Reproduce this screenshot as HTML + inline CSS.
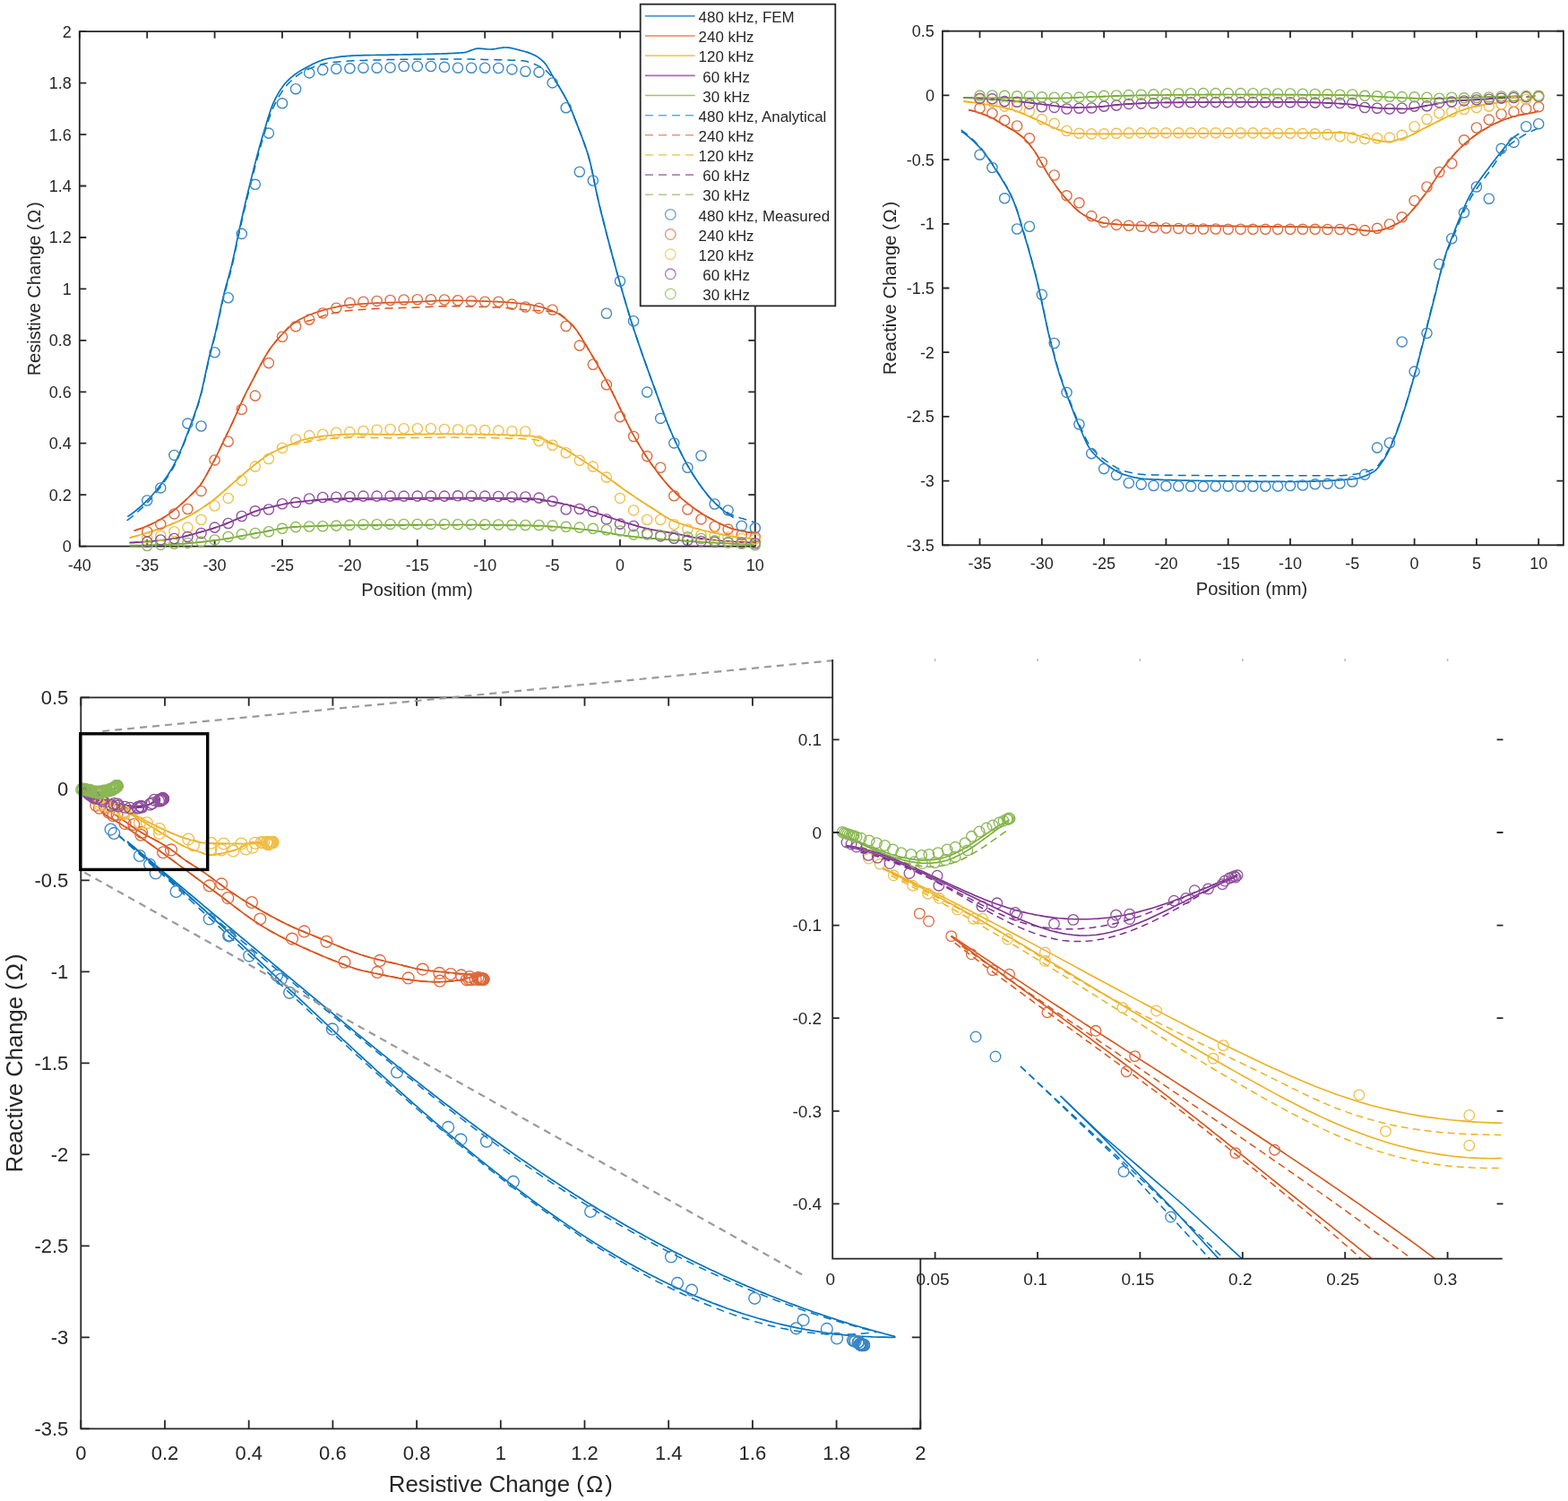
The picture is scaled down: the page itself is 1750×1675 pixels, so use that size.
<!DOCTYPE html>
<html><head><meta charset="utf-8"><title>Figure</title>
<style>html,body{margin:0;padding:0;background:#fff;}svg{display:block;}</style></head>
<body><svg width="1750" height="1675" viewBox="0 0 1750 1675" font-family="'Liberation Sans', sans-serif">
<rect width="1750" height="1675" fill="#fff"/>
<path d="M714.7 35.2L88.8 35.2L88.8 609.6L842.8 609.6L842.8 341.4" fill="none" stroke="#262626" stroke-width="1.8"/>
<path d="M88.8 609.6L88.8 602.1M88.8 35.2L88.8 42.7M164.2 609.6L164.2 602.1M164.2 35.2L164.2 42.7M239.6 609.6L239.6 602.1M239.6 35.2L239.6 42.7M315.0 609.6L315.0 602.1M315.0 35.2L315.0 42.7M390.4 609.6L390.4 602.1M390.4 35.2L390.4 42.7M465.8 609.6L465.8 602.1M465.8 35.2L465.8 42.7M541.2 609.6L541.2 602.1M541.2 35.2L541.2 42.7M616.6 609.6L616.6 602.1M616.6 35.2L616.6 42.7M692.0 609.6L692.0 602.1M692.0 35.2L692.0 42.7M767.4 609.6L767.4 602.1M767.4 35.2L767.4 42.7M842.8 609.6L842.8 602.1M842.8 35.2L842.8 42.7M88.8 609.6L96.3 609.6M842.8 609.6L835.3 609.6M88.8 552.2L96.3 552.2M842.8 552.2L835.3 552.2M88.8 494.7L96.3 494.7M842.8 494.7L835.3 494.7M88.8 437.3L96.3 437.3M842.8 437.3L835.3 437.3M88.8 379.8L96.3 379.8M842.8 379.8L835.3 379.8M88.8 322.4L96.3 322.4M842.8 322.4L835.3 322.4M88.8 265.0L96.3 265.0M842.8 265.0L835.3 265.0M88.8 207.5L96.3 207.5M842.8 207.5L835.3 207.5M88.8 150.1L96.3 150.1M842.8 150.1L835.3 150.1M88.8 92.6L96.3 92.6M842.8 92.6L835.3 92.6M88.8 35.2L96.3 35.2M842.8 35.2L835.3 35.2" stroke="#262626" stroke-width="1.80" fill="none"/>
<path d="M142.3 576.6L143.8 575.6L145.4 574.5L146.9 573.5L148.4 572.3L149.9 571.2L151.4 570.0L152.9 568.7L154.4 567.5L155.9 566.2L157.4 564.8L158.9 563.5L160.4 562.1L161.9 560.6L163.4 559.2L165.0 557.7L166.5 556.2L168.0 554.6L169.5 553.0L171.0 551.3L172.5 549.5L174.0 547.8L175.5 545.9L177.0 544.1L178.5 542.1L180.0 540.2L181.5 538.2L183.1 536.1L184.6 534.0L186.1 531.9L187.6 529.7L189.1 527.3L190.6 524.9L192.1 522.4L193.6 519.7L195.1 516.9L196.6 513.9L198.1 510.7L199.6 507.3L201.1 503.9L202.7 500.3L204.2 496.6L205.7 492.8L207.2 488.9L208.7 485.0L210.2 481.1L211.7 477.1L213.2 473.1L214.7 469.1L216.2 464.9L217.7 460.6L219.2 456.2L220.8 451.5L222.3 446.6L223.8 441.3L225.3 435.4L226.8 428.9L228.3 422.0L229.8 414.9L231.3 407.9L232.8 401.2L234.3 395.1L235.8 389.2L237.3 383.4L238.8 377.6L240.4 371.4L241.9 364.8L243.4 357.9L244.9 350.9L246.4 343.8L247.9 336.9L249.4 330.4L250.9 324.3L252.4 318.7L253.9 313.4L255.4 308.0L256.9 302.4L258.5 296.3L260.0 289.8L261.5 282.9L263.0 275.9L264.5 268.7L266.0 261.6L267.5 254.5L269.0 247.6L270.5 241.0L272.0 234.5L273.5 228.0L275.0 221.5L276.5 215.2L278.1 208.9L279.6 202.7L281.1 196.6L282.6 190.6L284.1 184.8L285.6 179.0L287.1 173.3L288.6 167.7L290.1 162.2L291.6 156.9L293.1 151.7L294.6 146.7L296.2 141.7L297.7 136.6L299.2 131.6L300.7 126.9L302.2 122.4L303.7 118.3L305.2 114.6L306.7 111.5L308.2 108.6L309.7 105.8L311.2 103.2L312.7 100.7L314.2 98.4L315.8 96.3L317.3 94.3L318.8 92.5L320.3 90.8L321.8 89.3L323.3 87.9L324.8 86.6L326.3 85.3L327.8 84.1L329.3 83.0L330.8 81.9L332.3 80.9L333.9 79.9L335.4 79.0L336.9 78.1L338.4 77.3L339.9 76.4L341.4 75.6L342.9 74.8L344.4 74.0L345.9 73.2L347.4 72.4L348.9 71.6L350.4 70.9L351.9 70.2L353.5 69.5L355.0 68.9L356.5 68.2L358.0 67.7L359.5 67.1L361.0 66.6L362.5 66.2L364.0 65.8L365.5 65.5L367.0 65.2L368.5 65.0L370.0 64.7L371.6 64.5L373.1 64.3L374.6 64.0L376.1 63.8L377.6 63.6L379.1 63.4L380.6 63.2L382.1 63.1L383.6 62.9L385.1 62.8L386.6 62.6L388.1 62.5L389.6 62.4L391.2 62.3L392.7 62.2L394.2 62.1L395.7 62.0L397.2 61.9L398.7 61.9L400.2 61.8L401.7 61.8L403.2 61.8L404.7 61.7L406.2 61.7L407.7 61.6L409.3 61.6L410.8 61.6L412.3 61.6L413.8 61.5L415.3 61.5L416.8 61.5L418.3 61.5L419.8 61.4L421.3 61.4L422.8 61.4L424.3 61.4L425.8 61.4L427.3 61.3L428.9 61.3L430.4 61.3L431.9 61.3L433.4 61.3L434.9 61.2L436.4 61.2L437.9 61.2L439.4 61.2L440.9 61.1L442.4 61.1L443.9 61.1L445.4 61.0L447.0 61.0L448.5 61.0L450.0 60.9L451.5 60.9L453.0 60.9L454.5 60.8L456.0 60.8L457.5 60.8L459.0 60.8L460.5 60.7L462.0 60.7L463.5 60.7L465.0 60.6L466.6 60.6L468.1 60.6L469.6 60.6L471.1 60.5L472.6 60.5L474.1 60.5L475.6 60.4L477.1 60.4L478.6 60.4L480.1 60.3L481.6 60.3L483.1 60.3L484.7 60.2L486.2 60.2L487.7 60.1L489.2 60.1L490.7 60.0L492.2 60.0L493.7 59.9L495.2 59.9L496.7 59.8L498.2 59.8L499.7 59.7L501.2 59.6L502.7 59.6L504.3 59.5L505.8 59.4L507.3 59.3L508.8 59.3L510.3 59.2L511.8 59.1L513.3 59.0L514.8 58.9L516.3 58.8L517.8 58.7L519.3 58.4L520.8 58.0L522.4 57.5L523.9 56.9L525.4 56.3L526.9 55.7L528.4 55.2L529.9 54.7L531.4 54.4L532.9 54.2L534.4 54.2L535.9 54.2L537.4 54.3L538.9 54.4L540.4 54.6L542.0 54.7L543.5 54.9L545.0 55.0L546.5 55.0L548.0 55.0L549.5 54.9L551.0 54.8L552.5 54.5L554.0 54.3L555.5 54.0L557.0 53.7L558.5 53.5L560.1 53.3L561.6 53.1L563.1 53.0L564.6 53.0L566.1 53.1L567.6 53.2L569.1 53.4L570.6 53.7L572.1 54.0L573.6 54.3L575.1 54.7L576.6 55.1L578.1 55.5L579.7 55.9L581.2 56.3L582.7 56.6L584.2 57.0L585.7 57.5L587.2 57.9L588.7 58.4L590.2 58.9L591.7 59.4L593.2 60.1L594.7 60.7L596.2 61.4L597.8 62.2L599.3 63.1L600.8 64.1L602.3 65.2L603.8 66.4L605.3 67.8L606.8 69.2L608.3 70.8L609.8 72.8L611.3 75.1L612.8 77.7L614.3 80.4L615.8 83.2L617.4 85.9L618.9 88.4L620.4 90.9L621.9 93.4L623.4 95.8L624.9 98.2L626.4 100.7L627.9 103.3L629.4 105.9L630.9 108.6L632.4 111.5L633.9 114.5L635.5 117.7L637.0 121.1L638.5 124.6L640.0 128.4L641.5 132.2L643.0 136.1L644.5 140.1L646.0 144.0L647.5 147.9L649.0 151.8L650.5 155.8L652.0 159.9L653.5 164.2L655.1 168.7L656.6 173.6L658.1 179.0L659.6 185.2L661.1 192.0L662.6 199.3L664.1 206.7L665.6 214.0L667.1 220.9L668.6 227.3L670.1 233.6L671.6 239.7L673.2 245.8L674.7 251.8L676.2 257.7L677.7 263.5L679.2 269.3L680.7 275.0L682.2 280.6L683.7 286.2L685.2 291.8L686.7 297.3L688.2 302.7L689.7 308.2L691.2 313.5L692.8 318.9L694.3 324.2L695.8 329.4L697.3 334.6L698.8 339.7L700.3 344.7L701.8 349.7L703.3 354.6L704.8 359.4L706.3 364.1L707.8 368.8L709.3 373.3L710.9 377.9L712.4 382.3L713.9 386.7L715.4 391.1L716.9 395.4L718.4 399.7L719.9 403.9L721.4 408.1L722.9 412.3L724.4 416.5L725.9 420.7L727.4 424.8L728.9 428.9L730.5 433.1L732.0 437.2L733.5 441.4L735.0 445.6L736.5 449.7L738.0 453.8L739.5 457.9L741.0 462.0L742.5 466.0L744.0 469.9L745.5 473.7L747.0 477.4L748.6 481.0L750.1 484.5L751.6 487.9L753.1 491.1L754.6 494.4L756.1 497.5L757.6 500.7L759.1 503.7L760.6 506.7L762.1 509.7L763.6 512.5L765.1 515.3L766.6 518.1L768.2 520.7L769.7 523.3L771.2 525.9L772.7 528.3L774.2 530.7L775.7 533.0L777.2 535.3L778.7 537.5L780.2 539.7L781.7 541.8L783.2 543.9L784.7 546.0L786.3 548.0L787.8 549.9L789.3 551.8L790.8 553.6L792.3 555.4L793.8 557.1L795.3 558.7L796.8 560.2L798.3 561.7L799.8 563.1L801.3 564.5L802.8 565.9L804.3 567.2L805.9 568.5L807.4 569.7L808.9 570.9L810.4 572.1L811.9 573.2L813.4 574.2L814.9 575.2L816.4 576.1L817.9 577.0L818.7 577.4" fill="none" stroke="#0072BD" stroke-width="1.70" stroke-linejoin="round"/>
<path d="M149.6 592.1L151.1 591.7L152.6 591.2L154.1 590.8L155.6 590.3L157.1 589.8L158.6 589.2L160.1 588.6L161.6 588.0L163.1 587.4L164.7 586.8L166.2 586.1L167.7 585.4L169.2 584.7L170.7 584.0L172.2 583.3L173.7 582.5L175.2 581.8L176.7 581.0L178.2 580.2L179.7 579.3L181.2 578.4L182.7 577.5L184.3 576.5L185.8 575.5L187.3 574.4L188.8 573.3L190.3 572.3L191.8 571.1L193.3 570.0L194.8 568.9L196.3 567.7L197.8 566.5L199.3 565.2L200.8 563.9L202.4 562.5L203.9 561.2L205.4 559.8L206.9 558.4L208.4 556.9L209.9 555.5L211.4 554.0L212.9 552.6L214.4 551.1L215.9 549.6L217.4 548.1L218.9 546.5L220.4 544.8L222.0 543.1L223.5 541.2L225.0 539.1L226.5 536.8L228.0 534.3L229.5 531.7L231.0 529.0L232.5 526.2L234.0 523.4L235.5 520.6L237.0 517.7L238.5 514.8L240.1 511.8L241.6 508.8L243.1 505.7L244.6 502.6L246.1 499.5L247.6 496.4L249.1 493.3L250.6 490.2L252.1 487.1L253.6 483.9L255.1 480.8L256.6 477.6L258.1 474.3L259.7 471.1L261.2 467.8L262.7 464.4L264.2 461.0L265.7 457.6L267.2 454.2L268.7 450.8L270.2 447.6L271.7 444.4L273.2 441.3L274.7 438.2L276.2 435.2L277.8 432.3L279.3 429.3L280.8 426.4L282.3 423.5L283.8 420.6L285.3 417.7L286.8 414.8L288.3 412.0L289.8 409.2L291.3 406.4L292.8 403.7L294.3 401.0L295.8 398.2L297.4 395.6L298.9 393.1L300.4 390.8L301.9 388.6L303.4 386.6L304.9 384.6L306.4 382.7L307.9 380.9L309.4 379.1L310.9 377.4L312.4 375.7L313.9 374.1L315.5 372.5L317.0 370.9L318.5 369.3L320.0 367.8L321.5 366.3L323.0 364.8L324.5 363.5L326.0 362.2L327.5 361.0L329.0 359.9L330.5 358.9L332.0 358.0L333.5 357.1L335.1 356.2L336.6 355.4L338.1 354.7L339.6 353.9L341.1 353.2L342.6 352.6L344.1 352.0L345.6 351.3L347.1 350.7L348.6 350.2L350.1 349.6L351.6 349.1L353.2 348.5L354.7 348.0L356.2 347.5L357.7 347.1L359.2 346.6L360.7 346.2L362.2 345.8L363.7 345.4L365.2 345.0L366.7 344.6L368.2 344.2L369.7 343.8L371.2 343.5L372.8 343.1L374.3 342.8L375.8 342.5L377.3 342.2L378.8 341.9L380.3 341.6L381.8 341.3L383.3 341.1L384.8 340.9L386.3 340.7L387.8 340.6L389.3 340.4L390.9 340.2L392.4 340.1L393.9 340.0L395.4 339.8L396.9 339.7L398.4 339.6L399.9 339.4L401.4 339.3L402.9 339.2L404.4 339.1L405.9 339.0L407.4 338.9L408.9 338.8L410.5 338.7L412.0 338.6L413.5 338.5L415.0 338.5L416.5 338.4L418.0 338.3L419.5 338.2L421.0 338.2L422.5 338.1L424.0 338.0L425.5 338.0L427.0 337.9L428.6 337.9L430.1 337.8L431.6 337.8L433.1 337.7L434.6 337.7L436.1 337.6L437.6 337.6L439.1 337.5L440.6 337.5L442.1 337.5L443.6 337.4L445.1 337.4L446.6 337.3L448.2 337.3L449.7 337.3L451.2 337.2L452.7 337.2L454.2 337.1L455.7 337.1L457.2 337.0L458.7 337.0L460.2 336.9L461.7 336.9L463.2 336.8L464.7 336.8L466.3 336.7L467.8 336.7L469.3 336.6L470.8 336.5L472.3 336.5L473.8 336.4L475.3 336.3L476.8 336.2L478.3 336.1L479.8 336.1L481.3 336.0L482.8 335.9L484.3 335.8L485.9 335.7L487.4 335.7L488.9 335.6L490.4 335.5L491.9 335.5L493.4 335.4L494.9 335.4L496.4 335.4L497.9 335.3L499.4 335.3L500.9 335.3L502.4 335.3L504.0 335.3L505.5 335.3L507.0 335.3L508.5 335.4L510.0 335.4L511.5 335.4L513.0 335.4L514.5 335.4L516.0 335.5L517.5 335.5L519.0 335.5L520.5 335.6L522.0 335.6L523.6 335.6L525.1 335.7L526.6 335.7L528.1 335.7L529.6 335.8L531.1 335.8L532.6 335.9L534.1 335.9L535.6 336.0L537.1 336.0L538.6 336.1L540.1 336.1L541.7 336.2L543.2 336.2L544.7 336.3L546.2 336.4L547.7 336.4L549.2 336.5L550.7 336.5L552.2 336.6L553.7 336.7L555.2 336.7L556.7 336.8L558.2 336.8L559.7 336.9L561.3 337.0L562.8 337.1L564.3 337.2L565.8 337.3L567.3 337.4L568.8 337.5L570.3 337.6L571.8 337.8L573.3 337.9L574.8 338.0L576.3 338.2L577.8 338.3L579.4 338.5L580.9 338.6L582.4 338.8L583.9 339.0L585.4 339.2L586.9 339.4L588.4 339.6L589.9 339.8L591.4 340.0L592.9 340.2L594.4 340.5L595.9 340.8L597.4 341.1L599.0 341.4L600.5 341.8L602.0 342.1L603.5 342.5L605.0 343.0L606.5 343.4L608.0 343.9L609.5 344.4L611.0 344.9L612.5 345.5L614.0 346.0L615.5 346.6L617.1 347.2L618.6 347.8L620.1 348.5L621.6 349.3L623.1 350.1L624.6 351.0L626.1 352.0L627.6 353.1L629.1 354.2L630.6 355.4L632.1 356.6L633.6 357.9L635.1 359.3L636.7 360.7L638.2 362.2L639.7 363.8L641.2 365.6L642.7 367.5L644.2 369.6L645.7 371.8L647.2 374.1L648.7 376.4L650.2 378.9L651.7 381.4L653.2 383.9L654.8 386.5L656.3 389.1L657.8 391.6L659.3 394.2L660.8 396.7L662.3 399.2L663.8 401.8L665.3 404.4L666.8 407.0L668.3 409.7L669.8 412.4L671.3 415.1L672.8 417.9L674.4 420.7L675.9 423.5L677.4 426.4L678.9 429.2L680.4 432.1L681.9 435.0L683.4 437.9L684.9 440.8L686.4 443.9L687.9 447.0L689.4 450.1L690.9 453.3L692.5 456.5L694.0 459.7L695.5 462.9L697.0 466.0L698.5 469.2L700.0 472.2L701.5 475.2L703.0 478.2L704.5 481.0L706.0 483.8L707.5 486.4L709.0 489.1L710.5 491.7L712.1 494.3L713.6 496.9L715.1 499.4L716.6 501.8L718.1 504.3L719.6 506.7L721.1 509.0L722.6 511.3L724.1 513.6L725.6 515.8L727.1 517.9L728.6 520.0L730.2 522.1L731.7 524.2L733.2 526.2L734.7 528.2L736.2 530.1L737.7 532.0L739.2 533.9L740.7 535.8L742.2 537.6L743.7 539.3L745.2 541.1L746.7 542.7L748.2 544.4L749.8 545.9L751.3 547.4L752.8 548.9L754.3 550.4L755.8 551.8L757.3 553.2L758.8 554.5L760.3 555.9L761.8 557.2L763.3 558.4L764.8 559.7L766.3 560.9L767.9 562.1L769.4 563.3L770.9 564.4L772.4 565.5L773.9 566.6L775.4 567.7L776.9 568.8L778.4 569.8L779.9 570.8L781.4 571.8L782.9 572.8L784.4 573.7L785.9 574.7L787.5 575.6L789.0 576.5L790.5 577.3L792.0 578.2L793.5 579.0L795.0 579.8L796.5 580.6L798.0 581.4L799.5 582.2L801.0 582.9L802.5 583.7L804.0 584.5L805.6 585.2L807.1 585.9L808.6 586.6L810.1 587.3L811.6 587.9L813.1 588.5L814.6 589.1L816.1 589.6L817.6 590.1L819.1 590.5L820.6 590.9L822.1 591.2L823.6 591.6L825.2 592.0L826.7 592.3L828.2 592.6L829.7 592.9L831.2 593.2L832.7 593.5L834.2 593.8L835.7 594.0L837.2 594.2L838.7 594.4L840.2 594.5L841.7 594.6L842.8 594.7" fill="none" stroke="#D95319" stroke-width="1.70" stroke-linejoin="round"/>
<path d="M144.6 600.1L146.1 599.7L147.6 599.3L149.1 598.9L150.6 598.5L152.1 598.1L153.6 597.7L155.2 597.2L156.7 596.8L158.2 596.3L159.7 595.9L161.2 595.4L162.7 595.0L164.2 594.5L165.7 594.0L167.2 593.6L168.7 593.1L170.2 592.6L171.7 592.1L173.2 591.6L174.8 591.1L176.3 590.6L177.8 590.1L179.3 589.5L180.8 589.0L182.3 588.4L183.8 587.9L185.3 587.3L186.8 586.7L188.3 586.2L189.8 585.6L191.3 585.0L192.9 584.3L194.4 583.7L195.9 583.0L197.4 582.4L198.9 581.7L200.4 581.0L201.9 580.3L203.4 579.6L204.9 578.8L206.4 578.1L207.9 577.3L209.4 576.5L210.9 575.7L212.5 574.9L214.0 574.1L215.5 573.2L217.0 572.3L218.5 571.4L220.0 570.5L221.5 569.6L223.0 568.6L224.5 567.6L226.0 566.6L227.5 565.6L229.0 564.5L230.6 563.5L232.1 562.4L233.6 561.3L235.1 560.2L236.6 559.1L238.1 558.0L239.6 556.8L241.1 555.6L242.6 554.3L244.1 553.1L245.6 551.8L247.1 550.5L248.6 549.2L250.2 547.8L251.7 546.5L253.2 545.2L254.7 543.8L256.2 542.5L257.7 541.2L259.2 539.9L260.7 538.7L262.2 537.4L263.7 536.1L265.2 534.8L266.7 533.4L268.3 532.1L269.8 530.8L271.3 529.5L272.8 528.2L274.3 526.9L275.8 525.6L277.3 524.3L278.8 523.1L280.3 521.8L281.8 520.6L283.3 519.4L284.8 518.2L286.3 517.0L287.9 515.8L289.4 514.6L290.9 513.4L292.4 512.3L293.9 511.2L295.4 510.1L296.9 509.0L298.4 508.1L299.9 507.2L301.4 506.3L302.9 505.5L304.4 504.7L306.0 503.9L307.5 503.2L309.0 502.5L310.5 501.8L312.0 501.1L313.5 500.4L315.0 499.8L316.5 499.2L318.0 498.5L319.5 497.9L321.0 497.3L322.5 496.7L324.0 496.1L325.6 495.5L327.1 494.9L328.6 494.3L330.1 493.7L331.6 493.1L333.1 492.6L334.6 492.0L336.1 491.5L337.6 491.0L339.1 490.6L340.6 490.2L342.1 489.8L343.7 489.5L345.2 489.2L346.7 488.9L348.2 488.6L349.7 488.3L351.2 488.1L352.7 487.8L354.2 487.6L355.7 487.4L357.2 487.1L358.7 486.9L360.2 486.7L361.7 486.5L363.3 486.3L364.8 486.2L366.3 486.0L367.8 485.9L369.3 485.8L370.8 485.6L372.3 485.5L373.8 485.4L375.3 485.3L376.8 485.2L378.3 485.1L379.8 485.1L381.4 485.0L382.9 484.9L384.4 484.8L385.9 484.7L387.4 484.7L388.9 484.6L390.4 484.5L391.9 484.5L393.4 484.5L394.9 484.4L396.4 484.4L397.9 484.4L399.4 484.4L401.0 484.4L402.5 484.4L404.0 484.4L405.5 484.4L407.0 484.4L408.5 484.5L410.0 484.5L411.5 484.5L413.0 484.6L414.5 484.6L416.0 484.6L417.5 484.7L419.1 484.7L420.6 484.7L422.1 484.8L423.6 484.8L425.1 484.8L426.6 484.8L428.1 484.9L429.6 484.9L431.1 484.9L432.6 484.9L434.1 484.9L435.6 485.0L437.1 485.0L438.7 485.0L440.2 485.0L441.7 484.9L443.2 484.9L444.7 484.9L446.2 484.9L447.7 484.9L449.2 484.9L450.7 484.9L452.2 484.9L453.7 484.9L455.2 484.8L456.8 484.8L458.3 484.8L459.8 484.8L461.3 484.8L462.8 484.7L464.3 484.7L465.8 484.7L467.3 484.7L468.8 484.7L470.3 484.6L471.8 484.6L473.3 484.6L474.8 484.6L476.4 484.6L477.9 484.5L479.4 484.5L480.9 484.5L482.4 484.5L483.9 484.5L485.4 484.5L486.9 484.4L488.4 484.4L489.9 484.4L491.4 484.4L492.9 484.4L494.5 484.4L496.0 484.4L497.5 484.4L499.0 484.4L500.5 484.4L502.0 484.4L503.5 484.4L505.0 484.4L506.5 484.4L508.0 484.4L509.5 484.4L511.0 484.4L512.5 484.4L514.1 484.4L515.6 484.4L517.1 484.4L518.6 484.5L520.1 484.5L521.6 484.5L523.1 484.5L524.6 484.5L526.1 484.5L527.6 484.5L529.1 484.6L530.6 484.6L532.2 484.6L533.7 484.6L535.2 484.6L536.7 484.7L538.2 484.7L539.7 484.7L541.2 484.7L542.7 484.8L544.2 484.8L545.7 484.8L547.2 484.9L548.7 484.9L550.2 484.9L551.8 485.0L553.3 485.0L554.8 485.1L556.3 485.1L557.8 485.1L559.3 485.2L560.8 485.2L562.3 485.3L563.8 485.3L565.3 485.4L566.8 485.4L568.3 485.5L569.9 485.5L571.4 485.6L572.9 485.6L574.4 485.7L575.9 485.7L577.4 485.8L578.9 485.9L580.4 485.9L581.9 486.0L583.4 486.0L584.9 486.1L586.4 486.2L587.9 486.2L589.5 486.3L591.0 486.4L592.5 486.5L594.0 486.7L595.5 486.9L597.0 487.2L598.5 487.6L600.0 488.0L601.5 488.4L603.0 488.9L604.5 489.4L606.0 490.0L607.6 490.6L609.1 491.2L610.6 491.9L612.1 492.6L613.6 493.3L615.1 494.0L616.6 494.7L618.1 495.4L619.6 496.2L621.1 496.9L622.6 497.6L624.1 498.3L625.6 499.0L627.2 499.7L628.7 500.5L630.2 501.3L631.7 502.1L633.2 503.0L634.7 503.9L636.2 504.8L637.7 505.8L639.2 506.7L640.7 507.7L642.2 508.6L643.7 509.6L645.3 510.6L646.8 511.6L648.3 512.5L649.8 513.5L651.3 514.5L652.8 515.4L654.3 516.4L655.8 517.4L657.3 518.4L658.8 519.5L660.3 520.5L661.8 521.5L663.3 522.5L664.9 523.6L666.4 524.6L667.9 525.7L669.4 526.7L670.9 527.7L672.4 528.8L673.9 529.9L675.4 530.9L676.9 532.0L678.4 533.1L679.9 534.2L681.4 535.3L683.0 536.4L684.5 537.5L686.0 538.6L687.5 539.7L689.0 540.9L690.5 542.0L692.0 543.0L693.5 544.1L695.0 545.2L696.5 546.3L698.0 547.4L699.5 548.4L701.0 549.4L702.6 550.5L704.1 551.5L705.6 552.5L707.1 553.5L708.6 554.6L710.1 555.6L711.6 556.6L713.1 557.6L714.6 558.6L716.1 559.6L717.6 560.5L719.1 561.5L720.7 562.5L722.2 563.5L723.7 564.4L725.2 565.4L726.7 566.3L728.2 567.3L729.7 568.3L731.2 569.3L732.7 570.3L734.2 571.3L735.7 572.3L737.2 573.2L738.7 574.2L740.3 575.1L741.8 576.1L743.3 577.0L744.8 577.8L746.3 578.7L747.8 579.5L749.3 580.2L750.8 580.9L752.3 581.6L753.8 582.2L755.3 582.8L756.8 583.4L758.4 583.9L759.9 584.5L761.4 585.0L762.9 585.5L764.4 586.0L765.9 586.5L767.4 587.0L768.9 587.4L770.4 587.9L771.9 588.3L773.4 588.8L774.9 589.2L776.4 589.6L778.0 590.0L779.5 590.4L781.0 590.8L782.5 591.2L784.0 591.6L785.5 592.0L787.0 592.4L788.5 592.7L790.0 593.1L791.5 593.4L793.0 593.8L794.5 594.1L796.1 594.4L797.6 594.7L799.1 595.1L800.6 595.4L802.1 595.7L803.6 596.0L805.1 596.3L806.6 596.6L808.1 596.9L809.6 597.2L811.1 597.5L812.6 597.7L814.1 598.0L815.7 598.3L817.2 598.6L818.7 598.8L820.2 599.1L821.7 599.3L823.2 599.5L824.7 599.7L826.2 599.9L827.7 600.0L829.2 600.2L830.7 600.3L832.2 600.4L833.8 600.5L835.3 600.6L836.8 600.7L838.3 600.8L839.8 600.9L841.3 600.9L842.8 601.0" fill="none" stroke="#EDB120" stroke-width="1.70" stroke-linejoin="round"/>
<path d="M144.6 605.6L146.1 605.5L147.6 605.5L149.1 605.4L150.6 605.3L152.1 605.2L153.6 605.1L155.2 605.1L156.7 605.0L158.2 604.8L159.7 604.7L161.2 604.6L162.7 604.5L164.2 604.4L165.7 604.3L167.2 604.1L168.7 604.0L170.2 603.9L171.7 603.7L173.2 603.6L174.8 603.4L176.3 603.3L177.8 603.1L179.3 603.0L180.8 602.8L182.3 602.6L183.8 602.4L185.3 602.2L186.8 602.0L188.3 601.8L189.8 601.6L191.3 601.4L192.9 601.1L194.4 600.9L195.9 600.7L197.4 600.4L198.9 600.1L200.4 599.8L201.9 599.5L203.4 599.2L204.9 598.9L206.4 598.5L207.9 598.1L209.4 597.7L210.9 597.3L212.5 596.9L214.0 596.5L215.5 596.1L217.0 595.6L218.5 595.2L220.0 594.8L221.5 594.4L223.0 594.0L224.5 593.5L226.0 593.1L227.5 592.7L229.0 592.2L230.6 591.8L232.1 591.4L233.6 590.9L235.1 590.4L236.6 590.0L238.1 589.5L239.6 589.0L241.1 588.5L242.6 588.0L244.1 587.5L245.6 586.9L247.1 586.4L248.6 585.8L250.2 585.2L251.7 584.6L253.2 584.0L254.7 583.4L256.2 582.7L257.7 582.1L259.2 581.5L260.7 580.8L262.2 580.2L263.7 579.5L265.2 578.9L266.7 578.3L268.3 577.7L269.8 577.0L271.3 576.4L272.8 575.7L274.3 575.1L275.8 574.4L277.3 573.7L278.8 573.1L280.3 572.4L281.8 571.8L283.3 571.2L284.8 570.6L286.3 570.1L287.9 569.6L289.4 569.1L290.9 568.7L292.4 568.2L293.9 567.8L295.4 567.4L296.9 567.0L298.4 566.7L299.9 566.3L301.4 566.0L302.9 565.6L304.4 565.3L306.0 565.0L307.5 564.6L309.0 564.3L310.5 564.0L312.0 563.7L313.5 563.4L315.0 563.0L316.5 562.7L318.0 562.4L319.5 562.1L321.0 561.8L322.5 561.5L324.0 561.2L325.6 560.9L327.1 560.7L328.6 560.5L330.1 560.3L331.6 560.1L333.1 560.0L334.6 559.8L336.1 559.6L337.6 559.5L339.1 559.3L340.6 559.1L342.1 559.0L343.7 558.8L345.2 558.7L346.7 558.5L348.2 558.4L349.7 558.2L351.2 558.1L352.7 557.9L354.2 557.8L355.7 557.7L357.2 557.6L358.7 557.4L360.2 557.3L361.7 557.2L363.3 557.1L364.8 557.0L366.3 556.9L367.8 556.8L369.3 556.7L370.8 556.6L372.3 556.6L373.8 556.5L375.3 556.4L376.8 556.4L378.3 556.3L379.8 556.3L381.4 556.3L382.9 556.2L384.4 556.2L385.9 556.2L387.4 556.2L388.9 556.2L390.4 556.1L391.9 556.1L393.4 556.1L394.9 556.1L396.4 556.1L397.9 556.1L399.4 556.1L401.0 556.1L402.5 556.1L404.0 556.1L405.5 556.1L407.0 556.1L408.5 556.0L410.0 556.0L411.5 556.0L413.0 556.0L414.5 556.0L416.0 556.0L417.5 556.0L419.1 556.0L420.6 556.0L422.1 556.0L423.6 556.0L425.1 556.0L426.6 556.0L428.1 556.0L429.6 556.0L431.1 556.0L432.6 556.0L434.1 556.0L435.6 556.0L437.1 555.9L438.7 555.9L440.2 555.9L441.7 555.9L443.2 555.9L444.7 555.9L446.2 555.9L447.7 555.9L449.2 555.9L450.7 555.9L452.2 555.9L453.7 555.9L455.2 555.9L456.8 555.9L458.3 555.8L459.8 555.8L461.3 555.8L462.8 555.8L464.3 555.8L465.8 555.8L467.3 555.8L468.8 555.8L470.3 555.8L471.8 555.7L473.3 555.7L474.8 555.7L476.4 555.7L477.9 555.7L479.4 555.7L480.9 555.7L482.4 555.7L483.9 555.7L485.4 555.7L486.9 555.6L488.4 555.6L489.9 555.6L491.4 555.6L492.9 555.6L494.5 555.6L496.0 555.6L497.5 555.6L499.0 555.6L500.5 555.6L502.0 555.6L503.5 555.6L505.0 555.6L506.5 555.6L508.0 555.6L509.5 555.6L511.0 555.6L512.5 555.6L514.1 555.6L515.6 555.6L517.1 555.6L518.6 555.6L520.1 555.6L521.6 555.6L523.1 555.6L524.6 555.6L526.1 555.6L527.6 555.6L529.1 555.7L530.6 555.7L532.2 555.7L533.7 555.7L535.2 555.7L536.7 555.7L538.2 555.7L539.7 555.7L541.2 555.7L542.7 555.7L544.2 555.7L545.7 555.7L547.2 555.7L548.7 555.8L550.2 555.8L551.8 555.8L553.3 555.8L554.8 555.8L556.3 555.8L557.8 555.8L559.3 555.8L560.8 555.8L562.3 555.9L563.8 555.9L565.3 555.9L566.8 555.9L568.3 555.9L569.9 555.9L571.4 555.9L572.9 556.0L574.4 556.0L575.9 556.0L577.4 556.0L578.9 556.0L580.4 556.0L581.9 556.1L583.4 556.1L584.9 556.1L586.4 556.1L587.9 556.1L589.5 556.2L591.0 556.2L592.5 556.2L594.0 556.3L595.5 556.4L597.0 556.5L598.5 556.7L600.0 556.8L601.5 557.0L603.0 557.2L604.5 557.5L606.0 557.7L607.6 558.0L609.1 558.3L610.6 558.5L612.1 558.8L613.6 559.1L615.1 559.5L616.6 559.8L618.1 560.1L619.6 560.4L621.1 560.7L622.6 561.0L624.1 561.3L625.6 561.6L627.2 561.9L628.7 562.3L630.2 562.6L631.7 562.9L633.2 563.3L634.7 563.7L636.2 564.0L637.7 564.4L639.2 564.8L640.7 565.2L642.2 565.6L643.7 566.0L645.3 566.5L646.8 566.9L648.3 567.3L649.8 567.7L651.3 568.2L652.8 568.6L654.3 569.1L655.8 569.5L657.3 569.9L658.8 570.4L660.3 570.8L661.8 571.3L663.3 571.7L664.9 572.2L666.4 572.7L667.9 573.2L669.4 573.6L670.9 574.1L672.4 574.6L673.9 575.2L675.4 575.7L676.9 576.2L678.4 576.7L679.9 577.2L681.4 577.7L683.0 578.2L684.5 578.8L686.0 579.3L687.5 579.8L689.0 580.3L690.5 580.8L692.0 581.3L693.5 581.8L695.0 582.2L696.5 582.7L698.0 583.2L699.5 583.6L701.0 584.1L702.6 584.5L704.1 584.9L705.6 585.4L707.1 585.8L708.6 586.3L710.1 586.7L711.6 587.1L713.1 587.6L714.6 588.0L716.1 588.4L717.6 588.8L719.1 589.2L720.7 589.5L722.2 589.9L723.7 590.2L725.2 590.6L726.7 590.9L728.2 591.2L729.7 591.4L731.2 591.7L732.7 592.0L734.2 592.2L735.7 592.4L737.2 592.7L738.7 592.9L740.3 593.1L741.8 593.4L743.3 593.6L744.8 593.8L746.3 594.1L747.8 594.3L749.3 594.6L750.8 594.8L752.3 595.1L753.8 595.4L755.3 595.7L756.8 596.0L758.4 596.3L759.9 596.7L761.4 597.0L762.9 597.3L764.4 597.7L765.9 598.0L767.4 598.3L768.9 598.6L770.4 598.9L771.9 599.2L773.4 599.5L774.9 599.8L776.4 600.0L778.0 600.3L779.5 600.5L781.0 600.7L782.5 600.9L784.0 601.1L785.5 601.3L787.0 601.5L788.5 601.7L790.0 601.9L791.5 602.1L793.0 602.3L794.5 602.5L796.1 602.6L797.6 602.8L799.1 602.9L800.6 603.1L802.1 603.2L803.6 603.3L805.1 603.5L806.6 603.6L808.1 603.7L809.6 603.8L811.1 603.9L812.6 604.1L814.1 604.2L815.7 604.3L817.2 604.4L818.7 604.5L820.2 604.5L821.7 604.6L823.2 604.7L824.7 604.8L826.2 604.9L827.7 605.0L829.2 605.0L830.7 605.1L832.2 605.2L833.8 605.2L835.3 605.3L836.8 605.4L838.3 605.4L839.8 605.5L841.3 605.5L842.8 605.6" fill="none" stroke="#7E2F8E" stroke-width="1.70" stroke-linejoin="round"/>
<path d="M144.6 608.7L146.1 608.7L147.6 608.7L149.1 608.7L150.6 608.7L152.1 608.7L153.6 608.7L155.2 608.6L156.7 608.6L158.2 608.6L159.7 608.6L161.2 608.5L162.7 608.5L164.2 608.4L165.7 608.4L167.2 608.4L168.7 608.3L170.2 608.3L171.7 608.2L173.2 608.2L174.8 608.1L176.3 608.0L177.8 608.0L179.3 607.9L180.8 607.9L182.3 607.8L183.8 607.7L185.3 607.7L186.8 607.6L188.3 607.5L189.8 607.5L191.3 607.4L192.9 607.3L194.4 607.2L195.9 607.2L197.4 607.1L198.9 607.0L200.4 606.9L201.9 606.9L203.4 606.8L204.9 606.7L206.4 606.6L207.9 606.4L209.4 606.3L210.9 606.2L212.5 606.1L214.0 605.9L215.5 605.8L217.0 605.6L218.5 605.5L220.0 605.3L221.5 605.2L223.0 605.0L224.5 604.8L226.0 604.7L227.5 604.5L229.0 604.3L230.6 604.1L232.1 603.9L233.6 603.8L235.1 603.6L236.6 603.4L238.1 603.2L239.6 603.0L241.1 602.8L242.6 602.6L244.1 602.4L245.6 602.2L247.1 602.0L248.6 601.8L250.2 601.6L251.7 601.3L253.2 601.1L254.7 600.8L256.2 600.6L257.7 600.3L259.2 600.0L260.7 599.8L262.2 599.5L263.7 599.2L265.2 598.9L266.7 598.6L268.3 598.3L269.8 598.0L271.3 597.7L272.8 597.5L274.3 597.2L275.8 596.9L277.3 596.6L278.8 596.3L280.3 596.0L281.8 595.7L283.3 595.4L284.8 595.2L286.3 594.9L287.9 594.6L289.4 594.4L290.9 594.1L292.4 593.9L293.9 593.6L295.4 593.3L296.9 593.0L298.4 592.7L299.9 592.4L301.4 592.1L302.9 591.8L304.4 591.5L306.0 591.2L307.5 591.0L309.0 590.7L310.5 590.4L312.0 590.1L313.5 589.9L315.0 589.6L316.5 589.4L318.0 589.2L319.5 588.9L321.0 588.8L322.5 588.6L324.0 588.4L325.6 588.3L327.1 588.2L328.6 588.1L330.1 588.0L331.6 587.9L333.1 587.8L334.6 587.7L336.1 587.7L337.6 587.6L339.1 587.5L340.6 587.4L342.1 587.4L343.7 587.3L345.2 587.2L346.7 587.2L348.2 587.1L349.7 587.0L351.2 587.0L352.7 586.9L354.2 586.9L355.7 586.8L357.2 586.8L358.7 586.7L360.2 586.7L361.7 586.6L363.3 586.6L364.8 586.5L366.3 586.5L367.8 586.4L369.3 586.4L370.8 586.4L372.3 586.3L373.8 586.3L375.3 586.3L376.8 586.2L378.3 586.2L379.8 586.2L381.4 586.2L382.9 586.1L384.4 586.1L385.9 586.1L387.4 586.1L388.9 586.1L390.4 586.0L391.9 586.0L393.4 586.0L394.9 586.0L396.4 586.0L397.9 586.0L399.4 586.0L401.0 586.0L402.5 586.0L404.0 586.0L405.5 585.9L407.0 585.9L408.5 585.9L410.0 585.9L411.5 585.9L413.0 585.9L414.5 585.9L416.0 585.9L417.5 585.9L419.1 585.9L420.6 585.9L422.1 585.9L423.6 585.9L425.1 585.9L426.6 585.9L428.1 585.9L429.6 585.9L431.1 585.8L432.6 585.8L434.1 585.8L435.6 585.8L437.1 585.8L438.7 585.8L440.2 585.8L441.7 585.8L443.2 585.8L444.7 585.8L446.2 585.8L447.7 585.8L449.2 585.8L450.7 585.8L452.2 585.8L453.7 585.7L455.2 585.7L456.8 585.7L458.3 585.7L459.8 585.7L461.3 585.7L462.8 585.7L464.3 585.7L465.8 585.7L467.3 585.6L468.8 585.6L470.3 585.6L471.8 585.6L473.3 585.6L474.8 585.6L476.4 585.6L477.9 585.6L479.4 585.6L480.9 585.5L482.4 585.5L483.9 585.5L485.4 585.5L486.9 585.5L488.4 585.5L489.9 585.5L491.4 585.5L492.9 585.5L494.5 585.5L496.0 585.5L497.5 585.5L499.0 585.5L500.5 585.5L502.0 585.5L503.5 585.5L505.0 585.5L506.5 585.5L508.0 585.5L509.5 585.5L511.0 585.5L512.5 585.5L514.1 585.5L515.6 585.5L517.1 585.5L518.6 585.5L520.1 585.5L521.6 585.5L523.1 585.5L524.6 585.5L526.1 585.6L527.6 585.6L529.1 585.6L530.6 585.6L532.2 585.6L533.7 585.6L535.2 585.6L536.7 585.6L538.2 585.6L539.7 585.7L541.2 585.7L542.7 585.7L544.2 585.7L545.7 585.7L547.2 585.7L548.7 585.7L550.2 585.8L551.8 585.8L553.3 585.8L554.8 585.8L556.3 585.8L557.8 585.8L559.3 585.9L560.8 585.9L562.3 585.9L563.8 585.9L565.3 585.9L566.8 586.0L568.3 586.0L569.9 586.0L571.4 586.0L572.9 586.0L574.4 586.1L575.9 586.1L577.4 586.1L578.9 586.1L580.4 586.2L581.9 586.2L583.4 586.2L584.9 586.2L586.4 586.3L587.9 586.3L589.5 586.3L591.0 586.3L592.5 586.4L594.0 586.4L595.5 586.4L597.0 586.5L598.5 586.5L600.0 586.6L601.5 586.7L603.0 586.7L604.5 586.8L606.0 586.9L607.6 587.0L609.1 587.1L610.6 587.1L612.1 587.2L613.6 587.3L615.1 587.4L616.6 587.6L618.1 587.7L619.6 587.8L621.1 587.9L622.6 588.0L624.1 588.1L625.6 588.3L627.2 588.4L628.7 588.5L630.2 588.7L631.7 588.8L633.2 589.0L634.7 589.1L636.2 589.3L637.7 589.4L639.2 589.6L640.7 589.7L642.2 589.9L643.7 590.0L645.3 590.2L646.8 590.3L648.3 590.5L649.8 590.7L651.3 590.8L652.8 591.0L654.3 591.1L655.8 591.3L657.3 591.5L658.8 591.6L660.3 591.8L661.8 592.0L663.3 592.2L664.9 592.4L666.4 592.6L667.9 592.8L669.4 593.0L670.9 593.3L672.4 593.5L673.9 593.8L675.4 594.1L676.9 594.3L678.4 594.6L679.9 594.9L681.4 595.2L683.0 595.4L684.5 595.7L686.0 596.0L687.5 596.2L689.0 596.5L690.5 596.7L692.0 597.0L693.5 597.2L695.0 597.5L696.5 597.7L698.0 597.9L699.5 598.1L701.0 598.2L702.6 598.4L704.1 598.6L705.6 598.7L707.1 598.9L708.6 599.1L710.1 599.2L711.6 599.4L713.1 599.5L714.6 599.7L716.1 599.8L717.6 599.9L719.1 600.1L720.7 600.2L722.2 600.4L723.7 600.5L725.2 600.6L726.7 600.8L728.2 600.9L729.7 601.0L731.2 601.1L732.7 601.3L734.2 601.4L735.7 601.5L737.2 601.6L738.7 601.7L740.3 601.9L741.8 602.0L743.3 602.1L744.8 602.2L746.3 602.3L747.8 602.4L749.3 602.5L750.8 602.7L752.3 602.8L753.8 602.9L755.3 603.0L756.8 603.1L758.4 603.2L759.9 603.3L761.4 603.4L762.9 603.5L764.4 603.6L765.9 603.7L767.4 603.8L768.9 604.0L770.4 604.1L771.9 604.2L773.4 604.3L774.9 604.4L776.4 604.4L778.0 604.5L779.5 604.6L781.0 604.7L782.5 604.8L784.0 604.9L785.5 605.0L787.0 605.1L788.5 605.2L790.0 605.3L791.5 605.4L793.0 605.5L794.5 605.6L796.1 605.6L797.6 605.7L799.1 605.8L800.6 605.9L802.1 606.0L803.6 606.1L805.1 606.1L806.6 606.2L808.1 606.3L809.6 606.4L811.1 606.4L812.6 606.5L814.1 606.6L815.7 606.7L817.2 606.7L818.7 606.8L820.2 606.9L821.7 607.0L823.2 607.0L824.7 607.1L826.2 607.2L827.7 607.2L829.2 607.3L830.7 607.4L832.2 607.4L833.8 607.5L835.3 607.6L836.8 607.6L838.3 607.7L839.8 607.8L841.3 607.8L842.8 607.9" fill="none" stroke="#77AC30" stroke-width="1.70" stroke-linejoin="round"/>
<path d="M141.6 580.9L143.1 579.8L144.6 578.7L146.1 577.5L147.6 576.4L149.1 575.1L150.6 573.8L152.1 572.5L153.6 571.2L155.2 569.8L156.7 568.4L158.2 567.0L159.7 565.6L161.2 564.1L162.7 562.6L164.2 561.0L165.7 559.5L167.2 557.9L168.7 556.2L170.2 554.5L171.7 552.7L173.2 550.9L174.8 549.0L176.3 547.1L177.8 545.2L179.3 543.2L180.8 541.1L182.3 539.1L183.8 537.0L185.3 534.8L186.8 532.6L188.3 530.3L189.8 527.9L191.3 525.4L192.9 522.8L194.4 520.0L195.9 517.1L197.4 513.9L198.9 510.6L200.4 507.2L201.9 503.7L203.4 500.0L204.9 496.2L206.4 492.4L207.9 488.5L209.4 484.5L210.9 480.5L212.5 476.5L214.0 472.5L215.5 468.4L217.0 464.2L218.5 459.9L220.0 455.3L221.5 450.5L223.0 445.4L224.5 439.9L226.0 433.7L227.5 426.9L229.0 419.8L230.6 412.7L232.1 405.9L233.6 399.5L235.1 393.7L236.6 388.0L238.1 382.4L239.6 376.5L241.1 370.2L242.6 363.5L244.1 356.5L245.6 349.5L247.1 342.5L248.6 335.8L250.2 329.6L251.7 323.9L253.2 318.6L254.7 313.4L256.2 308.0L257.7 302.3L259.2 296.0L260.7 289.3L262.2 282.4L263.7 275.2L265.2 268.0L266.7 260.8L268.3 253.8L269.8 247.2L271.3 240.7L272.8 234.3L274.3 228.0L275.8 221.7L277.3 215.6L278.8 209.5L280.3 203.5L281.8 197.6L283.3 191.7L284.8 185.9L286.3 180.1L287.9 174.4L289.4 168.7L290.9 163.3L292.4 158.0L293.9 153.0L295.4 148.0L296.9 143.1L298.4 138.3L299.9 133.6L301.4 129.2L302.9 125.1L304.4 121.3L306.0 117.9L307.5 114.9L309.0 112.0L310.5 109.2L312.0 106.6L313.5 104.1L315.0 101.8L316.5 99.6L318.0 97.6L319.5 95.8L321.0 94.1L322.5 92.5L324.0 91.0L325.6 89.5L327.1 88.2L328.6 86.8L330.1 85.6L331.6 84.4L333.1 83.3L334.6 82.3L336.1 81.4L337.6 80.5L339.1 79.7L340.6 79.0L342.1 78.2L343.7 77.5L345.2 76.8L346.7 76.2L348.2 75.5L349.7 74.9L351.2 74.3L352.7 73.7L354.2 73.2L355.7 72.7L357.2 72.2L358.7 71.8L360.2 71.4L361.7 71.1L363.3 70.7L364.8 70.5L366.3 70.2L367.8 70.0L369.3 69.8L370.8 69.7L372.3 69.5L373.8 69.3L375.3 69.2L376.8 69.0L378.3 68.9L379.8 68.7L381.4 68.6L382.9 68.5L384.4 68.4L385.9 68.3L387.4 68.2L388.9 68.1L390.4 68.0L391.9 67.9L393.4 67.8L394.9 67.8L396.4 67.7L397.9 67.7L399.4 67.6L401.0 67.6L402.5 67.5L404.0 67.5L405.5 67.4L407.0 67.4L408.5 67.3L410.0 67.3L411.5 67.2L413.0 67.2L414.5 67.1L416.0 67.1L417.5 67.0L419.1 67.0L420.6 67.0L422.1 66.9L423.6 66.9L425.1 66.8L426.6 66.8L428.1 66.8L429.6 66.7L431.1 66.7L432.6 66.6L434.1 66.6L435.6 66.6L437.1 66.5L438.7 66.5L440.2 66.5L441.7 66.4L443.2 66.4L444.7 66.4L446.2 66.4L447.7 66.3L449.2 66.3L450.7 66.3L452.2 66.3L453.7 66.2L455.2 66.2L456.8 66.2L458.3 66.2L459.8 66.1L461.3 66.1L462.8 66.1L464.3 66.1L465.8 66.1L467.3 66.0L468.8 66.0L470.3 66.0L471.8 66.0L473.3 66.0L474.8 66.0L476.4 66.0L477.9 66.0L479.4 66.0L480.9 65.9L482.4 65.9L483.9 65.9L485.4 65.9L486.9 65.9L488.4 65.9L489.9 65.9L491.4 65.9L492.9 65.9L494.5 65.9L496.0 65.9L497.5 65.9L499.0 65.9L500.5 65.9L502.0 66.0L503.5 66.0L505.0 66.0L506.5 66.0L508.0 66.0L509.5 66.0L511.0 66.0L512.5 66.0L514.1 66.0L515.6 66.0L517.1 66.0L518.6 66.1L520.1 66.1L521.6 66.1L523.1 66.1L524.6 66.1L526.1 66.1L527.6 66.2L529.1 66.2L530.6 66.2L532.2 66.2L533.7 66.3L535.2 66.3L536.7 66.3L538.2 66.3L539.7 66.4L541.2 66.4L542.7 66.4L544.2 66.5L545.7 66.5L547.2 66.5L548.7 66.6L550.2 66.6L551.8 66.6L553.3 66.7L554.8 66.7L556.3 66.7L557.8 66.8L559.3 66.8L560.8 66.9L562.3 66.9L563.8 67.0L565.3 67.0L566.8 67.1L568.3 67.1L569.9 67.2L571.4 67.2L572.9 67.3L574.4 67.3L575.9 67.4L577.4 67.5L578.9 67.5L580.4 67.6L581.9 67.7L583.4 67.8L584.9 67.9L586.4 68.2L587.9 68.5L589.5 68.9L591.0 69.4L592.5 69.9L594.0 70.5L595.5 71.1L597.0 71.7L598.5 72.4L600.0 73.1L601.5 73.9L603.0 74.6L604.5 75.4L606.0 76.3L607.6 77.4L609.1 78.6L610.6 80.0L612.1 81.5L613.6 83.1L615.1 84.8L616.6 86.5L618.1 88.3L619.6 90.2L621.1 92.3L622.6 94.6L624.1 97.0L625.6 99.5L627.2 102.1L628.7 104.9L630.2 107.7L631.7 110.6L633.2 113.5L634.7 116.6L636.2 119.8L637.7 123.2L639.2 126.8L640.7 130.5L642.2 134.3L643.7 138.1L645.3 142.0L646.8 145.9L648.3 149.8L649.8 153.7L651.3 157.7L652.8 161.9L654.3 166.4L655.8 171.1L657.3 176.2L658.8 182.0L660.3 188.5L661.8 195.6L663.3 203.0L664.9 210.3L666.4 217.5L667.9 224.2L669.4 230.5L670.9 236.7L672.4 242.8L673.9 248.8L675.4 254.8L676.9 260.6L678.4 266.4L679.9 272.2L681.4 277.8L683.0 283.4L684.5 289.0L686.0 294.5L687.5 300.0L689.0 305.4L690.5 310.8L692.0 316.2L693.5 321.5L695.0 326.8L696.5 332.0L698.0 337.1L699.5 342.2L701.0 347.2L702.6 352.1L704.1 357.0L705.6 361.7L707.1 366.4L708.6 371.1L710.1 375.6L711.6 380.1L713.1 384.5L714.6 388.9L716.1 393.3L717.6 397.6L719.1 401.8L720.7 406.0L722.2 410.2L723.7 414.4L725.2 418.6L726.7 422.7L728.2 426.9L729.7 431.0L731.2 435.1L732.7 439.3L734.2 443.5L735.7 447.6L737.2 451.8L738.7 455.9L740.3 460.0L741.8 464.0L743.3 467.9L744.8 471.8L746.3 475.5L747.8 479.2L749.3 482.8L750.8 486.2L752.3 489.5L753.8 492.8L755.3 496.0L756.8 499.1L758.4 502.2L759.9 505.2L761.4 508.2L762.9 511.1L764.4 513.9L765.9 516.7L767.4 519.4L768.9 522.0L770.4 524.6L771.9 527.1L773.4 529.5L774.9 531.8L776.4 534.1L778.0 536.4L779.5 538.7L781.0 540.9L782.5 543.0L784.0 545.2L785.5 547.2L787.0 549.2L788.5 551.1L790.0 553.0L791.5 554.8L793.0 556.4L794.5 558.0L796.1 559.5L797.6 560.9L799.1 562.2L800.6 563.5L802.1 564.8L803.6 566.0L805.1 567.2L806.6 568.3L808.1 569.4L809.6 570.4L811.1 571.4L812.6 572.3L814.1 573.2L815.7 574.0L817.2 574.8L818.7 575.4L820.2 576.0L821.7 576.6L823.2 577.1L824.7 577.5L826.2 578.0L827.7 578.4L829.2 578.8L830.7 579.3L832.2 579.7L833.8 580.2L835.3 580.7L836.8 581.2L838.3 581.7L839.8 582.2L841.3 582.7L842.8 583.2" fill="none" stroke="#0072BD" stroke-width="1.50" stroke-dasharray="9 6" stroke-linejoin="round"/>
<path d="M149.6 592.1L151.1 591.7L152.6 591.2L154.1 590.8L155.6 590.3L157.1 589.8L158.6 589.2L160.1 588.6L161.6 588.0L163.1 587.4L164.7 586.8L166.2 586.1L167.7 585.4L169.2 584.7L170.7 584.0L172.2 583.3L173.7 582.5L175.2 581.8L176.7 581.0L178.2 580.2L179.7 579.3L181.2 578.4L182.7 577.5L184.3 576.5L185.8 575.5L187.3 574.4L188.8 573.3L190.3 572.3L191.8 571.1L193.3 570.0L194.8 568.9L196.3 567.7L197.8 566.5L199.3 565.2L200.8 563.9L202.4 562.5L203.9 561.2L205.4 559.8L206.9 558.4L208.4 556.9L209.9 555.5L211.4 554.0L212.9 552.6L214.4 551.1L215.9 549.6L217.4 548.1L218.9 546.5L220.4 544.8L222.0 543.1L223.5 541.2L225.0 539.1L226.5 536.8L228.0 534.3L229.5 531.7L231.0 529.0L232.5 526.2L234.0 523.4L235.5 520.6L237.0 517.7L238.5 514.8L240.1 511.8L241.6 508.8L243.1 505.7L244.6 502.6L246.1 499.5L247.6 496.4L249.1 493.3L250.6 490.2L252.1 487.1L253.6 483.9L255.1 480.8L256.6 477.6L258.1 474.3L259.7 471.1L261.2 467.8L262.7 464.4L264.2 461.0L265.7 457.6L267.2 454.2L268.7 450.8L270.2 447.6L271.7 444.4L273.2 441.3L274.7 438.2L276.2 435.2L277.8 432.3L279.3 429.3L280.8 426.4L282.3 423.5L283.8 420.6L285.3 417.7L286.8 414.8L288.3 412.0L289.8 409.2L291.3 406.4L292.8 403.7L294.3 401.0L295.8 398.2L297.4 395.6L298.9 393.1L300.4 390.8L301.9 388.6L303.4 386.6L304.9 384.6L306.4 382.7L307.9 380.9L309.4 379.1L310.9 377.4L312.4 375.7L313.9 374.1L315.5 372.5L317.0 370.8L318.5 369.0L320.0 367.2L321.5 365.5L323.0 363.9L324.5 362.5L326.0 361.4L327.5 360.5L329.0 360.0L330.5 359.7L332.0 359.5L333.5 359.3L335.1 359.1L336.6 359.0L338.1 358.9L339.6 358.7L341.1 358.6L342.6 358.4L344.1 358.1L345.6 357.7L347.1 357.3L348.6 356.9L350.1 356.4L351.6 355.8L353.2 355.3L354.7 354.7L356.2 354.1L357.7 353.5L359.2 353.0L360.7 352.4L362.2 351.9L363.7 351.5L365.2 351.1L366.7 350.7L368.2 350.4L369.7 350.0L371.2 349.6L372.8 349.3L374.3 349.0L375.8 348.7L377.3 348.4L378.8 348.1L380.3 347.8L381.8 347.6L383.3 347.3L384.8 347.1L386.3 347.0L387.8 346.8L389.3 346.6L390.9 346.5L392.4 346.3L393.9 346.2L395.4 346.1L396.9 345.9L398.4 345.8L399.9 345.7L401.4 345.6L402.9 345.5L404.4 345.4L405.9 345.3L407.4 345.2L408.9 345.1L410.5 345.0L412.0 344.9L413.5 344.8L415.0 344.7L416.5 344.7L418.0 344.6L419.5 344.5L421.0 344.5L422.5 344.4L424.0 344.3L425.5 344.3L427.0 344.2L428.6 344.2L430.1 344.1L431.6 344.1L433.1 344.0L434.6 344.0L436.1 343.9L437.6 343.9L439.1 343.8L440.6 343.8L442.1 343.8L443.6 343.7L445.1 343.7L446.6 343.6L448.2 343.6L449.7 343.6L451.2 343.5L452.7 343.5L454.2 343.4L455.7 343.4L457.2 343.4L458.7 343.3L460.2 343.3L461.7 343.2L463.2 343.2L464.7 343.1L466.3 343.1L467.8 343.0L469.3 342.9L470.8 342.9L472.3 342.8L473.8 342.7L475.3 342.6L476.8 342.6L478.3 342.5L479.8 342.4L481.3 342.3L482.8 342.2L484.3 342.2L485.9 342.1L487.4 342.0L488.9 342.0L490.4 341.9L491.9 341.8L493.4 341.8L494.9 341.7L496.4 341.7L497.9 341.7L499.4 341.7L500.9 341.7L502.4 341.7L504.0 341.7L505.5 341.7L507.0 341.7L508.5 341.7L510.0 341.7L511.5 341.7L513.0 341.8L514.5 341.8L516.0 341.8L517.5 341.8L519.0 341.9L520.5 341.9L522.0 341.9L523.6 342.0L525.1 342.0L526.6 342.0L528.1 342.1L529.6 342.1L531.1 342.2L532.6 342.2L534.1 342.3L535.6 342.3L537.1 342.4L538.6 342.4L540.1 342.5L541.7 342.5L543.2 342.6L544.7 342.6L546.2 342.7L547.7 342.7L549.2 342.8L550.7 342.9L552.2 342.9L553.7 343.0L555.2 343.0L556.7 343.1L558.2 343.2L559.7 343.3L561.3 343.4L562.8 343.5L564.3 343.6L565.8 343.7L567.3 343.8L568.8 344.0L570.3 344.1L571.8 344.3L573.3 344.4L574.8 344.6L576.3 344.8L577.8 344.9L579.4 345.1L580.9 345.2L582.4 345.4L583.9 345.5L585.4 345.7L586.9 345.8L588.4 346.0L589.9 346.1L591.4 346.2L592.9 346.3L594.4 346.4L595.9 346.5L597.4 346.5L599.0 346.6L600.5 346.7L602.0 346.8L603.5 346.8L605.0 346.9L606.5 347.0L608.0 347.0L609.5 347.1L611.0 347.2L612.5 347.3L614.0 347.5L615.5 347.6L617.1 347.7L618.6 347.9L620.1 348.2L621.6 348.7L623.1 349.3L624.6 350.2L626.1 351.2L627.6 352.3L629.1 353.5L630.6 354.9L632.1 356.3L633.6 357.7L635.1 359.2L636.7 360.7L638.2 362.2L639.7 363.8L641.2 365.6L642.7 367.5L644.2 369.6L645.7 371.8L647.2 374.1L648.7 376.4L650.2 378.9L651.7 381.4L653.2 383.9L654.8 386.5L656.3 389.1L657.8 391.6L659.3 394.2L660.8 396.7L662.3 399.2L663.8 401.8L665.3 404.4L666.8 407.0L668.3 409.7L669.8 412.4L671.3 415.1L672.8 417.9L674.4 420.7L675.9 423.5L677.4 426.4L678.9 429.2L680.4 432.1L681.9 435.0L683.4 437.9L684.9 440.8L686.4 443.9L687.9 447.0L689.4 450.1L690.9 453.3L692.5 456.5L694.0 459.7L695.5 462.9L697.0 466.0L698.5 469.2L700.0 472.2L701.5 475.2L703.0 478.2L704.5 481.0L706.0 483.8L707.5 486.4L709.0 489.1L710.5 491.7L712.1 494.3L713.6 496.9L715.1 499.4L716.6 501.8L718.1 504.3L719.6 506.7L721.1 509.0L722.6 511.3L724.1 513.6L725.6 515.8L727.1 517.9L728.6 520.0L730.2 522.1L731.7 524.2L733.2 526.2L734.7 528.2L736.2 530.1L737.7 532.0L739.2 533.9L740.7 535.8L742.2 537.6L743.7 539.3L745.2 541.1L746.7 542.7L748.2 544.4L749.8 545.9L751.3 547.4L752.8 548.9L754.3 550.4L755.8 551.8L757.3 553.2L758.8 554.5L760.3 555.9L761.8 557.2L763.3 558.4L764.8 559.7L766.3 560.9L767.9 562.1L769.4 563.3L770.9 564.4L772.4 565.5L773.9 566.6L775.4 567.7L776.9 568.8L778.4 569.8L779.9 570.8L781.4 571.8L782.9 572.8L784.4 573.7L785.9 574.7L787.5 575.6L789.0 576.5L790.5 577.3L792.0 578.2L793.5 579.0L795.0 579.8L796.5 580.6L798.0 581.4L799.5 582.2L801.0 582.9L802.5 583.7L804.0 584.5L805.6 585.2L807.1 585.9L808.6 586.6L810.1 587.3L811.6 587.9L813.1 588.5L814.6 589.1L816.1 589.6L817.6 590.1L819.1 590.5L820.6 590.9L822.1 591.2L823.6 591.6L825.2 592.0L826.7 592.3L828.2 592.6L829.7 592.9L831.2 593.2L832.7 593.5L834.2 593.8L835.7 594.0L837.2 594.2L838.7 594.4L840.2 594.5L841.7 594.6L842.8 594.7" fill="none" stroke="#D95319" stroke-width="1.50" stroke-dasharray="9 6" stroke-linejoin="round"/>
<path d="M144.6 600.1L146.1 599.7L147.6 599.3L149.1 598.9L150.6 598.5L152.1 598.1L153.6 597.7L155.2 597.2L156.7 596.8L158.2 596.3L159.7 595.9L161.2 595.4L162.7 595.0L164.2 594.5L165.7 594.0L167.2 593.6L168.7 593.1L170.2 592.6L171.7 592.1L173.2 591.6L174.8 591.1L176.3 590.6L177.8 590.1L179.3 589.5L180.8 589.0L182.3 588.4L183.8 587.9L185.3 587.3L186.8 586.7L188.3 586.2L189.8 585.6L191.3 585.0L192.9 584.3L194.4 583.7L195.9 583.0L197.4 582.4L198.9 581.7L200.4 581.0L201.9 580.3L203.4 579.6L204.9 578.8L206.4 578.1L207.9 577.3L209.4 576.5L210.9 575.7L212.5 574.9L214.0 574.1L215.5 573.2L217.0 572.3L218.5 571.4L220.0 570.5L221.5 569.6L223.0 568.6L224.5 567.6L226.0 566.6L227.5 565.6L229.0 564.5L230.6 563.5L232.1 562.4L233.6 561.3L235.1 560.2L236.6 559.1L238.1 558.0L239.6 556.8L241.1 555.6L242.6 554.3L244.1 553.1L245.6 551.8L247.1 550.5L248.6 549.2L250.2 547.8L251.7 546.5L253.2 545.2L254.7 543.8L256.2 542.5L257.7 541.2L259.2 539.9L260.7 538.7L262.2 537.4L263.7 536.1L265.2 534.8L266.7 533.4L268.3 532.1L269.8 530.8L271.3 529.5L272.8 528.2L274.3 526.9L275.8 525.6L277.3 524.3L278.8 523.1L280.3 521.8L281.8 520.6L283.3 519.4L284.8 518.2L286.3 517.0L287.9 515.8L289.4 514.6L290.9 513.4L292.4 512.3L293.9 511.2L295.4 510.1L296.9 509.0L298.4 508.1L299.9 507.2L301.4 506.3L302.9 505.4L304.4 504.6L306.0 503.8L307.5 503.0L309.0 502.2L310.5 501.4L312.0 500.7L313.5 500.0L315.0 499.3L316.5 498.7L318.0 498.2L319.5 497.7L321.0 497.2L322.5 496.8L324.0 496.5L325.6 496.1L327.1 495.8L328.6 495.5L330.1 495.2L331.6 495.0L333.1 494.7L334.6 494.5L336.1 494.2L337.6 494.0L339.1 493.8L340.6 493.6L342.1 493.3L343.7 493.1L345.2 492.9L346.7 492.6L348.2 492.4L349.7 492.1L351.2 491.9L352.7 491.7L354.2 491.4L355.7 491.2L357.2 491.0L358.7 490.7L360.2 490.5L361.7 490.3L363.3 490.1L364.8 489.9L366.3 489.8L367.8 489.6L369.3 489.5L370.8 489.3L372.3 489.2L373.8 489.2L375.3 489.1L376.8 489.0L378.3 488.9L379.8 488.8L381.4 488.7L382.9 488.6L384.4 488.5L385.9 488.5L387.4 488.4L388.9 488.3L390.4 488.3L391.9 488.2L393.4 488.2L394.9 488.2L396.4 488.2L397.9 488.1L399.4 488.1L401.0 488.1L402.5 488.1L404.0 488.2L405.5 488.2L407.0 488.2L408.5 488.2L410.0 488.2L411.5 488.3L413.0 488.3L414.5 488.3L416.0 488.4L417.5 488.4L419.1 488.4L420.6 488.5L422.1 488.5L423.6 488.5L425.1 488.6L426.6 488.6L428.1 488.6L429.6 488.6L431.1 488.7L432.6 488.7L434.1 488.7L435.6 488.7L437.1 488.7L438.7 488.7L440.2 488.7L441.7 488.7L443.2 488.7L444.7 488.7L446.2 488.7L447.7 488.6L449.2 488.6L450.7 488.6L452.2 488.6L453.7 488.6L455.2 488.6L456.8 488.6L458.3 488.5L459.8 488.5L461.3 488.5L462.8 488.5L464.3 488.5L465.8 488.4L467.3 488.4L468.8 488.4L470.3 488.4L471.8 488.4L473.3 488.4L474.8 488.3L476.4 488.3L477.9 488.3L479.4 488.3L480.9 488.3L482.4 488.2L483.9 488.2L485.4 488.2L486.9 488.2L488.4 488.2L489.9 488.2L491.4 488.2L492.9 488.2L494.5 488.1L496.0 488.1L497.5 488.1L499.0 488.1L500.5 488.1L502.0 488.1L503.5 488.1L505.0 488.1L506.5 488.1L508.0 488.1L509.5 488.1L511.0 488.2L512.5 488.2L514.1 488.2L515.6 488.2L517.1 488.2L518.6 488.2L520.1 488.2L521.6 488.2L523.1 488.2L524.6 488.3L526.1 488.3L527.6 488.3L529.1 488.3L530.6 488.3L532.2 488.4L533.7 488.4L535.2 488.4L536.7 488.4L538.2 488.4L539.7 488.5L541.2 488.5L542.7 488.5L544.2 488.6L545.7 488.6L547.2 488.6L548.7 488.7L550.2 488.7L551.8 488.7L553.3 488.8L554.8 488.8L556.3 488.8L557.8 488.9L559.3 488.9L560.8 489.0L562.3 489.0L563.8 489.1L565.3 489.1L566.8 489.1L568.3 489.2L569.9 489.2L571.4 489.3L572.9 489.4L574.4 489.4L575.9 489.5L577.4 489.5L578.9 489.6L580.4 489.6L581.9 489.7L583.4 489.8L584.9 489.8L586.4 489.9L587.9 489.9L589.5 490.0L591.0 490.1L592.5 490.2L594.0 490.3L595.5 490.5L597.0 490.7L598.5 490.9L600.0 491.2L601.5 491.5L603.0 491.8L604.5 492.2L606.0 492.5L607.6 492.9L609.1 493.4L610.6 493.8L612.1 494.3L613.6 494.8L615.1 495.3L616.6 495.8L618.1 496.3L619.6 496.8L621.1 497.4L622.6 497.9L624.1 498.5L625.6 499.0L627.2 499.6L628.7 500.3L630.2 501.0L631.7 501.9L633.2 502.7L634.7 503.6L636.2 504.6L637.7 505.5L639.2 506.5L640.7 507.5L642.2 508.5L643.7 509.6L645.3 510.6L646.8 511.6L648.3 512.5L649.8 513.5L651.3 514.5L652.8 515.4L654.3 516.4L655.8 517.4L657.3 518.4L658.8 519.5L660.3 520.5L661.8 521.5L663.3 522.5L664.9 523.6L666.4 524.6L667.9 525.7L669.4 526.7L670.9 527.7L672.4 528.8L673.9 529.9L675.4 530.9L676.9 532.0L678.4 533.1L679.9 534.2L681.4 535.3L683.0 536.4L684.5 537.5L686.0 538.6L687.5 539.7L689.0 540.9L690.5 542.0L692.0 543.0L693.5 544.1L695.0 545.2L696.5 546.3L698.0 547.4L699.5 548.4L701.0 549.4L702.6 550.5L704.1 551.5L705.6 552.5L707.1 553.5L708.6 554.6L710.1 555.6L711.6 556.6L713.1 557.6L714.6 558.6L716.1 559.6L717.6 560.5L719.1 561.5L720.7 562.5L722.2 563.5L723.7 564.4L725.2 565.4L726.7 566.3L728.2 567.3L729.7 568.3L731.2 569.3L732.7 570.3L734.2 571.3L735.7 572.3L737.2 573.2L738.7 574.2L740.3 575.1L741.8 576.1L743.3 577.0L744.8 577.8L746.3 578.7L747.8 579.5L749.3 580.2L750.8 580.9L752.3 581.6L753.8 582.2L755.3 582.8L756.8 583.4L758.4 583.9L759.9 584.5L761.4 585.0L762.9 585.5L764.4 586.0L765.9 586.5L767.4 587.0L768.9 587.4L770.4 587.9L771.9 588.3L773.4 588.8L774.9 589.2L776.4 589.6L778.0 590.0L779.5 590.4L781.0 590.8L782.5 591.2L784.0 591.6L785.5 592.0L787.0 592.4L788.5 592.7L790.0 593.1L791.5 593.4L793.0 593.8L794.5 594.1L796.1 594.4L797.6 594.7L799.1 595.1L800.6 595.4L802.1 595.7L803.6 596.0L805.1 596.3L806.6 596.6L808.1 596.9L809.6 597.2L811.1 597.5L812.6 597.7L814.1 598.0L815.7 598.3L817.2 598.6L818.7 598.8L820.2 599.1L821.7 599.3L823.2 599.5L824.7 599.7L826.2 599.9L827.7 600.0L829.2 600.2L830.7 600.3L832.2 600.4L833.8 600.5L835.3 600.6L836.8 600.7L838.3 600.8L839.8 600.9L841.3 600.9L842.8 601.0" fill="none" stroke="#EDB120" stroke-width="1.50" stroke-dasharray="9 6" stroke-linejoin="round"/>
<path d="M144.6 605.6L146.1 605.5L147.6 605.5L149.1 605.4L150.6 605.3L152.1 605.2L153.6 605.1L155.2 605.1L156.7 605.0L158.2 604.8L159.7 604.7L161.2 604.6L162.7 604.5L164.2 604.4L165.7 604.3L167.2 604.1L168.7 604.0L170.2 603.9L171.7 603.7L173.2 603.6L174.8 603.4L176.3 603.3L177.8 603.1L179.3 603.0L180.8 602.8L182.3 602.6L183.8 602.4L185.3 602.2L186.8 602.0L188.3 601.8L189.8 601.6L191.3 601.4L192.9 601.1L194.4 600.9L195.9 600.7L197.4 600.4L198.9 600.1L200.4 599.8L201.9 599.5L203.4 599.2L204.9 598.9L206.4 598.5L207.9 598.1L209.4 597.7L210.9 597.3L212.5 596.9L214.0 596.5L215.5 596.1L217.0 595.6L218.5 595.2L220.0 594.8L221.5 594.4L223.0 594.0L224.5 593.5L226.0 593.1L227.5 592.7L229.0 592.2L230.6 591.8L232.1 591.4L233.6 590.9L235.1 590.4L236.6 590.0L238.1 589.5L239.6 589.0L241.1 588.5L242.6 588.0L244.1 587.5L245.6 586.9L247.1 586.4L248.6 585.8L250.2 585.2L251.7 584.6L253.2 584.0L254.7 583.4L256.2 582.7L257.7 582.1L259.2 581.5L260.7 580.8L262.2 580.2L263.7 579.5L265.2 578.9L266.7 578.3L268.3 577.7L269.8 577.0L271.3 576.4L272.8 575.7L274.3 575.1L275.8 574.4L277.3 573.7L278.8 573.1L280.3 572.4L281.8 571.8L283.3 571.2L284.8 570.6L286.3 570.1L287.9 569.6L289.4 569.1L290.9 568.7L292.4 568.2L293.9 567.8L295.4 567.4L296.9 567.0L298.4 566.7L299.9 566.3L301.4 566.0L302.9 565.6L304.4 565.3L306.0 565.0L307.5 564.6L309.0 564.3L310.5 564.0L312.0 563.7L313.5 563.4L315.0 563.0L316.5 562.7L318.0 562.4L319.5 562.0L321.0 561.7L322.5 561.4L324.0 561.1L325.6 560.9L327.1 560.7L328.6 560.5L330.1 560.4L331.6 560.2L333.1 560.1L334.6 560.0L336.1 559.8L337.6 559.7L339.1 559.6L340.6 559.5L342.1 559.4L343.7 559.3L345.2 559.2L346.7 559.1L348.2 559.0L349.7 558.9L351.2 558.8L352.7 558.7L354.2 558.6L355.7 558.5L357.2 558.5L358.7 558.4L360.2 558.3L361.7 558.2L363.3 558.2L364.8 558.1L366.3 558.1L367.8 558.0L369.3 558.0L370.8 557.9L372.3 557.9L373.8 557.8L375.3 557.8L376.8 557.7L378.3 557.7L379.8 557.7L381.4 557.7L382.9 557.6L384.4 557.6L385.9 557.6L387.4 557.6L388.9 557.6L390.4 557.6L391.9 557.6L393.4 557.6L394.9 557.5L396.4 557.5L397.9 557.5L399.4 557.5L401.0 557.5L402.5 557.5L404.0 557.5L405.5 557.5L407.0 557.5L408.5 557.5L410.0 557.5L411.5 557.5L413.0 557.5L414.5 557.5L416.0 557.5L417.5 557.4L419.1 557.4L420.6 557.4L422.1 557.4L423.6 557.4L425.1 557.4L426.6 557.4L428.1 557.4L429.6 557.4L431.1 557.4L432.6 557.4L434.1 557.4L435.6 557.4L437.1 557.4L438.7 557.4L440.2 557.4L441.7 557.4L443.2 557.4L444.7 557.4L446.2 557.4L447.7 557.3L449.2 557.3L450.7 557.3L452.2 557.3L453.7 557.3L455.2 557.3L456.8 557.3L458.3 557.3L459.8 557.3L461.3 557.3L462.8 557.3L464.3 557.2L465.8 557.2L467.3 557.2L468.8 557.2L470.3 557.2L471.8 557.2L473.3 557.2L474.8 557.2L476.4 557.2L477.9 557.1L479.4 557.1L480.9 557.1L482.4 557.1L483.9 557.1L485.4 557.1L486.9 557.1L488.4 557.1L489.9 557.1L491.4 557.1L492.9 557.1L494.5 557.1L496.0 557.1L497.5 557.1L499.0 557.1L500.5 557.1L502.0 557.1L503.5 557.1L505.0 557.1L506.5 557.1L508.0 557.1L509.5 557.1L511.0 557.1L512.5 557.1L514.1 557.1L515.6 557.1L517.1 557.1L518.6 557.1L520.1 557.1L521.6 557.1L523.1 557.1L524.6 557.1L526.1 557.1L527.6 557.1L529.1 557.1L530.6 557.1L532.2 557.1L533.7 557.1L535.2 557.1L536.7 557.1L538.2 557.1L539.7 557.1L541.2 557.2L542.7 557.2L544.2 557.2L545.7 557.2L547.2 557.2L548.7 557.2L550.2 557.2L551.8 557.2L553.3 557.2L554.8 557.2L556.3 557.2L557.8 557.3L559.3 557.3L560.8 557.3L562.3 557.3L563.8 557.3L565.3 557.3L566.8 557.3L568.3 557.3L569.9 557.4L571.4 557.4L572.9 557.4L574.4 557.4L575.9 557.4L577.4 557.4L578.9 557.5L580.4 557.5L581.9 557.5L583.4 557.5L584.9 557.5L586.4 557.5L587.9 557.6L589.5 557.6L591.0 557.6L592.5 557.6L594.0 557.7L595.5 557.8L597.0 557.8L598.5 558.0L600.0 558.1L601.5 558.2L603.0 558.4L604.5 558.5L606.0 558.7L607.6 558.9L609.1 559.1L610.6 559.3L612.1 559.5L613.6 559.7L615.1 560.0L616.6 560.2L618.1 560.4L619.6 560.7L621.1 560.9L622.6 561.1L624.1 561.4L625.6 561.6L627.2 561.9L628.7 562.2L630.2 562.5L631.7 562.8L633.2 563.1L634.7 563.5L636.2 563.8L637.7 564.2L639.2 564.6L640.7 565.0L642.2 565.5L643.7 565.9L645.3 566.3L646.8 566.8L648.3 567.2L649.8 567.7L651.3 568.1L652.8 568.6L654.3 569.0L655.8 569.5L657.3 569.9L658.8 570.4L660.3 570.8L661.8 571.3L663.3 571.7L664.9 572.2L666.4 572.7L667.9 573.2L669.4 573.6L670.9 574.1L672.4 574.6L673.9 575.2L675.4 575.7L676.9 576.2L678.4 576.7L679.9 577.2L681.4 577.7L683.0 578.2L684.5 578.8L686.0 579.3L687.5 579.8L689.0 580.3L690.5 580.8L692.0 581.3L693.5 581.8L695.0 582.2L696.5 582.7L698.0 583.2L699.5 583.6L701.0 584.1L702.6 584.5L704.1 584.9L705.6 585.4L707.1 585.8L708.6 586.3L710.1 586.7L711.6 587.1L713.1 587.6L714.6 588.0L716.1 588.4L717.6 588.8L719.1 589.2L720.7 589.5L722.2 589.9L723.7 590.2L725.2 590.6L726.7 590.9L728.2 591.2L729.7 591.4L731.2 591.7L732.7 592.0L734.2 592.2L735.7 592.4L737.2 592.7L738.7 592.9L740.3 593.1L741.8 593.4L743.3 593.6L744.8 593.8L746.3 594.1L747.8 594.3L749.3 594.6L750.8 594.8L752.3 595.1L753.8 595.4L755.3 595.7L756.8 596.0L758.4 596.3L759.9 596.7L761.4 597.0L762.9 597.3L764.4 597.7L765.9 598.0L767.4 598.3L768.9 598.6L770.4 598.9L771.9 599.2L773.4 599.5L774.9 599.8L776.4 600.0L778.0 600.3L779.5 600.5L781.0 600.7L782.5 600.9L784.0 601.1L785.5 601.3L787.0 601.5L788.5 601.7L790.0 601.9L791.5 602.1L793.0 602.3L794.5 602.5L796.1 602.6L797.6 602.8L799.1 602.9L800.6 603.1L802.1 603.2L803.6 603.3L805.1 603.5L806.6 603.6L808.1 603.7L809.6 603.8L811.1 603.9L812.6 604.1L814.1 604.2L815.7 604.3L817.2 604.4L818.7 604.5L820.2 604.5L821.7 604.6L823.2 604.7L824.7 604.8L826.2 604.9L827.7 605.0L829.2 605.0L830.7 605.1L832.2 605.2L833.8 605.2L835.3 605.3L836.8 605.4L838.3 605.4L839.8 605.5L841.3 605.5L842.8 605.6" fill="none" stroke="#7E2F8E" stroke-width="1.50" stroke-dasharray="9 6" stroke-linejoin="round"/>
<path d="M144.6 608.7L146.1 608.7L147.6 608.7L149.1 608.7L150.6 608.7L152.1 608.7L153.6 608.7L155.2 608.6L156.7 608.6L158.2 608.6L159.7 608.6L161.2 608.5L162.7 608.5L164.2 608.4L165.7 608.4L167.2 608.4L168.7 608.3L170.2 608.3L171.7 608.2L173.2 608.2L174.8 608.1L176.3 608.0L177.8 608.0L179.3 607.9L180.8 607.9L182.3 607.8L183.8 607.7L185.3 607.7L186.8 607.6L188.3 607.5L189.8 607.5L191.3 607.4L192.9 607.3L194.4 607.2L195.9 607.2L197.4 607.1L198.9 607.0L200.4 606.9L201.9 606.9L203.4 606.8L204.9 606.7L206.4 606.6L207.9 606.4L209.4 606.3L210.9 606.2L212.5 606.1L214.0 605.9L215.5 605.8L217.0 605.6L218.5 605.5L220.0 605.3L221.5 605.2L223.0 605.0L224.5 604.8L226.0 604.7L227.5 604.5L229.0 604.3L230.6 604.1L232.1 603.9L233.6 603.8L235.1 603.6L236.6 603.4L238.1 603.2L239.6 603.0L241.1 602.8L242.6 602.6L244.1 602.4L245.6 602.2L247.1 602.0L248.6 601.8L250.2 601.6L251.7 601.3L253.2 601.1L254.7 600.8L256.2 600.6L257.7 600.3L259.2 600.0L260.7 599.8L262.2 599.5L263.7 599.2L265.2 598.9L266.7 598.6L268.3 598.3L269.8 598.0L271.3 597.7L272.8 597.5L274.3 597.2L275.8 596.9L277.3 596.6L278.8 596.3L280.3 596.0L281.8 595.7L283.3 595.4L284.8 595.2L286.3 594.9L287.9 594.6L289.4 594.4L290.9 594.1L292.4 593.8L293.9 593.6L295.4 593.3L296.9 593.0L298.4 592.7L299.9 592.4L301.4 592.1L302.9 591.8L304.4 591.5L306.0 591.2L307.5 590.9L309.0 590.6L310.5 590.3L312.0 590.1L313.5 589.8L315.0 589.5L316.5 589.3L318.0 589.1L319.5 588.9L321.0 588.7L322.5 588.5L324.0 588.4L325.6 588.2L327.1 588.1L328.6 588.1L330.1 588.0L331.6 587.9L333.1 587.9L334.6 587.8L336.1 587.8L337.6 587.7L339.1 587.6L340.6 587.6L342.1 587.5L343.7 587.5L345.2 587.4L346.7 587.4L348.2 587.4L349.7 587.3L351.2 587.3L352.7 587.2L354.2 587.2L355.7 587.2L357.2 587.1L358.7 587.1L360.2 587.0L361.7 587.0L363.3 587.0L364.8 587.0L366.3 586.9L367.8 586.9L369.3 586.9L370.8 586.8L372.3 586.8L373.8 586.8L375.3 586.8L376.8 586.8L378.3 586.7L379.8 586.7L381.4 586.7L382.9 586.7L384.4 586.7L385.9 586.7L387.4 586.6L388.9 586.6L390.4 586.6L391.9 586.6L393.4 586.6L394.9 586.6L396.4 586.6L397.9 586.6L399.4 586.6L401.0 586.5L402.5 586.5L404.0 586.5L405.5 586.5L407.0 586.5L408.5 586.5L410.0 586.5L411.5 586.5L413.0 586.5L414.5 586.5L416.0 586.5L417.5 586.5L419.1 586.5L420.6 586.5L422.1 586.5L423.6 586.4L425.1 586.4L426.6 586.4L428.1 586.4L429.6 586.4L431.1 586.4L432.6 586.4L434.1 586.4L435.6 586.4L437.1 586.4L438.7 586.4L440.2 586.4L441.7 586.4L443.2 586.4L444.7 586.4L446.2 586.4L447.7 586.4L449.2 586.3L450.7 586.3L452.2 586.3L453.7 586.3L455.2 586.3L456.8 586.3L458.3 586.3L459.8 586.3L461.3 586.3L462.8 586.3L464.3 586.2L465.8 586.2L467.3 586.2L468.8 586.2L470.3 586.2L471.8 586.2L473.3 586.2L474.8 586.2L476.4 586.2L477.9 586.1L479.4 586.1L480.9 586.1L482.4 586.1L483.9 586.1L485.4 586.1L486.9 586.1L488.4 586.1L489.9 586.1L491.4 586.1L492.9 586.1L494.5 586.1L496.0 586.1L497.5 586.1L499.0 586.1L500.5 586.1L502.0 586.1L503.5 586.1L505.0 586.1L506.5 586.1L508.0 586.1L509.5 586.1L511.0 586.1L512.5 586.1L514.1 586.1L515.6 586.1L517.1 586.1L518.6 586.1L520.1 586.1L521.6 586.1L523.1 586.1L524.6 586.1L526.1 586.1L527.6 586.1L529.1 586.2L530.6 586.2L532.2 586.2L533.7 586.2L535.2 586.2L536.7 586.2L538.2 586.2L539.7 586.2L541.2 586.2L542.7 586.3L544.2 586.3L545.7 586.3L547.2 586.3L548.7 586.3L550.2 586.3L551.8 586.3L553.3 586.4L554.8 586.4L556.3 586.4L557.8 586.4L559.3 586.4L560.8 586.5L562.3 586.5L563.8 586.5L565.3 586.5L566.8 586.5L568.3 586.5L569.9 586.6L571.4 586.6L572.9 586.6L574.4 586.6L575.9 586.7L577.4 586.7L578.9 586.7L580.4 586.7L581.9 586.7L583.4 586.8L584.9 586.8L586.4 586.8L587.9 586.8L589.5 586.9L591.0 586.9L592.5 586.9L594.0 587.0L595.5 587.0L597.0 587.0L598.5 587.1L600.0 587.1L601.5 587.2L603.0 587.3L604.5 587.3L606.0 587.4L607.6 587.5L609.1 587.5L610.6 587.6L612.1 587.7L613.6 587.8L615.1 587.9L616.6 588.0L618.1 588.1L619.6 588.2L621.1 588.3L622.6 588.4L624.1 588.5L625.6 588.6L627.2 588.7L628.7 588.8L630.2 589.0L631.7 589.1L633.2 589.2L634.7 589.4L636.2 589.5L637.7 589.6L639.2 589.7L640.7 589.9L642.2 590.0L643.7 590.2L645.3 590.3L646.8 590.5L648.3 590.6L649.8 590.7L651.3 590.9L652.8 591.0L654.3 591.2L655.8 591.3L657.3 591.5L658.8 591.6L660.3 591.8L661.8 592.0L663.3 592.1L664.9 592.3L666.4 592.5L667.9 592.8L669.4 593.0L670.9 593.2L672.4 593.5L673.9 593.7L675.4 594.0L676.9 594.3L678.4 594.6L679.9 594.8L681.4 595.1L683.0 595.4L684.5 595.7L686.0 595.9L687.5 596.2L689.0 596.5L690.5 596.7L692.0 597.0L693.5 597.2L695.0 597.5L696.5 597.7L698.0 597.9L699.5 598.1L701.0 598.2L702.6 598.4L704.1 598.6L705.6 598.7L707.1 598.9L708.6 599.1L710.1 599.2L711.6 599.4L713.1 599.5L714.6 599.7L716.1 599.8L717.6 599.9L719.1 600.1L720.7 600.2L722.2 600.4L723.7 600.5L725.2 600.6L726.7 600.8L728.2 600.9L729.7 601.0L731.2 601.1L732.7 601.3L734.2 601.4L735.7 601.5L737.2 601.6L738.7 601.7L740.3 601.9L741.8 602.0L743.3 602.1L744.8 602.2L746.3 602.3L747.8 602.4L749.3 602.5L750.8 602.7L752.3 602.8L753.8 602.9L755.3 603.0L756.8 603.1L758.4 603.2L759.9 603.3L761.4 603.4L762.9 603.5L764.4 603.6L765.9 603.7L767.4 603.8L768.9 604.0L770.4 604.1L771.9 604.2L773.4 604.3L774.9 604.4L776.4 604.4L778.0 604.5L779.5 604.6L781.0 604.7L782.5 604.8L784.0 604.9L785.5 605.0L787.0 605.1L788.5 605.2L790.0 605.3L791.5 605.4L793.0 605.5L794.5 605.6L796.1 605.6L797.6 605.7L799.1 605.8L800.6 605.9L802.1 606.0L803.6 606.1L805.1 606.1L806.6 606.2L808.1 606.3L809.6 606.4L811.1 606.4L812.6 606.5L814.1 606.6L815.7 606.7L817.2 606.7L818.7 606.8L820.2 606.9L821.7 607.0L823.2 607.0L824.7 607.1L826.2 607.2L827.7 607.2L829.2 607.3L830.7 607.4L832.2 607.4L833.8 607.5L835.3 607.6L836.8 607.6L838.3 607.7L839.8 607.8L841.3 607.8L842.8 607.9" fill="none" stroke="#77AC30" stroke-width="1.50" stroke-dasharray="9 6" stroke-linejoin="round"/>
<g fill="none" stroke="#3a86c4" stroke-width="1.35"><circle cx="164.2" cy="558.5" r="5.6"/><circle cx="179.3" cy="544.4" r="5.6"/><circle cx="194.4" cy="507.9" r="5.6"/><circle cx="209.4" cy="472.6" r="5.6"/><circle cx="224.5" cy="475.5" r="5.6"/><circle cx="239.6" cy="393.3" r="5.6"/><circle cx="254.7" cy="332.2" r="5.6"/><circle cx="269.8" cy="260.9" r="5.6"/><circle cx="284.8" cy="205.8" r="5.6"/><circle cx="299.9" cy="148.6" r="5.6"/><circle cx="315.0" cy="115.3" r="5.6"/><circle cx="330.1" cy="99.2" r="5.6"/><circle cx="345.2" cy="81.4" r="5.6"/><circle cx="360.2" cy="78.0" r="5.6"/><circle cx="375.3" cy="76.8" r="5.6"/><circle cx="390.4" cy="76.3" r="5.6"/><circle cx="405.5" cy="75.7" r="5.6"/><circle cx="420.6" cy="75.7" r="5.6"/><circle cx="435.6" cy="75.4" r="5.6"/><circle cx="450.7" cy="74.0" r="5.6"/><circle cx="465.8" cy="74.0" r="5.6"/><circle cx="480.9" cy="74.0" r="5.6"/><circle cx="496.0" cy="74.8" r="5.6"/><circle cx="511.0" cy="75.7" r="5.6"/><circle cx="526.1" cy="75.7" r="5.6"/><circle cx="541.2" cy="75.7" r="5.6"/><circle cx="556.3" cy="76.0" r="5.6"/><circle cx="571.4" cy="77.4" r="5.6"/><circle cx="586.4" cy="79.7" r="5.6"/><circle cx="601.5" cy="80.6" r="5.6"/><circle cx="616.6" cy="92.4" r="5.6"/><circle cx="631.7" cy="120.2" r="5.6"/><circle cx="646.8" cy="191.7" r="5.6"/><circle cx="661.8" cy="201.5" r="5.6"/><circle cx="676.9" cy="349.7" r="5.6"/><circle cx="692.0" cy="313.8" r="5.6"/><circle cx="707.1" cy="358.3" r="5.6"/><circle cx="722.2" cy="437.6" r="5.6"/><circle cx="737.2" cy="466.9" r="5.6"/><circle cx="752.3" cy="494.4" r="5.6"/><circle cx="767.4" cy="521.7" r="5.6"/><circle cx="782.5" cy="508.5" r="5.6"/><circle cx="797.6" cy="562.5" r="5.6"/><circle cx="812.6" cy="569.4" r="5.6"/><circle cx="827.7" cy="586.9" r="5.6"/><circle cx="842.8" cy="589.2" r="5.6"/></g>
<g fill="none" stroke="#dc6a3e" stroke-width="1.35"><circle cx="164.2" cy="593.2" r="5.6"/><circle cx="179.3" cy="584.9" r="5.6"/><circle cx="194.4" cy="573.4" r="5.6"/><circle cx="209.4" cy="568.0" r="5.6"/><circle cx="224.5" cy="547.9" r="5.6"/><circle cx="239.6" cy="513.4" r="5.6"/><circle cx="254.7" cy="492.7" r="5.6"/><circle cx="269.8" cy="456.8" r="5.6"/><circle cx="284.8" cy="441.6" r="5.6"/><circle cx="299.9" cy="405.1" r="5.6"/><circle cx="315.0" cy="375.8" r="5.6"/><circle cx="330.1" cy="364.3" r="5.6"/><circle cx="345.2" cy="356.6" r="5.6"/><circle cx="360.2" cy="349.4" r="5.6"/><circle cx="375.3" cy="343.7" r="5.6"/><circle cx="390.4" cy="337.9" r="5.6"/><circle cx="405.5" cy="336.8" r="5.6"/><circle cx="420.6" cy="335.9" r="5.6"/><circle cx="435.6" cy="335.0" r="5.6"/><circle cx="450.7" cy="334.5" r="5.6"/><circle cx="465.8" cy="334.2" r="5.6"/><circle cx="480.9" cy="334.2" r="5.6"/><circle cx="496.0" cy="334.5" r="5.6"/><circle cx="511.0" cy="335.3" r="5.6"/><circle cx="526.1" cy="335.9" r="5.6"/><circle cx="541.2" cy="336.8" r="5.6"/><circle cx="556.3" cy="336.8" r="5.6"/><circle cx="571.4" cy="339.6" r="5.6"/><circle cx="586.4" cy="342.5" r="5.6"/><circle cx="601.5" cy="343.9" r="5.6"/><circle cx="616.6" cy="345.7" r="5.6"/><circle cx="631.7" cy="364.0" r="5.6"/><circle cx="646.8" cy="385.6" r="5.6"/><circle cx="661.8" cy="406.8" r="5.6"/><circle cx="676.9" cy="429.2" r="5.6"/><circle cx="692.0" cy="465.1" r="5.6"/><circle cx="707.1" cy="487.0" r="5.6"/><circle cx="722.2" cy="509.1" r="5.6"/><circle cx="737.2" cy="521.7" r="5.6"/><circle cx="752.3" cy="553.3" r="5.6"/><circle cx="767.4" cy="568.5" r="5.6"/><circle cx="782.5" cy="579.4" r="5.6"/><circle cx="797.6" cy="587.5" r="5.6"/><circle cx="812.6" cy="590.6" r="5.6"/><circle cx="827.7" cy="597.0" r="5.6"/><circle cx="842.8" cy="599.3" r="5.6"/></g>
<g fill="none" stroke="#efbf4a" stroke-width="1.35"><circle cx="164.2" cy="600.1" r="5.6"/><circle cx="179.3" cy="597.8" r="5.6"/><circle cx="194.4" cy="593.2" r="5.6"/><circle cx="209.4" cy="588.6" r="5.6"/><circle cx="224.5" cy="580.0" r="5.6"/><circle cx="239.6" cy="564.5" r="5.6"/><circle cx="254.7" cy="555.9" r="5.6"/><circle cx="269.8" cy="536.1" r="5.6"/><circle cx="284.8" cy="520.6" r="5.6"/><circle cx="299.9" cy="512.0" r="5.6"/><circle cx="315.0" cy="499.9" r="5.6"/><circle cx="330.1" cy="490.4" r="5.6"/><circle cx="345.2" cy="486.1" r="5.6"/><circle cx="360.2" cy="484.7" r="5.6"/><circle cx="375.3" cy="482.7" r="5.6"/><circle cx="390.4" cy="482.1" r="5.6"/><circle cx="405.5" cy="480.9" r="5.6"/><circle cx="420.6" cy="479.8" r="5.6"/><circle cx="435.6" cy="478.9" r="5.6"/><circle cx="450.7" cy="478.3" r="5.6"/><circle cx="465.8" cy="478.3" r="5.6"/><circle cx="480.9" cy="478.3" r="5.6"/><circle cx="496.0" cy="478.9" r="5.6"/><circle cx="511.0" cy="479.5" r="5.6"/><circle cx="526.1" cy="479.8" r="5.6"/><circle cx="541.2" cy="480.1" r="5.6"/><circle cx="556.3" cy="480.6" r="5.6"/><circle cx="571.4" cy="481.2" r="5.6"/><circle cx="586.4" cy="481.5" r="5.6"/><circle cx="601.5" cy="492.1" r="5.6"/><circle cx="616.6" cy="496.7" r="5.6"/><circle cx="631.7" cy="505.3" r="5.6"/><circle cx="646.8" cy="513.7" r="5.6"/><circle cx="661.8" cy="520.6" r="5.6"/><circle cx="676.9" cy="532.6" r="5.6"/><circle cx="692.0" cy="555.9" r="5.6"/><circle cx="707.1" cy="569.4" r="5.6"/><circle cx="722.2" cy="580.0" r="5.6"/><circle cx="737.2" cy="580.0" r="5.6"/><circle cx="752.3" cy="585.2" r="5.6"/><circle cx="767.4" cy="590.4" r="5.6"/><circle cx="782.5" cy="597.0" r="5.6"/><circle cx="797.6" cy="598.1" r="5.6"/><circle cx="812.6" cy="599.5" r="5.6"/><circle cx="827.7" cy="601.0" r="5.6"/><circle cx="842.8" cy="601.6" r="5.6"/></g>
<g fill="none" stroke="#8f4f9c" stroke-width="1.35"><circle cx="164.2" cy="604.7" r="5.6"/><circle cx="179.3" cy="602.4" r="5.6"/><circle cx="194.4" cy="601.0" r="5.6"/><circle cx="209.4" cy="599.0" r="5.6"/><circle cx="224.5" cy="595.0" r="5.6"/><circle cx="239.6" cy="588.6" r="5.6"/><circle cx="254.7" cy="584.0" r="5.6"/><circle cx="269.8" cy="576.0" r="5.6"/><circle cx="284.8" cy="570.3" r="5.6"/><circle cx="299.9" cy="568.5" r="5.6"/><circle cx="315.0" cy="562.2" r="5.6"/><circle cx="330.1" cy="560.8" r="5.6"/><circle cx="345.2" cy="556.5" r="5.6"/><circle cx="360.2" cy="555.0" r="5.6"/><circle cx="375.3" cy="554.7" r="5.6"/><circle cx="390.4" cy="554.2" r="5.6"/><circle cx="405.5" cy="553.6" r="5.6"/><circle cx="420.6" cy="553.6" r="5.6"/><circle cx="435.6" cy="553.6" r="5.6"/><circle cx="450.7" cy="553.6" r="5.6"/><circle cx="465.8" cy="553.6" r="5.6"/><circle cx="480.9" cy="553.6" r="5.6"/><circle cx="496.0" cy="553.6" r="5.6"/><circle cx="511.0" cy="553.3" r="5.6"/><circle cx="526.1" cy="553.6" r="5.6"/><circle cx="541.2" cy="553.6" r="5.6"/><circle cx="556.3" cy="553.9" r="5.6"/><circle cx="571.4" cy="554.5" r="5.6"/><circle cx="586.4" cy="554.5" r="5.6"/><circle cx="601.5" cy="555.6" r="5.6"/><circle cx="616.6" cy="559.3" r="5.6"/><circle cx="631.7" cy="568.5" r="5.6"/><circle cx="646.8" cy="568.0" r="5.6"/><circle cx="661.8" cy="570.8" r="5.6"/><circle cx="676.9" cy="579.4" r="5.6"/><circle cx="692.0" cy="584.6" r="5.6"/><circle cx="707.1" cy="586.9" r="5.6"/><circle cx="722.2" cy="595.2" r="5.6"/><circle cx="737.2" cy="598.4" r="5.6"/><circle cx="752.3" cy="600.7" r="5.6"/><circle cx="767.4" cy="603.0" r="5.6"/><circle cx="782.5" cy="603.9" r="5.6"/><circle cx="797.6" cy="604.7" r="5.6"/><circle cx="812.6" cy="605.3" r="5.6"/><circle cx="827.7" cy="605.9" r="5.6"/><circle cx="842.8" cy="606.2" r="5.6"/></g>
<g fill="none" stroke="#8ab856" stroke-width="1.35"><circle cx="164.2" cy="609.0" r="5.6"/><circle cx="179.3" cy="607.9" r="5.6"/><circle cx="194.4" cy="606.7" r="5.6"/><circle cx="209.4" cy="605.9" r="5.6"/><circle cx="224.5" cy="604.4" r="5.6"/><circle cx="239.6" cy="602.4" r="5.6"/><circle cx="254.7" cy="599.0" r="5.6"/><circle cx="269.8" cy="596.1" r="5.6"/><circle cx="284.8" cy="595.0" r="5.6"/><circle cx="299.9" cy="593.2" r="5.6"/><circle cx="315.0" cy="589.8" r="5.6"/><circle cx="330.1" cy="588.1" r="5.6"/><circle cx="345.2" cy="587.5" r="5.6"/><circle cx="360.2" cy="587.2" r="5.6"/><circle cx="375.3" cy="586.6" r="5.6"/><circle cx="390.4" cy="585.8" r="5.6"/><circle cx="405.5" cy="585.2" r="5.6"/><circle cx="420.6" cy="585.2" r="5.6"/><circle cx="435.6" cy="584.9" r="5.6"/><circle cx="450.7" cy="584.9" r="5.6"/><circle cx="465.8" cy="584.9" r="5.6"/><circle cx="480.9" cy="584.9" r="5.6"/><circle cx="496.0" cy="584.9" r="5.6"/><circle cx="511.0" cy="585.2" r="5.6"/><circle cx="526.1" cy="585.2" r="5.6"/><circle cx="541.2" cy="585.2" r="5.6"/><circle cx="556.3" cy="585.5" r="5.6"/><circle cx="571.4" cy="585.8" r="5.6"/><circle cx="586.4" cy="586.0" r="5.6"/><circle cx="601.5" cy="586.0" r="5.6"/><circle cx="616.6" cy="586.6" r="5.6"/><circle cx="631.7" cy="587.8" r="5.6"/><circle cx="646.8" cy="588.6" r="5.6"/><circle cx="661.8" cy="589.8" r="5.6"/><circle cx="676.9" cy="591.2" r="5.6"/><circle cx="692.0" cy="592.4" r="5.6"/><circle cx="707.1" cy="596.4" r="5.6"/><circle cx="722.2" cy="596.4" r="5.6"/><circle cx="737.2" cy="597.3" r="5.6"/><circle cx="752.3" cy="598.1" r="5.6"/><circle cx="767.4" cy="599.3" r="5.6"/><circle cx="782.5" cy="601.0" r="5.6"/><circle cx="797.6" cy="603.3" r="5.6"/><circle cx="812.6" cy="605.3" r="5.6"/><circle cx="827.7" cy="606.7" r="5.6"/><circle cx="842.8" cy="608.2" r="5.6"/></g>
<text x="88.8" y="636.6" font-size="18.0" text-anchor="middle" fill="#262626">-40</text>
<text x="164.2" y="636.6" font-size="18.0" text-anchor="middle" fill="#262626">-35</text>
<text x="239.6" y="636.6" font-size="18.0" text-anchor="middle" fill="#262626">-30</text>
<text x="315.0" y="636.6" font-size="18.0" text-anchor="middle" fill="#262626">-25</text>
<text x="390.4" y="636.6" font-size="18.0" text-anchor="middle" fill="#262626">-20</text>
<text x="465.8" y="636.6" font-size="18.0" text-anchor="middle" fill="#262626">-15</text>
<text x="541.2" y="636.6" font-size="18.0" text-anchor="middle" fill="#262626">-10</text>
<text x="616.6" y="636.6" font-size="18.0" text-anchor="middle" fill="#262626">-5</text>
<text x="692.0" y="636.6" font-size="18.0" text-anchor="middle" fill="#262626">0</text>
<text x="767.4" y="636.6" font-size="18.0" text-anchor="middle" fill="#262626">5</text>
<text x="842.8" y="636.6" font-size="18.0" text-anchor="middle" fill="#262626">10</text>
<text x="79.8" y="616.1" font-size="18.0" text-anchor="end" fill="#262626">0</text>
<text x="79.8" y="558.6" font-size="18.0" text-anchor="end" fill="#262626">0.2</text>
<text x="79.8" y="501.2" font-size="18.0" text-anchor="end" fill="#262626">0.4</text>
<text x="79.8" y="443.8" font-size="18.0" text-anchor="end" fill="#262626">0.6</text>
<text x="79.8" y="386.3" font-size="18.0" text-anchor="end" fill="#262626">0.8</text>
<text x="79.8" y="328.9" font-size="18.0" text-anchor="end" fill="#262626">1</text>
<text x="79.8" y="271.4" font-size="18.0" text-anchor="end" fill="#262626">1.2</text>
<text x="79.8" y="214.0" font-size="18.0" text-anchor="end" fill="#262626">1.4</text>
<text x="79.8" y="156.6" font-size="18.0" text-anchor="end" fill="#262626">1.6</text>
<text x="79.8" y="99.1" font-size="18.0" text-anchor="end" fill="#262626">1.8</text>
<text x="79.8" y="41.7" font-size="18.0" text-anchor="end" fill="#262626">2</text>
<text x="465.6" y="665.0" font-size="20.2" text-anchor="middle" fill="#262626">Position (mm)</text>
<text x="45.0" y="322.4" font-size="20.0" text-anchor="middle" fill="#262626" transform="rotate(-90 45.0 322.4)">Resistive Change (&#8202;&#937;&#8202;)</text>
<rect x="714.7" y="4.7" width="217.6" height="336.7" fill="#fff" stroke="#262626" stroke-width="1.8"/>
<path d="M720 17.9H775.7" stroke="#0072BD" stroke-width="1.7" stroke-opacity="0.7"/>
<text x="779.6" y="25.1" font-size="16.9" text-anchor="start" fill="#262626" xml:space="preserve">480 kHz, FEM</text>
<path d="M720 40.0H775.7" stroke="#D95319" stroke-width="1.7" stroke-opacity="0.7"/>
<text x="779.6" y="47.2" font-size="16.9" text-anchor="start" fill="#262626" xml:space="preserve">240 kHz</text>
<path d="M720 62.2H775.7" stroke="#EDB120" stroke-width="1.7" stroke-opacity="0.7"/>
<text x="779.6" y="69.4" font-size="16.9" text-anchor="start" fill="#262626" xml:space="preserve">120 kHz</text>
<path d="M720 84.3H775.7" stroke="#7E2F8E" stroke-width="1.7" stroke-opacity="0.7"/>
<text x="779.6" y="91.5" font-size="16.9" text-anchor="start" fill="#262626" xml:space="preserve">&#160;60&#160;kHz</text>
<path d="M720 106.5H775.7" stroke="#77AC30" stroke-width="1.7" stroke-opacity="0.7"/>
<text x="779.6" y="113.7" font-size="16.9" text-anchor="start" fill="#262626" xml:space="preserve">&#160;30&#160;kHz</text>
<path d="M720 128.7H775.7" stroke="#0072BD" stroke-width="1.6" stroke-opacity="0.6" stroke-dasharray="9 6"/>
<text x="779.6" y="135.8" font-size="16.9" text-anchor="start" fill="#262626" xml:space="preserve">480 kHz, Analytical</text>
<path d="M720 150.8H775.7" stroke="#D95319" stroke-width="1.6" stroke-opacity="0.6" stroke-dasharray="9 6"/>
<text x="779.6" y="158.0" font-size="16.9" text-anchor="start" fill="#262626" xml:space="preserve">240 kHz</text>
<path d="M720 172.9H775.7" stroke="#EDB120" stroke-width="1.6" stroke-opacity="0.6" stroke-dasharray="9 6"/>
<text x="779.6" y="180.1" font-size="16.9" text-anchor="start" fill="#262626" xml:space="preserve">120 kHz</text>
<path d="M720 195.1H775.7" stroke="#7E2F8E" stroke-width="1.6" stroke-opacity="0.6" stroke-dasharray="9 6"/>
<text x="779.6" y="202.3" font-size="16.9" text-anchor="start" fill="#262626" xml:space="preserve">&#160;60&#160;kHz</text>
<path d="M720 217.2H775.7" stroke="#77AC30" stroke-width="1.6" stroke-opacity="0.6" stroke-dasharray="9 6"/>
<text x="779.6" y="224.4" font-size="16.9" text-anchor="start" fill="#262626" xml:space="preserve">&#160;30&#160;kHz</text>
<circle cx="748.3" cy="239.4" r="5.8" fill="none" stroke="#3a86c4" stroke-width="1.3" stroke-opacity="0.75"/>
<text x="779.6" y="246.6" font-size="16.9" text-anchor="start" fill="#262626" xml:space="preserve">480 kHz, Measured</text>
<circle cx="748.3" cy="261.5" r="5.8" fill="none" stroke="#dc6a3e" stroke-width="1.3" stroke-opacity="0.75"/>
<text x="779.6" y="268.7" font-size="16.9" text-anchor="start" fill="#262626" xml:space="preserve">240 kHz</text>
<circle cx="748.3" cy="283.7" r="5.8" fill="none" stroke="#efbf4a" stroke-width="1.3" stroke-opacity="0.75"/>
<text x="779.6" y="290.9" font-size="16.9" text-anchor="start" fill="#262626" xml:space="preserve">120 kHz</text>
<circle cx="748.3" cy="305.8" r="5.8" fill="none" stroke="#8f4f9c" stroke-width="1.3" stroke-opacity="0.75"/>
<text x="779.6" y="313.0" font-size="16.9" text-anchor="start" fill="#262626" xml:space="preserve">&#160;60&#160;kHz</text>
<circle cx="748.3" cy="328.0" r="5.8" fill="none" stroke="#8ab856" stroke-width="1.3" stroke-opacity="0.75"/>
<text x="779.6" y="335.2" font-size="16.9" text-anchor="start" fill="#262626" xml:space="preserve">&#160;30&#160;kHz</text>
<rect x="1051.9" y="34.7" width="693.0" height="573.6" fill="none" stroke="#262626" stroke-width="1.8"/>
<path d="M1093.5 608.3L1093.5 600.8M1093.5 34.7L1093.5 42.2M1162.8 608.3L1162.8 600.8M1162.8 34.7L1162.8 42.2M1232.1 608.3L1232.1 600.8M1232.1 34.7L1232.1 42.2M1301.4 608.3L1301.4 600.8M1301.4 34.7L1301.4 42.2M1370.7 608.3L1370.7 600.8M1370.7 34.7L1370.7 42.2M1440.0 608.3L1440.0 600.8M1440.0 34.7L1440.0 42.2M1509.3 608.3L1509.3 600.8M1509.3 34.7L1509.3 42.2M1578.6 608.3L1578.6 600.8M1578.6 34.7L1578.6 42.2M1647.9 608.3L1647.9 600.8M1647.9 34.7L1647.9 42.2M1717.2 608.3L1717.2 600.8M1717.2 34.7L1717.2 42.2M1051.9 34.7L1059.4 34.7M1744.9 34.7L1737.4 34.7M1051.9 106.4L1059.4 106.4M1744.9 106.4L1737.4 106.4M1051.9 178.1L1059.4 178.1M1744.9 178.1L1737.4 178.1M1051.9 249.8L1059.4 249.8M1744.9 249.8L1737.4 249.8M1051.9 321.5L1059.4 321.5M1744.9 321.5L1737.4 321.5M1051.9 393.2L1059.4 393.2M1744.9 393.2L1737.4 393.2M1051.9 464.9L1059.4 464.9M1744.9 464.9L1737.4 464.9M1051.9 536.6L1059.4 536.6M1744.9 536.6L1737.4 536.6M1051.9 608.3L1059.4 608.3M1744.9 608.3L1737.4 608.3" stroke="#262626" stroke-width="1.80" fill="none"/>
<path d="M1072.7 146.7L1074.1 147.5L1075.5 148.4L1076.9 149.4L1078.3 150.4L1079.6 151.5L1081.0 152.6L1082.4 153.8L1083.8 155.0L1085.2 156.3L1086.6 157.6L1088.0 158.9L1089.3 160.3L1090.7 161.7L1092.1 163.1L1093.5 164.6L1094.9 166.2L1096.3 167.8L1097.7 169.5L1099.0 171.3L1100.4 173.2L1101.8 175.1L1103.2 177.1L1104.6 179.1L1106.0 181.2L1107.4 183.3L1108.7 185.4L1110.1 187.6L1111.5 189.7L1112.9 191.9L1114.3 194.0L1115.7 196.1L1117.1 198.3L1118.4 200.5L1119.8 202.7L1121.2 205.0L1122.6 207.4L1124.0 209.9L1125.4 212.4L1126.8 215.1L1128.2 217.9L1129.5 220.9L1130.9 224.0L1132.3 227.4L1133.7 231.1L1135.1 235.2L1136.5 239.6L1137.9 244.1L1139.2 248.7L1140.6 253.4L1142.0 258.2L1143.4 262.8L1144.8 267.5L1146.2 272.2L1147.6 277.0L1148.9 281.8L1150.3 286.8L1151.7 291.8L1153.1 296.9L1154.5 302.2L1155.9 307.5L1157.3 313.0L1158.6 318.8L1160.0 324.9L1161.4 331.2L1162.8 337.7L1164.2 344.3L1165.6 350.9L1167.0 357.4L1168.3 363.8L1169.7 369.9L1171.1 375.7L1172.5 381.3L1173.9 386.8L1175.3 392.2L1176.7 397.5L1178.0 402.7L1179.4 407.6L1180.8 412.3L1182.2 416.9L1183.6 421.1L1185.0 425.2L1186.4 429.2L1187.7 433.0L1189.1 436.7L1190.5 440.4L1191.9 444.0L1193.3 447.5L1194.7 451.1L1196.1 454.7L1197.5 458.3L1198.8 461.9L1200.2 465.4L1201.6 468.8L1203.0 472.2L1204.4 475.5L1205.8 478.7L1207.2 481.8L1208.5 485.0L1209.9 488.2L1211.3 491.3L1212.7 494.3L1214.1 497.0L1215.5 499.4L1216.9 501.5L1218.2 503.3L1219.6 504.9L1221.0 506.5L1222.4 508.0L1223.8 509.4L1225.2 510.7L1226.6 511.9L1227.9 513.1L1229.3 514.3L1230.7 515.3L1232.1 516.4L1233.5 517.4L1234.9 518.4L1236.3 519.4L1237.6 520.3L1239.0 521.3L1240.4 522.2L1241.8 523.2L1243.2 524.0L1244.6 524.9L1246.0 525.7L1247.3 526.5L1248.7 527.2L1250.1 527.9L1251.5 528.5L1252.9 529.1L1254.3 529.6L1255.7 530.0L1257.0 530.4L1258.4 530.8L1259.8 531.2L1261.2 531.5L1262.6 531.9L1264.0 532.2L1265.4 532.6L1266.8 532.9L1268.1 533.1L1269.5 533.4L1270.9 533.7L1272.3 533.9L1273.7 534.1L1275.1 534.2L1276.5 534.4L1277.8 534.5L1279.2 534.6L1280.6 534.7L1282.0 534.7L1283.4 534.8L1284.8 534.9L1286.2 534.9L1287.5 535.0L1288.9 535.1L1290.3 535.1L1291.7 535.2L1293.1 535.2L1294.5 535.3L1295.9 535.3L1297.2 535.4L1298.6 535.5L1300.0 535.5L1301.4 535.5L1302.8 535.6L1304.2 535.6L1305.6 535.7L1306.9 535.7L1308.3 535.8L1309.7 535.8L1311.1 535.9L1312.5 535.9L1313.9 535.9L1315.3 536.0L1316.6 536.0L1318.0 536.0L1319.4 536.1L1320.8 536.1L1322.2 536.1L1323.6 536.2L1325.0 536.2L1326.3 536.2L1327.7 536.3L1329.1 536.3L1330.5 536.3L1331.9 536.3L1333.3 536.4L1334.7 536.4L1336.1 536.4L1337.4 536.4L1338.8 536.5L1340.2 536.5L1341.6 536.5L1343.0 536.5L1344.4 536.5L1345.8 536.6L1347.1 536.6L1348.5 536.6L1349.9 536.6L1351.3 536.6L1352.7 536.7L1354.1 536.7L1355.5 536.7L1356.8 536.7L1358.2 536.7L1359.6 536.8L1361.0 536.8L1362.4 536.8L1363.8 536.8L1365.2 536.8L1366.5 536.8L1367.9 536.9L1369.3 536.9L1370.7 536.9L1372.1 536.9L1373.5 536.9L1374.9 536.9L1376.2 537.0L1377.6 537.0L1379.0 537.0L1380.4 537.0L1381.8 537.0L1383.2 537.0L1384.6 537.1L1385.9 537.1L1387.3 537.1L1388.7 537.1L1390.1 537.1L1391.5 537.1L1392.9 537.1L1394.3 537.2L1395.6 537.2L1397.0 537.2L1398.4 537.2L1399.8 537.2L1401.2 537.2L1402.6 537.2L1404.0 537.3L1405.4 537.3L1406.7 537.3L1408.1 537.3L1409.5 537.3L1410.9 537.3L1412.3 537.3L1413.7 537.3L1415.1 537.4L1416.4 537.4L1417.8 537.4L1419.2 537.4L1420.6 537.4L1422.0 537.4L1423.4 537.4L1424.8 537.4L1426.1 537.4L1427.5 537.4L1428.9 537.4L1430.3 537.4L1431.7 537.4L1433.1 537.4L1434.5 537.5L1435.8 537.5L1437.2 537.5L1438.6 537.5L1440.0 537.5L1441.4 537.5L1442.8 537.5L1444.2 537.5L1445.5 537.5L1446.9 537.4L1448.3 537.4L1449.7 537.4L1451.1 537.4L1452.5 537.4L1453.9 537.4L1455.2 537.3L1456.6 537.3L1458.0 537.3L1459.4 537.3L1460.8 537.2L1462.2 537.2L1463.6 537.2L1464.9 537.1L1466.3 537.1L1467.7 537.1L1469.1 537.0L1470.5 537.0L1471.9 536.9L1473.3 536.9L1474.7 536.8L1476.0 536.7L1477.4 536.7L1478.8 536.6L1480.2 536.6L1481.6 536.5L1483.0 536.4L1484.4 536.4L1485.7 536.3L1487.1 536.2L1488.5 536.1L1489.9 536.1L1491.3 536.0L1492.7 535.9L1494.1 535.8L1495.4 535.7L1496.8 535.6L1498.2 535.5L1499.6 535.4L1501.0 535.3L1502.4 535.2L1503.8 535.1L1505.1 535.0L1506.5 534.9L1507.9 534.8L1509.3 534.7L1510.7 534.5L1512.1 534.4L1513.5 534.1L1514.8 533.9L1516.2 533.6L1517.6 533.2L1519.0 532.8L1520.4 532.3L1521.8 531.9L1523.2 531.3L1524.5 530.8L1525.9 530.1L1527.3 529.5L1528.7 528.8L1530.1 528.1L1531.5 527.3L1532.9 526.6L1534.2 525.6L1535.6 524.4L1537.0 523.0L1538.4 521.3L1539.8 519.5L1541.2 517.6L1542.6 515.6L1544.0 513.6L1545.3 511.4L1546.7 509.1L1548.1 506.5L1549.5 503.8L1550.9 500.9L1552.3 497.9L1553.7 494.8L1555.0 491.6L1556.4 488.3L1557.8 484.9L1559.2 481.2L1560.6 477.4L1562.0 473.4L1563.4 469.4L1564.7 465.2L1566.1 461.0L1567.5 456.7L1568.9 452.4L1570.3 447.9L1571.7 443.3L1573.1 438.6L1574.4 433.9L1575.8 429.0L1577.2 424.1L1578.6 419.2L1580.0 414.1L1581.4 409.0L1582.8 403.7L1584.1 398.4L1585.5 393.0L1586.9 387.6L1588.3 382.2L1589.7 376.8L1591.1 371.4L1592.5 365.9L1593.8 360.4L1595.2 354.8L1596.6 349.3L1598.0 343.7L1599.4 338.2L1600.8 332.7L1602.2 327.2L1603.5 321.6L1604.9 315.8L1606.3 310.1L1607.7 304.4L1609.1 298.9L1610.5 293.7L1611.9 288.8L1613.3 284.4L1614.6 280.3L1616.0 276.5L1617.4 272.8L1618.8 269.3L1620.2 265.9L1621.6 262.4L1623.0 258.9L1624.3 255.4L1625.7 251.9L1627.1 248.4L1628.5 244.9L1629.9 241.5L1631.3 238.1L1632.7 234.8L1634.0 231.6L1635.4 228.5L1636.8 225.5L1638.2 222.6L1639.6 219.9L1641.0 217.3L1642.4 214.9L1643.7 212.5L1645.1 210.3L1646.5 208.1L1647.9 206.0L1649.3 204.0L1650.7 202.0L1652.1 200.1L1653.4 198.2L1654.8 196.3L1656.2 194.5L1657.6 192.6L1659.0 190.8L1660.4 188.9L1661.8 187.0L1663.1 185.2L1664.5 183.3L1665.9 181.5L1667.3 179.7L1668.7 177.9L1670.1 176.1L1671.5 174.3L1672.8 172.6L1674.2 170.8L1675.6 169.1L1677.0 167.4L1678.4 165.6L1679.8 163.9L1681.2 162.2L1682.6 160.4L1683.9 158.6L1685.3 157.0L1686.7 155.7L1688.1 154.4L1689.5 153.2L1690.9 152.1L1692.3 151.1L1693.6 150.2L1695.0 149.5L1695.4 149.3" fill="none" stroke="#0072BD" stroke-width="1.70" stroke-linejoin="round"/>
<path d="M1081.0 122.7L1082.4 123.0L1083.8 123.3L1085.2 123.6L1086.6 124.0L1088.0 124.4L1089.3 124.8L1090.7 125.2L1092.1 125.6L1093.5 126.1L1094.9 126.6L1096.3 127.1L1097.7 127.6L1099.0 128.1L1100.4 128.6L1101.8 129.2L1103.2 129.8L1104.6 130.4L1106.0 131.1L1107.4 131.8L1108.7 132.6L1110.1 133.3L1111.5 134.1L1112.9 134.9L1114.3 135.8L1115.7 136.6L1117.1 137.4L1118.4 138.3L1119.8 139.1L1121.2 140.0L1122.6 140.8L1124.0 141.6L1125.4 142.4L1126.8 143.2L1128.2 144.0L1129.5 144.8L1130.9 145.6L1132.3 146.5L1133.7 147.4L1135.1 148.3L1136.5 149.3L1137.9 150.3L1139.2 151.3L1140.6 152.4L1142.0 153.6L1143.4 154.9L1144.8 156.3L1146.2 157.8L1147.6 159.4L1148.9 161.1L1150.3 162.9L1151.7 164.8L1153.1 166.6L1154.5 168.6L1155.9 170.7L1157.3 172.9L1158.6 175.2L1160.0 177.6L1161.4 180.1L1162.8 182.5L1164.2 185.0L1165.6 187.4L1167.0 189.9L1168.3 192.2L1169.7 194.5L1171.1 196.6L1172.5 198.7L1173.9 200.7L1175.3 202.8L1176.7 204.8L1178.0 206.8L1179.4 208.8L1180.8 210.7L1182.2 212.6L1183.6 214.4L1185.0 216.1L1186.4 217.8L1187.7 219.4L1189.1 221.0L1190.5 222.5L1191.9 224.0L1193.3 225.5L1194.7 227.0L1196.1 228.5L1197.5 229.9L1198.8 231.3L1200.2 232.6L1201.6 233.9L1203.0 235.1L1204.4 236.3L1205.8 237.4L1207.2 238.3L1208.5 239.2L1209.9 240.0L1211.3 240.8L1212.7 241.5L1214.1 242.3L1215.5 243.0L1216.9 243.6L1218.2 244.3L1219.6 244.9L1221.0 245.5L1222.4 246.1L1223.8 246.6L1225.2 247.1L1226.6 247.6L1227.9 248.0L1229.3 248.3L1230.7 248.6L1232.1 248.9L1233.5 249.1L1234.9 249.2L1236.3 249.4L1237.6 249.6L1239.0 249.7L1240.4 249.8L1241.8 250.0L1243.2 250.1L1244.6 250.2L1246.0 250.3L1247.3 250.5L1248.7 250.6L1250.1 250.7L1251.5 250.7L1252.9 250.8L1254.3 250.9L1255.7 251.0L1257.0 251.1L1258.4 251.1L1259.8 251.2L1261.2 251.2L1262.6 251.3L1264.0 251.3L1265.4 251.3L1266.8 251.4L1268.1 251.4L1269.5 251.4L1270.9 251.5L1272.3 251.5L1273.7 251.5L1275.1 251.5L1276.5 251.5L1277.8 251.6L1279.2 251.6L1280.6 251.6L1282.0 251.6L1283.4 251.6L1284.8 251.7L1286.2 251.7L1287.5 251.7L1288.9 251.7L1290.3 251.7L1291.7 251.8L1293.1 251.8L1294.5 251.8L1295.9 251.8L1297.2 251.8L1298.6 251.8L1300.0 251.8L1301.4 251.9L1302.8 251.9L1304.2 251.9L1305.6 251.9L1306.9 251.9L1308.3 251.9L1309.7 251.9L1311.1 251.9L1312.5 251.9L1313.9 252.0L1315.3 252.0L1316.6 252.0L1318.0 252.0L1319.4 252.0L1320.8 252.0L1322.2 252.0L1323.6 252.0L1325.0 252.0L1326.3 252.0L1327.7 252.0L1329.1 252.1L1330.5 252.1L1331.9 252.1L1333.3 252.1L1334.7 252.1L1336.1 252.1L1337.4 252.1L1338.8 252.1L1340.2 252.1L1341.6 252.1L1343.0 252.1L1344.4 252.2L1345.8 252.2L1347.1 252.2L1348.5 252.2L1349.9 252.2L1351.3 252.2L1352.7 252.2L1354.1 252.2L1355.5 252.2L1356.8 252.2L1358.2 252.3L1359.6 252.3L1361.0 252.3L1362.4 252.3L1363.8 252.3L1365.2 252.3L1366.5 252.3L1367.9 252.4L1369.3 252.4L1370.7 252.4L1372.1 252.4L1373.5 252.4L1374.9 252.4L1376.2 252.4L1377.6 252.5L1379.0 252.5L1380.4 252.5L1381.8 252.5L1383.2 252.5L1384.6 252.5L1385.9 252.5L1387.3 252.6L1388.7 252.6L1390.1 252.6L1391.5 252.6L1392.9 252.6L1394.3 252.6L1395.6 252.6L1397.0 252.6L1398.4 252.7L1399.8 252.7L1401.2 252.7L1402.6 252.7L1404.0 252.7L1405.4 252.7L1406.7 252.7L1408.1 252.7L1409.5 252.8L1410.9 252.8L1412.3 252.8L1413.7 252.8L1415.1 252.8L1416.4 252.8L1417.8 252.8L1419.2 252.8L1420.6 252.9L1422.0 252.9L1423.4 252.9L1424.8 252.9L1426.1 252.9L1427.5 252.9L1428.9 252.9L1430.3 253.0L1431.7 253.0L1433.1 253.0L1434.5 253.0L1435.8 253.0L1437.2 253.0L1438.6 253.0L1440.0 253.1L1441.4 253.1L1442.8 253.1L1444.2 253.1L1445.5 253.1L1446.9 253.1L1448.3 253.2L1449.7 253.2L1451.1 253.2L1452.5 253.2L1453.9 253.2L1455.2 253.3L1456.6 253.3L1458.0 253.3L1459.4 253.3L1460.8 253.3L1462.2 253.4L1463.6 253.4L1464.9 253.4L1466.3 253.4L1467.7 253.5L1469.1 253.5L1470.5 253.5L1471.9 253.5L1473.3 253.6L1474.7 253.6L1476.0 253.6L1477.4 253.7L1478.8 253.7L1480.2 253.7L1481.6 253.8L1483.0 253.8L1484.4 253.8L1485.7 253.8L1487.1 253.9L1488.5 253.9L1489.9 254.0L1491.3 254.0L1492.7 254.0L1494.1 254.1L1495.4 254.1L1496.8 254.2L1498.2 254.2L1499.6 254.3L1501.0 254.4L1502.4 254.6L1503.8 254.7L1505.1 254.9L1506.5 255.0L1507.9 255.2L1509.3 255.4L1510.7 255.6L1512.1 255.8L1513.5 256.0L1514.8 256.2L1516.2 256.4L1517.6 256.6L1519.0 256.8L1520.4 256.9L1521.8 257.1L1523.2 257.3L1524.5 257.4L1525.9 257.5L1527.3 257.6L1528.7 257.7L1530.1 257.8L1531.5 257.8L1532.9 257.8L1534.2 257.8L1535.6 257.7L1537.0 257.6L1538.4 257.3L1539.8 257.1L1541.2 256.8L1542.6 256.4L1544.0 256.0L1545.3 255.6L1546.7 255.1L1548.1 254.6L1549.5 254.0L1550.9 253.5L1552.3 252.9L1553.7 252.2L1555.0 251.6L1556.4 251.0L1557.8 250.3L1559.2 249.6L1560.6 248.9L1562.0 248.1L1563.4 247.1L1564.7 246.0L1566.1 244.8L1567.5 243.5L1568.9 242.2L1570.3 240.9L1571.7 239.6L1573.1 238.2L1574.4 236.7L1575.8 235.1L1577.2 233.5L1578.6 231.9L1580.0 230.2L1581.4 228.5L1582.8 226.8L1584.1 225.0L1585.5 223.2L1586.9 221.4L1588.3 219.6L1589.7 217.8L1591.1 215.9L1592.5 214.1L1593.8 212.1L1595.2 210.1L1596.6 208.0L1598.0 205.9L1599.4 203.8L1600.8 201.7L1602.2 199.6L1603.5 197.5L1604.9 195.4L1606.3 193.4L1607.7 191.4L1609.1 189.5L1610.5 187.6L1611.9 185.9L1613.3 184.1L1614.6 182.3L1616.0 180.6L1617.4 178.9L1618.8 177.2L1620.2 175.5L1621.6 173.9L1623.0 172.3L1624.3 170.8L1625.7 169.2L1627.1 167.8L1628.5 166.3L1629.9 165.0L1631.3 163.6L1632.7 162.4L1634.0 161.1L1635.4 159.9L1636.8 158.7L1638.2 157.5L1639.6 156.3L1641.0 155.2L1642.4 154.1L1643.7 153.1L1645.1 152.0L1646.5 151.0L1647.9 150.0L1649.3 149.1L1650.7 148.2L1652.1 147.2L1653.4 146.4L1654.8 145.5L1656.2 144.6L1657.6 143.8L1659.0 143.0L1660.4 142.2L1661.8 141.4L1663.1 140.6L1664.5 139.9L1665.9 139.2L1667.3 138.5L1668.7 137.8L1670.1 137.2L1671.5 136.6L1672.8 136.0L1674.2 135.4L1675.6 134.8L1677.0 134.3L1678.4 133.7L1679.8 133.2L1681.2 132.7L1682.6 132.2L1683.9 131.7L1685.3 131.3L1686.7 130.8L1688.1 130.4L1689.5 130.0L1690.9 129.6L1692.3 129.3L1693.6 128.9L1695.0 128.6L1696.4 128.3L1697.8 128.1L1699.2 127.8L1700.6 127.6L1702.0 127.3L1703.3 127.1L1704.7 126.9L1706.1 126.6L1707.5 126.3L1708.9 126.1L1710.3 125.8L1711.7 125.5L1713.0 125.1L1714.4 124.7L1715.8 124.3L1717.2 123.9" fill="none" stroke="#D95319" stroke-width="1.70" stroke-linejoin="round"/>
<path d="M1075.5 113.1L1076.9 113.3L1078.3 113.4L1079.6 113.6L1081.0 113.7L1082.4 113.9L1083.8 114.1L1085.2 114.3L1086.6 114.4L1088.0 114.6L1089.3 114.8L1090.7 115.0L1092.1 115.2L1093.5 115.4L1094.9 115.6L1096.3 115.8L1097.7 116.0L1099.0 116.3L1100.4 116.5L1101.8 116.7L1103.2 116.9L1104.6 117.1L1106.0 117.4L1107.4 117.6L1108.7 117.9L1110.1 118.1L1111.5 118.4L1112.9 118.6L1114.3 118.9L1115.7 119.2L1117.1 119.4L1118.4 119.7L1119.8 120.0L1121.2 120.3L1122.6 120.6L1124.0 121.0L1125.4 121.3L1126.8 121.7L1128.2 122.0L1129.5 122.4L1130.9 122.8L1132.3 123.3L1133.7 123.8L1135.1 124.3L1136.5 124.8L1137.9 125.3L1139.2 125.9L1140.6 126.4L1142.0 127.0L1143.4 127.6L1144.8 128.2L1146.2 128.8L1147.6 129.4L1148.9 130.1L1150.3 130.7L1151.7 131.3L1153.1 131.9L1154.5 132.5L1155.9 133.1L1157.3 133.7L1158.6 134.3L1160.0 134.9L1161.4 135.6L1162.8 136.2L1164.2 136.9L1165.6 137.6L1167.0 138.3L1168.3 138.9L1169.7 139.6L1171.1 140.3L1172.5 140.9L1173.9 141.6L1175.3 142.2L1176.7 142.8L1178.0 143.4L1179.4 144.0L1180.8 144.5L1182.2 145.0L1183.6 145.4L1185.0 145.8L1186.4 146.3L1187.7 146.7L1189.1 147.2L1190.5 147.6L1191.9 148.0L1193.3 148.3L1194.7 148.5L1196.1 148.7L1197.5 148.8L1198.8 148.9L1200.2 149.0L1201.6 149.0L1203.0 149.1L1204.4 149.1L1205.8 149.2L1207.2 149.2L1208.5 149.2L1209.9 149.3L1211.3 149.3L1212.7 149.3L1214.1 149.3L1215.5 149.4L1216.9 149.4L1218.2 149.4L1219.6 149.4L1221.0 149.4L1222.4 149.4L1223.8 149.4L1225.2 149.4L1226.6 149.4L1227.9 149.4L1229.3 149.4L1230.7 149.4L1232.1 149.4L1233.5 149.4L1234.9 149.4L1236.3 149.4L1237.6 149.4L1239.0 149.4L1240.4 149.4L1241.8 149.4L1243.2 149.4L1244.6 149.4L1246.0 149.4L1247.3 149.3L1248.7 149.3L1250.1 149.3L1251.5 149.3L1252.9 149.3L1254.3 149.3L1255.7 149.3L1257.0 149.3L1258.4 149.3L1259.8 149.3L1261.2 149.3L1262.6 149.2L1264.0 149.2L1265.4 149.2L1266.8 149.2L1268.1 149.2L1269.5 149.2L1270.9 149.2L1272.3 149.2L1273.7 149.2L1275.1 149.2L1276.5 149.1L1277.8 149.1L1279.2 149.1L1280.6 149.1L1282.0 149.1L1283.4 149.1L1284.8 149.1L1286.2 149.1L1287.5 149.1L1288.9 149.1L1290.3 149.0L1291.7 149.0L1293.1 149.0L1294.5 149.0L1295.9 149.0L1297.2 149.0L1298.6 149.0L1300.0 149.0L1301.4 149.0L1302.8 149.0L1304.2 149.0L1305.6 149.0L1306.9 149.0L1308.3 149.0L1309.7 149.0L1311.1 149.0L1312.5 148.9L1313.9 148.9L1315.3 148.9L1316.6 148.9L1318.0 148.9L1319.4 148.9L1320.8 148.9L1322.2 148.9L1323.6 148.9L1325.0 148.9L1326.3 148.9L1327.7 148.9L1329.1 148.9L1330.5 148.9L1331.9 148.9L1333.3 148.9L1334.7 148.9L1336.1 148.9L1337.4 148.9L1338.8 148.9L1340.2 148.9L1341.6 148.9L1343.0 148.9L1344.4 148.8L1345.8 148.8L1347.1 148.8L1348.5 148.8L1349.9 148.8L1351.3 148.8L1352.7 148.8L1354.1 148.8L1355.5 148.8L1356.8 148.8L1358.2 148.8L1359.6 148.8L1361.0 148.8L1362.4 148.8L1363.8 148.8L1365.2 148.8L1366.5 148.8L1367.9 148.8L1369.3 148.8L1370.7 148.8L1372.1 148.8L1373.5 148.8L1374.9 148.8L1376.2 148.8L1377.6 148.8L1379.0 148.8L1380.4 148.8L1381.8 148.8L1383.2 148.8L1384.6 148.7L1385.9 148.7L1387.3 148.7L1388.7 148.7L1390.1 148.7L1391.5 148.7L1392.9 148.7L1394.3 148.7L1395.6 148.7L1397.0 148.7L1398.4 148.7L1399.8 148.7L1401.2 148.7L1402.6 148.7L1404.0 148.7L1405.4 148.7L1406.7 148.7L1408.1 148.7L1409.5 148.7L1410.9 148.7L1412.3 148.7L1413.7 148.7L1415.1 148.7L1416.4 148.7L1417.8 148.6L1419.2 148.6L1420.6 148.6L1422.0 148.6L1423.4 148.6L1424.8 148.6L1426.1 148.6L1427.5 148.6L1428.9 148.6L1430.3 148.6L1431.7 148.6L1433.1 148.6L1434.5 148.6L1435.8 148.6L1437.2 148.6L1438.6 148.6L1440.0 148.6L1441.4 148.6L1442.8 148.5L1444.2 148.5L1445.5 148.5L1446.9 148.5L1448.3 148.5L1449.7 148.5L1451.1 148.5L1452.5 148.5L1453.9 148.5L1455.2 148.5L1456.6 148.4L1458.0 148.4L1459.4 148.4L1460.8 148.4L1462.2 148.4L1463.6 148.4L1464.9 148.4L1466.3 148.3L1467.7 148.3L1469.1 148.3L1470.5 148.3L1471.9 148.3L1473.3 148.3L1474.7 148.3L1476.0 148.3L1477.4 148.2L1478.8 148.2L1480.2 148.2L1481.6 148.2L1483.0 148.2L1484.4 148.2L1485.7 148.2L1487.1 148.2L1488.5 148.2L1489.9 148.2L1491.3 148.1L1492.7 148.1L1494.1 148.1L1495.4 148.1L1496.8 148.1L1498.2 148.1L1499.6 148.1L1501.0 148.1L1502.4 148.2L1503.8 148.4L1505.1 148.5L1506.5 148.8L1507.9 149.1L1509.3 149.4L1510.7 149.7L1512.1 150.1L1513.5 150.5L1514.8 150.9L1516.2 151.3L1517.6 151.8L1519.0 152.2L1520.4 152.6L1521.8 153.1L1523.2 153.5L1524.5 153.9L1525.9 154.2L1527.3 154.6L1528.7 154.9L1530.1 155.2L1531.5 155.4L1532.9 155.7L1534.2 156.0L1535.6 156.3L1537.0 156.5L1538.4 156.8L1539.8 157.1L1541.2 157.3L1542.6 157.6L1544.0 157.8L1545.3 158.0L1546.7 158.1L1548.1 158.2L1549.5 158.3L1550.9 158.3L1552.3 158.2L1553.7 157.9L1555.0 157.5L1556.4 157.1L1557.8 156.6L1559.2 156.1L1560.6 155.7L1562.0 155.3L1563.4 155.0L1564.7 154.6L1566.1 154.2L1567.5 153.7L1568.9 153.3L1570.3 152.8L1571.7 152.3L1573.1 151.7L1574.4 151.1L1575.8 150.4L1577.2 149.7L1578.6 149.0L1580.0 148.3L1581.4 147.6L1582.8 146.8L1584.1 146.1L1585.5 145.3L1586.9 144.6L1588.3 143.8L1589.7 143.1L1591.1 142.4L1592.5 141.7L1593.8 141.0L1595.2 140.3L1596.6 139.6L1598.0 138.9L1599.4 138.2L1600.8 137.5L1602.2 136.8L1603.5 136.0L1604.9 135.4L1606.3 134.7L1607.7 134.0L1609.1 133.3L1610.5 132.6L1611.9 132.0L1613.3 131.3L1614.6 130.6L1616.0 129.9L1617.4 129.2L1618.8 128.6L1620.2 127.9L1621.6 127.2L1623.0 126.6L1624.3 126.0L1625.7 125.4L1627.1 124.8L1628.5 124.2L1629.9 123.7L1631.3 123.2L1632.7 122.8L1634.0 122.3L1635.4 121.9L1636.8 121.4L1638.2 121.0L1639.6 120.6L1641.0 120.2L1642.4 119.8L1643.7 119.5L1645.1 119.1L1646.5 118.8L1647.9 118.5L1649.3 118.1L1650.7 117.9L1652.1 117.6L1653.4 117.3L1654.8 117.1L1656.2 116.9L1657.6 116.7L1659.0 116.4L1660.4 116.2L1661.8 116.0L1663.1 115.9L1664.5 115.7L1665.9 115.5L1667.3 115.3L1668.7 115.1L1670.1 114.9L1671.5 114.7L1672.8 114.5L1674.2 114.4L1675.6 114.2L1677.0 114.0L1678.4 113.8L1679.8 113.6L1681.2 113.4L1682.6 113.2L1683.9 113.1L1685.3 112.9L1686.7 112.7L1688.1 112.6L1689.5 112.4L1690.9 112.3L1692.3 112.1L1693.6 112.0L1695.0 111.8" fill="none" stroke="#EDB120" stroke-width="1.70" stroke-linejoin="round"/>
<path d="M1075.5 109.0L1076.9 109.0L1078.3 109.1L1079.6 109.2L1081.0 109.2L1082.4 109.3L1083.8 109.3L1085.2 109.4L1086.6 109.5L1088.0 109.6L1089.3 109.6L1090.7 109.7L1092.1 109.8L1093.5 109.9L1094.9 110.0L1096.3 110.0L1097.7 110.1L1099.0 110.2L1100.4 110.3L1101.8 110.4L1103.2 110.5L1104.6 110.6L1106.0 110.7L1107.4 110.8L1108.7 110.9L1110.1 111.0L1111.5 111.1L1112.9 111.2L1114.3 111.3L1115.7 111.4L1117.1 111.5L1118.4 111.6L1119.8 111.7L1121.2 111.9L1122.6 112.0L1124.0 112.1L1125.4 112.2L1126.8 112.3L1128.2 112.4L1129.5 112.5L1130.9 112.7L1132.3 112.8L1133.7 112.9L1135.1 113.1L1136.5 113.2L1137.9 113.4L1139.2 113.5L1140.6 113.7L1142.0 113.8L1143.4 114.0L1144.8 114.2L1146.2 114.3L1147.6 114.5L1148.9 114.7L1150.3 114.8L1151.7 115.0L1153.1 115.2L1154.5 115.3L1155.9 115.5L1157.3 115.7L1158.6 115.9L1160.0 116.0L1161.4 116.2L1162.8 116.4L1164.2 116.5L1165.6 116.7L1167.0 116.8L1168.3 117.0L1169.7 117.2L1171.1 117.3L1172.5 117.5L1173.9 117.7L1175.3 117.8L1176.7 118.0L1178.0 118.2L1179.4 118.4L1180.8 118.6L1182.2 118.8L1183.6 119.0L1185.0 119.1L1186.4 119.3L1187.7 119.5L1189.1 119.6L1190.5 119.7L1191.9 119.8L1193.3 119.9L1194.7 120.0L1196.1 120.0L1197.5 120.0L1198.8 120.0L1200.2 120.0L1201.6 120.0L1203.0 120.0L1204.4 120.0L1205.8 119.9L1207.2 119.9L1208.5 119.9L1209.9 119.8L1211.3 119.8L1212.7 119.7L1214.1 119.7L1215.5 119.6L1216.9 119.6L1218.2 119.5L1219.6 119.5L1221.0 119.4L1222.4 119.4L1223.8 119.3L1225.2 119.2L1226.6 119.1L1227.9 119.0L1229.3 118.9L1230.7 118.8L1232.1 118.7L1233.5 118.5L1234.9 118.3L1236.3 118.2L1237.6 118.0L1239.0 117.8L1240.4 117.7L1241.8 117.5L1243.2 117.3L1244.6 117.2L1246.0 117.0L1247.3 116.9L1248.7 116.8L1250.1 116.7L1251.5 116.6L1252.9 116.5L1254.3 116.4L1255.7 116.3L1257.0 116.2L1258.4 116.2L1259.8 116.1L1261.2 116.0L1262.6 115.9L1264.0 115.8L1265.4 115.7L1266.8 115.7L1268.1 115.6L1269.5 115.5L1270.9 115.4L1272.3 115.4L1273.7 115.3L1275.1 115.2L1276.5 115.2L1277.8 115.1L1279.2 115.0L1280.6 115.0L1282.0 114.9L1283.4 114.9L1284.8 114.8L1286.2 114.8L1287.5 114.7L1288.9 114.7L1290.3 114.6L1291.7 114.6L1293.1 114.6L1294.5 114.5L1295.9 114.5L1297.2 114.5L1298.6 114.5L1300.0 114.4L1301.4 114.4L1302.8 114.4L1304.2 114.4L1305.6 114.4L1306.9 114.4L1308.3 114.4L1309.7 114.4L1311.1 114.3L1312.5 114.3L1313.9 114.3L1315.3 114.3L1316.6 114.3L1318.0 114.3L1319.4 114.3L1320.8 114.3L1322.2 114.3L1323.6 114.3L1325.0 114.2L1326.3 114.2L1327.7 114.2L1329.1 114.2L1330.5 114.2L1331.9 114.2L1333.3 114.2L1334.7 114.2L1336.1 114.2L1337.4 114.2L1338.8 114.2L1340.2 114.1L1341.6 114.1L1343.0 114.1L1344.4 114.1L1345.8 114.1L1347.1 114.1L1348.5 114.1L1349.9 114.1L1351.3 114.1L1352.7 114.1L1354.1 114.1L1355.5 114.1L1356.8 114.1L1358.2 114.0L1359.6 114.0L1361.0 114.0L1362.4 114.0L1363.8 114.0L1365.2 114.0L1366.5 114.0L1367.9 114.0L1369.3 114.0L1370.7 114.0L1372.1 114.0L1373.5 114.0L1374.9 114.0L1376.2 114.0L1377.6 114.0L1379.0 114.0L1380.4 114.0L1381.8 114.0L1383.2 113.9L1384.6 113.9L1385.9 113.9L1387.3 113.9L1388.7 113.9L1390.1 113.9L1391.5 113.9L1392.9 113.9L1394.3 113.9L1395.6 113.9L1397.0 113.9L1398.4 113.9L1399.8 113.9L1401.2 113.9L1402.6 113.9L1404.0 113.9L1405.4 113.9L1406.7 113.9L1408.1 113.9L1409.5 113.9L1410.9 113.9L1412.3 113.9L1413.7 113.9L1415.1 113.9L1416.4 113.9L1417.8 113.9L1419.2 113.9L1420.6 113.9L1422.0 113.9L1423.4 113.9L1424.8 113.9L1426.1 113.9L1427.5 113.9L1428.9 113.9L1430.3 113.9L1431.7 113.9L1433.1 113.9L1434.5 113.9L1435.8 113.9L1437.2 113.9L1438.6 113.9L1440.0 113.9L1441.4 113.9L1442.8 113.9L1444.2 113.9L1445.5 113.9L1446.9 113.9L1448.3 113.9L1449.7 113.9L1451.1 113.9L1452.5 114.0L1453.9 114.0L1455.2 114.0L1456.6 114.1L1458.0 114.1L1459.4 114.1L1460.8 114.2L1462.2 114.2L1463.6 114.2L1464.9 114.3L1466.3 114.3L1467.7 114.4L1469.1 114.4L1470.5 114.5L1471.9 114.5L1473.3 114.6L1474.7 114.6L1476.0 114.7L1477.4 114.8L1478.8 114.8L1480.2 114.9L1481.6 114.9L1483.0 115.0L1484.4 115.1L1485.7 115.1L1487.1 115.2L1488.5 115.3L1489.9 115.3L1491.3 115.4L1492.7 115.5L1494.1 115.5L1495.4 115.6L1496.8 115.7L1498.2 115.8L1499.6 115.8L1501.0 115.9L1502.4 116.0L1503.8 116.1L1505.1 116.3L1506.5 116.4L1507.9 116.6L1509.3 116.7L1510.7 116.9L1512.1 117.1L1513.5 117.3L1514.8 117.5L1516.2 117.7L1517.6 117.9L1519.0 118.1L1520.4 118.3L1521.8 118.5L1523.2 118.8L1524.5 119.0L1525.9 119.2L1527.3 119.4L1528.7 119.6L1530.1 119.7L1531.5 119.9L1532.9 120.1L1534.2 120.2L1535.6 120.4L1537.0 120.5L1538.4 120.6L1539.8 120.7L1541.2 120.7L1542.6 120.8L1544.0 120.9L1545.3 120.9L1546.7 121.0L1548.1 121.0L1549.5 121.1L1550.9 121.1L1552.3 121.2L1553.7 121.2L1555.0 121.2L1556.4 121.3L1557.8 121.3L1559.2 121.3L1560.6 121.4L1562.0 121.4L1563.4 121.4L1564.7 121.4L1566.1 121.4L1567.5 121.5L1568.9 121.5L1570.3 121.4L1571.7 121.4L1573.1 121.3L1574.4 121.1L1575.8 121.0L1577.2 120.8L1578.6 120.5L1580.0 120.3L1581.4 120.1L1582.8 119.8L1584.1 119.5L1585.5 119.2L1586.9 118.9L1588.3 118.6L1589.7 118.4L1591.1 118.1L1592.5 117.8L1593.8 117.5L1595.2 117.3L1596.6 117.1L1598.0 116.8L1599.4 116.6L1600.8 116.3L1602.2 116.0L1603.5 115.8L1604.9 115.5L1606.3 115.2L1607.7 114.9L1609.1 114.6L1610.5 114.3L1611.9 114.1L1613.3 113.8L1614.6 113.6L1616.0 113.3L1617.4 113.1L1618.8 112.9L1620.2 112.7L1621.6 112.6L1623.0 112.5L1624.3 112.4L1625.7 112.3L1627.1 112.2L1628.5 112.1L1629.9 112.0L1631.3 112.0L1632.7 111.9L1634.0 111.8L1635.4 111.8L1636.8 111.7L1638.2 111.7L1639.6 111.6L1641.0 111.6L1642.4 111.5L1643.7 111.5L1645.1 111.4L1646.5 111.3L1647.9 111.3L1649.3 111.2L1650.7 111.1L1652.1 111.0L1653.4 111.0L1654.8 110.8L1656.2 110.7L1657.6 110.6L1659.0 110.5L1660.4 110.4L1661.8 110.3L1663.1 110.1L1664.5 110.0L1665.9 109.9L1667.3 109.8L1668.7 109.6L1670.1 109.5L1671.5 109.4L1672.8 109.3L1674.2 109.2L1675.6 109.1L1677.0 109.1L1678.4 109.0L1679.8 108.9L1681.2 108.9L1682.6 108.8L1683.9 108.7L1685.3 108.7L1686.7 108.6L1688.1 108.6L1689.5 108.5L1690.9 108.5L1692.3 108.5L1693.6 108.4L1695.0 108.4" fill="none" stroke="#7E2F8E" stroke-width="1.70" stroke-linejoin="round"/>
<path d="M1075.5 109.0L1076.9 109.0L1078.3 109.0L1079.6 109.0L1081.0 109.0L1082.4 109.0L1083.8 109.0L1085.2 109.0L1086.6 109.0L1088.0 109.0L1089.3 109.0L1090.7 109.0L1092.1 109.0L1093.5 109.0L1094.9 109.0L1096.3 109.0L1097.7 109.0L1099.0 109.1L1100.4 109.1L1101.8 109.1L1103.2 109.1L1104.6 109.1L1106.0 109.1L1107.4 109.1L1108.7 109.1L1110.1 109.1L1111.5 109.1L1112.9 109.1L1114.3 109.1L1115.7 109.1L1117.1 109.2L1118.4 109.2L1119.8 109.2L1121.2 109.2L1122.6 109.2L1124.0 109.2L1125.4 109.2L1126.8 109.2L1128.2 109.2L1129.5 109.2L1130.9 109.2L1132.3 109.2L1133.7 109.3L1135.1 109.3L1136.5 109.3L1137.9 109.3L1139.2 109.3L1140.6 109.3L1142.0 109.3L1143.4 109.3L1144.8 109.4L1146.2 109.4L1147.6 109.4L1148.9 109.4L1150.3 109.4L1151.7 109.5L1153.1 109.5L1154.5 109.5L1155.9 109.5L1157.3 109.5L1158.6 109.6L1160.0 109.6L1161.4 109.6L1162.8 109.6L1164.2 109.6L1165.6 109.6L1167.0 109.7L1168.3 109.7L1169.7 109.7L1171.1 109.7L1172.5 109.7L1173.9 109.7L1175.3 109.7L1176.7 109.7L1178.0 109.7L1179.4 109.7L1180.8 109.7L1182.2 109.6L1183.6 109.6L1185.0 109.6L1186.4 109.5L1187.7 109.5L1189.1 109.4L1190.5 109.4L1191.9 109.3L1193.3 109.3L1194.7 109.2L1196.1 109.2L1197.5 109.1L1198.8 109.0L1200.2 109.0L1201.6 108.9L1203.0 108.8L1204.4 108.7L1205.8 108.7L1207.2 108.6L1208.5 108.5L1209.9 108.5L1211.3 108.4L1212.7 108.3L1214.1 108.3L1215.5 108.2L1216.9 108.2L1218.2 108.1L1219.6 108.1L1221.0 108.0L1222.4 108.0L1223.8 107.9L1225.2 107.9L1226.6 107.8L1227.9 107.8L1229.3 107.7L1230.7 107.7L1232.1 107.6L1233.5 107.6L1234.9 107.5L1236.3 107.5L1237.6 107.4L1239.0 107.4L1240.4 107.3L1241.8 107.3L1243.2 107.2L1244.6 107.2L1246.0 107.1L1247.3 107.1L1248.7 107.0L1250.1 107.0L1251.5 106.9L1252.9 106.9L1254.3 106.9L1255.7 106.8L1257.0 106.8L1258.4 106.7L1259.8 106.7L1261.2 106.7L1262.6 106.6L1264.0 106.6L1265.4 106.6L1266.8 106.5L1268.1 106.5L1269.5 106.5L1270.9 106.4L1272.3 106.4L1273.7 106.4L1275.1 106.4L1276.5 106.4L1277.8 106.3L1279.2 106.3L1280.6 106.3L1282.0 106.3L1283.4 106.3L1284.8 106.2L1286.2 106.2L1287.5 106.2L1288.9 106.2L1290.3 106.2L1291.7 106.1L1293.1 106.1L1294.5 106.1L1295.9 106.1L1297.2 106.1L1298.6 106.1L1300.0 106.0L1301.4 106.0L1302.8 106.0L1304.2 106.0L1305.6 106.0L1306.9 106.0L1308.3 105.9L1309.7 105.9L1311.1 105.9L1312.5 105.9L1313.9 105.9L1315.3 105.9L1316.6 105.8L1318.0 105.8L1319.4 105.8L1320.8 105.8L1322.2 105.8L1323.6 105.8L1325.0 105.8L1326.3 105.8L1327.7 105.7L1329.1 105.7L1330.5 105.7L1331.9 105.7L1333.3 105.7L1334.7 105.7L1336.1 105.7L1337.4 105.7L1338.8 105.7L1340.2 105.6L1341.6 105.6L1343.0 105.6L1344.4 105.6L1345.8 105.6L1347.1 105.6L1348.5 105.6L1349.9 105.6L1351.3 105.6L1352.7 105.6L1354.1 105.6L1355.5 105.6L1356.8 105.6L1358.2 105.6L1359.6 105.6L1361.0 105.6L1362.4 105.5L1363.8 105.5L1365.2 105.5L1366.5 105.5L1367.9 105.5L1369.3 105.5L1370.7 105.5L1372.1 105.5L1373.5 105.5L1374.9 105.5L1376.2 105.5L1377.6 105.5L1379.0 105.5L1380.4 105.5L1381.8 105.5L1383.2 105.5L1384.6 105.5L1385.9 105.5L1387.3 105.5L1388.7 105.6L1390.1 105.6L1391.5 105.6L1392.9 105.6L1394.3 105.6L1395.6 105.6L1397.0 105.6L1398.4 105.6L1399.8 105.6L1401.2 105.6L1402.6 105.6L1404.0 105.6L1405.4 105.6L1406.7 105.6L1408.1 105.6L1409.5 105.6L1410.9 105.6L1412.3 105.6L1413.7 105.6L1415.1 105.6L1416.4 105.6L1417.8 105.6L1419.2 105.6L1420.6 105.6L1422.0 105.6L1423.4 105.6L1424.8 105.6L1426.1 105.6L1427.5 105.6L1428.9 105.7L1430.3 105.7L1431.7 105.7L1433.1 105.7L1434.5 105.7L1435.8 105.7L1437.2 105.7L1438.6 105.7L1440.0 105.7L1441.4 105.7L1442.8 105.7L1444.2 105.7L1445.5 105.7L1446.9 105.7L1448.3 105.7L1449.7 105.7L1451.1 105.7L1452.5 105.7L1453.9 105.8L1455.2 105.8L1456.6 105.8L1458.0 105.8L1459.4 105.8L1460.8 105.8L1462.2 105.8L1463.6 105.8L1464.9 105.8L1466.3 105.8L1467.7 105.8L1469.1 105.8L1470.5 105.8L1471.9 105.9L1473.3 105.9L1474.7 105.9L1476.0 105.9L1477.4 105.9L1478.8 105.9L1480.2 105.9L1481.6 105.9L1483.0 106.0L1484.4 106.0L1485.7 106.0L1487.1 106.0L1488.5 106.0L1489.9 106.0L1491.3 106.1L1492.7 106.1L1494.1 106.1L1495.4 106.1L1496.8 106.2L1498.2 106.2L1499.6 106.2L1501.0 106.2L1502.4 106.3L1503.8 106.3L1505.1 106.3L1506.5 106.3L1507.9 106.4L1509.3 106.4L1510.7 106.4L1512.1 106.5L1513.5 106.5L1514.8 106.6L1516.2 106.6L1517.6 106.7L1519.0 106.7L1520.4 106.8L1521.8 106.9L1523.2 107.0L1524.5 107.0L1525.9 107.1L1527.3 107.2L1528.7 107.3L1530.1 107.4L1531.5 107.5L1532.9 107.5L1534.2 107.6L1535.6 107.7L1537.0 107.8L1538.4 107.9L1539.8 108.0L1541.2 108.1L1542.6 108.1L1544.0 108.2L1545.3 108.3L1546.7 108.4L1548.1 108.4L1549.5 108.5L1550.9 108.6L1552.3 108.6L1553.7 108.7L1555.0 108.7L1556.4 108.8L1557.8 108.9L1559.2 108.9L1560.6 109.0L1562.0 109.0L1563.4 109.1L1564.7 109.2L1566.1 109.2L1567.5 109.3L1568.9 109.4L1570.3 109.4L1571.7 109.5L1573.1 109.5L1574.4 109.6L1575.8 109.6L1577.2 109.7L1578.6 109.7L1580.0 109.8L1581.4 109.8L1582.8 109.9L1584.1 109.9L1585.5 109.9L1586.9 109.9L1588.3 110.0L1589.7 110.0L1591.1 110.0L1592.5 110.0L1593.8 110.0L1595.2 110.0L1596.6 110.0L1598.0 110.0L1599.4 109.9L1600.8 109.9L1602.2 109.9L1603.5 109.9L1604.9 109.9L1606.3 109.8L1607.7 109.8L1609.1 109.8L1610.5 109.8L1611.9 109.7L1613.3 109.7L1614.6 109.7L1616.0 109.6L1617.4 109.6L1618.8 109.6L1620.2 109.6L1621.6 109.5L1623.0 109.5L1624.3 109.5L1625.7 109.4L1627.1 109.4L1628.5 109.3L1629.9 109.3L1631.3 109.2L1632.7 109.2L1634.0 109.1L1635.4 109.1L1636.8 109.0L1638.2 109.0L1639.6 108.9L1641.0 108.9L1642.4 108.8L1643.7 108.8L1645.1 108.7L1646.5 108.7L1647.9 108.6L1649.3 108.6L1650.7 108.5L1652.1 108.5L1653.4 108.4L1654.8 108.3L1656.2 108.3L1657.6 108.3L1659.0 108.2L1660.4 108.2L1661.8 108.1L1663.1 108.1L1664.5 108.0L1665.9 108.0L1667.3 108.0L1668.7 107.9L1670.1 107.9L1671.5 107.8L1672.8 107.8L1674.2 107.8L1675.6 107.7L1677.0 107.7L1678.4 107.7L1679.8 107.6L1681.2 107.6L1682.6 107.6L1683.9 107.5L1685.3 107.5L1686.7 107.5L1688.1 107.4L1689.5 107.4L1690.9 107.4L1692.3 107.3L1693.6 107.3L1695.0 107.3" fill="none" stroke="#77AC30" stroke-width="1.70" stroke-linejoin="round"/>
<path d="M1072.7 145.1L1074.1 146.0L1075.5 147.0L1076.9 148.0L1078.3 149.1L1079.6 150.2L1081.0 151.4L1082.4 152.6L1083.8 153.9L1085.2 155.2L1086.6 156.5L1088.0 157.9L1089.3 159.3L1090.7 160.8L1092.1 162.3L1093.5 163.8L1094.9 165.3L1096.3 167.0L1097.7 168.7L1099.0 170.5L1100.4 172.4L1101.8 174.3L1103.2 176.3L1104.6 178.3L1106.0 180.3L1107.4 182.4L1108.7 184.6L1110.1 186.7L1111.5 188.9L1112.9 191.0L1114.3 193.2L1115.7 195.3L1117.1 197.5L1118.4 199.7L1119.8 201.9L1121.2 204.3L1122.6 206.6L1124.0 209.1L1125.4 211.7L1126.8 214.4L1128.2 217.2L1129.5 220.2L1130.9 223.3L1132.3 226.7L1133.7 230.4L1135.1 234.5L1136.5 238.8L1137.9 243.3L1139.2 247.9L1140.6 252.6L1142.0 257.3L1143.4 262.0L1144.8 266.6L1146.2 271.4L1147.6 276.1L1148.9 281.0L1150.3 285.9L1151.7 290.9L1153.1 296.1L1154.5 301.3L1155.9 306.7L1157.3 312.2L1158.6 317.9L1160.0 324.0L1161.4 330.3L1162.8 336.8L1164.2 343.3L1165.6 349.9L1167.0 356.4L1168.3 362.7L1169.7 368.8L1171.1 374.6L1172.5 380.1L1173.9 385.6L1175.3 391.0L1176.7 396.3L1178.0 401.4L1179.4 406.3L1180.8 411.0L1182.2 415.4L1183.6 419.7L1185.0 423.7L1186.4 427.6L1187.7 431.3L1189.1 435.0L1190.5 438.5L1191.9 442.1L1193.3 445.6L1194.7 449.1L1196.1 452.7L1197.5 456.3L1198.8 459.8L1200.2 463.3L1201.6 466.7L1203.0 470.1L1204.4 473.3L1205.8 476.4L1207.2 479.4L1208.5 482.4L1209.9 485.4L1211.3 488.3L1212.7 491.1L1214.1 493.6L1215.5 495.9L1216.9 497.9L1218.2 499.6L1219.6 501.3L1221.0 502.8L1222.4 504.3L1223.8 505.7L1225.2 507.0L1226.6 508.3L1227.9 509.4L1229.3 510.6L1230.7 511.6L1232.1 512.7L1233.5 513.7L1234.9 514.6L1236.3 515.6L1237.6 516.6L1239.0 517.5L1240.4 518.4L1241.8 519.3L1243.2 520.2L1244.6 521.0L1246.0 521.8L1247.3 522.5L1248.7 523.2L1250.1 523.9L1251.5 524.5L1252.9 525.0L1254.3 525.5L1255.7 525.8L1257.0 526.2L1258.4 526.5L1259.8 526.9L1261.2 527.2L1262.6 527.5L1264.0 527.8L1265.4 528.1L1266.8 528.3L1268.1 528.6L1269.5 528.8L1270.9 529.0L1272.3 529.2L1273.7 529.3L1275.1 529.5L1276.5 529.6L1277.8 529.7L1279.2 529.7L1280.6 529.8L1282.0 529.8L1283.4 529.8L1284.8 529.8L1286.2 529.9L1287.5 529.9L1288.9 529.9L1290.3 530.0L1291.7 530.0L1293.1 530.0L1294.5 530.1L1295.9 530.1L1297.2 530.1L1298.6 530.1L1300.0 530.2L1301.4 530.2L1302.8 530.2L1304.2 530.2L1305.6 530.3L1306.9 530.3L1308.3 530.3L1309.7 530.3L1311.1 530.3L1312.5 530.4L1313.9 530.4L1315.3 530.4L1316.6 530.4L1318.0 530.4L1319.4 530.4L1320.8 530.5L1322.2 530.5L1323.6 530.5L1325.0 530.5L1326.3 530.5L1327.7 530.5L1329.1 530.5L1330.5 530.6L1331.9 530.6L1333.3 530.6L1334.7 530.6L1336.1 530.6L1337.4 530.6L1338.8 530.6L1340.2 530.6L1341.6 530.6L1343.0 530.6L1344.4 530.7L1345.8 530.7L1347.1 530.7L1348.5 530.7L1349.9 530.7L1351.3 530.7L1352.7 530.7L1354.1 530.7L1355.5 530.7L1356.8 530.7L1358.2 530.7L1359.6 530.7L1361.0 530.7L1362.4 530.7L1363.8 530.7L1365.2 530.7L1366.5 530.7L1367.9 530.7L1369.3 530.7L1370.7 530.7L1372.1 530.7L1373.5 530.7L1374.9 530.7L1376.2 530.7L1377.6 530.7L1379.0 530.7L1380.4 530.7L1381.8 530.7L1383.2 530.7L1384.6 530.7L1385.9 530.7L1387.3 530.7L1388.7 530.7L1390.1 530.7L1391.5 530.7L1392.9 530.7L1394.3 530.7L1395.6 530.7L1397.0 530.7L1398.4 530.7L1399.8 530.7L1401.2 530.7L1402.6 530.7L1404.0 530.7L1405.4 530.7L1406.7 530.7L1408.1 530.7L1409.5 530.7L1410.9 530.7L1412.3 530.7L1413.7 530.7L1415.1 530.7L1416.4 530.7L1417.8 530.7L1419.2 530.7L1420.6 530.7L1422.0 530.7L1423.4 530.7L1424.8 530.7L1426.1 530.7L1427.5 530.7L1428.9 530.7L1430.3 530.7L1431.7 530.7L1433.1 530.7L1434.5 530.7L1435.8 530.7L1437.2 530.7L1438.6 530.7L1440.0 530.7L1441.4 530.7L1442.8 530.7L1444.2 530.7L1445.5 530.7L1446.9 530.7L1448.3 530.7L1449.7 530.7L1451.1 530.7L1452.5 530.7L1453.9 530.7L1455.2 530.7L1456.6 530.7L1458.0 530.7L1459.4 530.7L1460.8 530.7L1462.2 530.7L1463.6 530.7L1464.9 530.7L1466.3 530.7L1467.7 530.7L1469.1 530.7L1470.5 530.7L1471.9 530.7L1473.3 530.7L1474.7 530.7L1476.0 530.7L1477.4 530.7L1478.8 530.7L1480.2 530.7L1481.6 530.7L1483.0 530.7L1484.4 530.7L1485.7 530.7L1487.1 530.7L1488.5 530.7L1489.9 530.7L1491.3 530.7L1492.7 530.7L1494.1 530.7L1495.4 530.7L1496.8 530.7L1498.2 530.7L1499.6 530.6L1501.0 530.5L1502.4 530.3L1503.8 530.2L1505.1 530.0L1506.5 529.9L1507.9 529.7L1509.3 529.5L1510.7 529.3L1512.1 529.2L1513.5 529.0L1514.8 528.7L1516.2 528.5L1517.6 528.3L1519.0 528.0L1520.4 527.7L1521.8 527.4L1523.2 527.0L1524.5 526.7L1525.9 526.3L1527.3 525.8L1528.7 525.3L1530.1 524.8L1531.5 524.3L1532.9 523.7L1534.2 522.9L1535.6 521.8L1537.0 520.5L1538.4 518.9L1539.8 517.2L1541.2 515.3L1542.6 513.4L1544.0 511.4L1545.3 509.3L1546.7 507.1L1548.1 504.6L1549.5 502.0L1550.9 499.2L1552.3 496.3L1553.7 493.3L1555.0 490.1L1556.4 486.9L1557.8 483.5L1559.2 479.9L1560.6 476.2L1562.0 472.3L1563.4 468.2L1564.7 464.1L1566.1 460.0L1567.5 455.7L1568.9 451.4L1570.3 447.0L1571.7 442.4L1573.1 437.7L1574.4 433.0L1575.8 428.1L1577.2 423.2L1578.6 418.3L1580.0 413.2L1581.4 408.1L1582.8 402.8L1584.1 397.4L1585.5 392.0L1586.9 386.6L1588.3 381.1L1589.7 375.6L1591.1 370.2L1592.5 364.6L1593.8 359.1L1595.2 353.4L1596.6 347.8L1598.0 342.3L1599.4 336.7L1600.8 331.3L1602.2 326.0L1603.5 320.6L1604.9 315.2L1606.3 309.8L1607.7 304.5L1609.1 299.4L1610.5 294.6L1611.9 290.0L1613.3 285.9L1614.6 282.1L1616.0 278.5L1617.4 275.2L1618.8 271.9L1620.2 268.7L1621.6 265.3L1623.0 262.0L1624.3 258.6L1625.7 255.3L1627.1 251.9L1628.5 248.5L1629.9 245.2L1631.3 241.9L1632.7 238.7L1634.0 235.6L1635.4 232.5L1636.8 229.6L1638.2 226.8L1639.6 224.1L1641.0 221.6L1642.4 219.2L1643.7 217.0L1645.1 214.8L1646.5 212.7L1647.9 210.7L1649.3 208.7L1650.7 206.8L1652.1 205.0L1653.4 203.1L1654.8 201.3L1656.2 199.5L1657.6 197.7L1659.0 195.8L1660.4 194.0L1661.8 192.1L1663.1 190.1L1664.5 188.1L1665.9 186.0L1667.3 183.9L1668.7 181.9L1670.1 179.8L1671.5 177.7L1672.8 175.7L1674.2 173.7L1675.6 171.8L1677.0 170.0L1678.4 168.3L1679.8 166.6L1681.2 165.1L1682.6 163.8L1683.9 162.5L1685.3 161.3L1686.7 160.2L1688.1 159.2L1689.5 158.1L1690.9 157.2L1692.3 156.3L1693.6 155.3L1695.0 154.4L1696.4 153.5L1697.8 152.7L1699.2 151.8L1700.6 151.0L1702.0 150.2L1703.3 149.4L1704.7 148.7L1706.1 148.0L1707.5 147.3L1708.9 146.6L1710.3 145.9L1711.7 145.3L1713.0 144.7L1714.4 144.1L1715.8 143.5L1717.2 143.0" fill="none" stroke="#0072BD" stroke-width="1.50" stroke-dasharray="9 6" stroke-linejoin="round"/>
<path d="M1081.0 122.7L1082.4 123.0L1083.8 123.3L1085.2 123.6L1086.6 124.0L1088.0 124.4L1089.3 124.8L1090.7 125.2L1092.1 125.6L1093.5 126.1L1094.9 126.6L1096.3 127.1L1097.7 127.6L1099.0 128.1L1100.4 128.6L1101.8 129.2L1103.2 129.8L1104.6 130.4L1106.0 131.1L1107.4 131.8L1108.7 132.6L1110.1 133.3L1111.5 134.1L1112.9 134.9L1114.3 135.8L1115.7 136.6L1117.1 137.4L1118.4 138.3L1119.8 139.1L1121.2 140.0L1122.6 140.8L1124.0 141.6L1125.4 142.4L1126.8 143.2L1128.2 144.0L1129.5 144.8L1130.9 145.6L1132.3 146.5L1133.7 147.4L1135.1 148.3L1136.5 149.3L1137.9 150.3L1139.2 151.3L1140.6 152.4L1142.0 153.6L1143.4 154.9L1144.8 156.3L1146.2 157.8L1147.6 159.4L1148.9 161.1L1150.3 162.9L1151.7 164.8L1153.1 166.6L1154.5 168.6L1155.9 170.7L1157.3 172.9L1158.6 175.2L1160.0 177.6L1161.4 180.1L1162.8 182.5L1164.2 185.0L1165.6 187.4L1167.0 189.9L1168.3 192.2L1169.7 194.5L1171.1 196.6L1172.5 198.7L1173.9 200.7L1175.3 202.8L1176.7 204.8L1178.0 206.8L1179.4 208.8L1180.8 210.7L1182.2 212.6L1183.6 214.4L1185.0 216.1L1186.4 217.8L1187.7 219.4L1189.1 221.0L1190.5 222.5L1191.9 224.0L1193.3 225.5L1194.7 227.0L1196.1 228.5L1197.5 229.9L1198.8 231.3L1200.2 232.6L1201.6 233.9L1203.0 235.1L1204.4 236.3L1205.8 237.4L1207.2 238.3L1208.5 239.2L1209.9 240.0L1211.3 240.8L1212.7 241.5L1214.1 242.3L1215.5 243.0L1216.9 243.6L1218.2 244.3L1219.6 244.9L1221.0 245.5L1222.4 246.1L1223.8 246.6L1225.2 247.1L1226.6 247.6L1227.9 248.0L1229.3 248.3L1230.7 248.6L1232.1 248.9L1233.5 249.1L1234.9 249.2L1236.3 249.4L1237.6 249.6L1239.0 249.7L1240.4 249.8L1241.8 250.0L1243.2 250.1L1244.6 250.2L1246.0 250.3L1247.3 250.5L1248.7 250.6L1250.1 250.7L1251.5 250.7L1252.9 250.8L1254.3 250.9L1255.7 251.0L1257.0 251.1L1258.4 251.1L1259.8 251.2L1261.2 251.2L1262.6 251.3L1264.0 251.3L1265.4 251.3L1266.8 251.4L1268.1 251.4L1269.5 251.4L1270.9 251.5L1272.3 251.5L1273.7 251.5L1275.1 251.5L1276.5 251.5L1277.8 251.6L1279.2 251.6L1280.6 251.6L1282.0 251.6L1283.4 251.6L1284.8 251.7L1286.2 251.7L1287.5 251.7L1288.9 251.7L1290.3 251.7L1291.7 251.8L1293.1 251.8L1294.5 251.8L1295.9 251.8L1297.2 251.8L1298.6 251.8L1300.0 251.8L1301.4 251.9L1302.8 251.9L1304.2 251.9L1305.6 251.9L1306.9 251.9L1308.3 251.9L1309.7 251.9L1311.1 251.9L1312.5 251.9L1313.9 252.0L1315.3 252.0L1316.6 252.0L1318.0 252.0L1319.4 252.0L1320.8 252.0L1322.2 252.0L1323.6 252.0L1325.0 252.0L1326.3 252.0L1327.7 252.0L1329.1 252.1L1330.5 252.1L1331.9 252.1L1333.3 252.1L1334.7 252.1L1336.1 252.1L1337.4 252.1L1338.8 252.1L1340.2 252.1L1341.6 252.1L1343.0 252.1L1344.4 252.2L1345.8 252.2L1347.1 252.2L1348.5 252.2L1349.9 252.2L1351.3 252.2L1352.7 252.2L1354.1 252.2L1355.5 252.2L1356.8 252.2L1358.2 252.3L1359.6 252.3L1361.0 252.3L1362.4 252.3L1363.8 252.3L1365.2 252.3L1366.5 252.3L1367.9 252.4L1369.3 252.4L1370.7 252.4L1372.1 252.4L1373.5 252.4L1374.9 252.4L1376.2 252.4L1377.6 252.5L1379.0 252.5L1380.4 252.5L1381.8 252.5L1383.2 252.5L1384.6 252.5L1385.9 252.5L1387.3 252.6L1388.7 252.6L1390.1 252.6L1391.5 252.6L1392.9 252.6L1394.3 252.6L1395.6 252.6L1397.0 252.6L1398.4 252.7L1399.8 252.7L1401.2 252.7L1402.6 252.7L1404.0 252.7L1405.4 252.7L1406.7 252.7L1408.1 252.7L1409.5 252.8L1410.9 252.8L1412.3 252.8L1413.7 252.8L1415.1 252.8L1416.4 252.8L1417.8 252.8L1419.2 252.8L1420.6 252.9L1422.0 252.9L1423.4 252.9L1424.8 252.9L1426.1 252.9L1427.5 252.9L1428.9 252.9L1430.3 253.0L1431.7 253.0L1433.1 253.0L1434.5 253.0L1435.8 253.0L1437.2 253.0L1438.6 253.0L1440.0 253.1L1441.4 253.1L1442.8 253.1L1444.2 253.1L1445.5 253.1L1446.9 253.1L1448.3 253.2L1449.7 253.2L1451.1 253.2L1452.5 253.2L1453.9 253.2L1455.2 253.3L1456.6 253.3L1458.0 253.3L1459.4 253.3L1460.8 253.3L1462.2 253.4L1463.6 253.4L1464.9 253.4L1466.3 253.4L1467.7 253.5L1469.1 253.5L1470.5 253.5L1471.9 253.5L1473.3 253.6L1474.7 253.6L1476.0 253.6L1477.4 253.7L1478.8 253.7L1480.2 253.7L1481.6 253.8L1483.0 253.8L1484.4 253.8L1485.7 253.8L1487.1 253.9L1488.5 253.9L1489.9 254.0L1491.3 254.0L1492.7 254.0L1494.1 254.1L1495.4 254.1L1496.8 254.2L1498.2 254.2L1499.6 254.3L1501.0 254.4L1502.4 254.6L1503.8 254.7L1505.1 254.9L1506.5 255.0L1507.9 255.2L1509.3 255.4L1510.7 255.6L1512.1 255.8L1513.5 256.0L1514.8 256.2L1516.2 256.4L1517.6 256.6L1519.0 256.8L1520.4 256.9L1521.8 257.1L1523.2 257.3L1524.5 257.4L1525.9 257.5L1527.3 257.6L1528.7 257.7L1530.1 257.8L1531.5 257.8L1532.9 257.8L1534.2 257.8L1535.6 257.7L1537.0 257.6L1538.4 257.3L1539.8 257.1L1541.2 256.8L1542.6 256.4L1544.0 256.0L1545.3 255.6L1546.7 255.1L1548.1 254.6L1549.5 254.0L1550.9 253.5L1552.3 252.9L1553.7 252.2L1555.0 251.6L1556.4 251.0L1557.8 250.3L1559.2 249.6L1560.6 248.9L1562.0 248.1L1563.4 247.1L1564.7 246.0L1566.1 244.8L1567.5 243.5L1568.9 242.2L1570.3 240.9L1571.7 239.6L1573.1 238.2L1574.4 236.7L1575.8 235.1L1577.2 233.5L1578.6 231.9L1580.0 230.2L1581.4 228.5L1582.8 226.8L1584.1 225.0L1585.5 223.2L1586.9 221.4L1588.3 219.6L1589.7 217.8L1591.1 215.9L1592.5 214.1L1593.8 212.1L1595.2 210.1L1596.6 208.0L1598.0 205.9L1599.4 203.8L1600.8 201.7L1602.2 199.6L1603.5 197.5L1604.9 195.4L1606.3 193.4L1607.7 191.4L1609.1 189.5L1610.5 187.6L1611.9 185.9L1613.3 184.1L1614.6 182.3L1616.0 180.6L1617.4 178.9L1618.8 177.2L1620.2 175.5L1621.6 173.9L1623.0 172.3L1624.3 170.8L1625.7 169.2L1627.1 167.8L1628.5 166.3L1629.9 165.0L1631.3 163.6L1632.7 162.4L1634.0 161.1L1635.4 159.9L1636.8 158.7L1638.2 157.5L1639.6 156.3L1641.0 155.2L1642.4 154.1L1643.7 153.1L1645.1 152.0L1646.5 151.0L1647.9 150.0L1649.3 149.1L1650.7 148.2L1652.1 147.2L1653.4 146.4L1654.8 145.5L1656.2 144.6L1657.6 143.8L1659.0 143.0L1660.4 142.2L1661.8 141.4L1663.1 140.6L1664.5 139.9L1665.9 139.2L1667.3 138.5L1668.7 137.8L1670.1 137.2L1671.5 136.6L1672.8 136.0L1674.2 135.4L1675.6 134.8L1677.0 134.3L1678.4 133.7L1679.8 133.2L1681.2 132.7L1682.6 132.2L1683.9 131.7L1685.3 131.3L1686.7 130.8L1688.1 130.4L1689.5 130.0L1690.9 129.6L1692.3 129.3L1693.6 128.9L1695.0 128.6L1696.4 128.3L1697.8 128.1L1699.2 127.8L1700.6 127.6L1702.0 127.3L1703.3 127.1L1704.7 126.9L1706.1 126.6L1707.5 126.3L1708.9 126.1L1710.3 125.8L1711.7 125.5L1713.0 125.1L1714.4 124.7L1715.8 124.3L1717.2 123.9" fill="none" stroke="#D95319" stroke-width="1.50" stroke-dasharray="9 6" stroke-linejoin="round"/>
<path d="M1075.5 113.1L1076.9 113.3L1078.3 113.4L1079.6 113.6L1081.0 113.7L1082.4 113.9L1083.8 114.1L1085.2 114.3L1086.6 114.4L1088.0 114.6L1089.3 114.8L1090.7 115.0L1092.1 115.2L1093.5 115.4L1094.9 115.6L1096.3 115.8L1097.7 116.0L1099.0 116.3L1100.4 116.5L1101.8 116.7L1103.2 116.9L1104.6 117.1L1106.0 117.4L1107.4 117.6L1108.7 117.9L1110.1 118.1L1111.5 118.4L1112.9 118.6L1114.3 118.9L1115.7 119.2L1117.1 119.4L1118.4 119.7L1119.8 120.0L1121.2 120.3L1122.6 120.6L1124.0 121.0L1125.4 121.3L1126.8 121.7L1128.2 122.0L1129.5 122.4L1130.9 122.8L1132.3 123.3L1133.7 123.8L1135.1 124.3L1136.5 124.8L1137.9 125.3L1139.2 125.9L1140.6 126.4L1142.0 127.0L1143.4 127.6L1144.8 128.2L1146.2 128.8L1147.6 129.4L1148.9 130.1L1150.3 130.7L1151.7 131.3L1153.1 131.9L1154.5 132.5L1155.9 133.1L1157.3 133.7L1158.6 134.3L1160.0 134.9L1161.4 135.6L1162.8 136.2L1164.2 136.9L1165.6 137.6L1167.0 138.3L1168.3 138.9L1169.7 139.6L1171.1 140.3L1172.5 140.9L1173.9 141.6L1175.3 142.2L1176.7 142.8L1178.0 143.4L1179.4 144.0L1180.8 144.5L1182.2 145.0L1183.6 145.4L1185.0 145.8L1186.4 146.3L1187.7 146.7L1189.1 147.2L1190.5 147.6L1191.9 148.0L1193.3 148.3L1194.7 148.5L1196.1 148.7L1197.5 148.8L1198.8 148.9L1200.2 149.0L1201.6 149.0L1203.0 149.1L1204.4 149.1L1205.8 149.2L1207.2 149.2L1208.5 149.2L1209.9 149.3L1211.3 149.3L1212.7 149.3L1214.1 149.3L1215.5 149.4L1216.9 149.4L1218.2 149.4L1219.6 149.4L1221.0 149.4L1222.4 149.4L1223.8 149.4L1225.2 149.4L1226.6 149.4L1227.9 149.4L1229.3 149.4L1230.7 149.4L1232.1 149.4L1233.5 149.4L1234.9 149.4L1236.3 149.4L1237.6 149.4L1239.0 149.4L1240.4 149.4L1241.8 149.4L1243.2 149.4L1244.6 149.4L1246.0 149.4L1247.3 149.3L1248.7 149.3L1250.1 149.3L1251.5 149.3L1252.9 149.3L1254.3 149.3L1255.7 149.3L1257.0 149.3L1258.4 149.3L1259.8 149.3L1261.2 149.3L1262.6 149.2L1264.0 149.2L1265.4 149.2L1266.8 149.2L1268.1 149.2L1269.5 149.2L1270.9 149.2L1272.3 149.2L1273.7 149.2L1275.1 149.2L1276.5 149.1L1277.8 149.1L1279.2 149.1L1280.6 149.1L1282.0 149.1L1283.4 149.1L1284.8 149.1L1286.2 149.1L1287.5 149.1L1288.9 149.1L1290.3 149.0L1291.7 149.0L1293.1 149.0L1294.5 149.0L1295.9 149.0L1297.2 149.0L1298.6 149.0L1300.0 149.0L1301.4 149.0L1302.8 149.0L1304.2 149.0L1305.6 149.0L1306.9 149.0L1308.3 149.0L1309.7 149.0L1311.1 149.0L1312.5 148.9L1313.9 148.9L1315.3 148.9L1316.6 148.9L1318.0 148.9L1319.4 148.9L1320.8 148.9L1322.2 148.9L1323.6 148.9L1325.0 148.9L1326.3 148.9L1327.7 148.9L1329.1 148.9L1330.5 148.9L1331.9 148.9L1333.3 148.9L1334.7 148.9L1336.1 148.9L1337.4 148.9L1338.8 148.9L1340.2 148.9L1341.6 148.9L1343.0 148.9L1344.4 148.8L1345.8 148.8L1347.1 148.8L1348.5 148.8L1349.9 148.8L1351.3 148.8L1352.7 148.8L1354.1 148.8L1355.5 148.8L1356.8 148.8L1358.2 148.8L1359.6 148.8L1361.0 148.8L1362.4 148.8L1363.8 148.8L1365.2 148.8L1366.5 148.8L1367.9 148.8L1369.3 148.8L1370.7 148.8L1372.1 148.8L1373.5 148.8L1374.9 148.8L1376.2 148.8L1377.6 148.8L1379.0 148.8L1380.4 148.8L1381.8 148.8L1383.2 148.8L1384.6 148.7L1385.9 148.7L1387.3 148.7L1388.7 148.7L1390.1 148.7L1391.5 148.7L1392.9 148.7L1394.3 148.7L1395.6 148.7L1397.0 148.7L1398.4 148.7L1399.8 148.7L1401.2 148.7L1402.6 148.7L1404.0 148.7L1405.4 148.7L1406.7 148.7L1408.1 148.7L1409.5 148.7L1410.9 148.7L1412.3 148.7L1413.7 148.7L1415.1 148.7L1416.4 148.7L1417.8 148.6L1419.2 148.6L1420.6 148.6L1422.0 148.6L1423.4 148.6L1424.8 148.6L1426.1 148.6L1427.5 148.6L1428.9 148.6L1430.3 148.6L1431.7 148.6L1433.1 148.6L1434.5 148.6L1435.8 148.6L1437.2 148.6L1438.6 148.6L1440.0 148.6L1441.4 148.6L1442.8 148.5L1444.2 148.5L1445.5 148.5L1446.9 148.5L1448.3 148.5L1449.7 148.5L1451.1 148.5L1452.5 148.5L1453.9 148.5L1455.2 148.5L1456.6 148.4L1458.0 148.4L1459.4 148.4L1460.8 148.4L1462.2 148.4L1463.6 148.4L1464.9 148.4L1466.3 148.3L1467.7 148.3L1469.1 148.3L1470.5 148.3L1471.9 148.3L1473.3 148.3L1474.7 148.3L1476.0 148.3L1477.4 148.2L1478.8 148.2L1480.2 148.2L1481.6 148.2L1483.0 148.2L1484.4 148.2L1485.7 148.2L1487.1 148.2L1488.5 148.2L1489.9 148.2L1491.3 148.1L1492.7 148.1L1494.1 148.1L1495.4 148.1L1496.8 148.1L1498.2 148.1L1499.6 148.1L1501.0 148.1L1502.4 148.2L1503.8 148.4L1505.1 148.5L1506.5 148.8L1507.9 149.1L1509.3 149.4L1510.7 149.7L1512.1 150.1L1513.5 150.5L1514.8 150.9L1516.2 151.3L1517.6 151.8L1519.0 152.2L1520.4 152.6L1521.8 153.1L1523.2 153.5L1524.5 153.9L1525.9 154.2L1527.3 154.6L1528.7 154.9L1530.1 155.2L1531.5 155.4L1532.9 155.7L1534.2 156.0L1535.6 156.3L1537.0 156.5L1538.4 156.8L1539.8 157.1L1541.2 157.3L1542.6 157.6L1544.0 157.8L1545.3 158.0L1546.7 158.1L1548.1 158.2L1549.5 158.3L1550.9 158.3L1552.3 158.2L1553.7 157.9L1555.0 157.5L1556.4 157.1L1557.8 156.6L1559.2 156.1L1560.6 155.7L1562.0 155.3L1563.4 155.0L1564.7 154.6L1566.1 154.2L1567.5 153.7L1568.9 153.3L1570.3 152.8L1571.7 152.3L1573.1 151.7L1574.4 151.1L1575.8 150.4L1577.2 149.7L1578.6 149.0L1580.0 148.3L1581.4 147.6L1582.8 146.8L1584.1 146.1L1585.5 145.3L1586.9 144.6L1588.3 143.8L1589.7 143.1L1591.1 142.4L1592.5 141.7L1593.8 141.0L1595.2 140.3L1596.6 139.6L1598.0 138.9L1599.4 138.2L1600.8 137.5L1602.2 136.8L1603.5 136.0L1604.9 135.4L1606.3 134.7L1607.7 134.0L1609.1 133.3L1610.5 132.6L1611.9 132.0L1613.3 131.3L1614.6 130.6L1616.0 129.9L1617.4 129.2L1618.8 128.6L1620.2 127.9L1621.6 127.2L1623.0 126.6L1624.3 126.0L1625.7 125.4L1627.1 124.8L1628.5 124.2L1629.9 123.7L1631.3 123.2L1632.7 122.8L1634.0 122.3L1635.4 121.9L1636.8 121.4L1638.2 121.0L1639.6 120.6L1641.0 120.2L1642.4 119.8L1643.7 119.5L1645.1 119.1L1646.5 118.8L1647.9 118.5L1649.3 118.1L1650.7 117.9L1652.1 117.6L1653.4 117.3L1654.8 117.1L1656.2 116.9L1657.6 116.7L1659.0 116.4L1660.4 116.2L1661.8 116.0L1663.1 115.9L1664.5 115.7L1665.9 115.5L1667.3 115.3L1668.7 115.1L1670.1 114.9L1671.5 114.7L1672.8 114.5L1674.2 114.4L1675.6 114.2L1677.0 114.0L1678.4 113.8L1679.8 113.6L1681.2 113.4L1682.6 113.2L1683.9 113.1L1685.3 112.9L1686.7 112.7L1688.1 112.6L1689.5 112.4L1690.9 112.3L1692.3 112.1L1693.6 112.0L1695.0 111.8L1696.4 111.7L1697.8 111.5L1699.2 111.4L1700.6 111.2L1702.0 111.0L1703.3 110.8L1704.7 110.6L1706.1 110.4L1707.5 110.2L1708.9 110.0L1710.3 109.8L1711.7 109.6L1713.0 109.3L1714.4 109.1L1715.8 108.8L1717.2 108.6" fill="none" stroke="#EDB120" stroke-width="1.50" stroke-dasharray="9 6" stroke-linejoin="round"/>
<path d="M1075.5 109.0L1076.9 109.0L1078.3 109.1L1079.6 109.2L1081.0 109.2L1082.4 109.3L1083.8 109.3L1085.2 109.4L1086.6 109.5L1088.0 109.6L1089.3 109.6L1090.7 109.7L1092.1 109.8L1093.5 109.9L1094.9 110.0L1096.3 110.0L1097.7 110.1L1099.0 110.2L1100.4 110.3L1101.8 110.4L1103.2 110.5L1104.6 110.6L1106.0 110.7L1107.4 110.8L1108.7 110.9L1110.1 111.0L1111.5 111.1L1112.9 111.2L1114.3 111.3L1115.7 111.4L1117.1 111.5L1118.4 111.6L1119.8 111.7L1121.2 111.9L1122.6 112.0L1124.0 112.1L1125.4 112.2L1126.8 112.3L1128.2 112.4L1129.5 112.5L1130.9 112.7L1132.3 112.8L1133.7 112.9L1135.1 113.1L1136.5 113.2L1137.9 113.4L1139.2 113.5L1140.6 113.7L1142.0 113.8L1143.4 114.0L1144.8 114.2L1146.2 114.3L1147.6 114.5L1148.9 114.7L1150.3 114.8L1151.7 115.0L1153.1 115.2L1154.5 115.3L1155.9 115.5L1157.3 115.7L1158.6 115.9L1160.0 116.0L1161.4 116.2L1162.8 116.4L1164.2 116.5L1165.6 116.7L1167.0 116.8L1168.3 117.0L1169.7 117.2L1171.1 117.3L1172.5 117.5L1173.9 117.7L1175.3 117.8L1176.7 118.0L1178.0 118.2L1179.4 118.4L1180.8 118.6L1182.2 118.8L1183.6 119.0L1185.0 119.1L1186.4 119.3L1187.7 119.5L1189.1 119.6L1190.5 119.7L1191.9 119.8L1193.3 119.9L1194.7 120.0L1196.1 120.0L1197.5 120.0L1198.8 120.0L1200.2 120.0L1201.6 120.0L1203.0 120.0L1204.4 120.0L1205.8 119.9L1207.2 119.9L1208.5 119.9L1209.9 119.8L1211.3 119.8L1212.7 119.7L1214.1 119.7L1215.5 119.6L1216.9 119.6L1218.2 119.5L1219.6 119.5L1221.0 119.4L1222.4 119.4L1223.8 119.3L1225.2 119.2L1226.6 119.1L1227.9 119.0L1229.3 118.9L1230.7 118.8L1232.1 118.7L1233.5 118.5L1234.9 118.3L1236.3 118.2L1237.6 118.0L1239.0 117.8L1240.4 117.7L1241.8 117.5L1243.2 117.3L1244.6 117.2L1246.0 117.0L1247.3 116.9L1248.7 116.8L1250.1 116.7L1251.5 116.6L1252.9 116.5L1254.3 116.4L1255.7 116.3L1257.0 116.2L1258.4 116.2L1259.8 116.1L1261.2 116.0L1262.6 115.9L1264.0 115.8L1265.4 115.7L1266.8 115.7L1268.1 115.6L1269.5 115.5L1270.9 115.4L1272.3 115.4L1273.7 115.3L1275.1 115.2L1276.5 115.2L1277.8 115.1L1279.2 115.0L1280.6 115.0L1282.0 114.9L1283.4 114.9L1284.8 114.8L1286.2 114.8L1287.5 114.7L1288.9 114.7L1290.3 114.6L1291.7 114.6L1293.1 114.6L1294.5 114.5L1295.9 114.5L1297.2 114.5L1298.6 114.5L1300.0 114.4L1301.4 114.4L1302.8 114.4L1304.2 114.4L1305.6 114.4L1306.9 114.4L1308.3 114.4L1309.7 114.4L1311.1 114.3L1312.5 114.3L1313.9 114.3L1315.3 114.3L1316.6 114.3L1318.0 114.3L1319.4 114.3L1320.8 114.3L1322.2 114.3L1323.6 114.3L1325.0 114.2L1326.3 114.2L1327.7 114.2L1329.1 114.2L1330.5 114.2L1331.9 114.2L1333.3 114.2L1334.7 114.2L1336.1 114.2L1337.4 114.2L1338.8 114.2L1340.2 114.1L1341.6 114.1L1343.0 114.1L1344.4 114.1L1345.8 114.1L1347.1 114.1L1348.5 114.1L1349.9 114.1L1351.3 114.1L1352.7 114.1L1354.1 114.1L1355.5 114.1L1356.8 114.1L1358.2 114.0L1359.6 114.0L1361.0 114.0L1362.4 114.0L1363.8 114.0L1365.2 114.0L1366.5 114.0L1367.9 114.0L1369.3 114.0L1370.7 114.0L1372.1 114.0L1373.5 114.0L1374.9 114.0L1376.2 114.0L1377.6 114.0L1379.0 114.0L1380.4 114.0L1381.8 114.0L1383.2 113.9L1384.6 113.9L1385.9 113.9L1387.3 113.9L1388.7 113.9L1390.1 113.9L1391.5 113.9L1392.9 113.9L1394.3 113.9L1395.6 113.9L1397.0 113.9L1398.4 113.9L1399.8 113.9L1401.2 113.9L1402.6 113.9L1404.0 113.9L1405.4 113.9L1406.7 113.9L1408.1 113.9L1409.5 113.9L1410.9 113.9L1412.3 113.9L1413.7 113.9L1415.1 113.9L1416.4 113.9L1417.8 113.9L1419.2 113.9L1420.6 113.9L1422.0 113.9L1423.4 113.9L1424.8 113.9L1426.1 113.9L1427.5 113.9L1428.9 113.9L1430.3 113.9L1431.7 113.9L1433.1 113.9L1434.5 113.9L1435.8 113.9L1437.2 113.9L1438.6 113.9L1440.0 113.9L1441.4 113.9L1442.8 113.9L1444.2 113.9L1445.5 113.9L1446.9 113.9L1448.3 113.9L1449.7 113.9L1451.1 113.9L1452.5 114.0L1453.9 114.0L1455.2 114.0L1456.6 114.1L1458.0 114.1L1459.4 114.1L1460.8 114.2L1462.2 114.2L1463.6 114.2L1464.9 114.3L1466.3 114.3L1467.7 114.4L1469.1 114.4L1470.5 114.5L1471.9 114.5L1473.3 114.6L1474.7 114.6L1476.0 114.7L1477.4 114.8L1478.8 114.8L1480.2 114.9L1481.6 114.9L1483.0 115.0L1484.4 115.1L1485.7 115.1L1487.1 115.2L1488.5 115.3L1489.9 115.3L1491.3 115.4L1492.7 115.5L1494.1 115.5L1495.4 115.6L1496.8 115.7L1498.2 115.8L1499.6 115.8L1501.0 115.9L1502.4 116.0L1503.8 116.1L1505.1 116.3L1506.5 116.4L1507.9 116.6L1509.3 116.7L1510.7 116.9L1512.1 117.1L1513.5 117.3L1514.8 117.5L1516.2 117.7L1517.6 117.9L1519.0 118.1L1520.4 118.3L1521.8 118.5L1523.2 118.8L1524.5 119.0L1525.9 119.2L1527.3 119.4L1528.7 119.6L1530.1 119.7L1531.5 119.9L1532.9 120.1L1534.2 120.2L1535.6 120.4L1537.0 120.5L1538.4 120.6L1539.8 120.7L1541.2 120.7L1542.6 120.8L1544.0 120.9L1545.3 120.9L1546.7 121.0L1548.1 121.0L1549.5 121.1L1550.9 121.1L1552.3 121.2L1553.7 121.2L1555.0 121.2L1556.4 121.3L1557.8 121.3L1559.2 121.3L1560.6 121.4L1562.0 121.4L1563.4 121.4L1564.7 121.4L1566.1 121.4L1567.5 121.5L1568.9 121.5L1570.3 121.4L1571.7 121.4L1573.1 121.3L1574.4 121.1L1575.8 121.0L1577.2 120.8L1578.6 120.5L1580.0 120.3L1581.4 120.1L1582.8 119.8L1584.1 119.5L1585.5 119.2L1586.9 118.9L1588.3 118.6L1589.7 118.4L1591.1 118.1L1592.5 117.8L1593.8 117.5L1595.2 117.3L1596.6 117.1L1598.0 116.8L1599.4 116.6L1600.8 116.3L1602.2 116.0L1603.5 115.8L1604.9 115.5L1606.3 115.2L1607.7 114.9L1609.1 114.6L1610.5 114.3L1611.9 114.1L1613.3 113.8L1614.6 113.6L1616.0 113.3L1617.4 113.1L1618.8 112.9L1620.2 112.7L1621.6 112.6L1623.0 112.5L1624.3 112.4L1625.7 112.3L1627.1 112.2L1628.5 112.1L1629.9 112.0L1631.3 112.0L1632.7 111.9L1634.0 111.8L1635.4 111.8L1636.8 111.7L1638.2 111.7L1639.6 111.6L1641.0 111.6L1642.4 111.5L1643.7 111.5L1645.1 111.4L1646.5 111.3L1647.9 111.3L1649.3 111.2L1650.7 111.1L1652.1 111.0L1653.4 111.0L1654.8 110.8L1656.2 110.7L1657.6 110.6L1659.0 110.5L1660.4 110.4L1661.8 110.3L1663.1 110.1L1664.5 110.0L1665.9 109.9L1667.3 109.8L1668.7 109.6L1670.1 109.5L1671.5 109.4L1672.8 109.3L1674.2 109.2L1675.6 109.1L1677.0 109.1L1678.4 109.0L1679.8 108.9L1681.2 108.9L1682.6 108.8L1683.9 108.8L1685.3 108.7L1686.7 108.7L1688.1 108.6L1689.5 108.6L1690.9 108.5L1692.3 108.5L1693.6 108.4L1695.0 108.4L1696.4 108.4L1697.8 108.3L1699.2 108.3L1700.6 108.2L1702.0 108.2L1703.3 108.2L1704.7 108.1L1706.1 108.1L1707.5 108.1L1708.9 108.0L1710.3 108.0L1711.7 108.0L1713.0 107.9L1714.4 107.9L1715.8 107.9L1717.2 107.8" fill="none" stroke="#7E2F8E" stroke-width="1.50" stroke-dasharray="9 6" stroke-linejoin="round"/>
<path d="M1075.5 109.0L1076.9 109.0L1078.3 109.0L1079.6 109.0L1081.0 109.0L1082.4 109.0L1083.8 109.0L1085.2 109.0L1086.6 109.0L1088.0 109.0L1089.3 109.0L1090.7 109.0L1092.1 109.0L1093.5 109.0L1094.9 109.0L1096.3 109.0L1097.7 109.0L1099.0 109.1L1100.4 109.1L1101.8 109.1L1103.2 109.1L1104.6 109.1L1106.0 109.1L1107.4 109.1L1108.7 109.1L1110.1 109.1L1111.5 109.1L1112.9 109.1L1114.3 109.1L1115.7 109.1L1117.1 109.2L1118.4 109.2L1119.8 109.2L1121.2 109.2L1122.6 109.2L1124.0 109.2L1125.4 109.2L1126.8 109.2L1128.2 109.2L1129.5 109.2L1130.9 109.2L1132.3 109.2L1133.7 109.3L1135.1 109.3L1136.5 109.3L1137.9 109.3L1139.2 109.3L1140.6 109.3L1142.0 109.3L1143.4 109.3L1144.8 109.4L1146.2 109.4L1147.6 109.4L1148.9 109.4L1150.3 109.4L1151.7 109.5L1153.1 109.5L1154.5 109.5L1155.9 109.5L1157.3 109.5L1158.6 109.6L1160.0 109.6L1161.4 109.6L1162.8 109.6L1164.2 109.6L1165.6 109.6L1167.0 109.7L1168.3 109.7L1169.7 109.7L1171.1 109.7L1172.5 109.7L1173.9 109.7L1175.3 109.7L1176.7 109.7L1178.0 109.7L1179.4 109.7L1180.8 109.7L1182.2 109.6L1183.6 109.6L1185.0 109.6L1186.4 109.5L1187.7 109.5L1189.1 109.4L1190.5 109.4L1191.9 109.3L1193.3 109.3L1194.7 109.2L1196.1 109.2L1197.5 109.1L1198.8 109.0L1200.2 109.0L1201.6 108.9L1203.0 108.8L1204.4 108.7L1205.8 108.7L1207.2 108.6L1208.5 108.5L1209.9 108.5L1211.3 108.4L1212.7 108.3L1214.1 108.3L1215.5 108.2L1216.9 108.2L1218.2 108.1L1219.6 108.1L1221.0 108.0L1222.4 108.0L1223.8 107.9L1225.2 107.9L1226.6 107.8L1227.9 107.8L1229.3 107.7L1230.7 107.7L1232.1 107.6L1233.5 107.6L1234.9 107.5L1236.3 107.5L1237.6 107.4L1239.0 107.4L1240.4 107.3L1241.8 107.3L1243.2 107.2L1244.6 107.2L1246.0 107.1L1247.3 107.1L1248.7 107.0L1250.1 107.0L1251.5 106.9L1252.9 106.9L1254.3 106.9L1255.7 106.8L1257.0 106.8L1258.4 106.7L1259.8 106.7L1261.2 106.7L1262.6 106.6L1264.0 106.6L1265.4 106.6L1266.8 106.5L1268.1 106.5L1269.5 106.5L1270.9 106.4L1272.3 106.4L1273.7 106.4L1275.1 106.4L1276.5 106.4L1277.8 106.3L1279.2 106.3L1280.6 106.3L1282.0 106.3L1283.4 106.3L1284.8 106.2L1286.2 106.2L1287.5 106.2L1288.9 106.2L1290.3 106.2L1291.7 106.1L1293.1 106.1L1294.5 106.1L1295.9 106.1L1297.2 106.1L1298.6 106.1L1300.0 106.0L1301.4 106.0L1302.8 106.0L1304.2 106.0L1305.6 106.0L1306.9 106.0L1308.3 105.9L1309.7 105.9L1311.1 105.9L1312.5 105.9L1313.9 105.9L1315.3 105.9L1316.6 105.8L1318.0 105.8L1319.4 105.8L1320.8 105.8L1322.2 105.8L1323.6 105.8L1325.0 105.8L1326.3 105.8L1327.7 105.7L1329.1 105.7L1330.5 105.7L1331.9 105.7L1333.3 105.7L1334.7 105.7L1336.1 105.7L1337.4 105.7L1338.8 105.7L1340.2 105.6L1341.6 105.6L1343.0 105.6L1344.4 105.6L1345.8 105.6L1347.1 105.6L1348.5 105.6L1349.9 105.6L1351.3 105.6L1352.7 105.6L1354.1 105.6L1355.5 105.6L1356.8 105.6L1358.2 105.6L1359.6 105.6L1361.0 105.6L1362.4 105.5L1363.8 105.5L1365.2 105.5L1366.5 105.5L1367.9 105.5L1369.3 105.5L1370.7 105.5L1372.1 105.5L1373.5 105.5L1374.9 105.5L1376.2 105.5L1377.6 105.5L1379.0 105.5L1380.4 105.5L1381.8 105.5L1383.2 105.5L1384.6 105.5L1385.9 105.5L1387.3 105.5L1388.7 105.6L1390.1 105.6L1391.5 105.6L1392.9 105.6L1394.3 105.6L1395.6 105.6L1397.0 105.6L1398.4 105.6L1399.8 105.6L1401.2 105.6L1402.6 105.6L1404.0 105.6L1405.4 105.6L1406.7 105.6L1408.1 105.6L1409.5 105.6L1410.9 105.6L1412.3 105.6L1413.7 105.6L1415.1 105.6L1416.4 105.6L1417.8 105.6L1419.2 105.6L1420.6 105.6L1422.0 105.6L1423.4 105.6L1424.8 105.6L1426.1 105.6L1427.5 105.6L1428.9 105.7L1430.3 105.7L1431.7 105.7L1433.1 105.7L1434.5 105.7L1435.8 105.7L1437.2 105.7L1438.6 105.7L1440.0 105.7L1441.4 105.7L1442.8 105.7L1444.2 105.7L1445.5 105.7L1446.9 105.7L1448.3 105.7L1449.7 105.7L1451.1 105.7L1452.5 105.7L1453.9 105.8L1455.2 105.8L1456.6 105.8L1458.0 105.8L1459.4 105.8L1460.8 105.8L1462.2 105.8L1463.6 105.8L1464.9 105.8L1466.3 105.8L1467.7 105.8L1469.1 105.8L1470.5 105.8L1471.9 105.9L1473.3 105.9L1474.7 105.9L1476.0 105.9L1477.4 105.9L1478.8 105.9L1480.2 105.9L1481.6 105.9L1483.0 106.0L1484.4 106.0L1485.7 106.0L1487.1 106.0L1488.5 106.0L1489.9 106.0L1491.3 106.1L1492.7 106.1L1494.1 106.1L1495.4 106.1L1496.8 106.2L1498.2 106.2L1499.6 106.2L1501.0 106.2L1502.4 106.3L1503.8 106.3L1505.1 106.3L1506.5 106.3L1507.9 106.4L1509.3 106.4L1510.7 106.4L1512.1 106.5L1513.5 106.5L1514.8 106.6L1516.2 106.6L1517.6 106.7L1519.0 106.7L1520.4 106.8L1521.8 106.9L1523.2 107.0L1524.5 107.0L1525.9 107.1L1527.3 107.2L1528.7 107.3L1530.1 107.4L1531.5 107.5L1532.9 107.5L1534.2 107.6L1535.6 107.7L1537.0 107.8L1538.4 107.9L1539.8 108.0L1541.2 108.1L1542.6 108.1L1544.0 108.2L1545.3 108.3L1546.7 108.4L1548.1 108.4L1549.5 108.5L1550.9 108.6L1552.3 108.6L1553.7 108.7L1555.0 108.7L1556.4 108.8L1557.8 108.9L1559.2 108.9L1560.6 109.0L1562.0 109.0L1563.4 109.1L1564.7 109.2L1566.1 109.2L1567.5 109.3L1568.9 109.4L1570.3 109.4L1571.7 109.5L1573.1 109.5L1574.4 109.6L1575.8 109.6L1577.2 109.7L1578.6 109.7L1580.0 109.8L1581.4 109.8L1582.8 109.9L1584.1 109.9L1585.5 109.9L1586.9 109.9L1588.3 110.0L1589.7 110.0L1591.1 110.0L1592.5 110.0L1593.8 110.0L1595.2 110.0L1596.6 110.0L1598.0 110.0L1599.4 109.9L1600.8 109.9L1602.2 109.9L1603.5 109.9L1604.9 109.9L1606.3 109.8L1607.7 109.8L1609.1 109.8L1610.5 109.8L1611.9 109.7L1613.3 109.7L1614.6 109.7L1616.0 109.6L1617.4 109.6L1618.8 109.6L1620.2 109.6L1621.6 109.5L1623.0 109.5L1624.3 109.5L1625.7 109.4L1627.1 109.4L1628.5 109.3L1629.9 109.3L1631.3 109.2L1632.7 109.2L1634.0 109.1L1635.4 109.1L1636.8 109.0L1638.2 109.0L1639.6 108.9L1641.0 108.9L1642.4 108.8L1643.7 108.8L1645.1 108.7L1646.5 108.7L1647.9 108.6L1649.3 108.6L1650.7 108.5L1652.1 108.5L1653.4 108.4L1654.8 108.3L1656.2 108.3L1657.6 108.3L1659.0 108.2L1660.4 108.2L1661.8 108.1L1663.1 108.1L1664.5 108.0L1665.9 108.0L1667.3 108.0L1668.7 107.9L1670.1 107.9L1671.5 107.8L1672.8 107.8L1674.2 107.8L1675.6 107.7L1677.0 107.7L1678.4 107.6L1679.8 107.6L1681.2 107.6L1682.6 107.5L1683.9 107.5L1685.3 107.5L1686.7 107.4L1688.1 107.4L1689.5 107.4L1690.9 107.3L1692.3 107.3L1693.6 107.3L1695.0 107.3L1696.4 107.2L1697.8 107.2L1699.2 107.2L1700.6 107.2L1702.0 107.2L1703.3 107.1L1704.7 107.1L1706.1 107.1L1707.5 107.1L1708.9 107.1L1710.3 107.0L1711.7 107.0L1713.0 107.0L1714.4 107.0L1715.8 107.0L1717.2 107.0" fill="none" stroke="#77AC30" stroke-width="1.50" stroke-dasharray="9 6" stroke-linejoin="round"/>
<g fill="none" stroke="#3a86c4" stroke-width="1.35"><circle cx="1093.5" cy="172.7" r="5.6"/><circle cx="1107.4" cy="187.0" r="5.6"/><circle cx="1121.2" cy="221.3" r="5.6"/><circle cx="1135.1" cy="255.5" r="5.6"/><circle cx="1148.9" cy="252.7" r="5.6"/><circle cx="1162.8" cy="328.7" r="5.6"/><circle cx="1176.7" cy="383.0" r="5.6"/><circle cx="1190.5" cy="437.9" r="5.6"/><circle cx="1204.4" cy="473.5" r="5.6"/><circle cx="1218.2" cy="506.1" r="5.6"/><circle cx="1232.1" cy="523.1" r="5.6"/><circle cx="1246.0" cy="530.0" r="5.6"/><circle cx="1259.8" cy="539.0" r="5.6"/><circle cx="1273.7" cy="540.6" r="5.6"/><circle cx="1287.5" cy="542.0" r="5.6"/><circle cx="1301.4" cy="542.3" r="5.6"/><circle cx="1315.3" cy="542.5" r="5.6"/><circle cx="1329.1" cy="542.8" r="5.6"/><circle cx="1343.0" cy="542.8" r="5.6"/><circle cx="1356.8" cy="542.6" r="5.6"/><circle cx="1370.7" cy="542.6" r="5.6"/><circle cx="1384.6" cy="542.8" r="5.6"/><circle cx="1398.4" cy="542.8" r="5.6"/><circle cx="1412.3" cy="542.6" r="5.6"/><circle cx="1426.1" cy="542.6" r="5.6"/><circle cx="1440.0" cy="542.0" r="5.6"/><circle cx="1453.9" cy="541.5" r="5.6"/><circle cx="1467.7" cy="540.3" r="5.6"/><circle cx="1481.6" cy="539.8" r="5.6"/><circle cx="1495.4" cy="539.5" r="5.6"/><circle cx="1509.3" cy="537.5" r="5.6"/><circle cx="1523.2" cy="529.6" r="5.6"/><circle cx="1537.0" cy="499.6" r="5.6"/><circle cx="1550.9" cy="494.2" r="5.6"/><circle cx="1564.7" cy="381.4" r="5.6"/><circle cx="1578.6" cy="414.6" r="5.6"/><circle cx="1592.5" cy="371.8" r="5.6"/><circle cx="1606.3" cy="294.8" r="5.6"/><circle cx="1620.2" cy="266.3" r="5.6"/><circle cx="1634.0" cy="237.3" r="5.6"/><circle cx="1647.9" cy="208.5" r="5.6"/><circle cx="1661.8" cy="221.7" r="5.6"/><circle cx="1675.6" cy="165.8" r="5.6"/><circle cx="1689.5" cy="158.9" r="5.6"/><circle cx="1703.3" cy="141.2" r="5.6"/><circle cx="1717.2" cy="138.2" r="5.6"/></g>
<g fill="none" stroke="#dc6a3e" stroke-width="1.35"><circle cx="1093.5" cy="120.7" r="5.6"/><circle cx="1107.4" cy="126.5" r="5.6"/><circle cx="1121.2" cy="134.4" r="5.6"/><circle cx="1135.1" cy="140.5" r="5.6"/><circle cx="1148.9" cy="154.3" r="5.6"/><circle cx="1162.8" cy="181.0" r="5.6"/><circle cx="1176.7" cy="195.5" r="5.6"/><circle cx="1190.5" cy="218.3" r="5.6"/><circle cx="1204.4" cy="226.3" r="5.6"/><circle cx="1218.2" cy="241.1" r="5.6"/><circle cx="1232.1" cy="247.9" r="5.6"/><circle cx="1246.0" cy="250.9" r="5.6"/><circle cx="1259.8" cy="251.7" r="5.6"/><circle cx="1273.7" cy="252.7" r="5.6"/><circle cx="1287.5" cy="253.8" r="5.6"/><circle cx="1301.4" cy="254.5" r="5.6"/><circle cx="1315.3" cy="255.0" r="5.6"/><circle cx="1329.1" cy="255.2" r="5.6"/><circle cx="1343.0" cy="255.5" r="5.6"/><circle cx="1356.8" cy="255.5" r="5.6"/><circle cx="1370.7" cy="255.7" r="5.6"/><circle cx="1384.6" cy="255.7" r="5.6"/><circle cx="1398.4" cy="255.8" r="5.6"/><circle cx="1412.3" cy="255.8" r="5.6"/><circle cx="1426.1" cy="255.8" r="5.6"/><circle cx="1440.0" cy="255.8" r="5.6"/><circle cx="1453.9" cy="255.8" r="5.6"/><circle cx="1467.7" cy="255.8" r="5.6"/><circle cx="1481.6" cy="256.0" r="5.6"/><circle cx="1495.4" cy="256.0" r="5.6"/><circle cx="1509.3" cy="256.1" r="5.6"/><circle cx="1523.2" cy="257.1" r="5.6"/><circle cx="1537.0" cy="254.8" r="5.6"/><circle cx="1550.9" cy="250.2" r="5.6"/><circle cx="1564.7" cy="242.3" r="5.6"/><circle cx="1578.6" cy="224.0" r="5.6"/><circle cx="1592.5" cy="208.5" r="5.6"/><circle cx="1606.3" cy="192.0" r="5.6"/><circle cx="1620.2" cy="182.4" r="5.6"/><circle cx="1634.0" cy="156.3" r="5.6"/><circle cx="1647.9" cy="142.5" r="5.6"/><circle cx="1661.8" cy="133.6" r="5.6"/><circle cx="1675.6" cy="127.5" r="5.6"/><circle cx="1689.5" cy="124.8" r="5.6"/><circle cx="1703.3" cy="121.5" r="5.6"/><circle cx="1717.2" cy="119.3" r="5.6"/></g>
<g fill="none" stroke="#efbf4a" stroke-width="1.35"><circle cx="1093.5" cy="111.1" r="5.6"/><circle cx="1107.4" cy="113.9" r="5.6"/><circle cx="1121.2" cy="118.6" r="5.6"/><circle cx="1135.1" cy="119.3" r="5.6"/><circle cx="1148.9" cy="124.0" r="5.6"/><circle cx="1162.8" cy="133.1" r="5.6"/><circle cx="1176.7" cy="137.8" r="5.6"/><circle cx="1190.5" cy="146.0" r="5.6"/><circle cx="1204.4" cy="148.8" r="5.6"/><circle cx="1218.2" cy="149.4" r="5.6"/><circle cx="1232.1" cy="149.4" r="5.6"/><circle cx="1246.0" cy="148.8" r="5.6"/><circle cx="1259.8" cy="148.4" r="5.6"/><circle cx="1273.7" cy="148.4" r="5.6"/><circle cx="1287.5" cy="148.3" r="5.6"/><circle cx="1301.4" cy="148.3" r="5.6"/><circle cx="1315.3" cy="148.3" r="5.6"/><circle cx="1329.1" cy="148.3" r="5.6"/><circle cx="1343.0" cy="148.3" r="5.6"/><circle cx="1356.8" cy="148.3" r="5.6"/><circle cx="1370.7" cy="148.3" r="5.6"/><circle cx="1384.6" cy="148.4" r="5.6"/><circle cx="1398.4" cy="148.4" r="5.6"/><circle cx="1412.3" cy="148.6" r="5.6"/><circle cx="1426.1" cy="148.7" r="5.6"/><circle cx="1440.0" cy="148.8" r="5.6"/><circle cx="1453.9" cy="149.1" r="5.6"/><circle cx="1467.7" cy="149.4" r="5.6"/><circle cx="1481.6" cy="150.1" r="5.6"/><circle cx="1495.4" cy="152.3" r="5.6"/><circle cx="1509.3" cy="153.6" r="5.6"/><circle cx="1523.2" cy="155.0" r="5.6"/><circle cx="1537.0" cy="154.3" r="5.6"/><circle cx="1550.9" cy="153.6" r="5.6"/><circle cx="1564.7" cy="150.9" r="5.6"/><circle cx="1578.6" cy="141.2" r="5.6"/><circle cx="1592.5" cy="133.1" r="5.6"/><circle cx="1606.3" cy="126.2" r="5.6"/><circle cx="1620.2" cy="124.8" r="5.6"/><circle cx="1634.0" cy="122.0" r="5.6"/><circle cx="1647.9" cy="120.0" r="5.6"/><circle cx="1661.8" cy="118.6" r="5.6"/><circle cx="1675.6" cy="116.2" r="5.6"/><circle cx="1689.5" cy="113.6" r="5.6"/><circle cx="1703.3" cy="110.7" r="5.6"/><circle cx="1717.2" cy="108.3" r="5.6"/></g>
<g fill="none" stroke="#8f4f9c" stroke-width="1.35"><circle cx="1093.5" cy="109.7" r="5.6"/><circle cx="1107.4" cy="110.3" r="5.6"/><circle cx="1121.2" cy="113.1" r="5.6"/><circle cx="1135.1" cy="113.7" r="5.6"/><circle cx="1148.9" cy="115.9" r="5.6"/><circle cx="1162.8" cy="119.3" r="5.6"/><circle cx="1176.7" cy="119.9" r="5.6"/><circle cx="1190.5" cy="121.5" r="5.6"/><circle cx="1204.4" cy="120.7" r="5.6"/><circle cx="1218.2" cy="120.5" r="5.6"/><circle cx="1232.1" cy="118.6" r="5.6"/><circle cx="1246.0" cy="117.6" r="5.6"/><circle cx="1259.8" cy="115.9" r="5.6"/><circle cx="1273.7" cy="115.6" r="5.6"/><circle cx="1287.5" cy="115.3" r="5.6"/><circle cx="1301.4" cy="114.4" r="5.6"/><circle cx="1315.3" cy="114.3" r="5.6"/><circle cx="1329.1" cy="114.3" r="5.6"/><circle cx="1343.0" cy="114.1" r="5.6"/><circle cx="1356.8" cy="114.1" r="5.6"/><circle cx="1370.7" cy="114.1" r="5.6"/><circle cx="1384.6" cy="114.1" r="5.6"/><circle cx="1398.4" cy="114.1" r="5.6"/><circle cx="1412.3" cy="114.3" r="5.6"/><circle cx="1426.1" cy="114.3" r="5.6"/><circle cx="1440.0" cy="114.3" r="5.6"/><circle cx="1453.9" cy="114.4" r="5.6"/><circle cx="1467.7" cy="114.6" r="5.6"/><circle cx="1481.6" cy="114.7" r="5.6"/><circle cx="1495.4" cy="115.0" r="5.6"/><circle cx="1509.3" cy="115.1" r="5.6"/><circle cx="1523.2" cy="120.0" r="5.6"/><circle cx="1537.0" cy="120.7" r="5.6"/><circle cx="1550.9" cy="121.5" r="5.6"/><circle cx="1564.7" cy="120.7" r="5.6"/><circle cx="1578.6" cy="118.6" r="5.6"/><circle cx="1592.5" cy="118.2" r="5.6"/><circle cx="1606.3" cy="114.4" r="5.6"/><circle cx="1620.2" cy="113.6" r="5.6"/><circle cx="1634.0" cy="112.4" r="5.6"/><circle cx="1647.9" cy="111.4" r="5.6"/><circle cx="1661.8" cy="110.7" r="5.6"/><circle cx="1675.6" cy="109.6" r="5.6"/><circle cx="1689.5" cy="109.0" r="5.6"/><circle cx="1703.3" cy="108.1" r="5.6"/><circle cx="1717.2" cy="107.5" r="5.6"/></g>
<g fill="none" stroke="#8ab856" stroke-width="1.35"><circle cx="1093.5" cy="106.8" r="5.6"/><circle cx="1107.4" cy="106.5" r="5.6"/><circle cx="1121.2" cy="106.8" r="5.6"/><circle cx="1135.1" cy="107.3" r="5.6"/><circle cx="1148.9" cy="107.5" r="5.6"/><circle cx="1162.8" cy="108.3" r="5.6"/><circle cx="1176.7" cy="108.7" r="5.6"/><circle cx="1190.5" cy="109.0" r="5.6"/><circle cx="1204.4" cy="108.6" r="5.6"/><circle cx="1218.2" cy="107.8" r="5.6"/><circle cx="1232.1" cy="106.8" r="5.6"/><circle cx="1246.0" cy="106.5" r="5.6"/><circle cx="1259.8" cy="106.1" r="5.6"/><circle cx="1273.7" cy="105.7" r="5.6"/><circle cx="1287.5" cy="105.3" r="5.6"/><circle cx="1301.4" cy="104.7" r="5.6"/><circle cx="1315.3" cy="104.4" r="5.6"/><circle cx="1329.1" cy="104.2" r="5.6"/><circle cx="1343.0" cy="104.1" r="5.6"/><circle cx="1356.8" cy="104.1" r="5.6"/><circle cx="1370.7" cy="104.1" r="5.6"/><circle cx="1384.6" cy="104.1" r="5.6"/><circle cx="1398.4" cy="104.2" r="5.6"/><circle cx="1412.3" cy="104.2" r="5.6"/><circle cx="1426.1" cy="104.4" r="5.6"/><circle cx="1440.0" cy="104.5" r="5.6"/><circle cx="1453.9" cy="104.7" r="5.6"/><circle cx="1467.7" cy="105.0" r="5.6"/><circle cx="1481.6" cy="105.3" r="5.6"/><circle cx="1495.4" cy="105.7" r="5.6"/><circle cx="1509.3" cy="105.5" r="5.6"/><circle cx="1523.2" cy="106.8" r="5.6"/><circle cx="1537.0" cy="107.3" r="5.6"/><circle cx="1550.9" cy="107.8" r="5.6"/><circle cx="1564.7" cy="108.1" r="5.6"/><circle cx="1578.6" cy="108.3" r="5.6"/><circle cx="1592.5" cy="108.7" r="5.6"/><circle cx="1606.3" cy="109.7" r="5.6"/><circle cx="1620.2" cy="108.7" r="5.6"/><circle cx="1634.0" cy="109.3" r="5.6"/><circle cx="1647.9" cy="109.0" r="5.6"/><circle cx="1661.8" cy="108.4" r="5.6"/><circle cx="1675.6" cy="107.5" r="5.6"/><circle cx="1689.5" cy="107.3" r="5.6"/><circle cx="1703.3" cy="107.1" r="5.6"/><circle cx="1717.2" cy="106.8" r="5.6"/></g>
<text x="1093.5" y="635.3" font-size="18.0" text-anchor="middle" fill="#262626">-35</text>
<text x="1162.8" y="635.3" font-size="18.0" text-anchor="middle" fill="#262626">-30</text>
<text x="1232.1" y="635.3" font-size="18.0" text-anchor="middle" fill="#262626">-25</text>
<text x="1301.4" y="635.3" font-size="18.0" text-anchor="middle" fill="#262626">-20</text>
<text x="1370.7" y="635.3" font-size="18.0" text-anchor="middle" fill="#262626">-15</text>
<text x="1440.0" y="635.3" font-size="18.0" text-anchor="middle" fill="#262626">-10</text>
<text x="1509.3" y="635.3" font-size="18.0" text-anchor="middle" fill="#262626">-5</text>
<text x="1578.6" y="635.3" font-size="18.0" text-anchor="middle" fill="#262626">0</text>
<text x="1647.9" y="635.3" font-size="18.0" text-anchor="middle" fill="#262626">5</text>
<text x="1717.2" y="635.3" font-size="18.0" text-anchor="middle" fill="#262626">10</text>
<text x="1042.9" y="41.2" font-size="18.0" text-anchor="end" fill="#262626">0.5</text>
<text x="1042.9" y="112.9" font-size="18.0" text-anchor="end" fill="#262626">0</text>
<text x="1042.9" y="184.6" font-size="18.0" text-anchor="end" fill="#262626">-0.5</text>
<text x="1042.9" y="256.3" font-size="18.0" text-anchor="end" fill="#262626">-1</text>
<text x="1042.9" y="328.0" font-size="18.0" text-anchor="end" fill="#262626">-1.5</text>
<text x="1042.9" y="399.7" font-size="18.0" text-anchor="end" fill="#262626">-2</text>
<text x="1042.9" y="471.4" font-size="18.0" text-anchor="end" fill="#262626">-2.5</text>
<text x="1042.9" y="543.1" font-size="18.0" text-anchor="end" fill="#262626">-3</text>
<text x="1042.9" y="614.8" font-size="18.0" text-anchor="end" fill="#262626">-3.5</text>
<text x="1397.0" y="664.0" font-size="20.2" text-anchor="middle" fill="#262626">Position (mm)</text>
<text x="1000.0" y="321.5" font-size="20.3" text-anchor="middle" fill="#262626" transform="rotate(-90 1000.0 321.5)">Reactive Change (&#8202;&#937;&#8202;)</text>
<path d="M929.0 778.3L90.3 778.3L90.3 1594.3L1027.3 1594.3L1027.3 1404.0" fill="none" stroke="#262626" stroke-width="1.8"/>
<path d="M90.3 1594.3L90.3 1584.8M90.3 778.3L90.3 787.8M184.0 1594.3L184.0 1584.8M184.0 778.3L184.0 787.8M277.7 1594.3L277.7 1584.8M277.7 778.3L277.7 787.8M371.4 1594.3L371.4 1584.8M371.4 778.3L371.4 787.8M465.1 1594.3L465.1 1584.8M465.1 778.3L465.1 787.8M558.8 1594.3L558.8 1584.8M558.8 778.3L558.8 787.8M652.5 1594.3L652.5 1584.8M652.5 778.3L652.5 787.8M746.2 1594.3L746.2 1584.8M746.2 778.3L746.2 787.8M839.9 1594.3L839.9 1584.8M839.9 778.3L839.9 787.8M933.6 1594.3L933.6 1584.8M1027.3 1594.3L1027.3 1584.8M90.3 778.3L99.8 778.3M90.3 880.3L99.8 880.3M90.3 982.3L99.8 982.3M90.3 1084.3L99.8 1084.3M90.3 1186.3L99.8 1186.3M90.3 1288.3L99.8 1288.3M90.3 1390.3L99.8 1390.3M90.3 1492.3L99.8 1492.3M1027.3 1492.3L1017.8 1492.3M90.3 1594.3L99.8 1594.3M1027.3 1594.3L1017.8 1594.3" stroke="#262626" stroke-width="1.8" fill="none"/>
<text x="90.3" y="1629.3" font-size="22.0" text-anchor="middle" fill="#262626">0</text>
<text x="184.0" y="1629.3" font-size="22.0" text-anchor="middle" fill="#262626">0.2</text>
<text x="277.7" y="1629.3" font-size="22.0" text-anchor="middle" fill="#262626">0.4</text>
<text x="371.4" y="1629.3" font-size="22.0" text-anchor="middle" fill="#262626">0.6</text>
<text x="465.1" y="1629.3" font-size="22.0" text-anchor="middle" fill="#262626">0.8</text>
<text x="558.8" y="1629.3" font-size="22.0" text-anchor="middle" fill="#262626">1</text>
<text x="652.5" y="1629.3" font-size="22.0" text-anchor="middle" fill="#262626">1.2</text>
<text x="746.2" y="1629.3" font-size="22.0" text-anchor="middle" fill="#262626">1.4</text>
<text x="839.9" y="1629.3" font-size="22.0" text-anchor="middle" fill="#262626">1.6</text>
<text x="933.6" y="1629.3" font-size="22.0" text-anchor="middle" fill="#262626">1.8</text>
<text x="1027.3" y="1629.3" font-size="22.0" text-anchor="middle" fill="#262626">2</text>
<text x="76.3" y="786.2" font-size="22.0" text-anchor="end" fill="#262626">0.5</text>
<text x="76.3" y="888.2" font-size="22.0" text-anchor="end" fill="#262626">0</text>
<text x="76.3" y="990.2" font-size="22.0" text-anchor="end" fill="#262626">-0.5</text>
<text x="76.3" y="1092.2" font-size="22.0" text-anchor="end" fill="#262626">-1</text>
<text x="76.3" y="1194.2" font-size="22.0" text-anchor="end" fill="#262626">-1.5</text>
<text x="76.3" y="1296.2" font-size="22.0" text-anchor="end" fill="#262626">-2</text>
<text x="76.3" y="1398.2" font-size="22.0" text-anchor="end" fill="#262626">-2.5</text>
<text x="76.3" y="1500.2" font-size="22.0" text-anchor="end" fill="#262626">-3</text>
<text x="76.3" y="1602.2" font-size="22.0" text-anchor="end" fill="#262626">-3.5</text>
<text x="558.9" y="1665.3" font-size="25.8" text-anchor="middle" fill="#262626">Resistive Change (&#8202;&#937;&#8202;)</text>
<text x="25.2" y="1186.4" font-size="25.6" text-anchor="middle" fill="#262626" transform="rotate(-90 25.2 1186.4)">Reactive Change (&#8202;&#937;&#8202;)</text>
<path d="M142.0 938.9L144.6 941.1L147.2 943.3L149.9 945.5L152.5 947.8L155.1 950.0L157.8 952.2L160.4 954.4L163.0 956.6L165.6 958.8L168.3 961.0L170.9 963.2L173.5 965.5L176.2 967.7L178.8 969.9L181.4 972.1L184.0 974.3L186.7 976.5L189.3 978.7L191.9 980.9L194.5 983.1L197.2 985.3L199.8 987.5L202.4 989.7L205.0 991.9L207.7 994.1L210.3 996.3L212.9 998.5L215.5 1000.7L218.2 1003.0L220.8 1005.2L223.4 1007.4L226.0 1009.6L228.6 1011.8L231.3 1014.0L233.9 1016.2L236.5 1018.4L239.1 1020.6L241.8 1022.8L244.4 1025.0L247.0 1027.2L249.6 1029.4L252.3 1031.6L254.9 1033.8L257.5 1036.0L260.1 1038.2L262.8 1040.4L265.4 1042.6L268.0 1044.8L270.6 1047.0L273.3 1049.2L275.9 1051.4L278.5 1053.6L281.1 1055.8L283.8 1058.0L286.4 1060.2L289.0 1062.4L291.7 1064.6L294.3 1066.8L296.9 1069.0L299.6 1071.2L302.2 1073.4L304.8 1075.6L307.5 1077.8L310.1 1080.0L312.7 1082.2L315.4 1084.4L318.0 1086.6L320.6 1088.8L323.3 1091.0L325.9 1093.2L328.6 1095.4L331.2 1097.6L333.9 1099.8L336.5 1102.0L339.1 1104.2L341.8 1106.4L344.4 1108.6L347.1 1110.8L349.7 1113.0L352.4 1115.2L355.0 1117.4L357.7 1119.6L360.3 1121.8L363.0 1124.0L365.6 1126.2L368.3 1128.4L371.0 1130.6L373.6 1132.8L376.3 1135.0L378.9 1137.2L381.6 1139.4L384.3 1141.6L386.9 1143.8L389.6 1146.0L392.3 1148.2L394.9 1150.4L397.6 1152.6L400.3 1154.8L403.0 1157.0L405.6 1159.1L408.3 1161.3L411.0 1163.5L413.7 1165.7L416.4 1167.9L419.0 1170.1L421.7 1172.2L424.4 1174.4L427.1 1176.6L429.8 1178.7L432.5 1180.9L435.2 1183.1L437.9 1185.2L440.6 1187.4L443.3 1189.6L446.0 1191.7L448.7 1193.9L451.4 1196.0L454.1 1198.2L456.8 1200.3L459.5 1202.5L462.2 1204.6L465.0 1206.7L467.7 1208.9L470.4 1211.0L473.1 1213.1L475.8 1215.3L478.6 1217.4L481.3 1219.5L484.0 1221.6L486.8 1223.7L489.5 1225.9L492.2 1228.0L495.0 1230.1L497.7 1232.2L500.5 1234.3L503.2 1236.3L506.0 1238.4L508.7 1240.5L511.5 1242.6L514.2 1244.7L517.0 1246.7L519.8 1248.8L522.5 1250.9L525.3 1252.9L528.1 1255.0L530.8 1257.0L533.6 1259.1L536.4 1261.1L539.2 1263.2L541.9 1265.2L544.7 1267.2L547.5 1269.2L550.3 1271.3L553.1 1273.3L555.9 1275.3L558.7 1277.3L561.5 1279.3L564.3 1281.3L567.1 1283.2L569.9 1285.2L572.7 1287.2L575.6 1289.2L578.4 1291.1L581.2 1293.1L584.0 1295.0L586.9 1297.0L589.7 1298.9L592.5 1300.9L595.4 1302.8L598.2 1304.7L601.1 1306.6L603.9 1308.6L606.8 1310.5L609.6 1312.4L612.5 1314.3L615.3 1316.2L618.2 1318.0L621.1 1319.9L623.9 1321.8L626.8 1323.6L629.7 1325.5L632.6 1327.4L635.4 1329.2L638.3 1331.0L641.2 1332.9L644.1 1334.7L647.0 1336.5L649.9 1338.3L652.8 1340.2L655.7 1342.0L658.6 1343.7L661.6 1345.5L664.5 1347.3L667.4 1349.1L670.3 1350.9L673.3 1352.6L676.2 1354.4L679.1 1356.1L682.1 1357.9L685.0 1359.6L688.0 1361.3L690.9 1363.1L693.9 1364.8L696.8 1366.5L699.8 1368.2L702.8 1369.9L705.8 1371.6L708.7 1373.2L711.7 1374.9L714.7 1376.6L717.7 1378.2L720.7 1379.9L723.7 1381.5L726.7 1383.2L729.7 1384.8L732.7 1386.4L735.7 1388.0L738.7 1389.6L741.7 1391.2L744.8 1392.8L747.8 1394.4L750.8 1396.0L753.9 1397.5L756.9 1399.1L760.0 1400.6L763.0 1402.2L766.1 1403.7L769.1 1405.2L772.2 1406.8L775.2 1408.3L778.3 1409.8L781.4 1411.3L784.5 1412.8L787.6 1414.3L790.7 1415.7L793.8 1417.2L796.9 1418.6L800.0 1420.1L803.1 1421.5L806.2 1423.0L809.3 1424.4L812.4 1425.8L815.6 1427.2L818.7 1428.6L821.8 1430.0L825.0 1431.4L828.1 1432.7L831.3 1434.1L834.4 1435.5L837.6 1436.8L840.7 1438.1L843.9 1439.5L847.1 1440.8L850.3 1442.1L853.5 1443.4L856.6 1444.7L859.8 1446.0L863.0 1447.3L866.2 1448.5L869.5 1449.8L872.7 1451.0L875.9 1452.3L879.1 1453.5L882.4 1454.7L885.6 1455.9L888.8 1457.1L892.1 1458.3L895.3 1459.5L898.6 1460.7L901.8 1461.8L905.1 1463.0L908.4 1464.2L911.7 1465.3L914.9 1466.4L918.2 1467.5L921.5 1468.6L924.8 1469.7L928.1 1470.8L931.4 1471.9L934.8 1473.0L938.1 1474.0L941.4 1475.1L944.7 1476.1L948.1 1477.2L951.4 1478.2L954.8 1479.2L958.1 1480.2L961.5 1481.2L964.9 1482.1L968.2 1483.1L971.6 1484.1L975.0 1485.0L978.4 1486.0L981.8 1486.9L985.2 1487.8L988.6 1488.7L992.0 1489.6L995.4 1490.5L998.8 1491.4" fill="none" stroke="#0072BD" stroke-width="1.7"/>
<path d="M142.2 939.8L144.9 942.0L147.5 944.2L150.1 946.4L152.7 948.6L155.3 950.9L157.9 953.1L160.5 955.3L163.1 957.6L165.7 959.8L168.2 962.1L170.8 964.3L173.4 966.6L176.0 968.8L178.6 971.1L181.2 973.4L183.8 975.6L186.3 977.9L188.9 980.2L191.5 982.5L194.1 984.8L196.6 987.1L199.2 989.4L201.8 991.7L204.3 994.0L206.9 996.3L209.5 998.6L212.0 1000.9L214.6 1003.2L217.2 1005.6L219.7 1007.9L222.3 1010.2L224.8 1012.6L227.4 1014.9L230.0 1017.2L232.5 1019.6L235.1 1021.9L237.6 1024.3L240.2 1026.6L242.7 1029.0L245.3 1031.3L247.8 1033.7L250.4 1036.0L252.9 1038.4L255.5 1040.8L258.0 1043.1L260.6 1045.5L263.1 1047.9L265.7 1050.3L268.2 1052.6L270.8 1055.0L273.3 1057.4L275.9 1059.8L278.4 1062.2L281.0 1064.5L283.5 1066.9L286.1 1069.3L288.6 1071.7L291.2 1074.1L293.7 1076.5L296.3 1078.9L298.8 1081.3L301.4 1083.7L303.9 1086.1L306.5 1088.5L309.0 1090.9L311.6 1093.3L314.1 1095.7L316.7 1098.1L319.2 1100.5L321.8 1102.9L324.3 1105.3L326.9 1107.7L329.4 1110.1L332.0 1112.5L334.5 1114.9L337.1 1117.3L339.6 1119.7L342.2 1122.1L344.7 1124.5L347.3 1126.9L349.9 1129.3L352.4 1131.7L355.0 1134.1L357.5 1136.5L360.1 1138.9L362.7 1141.3L365.2 1143.7L367.8 1146.1L370.4 1148.5L372.9 1150.9L375.5 1153.3L378.1 1155.7L380.7 1158.1L383.2 1160.5L385.8 1162.8L388.4 1165.2L391.0 1167.6L393.5 1170.0L396.1 1172.4L398.7 1174.8L401.3 1177.2L403.9 1179.5L406.5 1181.9L409.1 1184.3L411.7 1186.7L414.3 1189.0L416.8 1191.4L419.4 1193.8L422.0 1196.1L424.7 1198.5L427.3 1200.9L429.9 1203.2L432.5 1205.6L435.1 1207.9L437.7 1210.3L440.3 1212.6L442.9 1215.0L445.6 1217.3L448.2 1219.7L450.8 1222.0L453.4 1224.3L456.1 1226.7L458.7 1229.0L461.3 1231.3L464.0 1233.6L466.6 1235.9L469.3 1238.3L471.9 1240.6L474.6 1242.9L477.2 1245.2L479.9 1247.5L482.5 1249.8L485.2 1252.1L487.9 1254.4L490.5 1256.6L493.2 1258.9L495.9 1261.2L498.6 1263.5L501.2 1265.7L503.9 1268.0L506.6 1270.2L509.3 1272.5L512.0 1274.7L514.7 1277.0L517.4 1279.2L520.1 1281.5L522.8 1283.7L525.5 1285.9L528.2 1288.1L531.0 1290.3L533.7 1292.6L536.4 1294.8L539.1 1297.0L541.9 1299.1L544.6 1301.3L547.3 1303.5L550.1 1305.7L552.8 1307.9L555.6 1310.0L558.4 1312.2L561.1 1314.3L563.9 1316.5L566.7 1318.6L569.4 1320.8L572.2 1322.9L575.0 1325.0L577.8 1327.1L580.6 1329.2L583.4 1331.3L586.2 1333.4L589.0 1335.5L591.8 1337.6L594.6 1339.7L597.4 1341.7L600.2 1343.8L603.1 1345.9L605.9 1347.9L608.7 1349.9L611.6 1352.0L614.4 1354.0L617.3 1356.0L620.2 1358.0L623.0 1360.0L625.9 1362.0L628.8 1363.9L631.6 1365.9L634.5 1367.9L637.4 1369.8L640.3 1371.7L643.2 1373.7L646.1 1375.6L649.0 1377.5L651.9 1379.4L654.8 1381.3L657.8 1383.1L660.7 1385.0L663.6 1386.9L666.6 1388.7L669.5 1390.5L672.5 1392.4L675.4 1394.2L678.4 1396.0L681.4 1397.7L684.4 1399.5L687.3 1401.3L690.3 1403.0L693.3 1404.8L696.3 1406.5L699.3 1408.2L702.3 1409.9L705.4 1411.6L708.4 1413.3L711.4 1414.9L714.5 1416.6L717.5 1418.2L720.6 1419.8L723.6 1421.4L726.7 1423.0L729.7 1424.6L732.8 1426.1L735.9 1427.7L739.0 1429.2L742.1 1430.8L745.2 1432.3L748.3 1433.7L751.4 1435.2L754.5 1436.7L757.7 1438.1L760.8 1439.6L763.9 1441.0L767.1 1442.4L770.2 1443.7L773.4 1445.1L776.6 1446.5L779.7 1447.8L782.9 1449.1L786.1 1450.4L789.3 1451.7L792.5 1452.9L795.7 1454.2L799.0 1455.4L802.2 1456.6L805.4 1457.8L808.7 1459.0L811.9 1460.2L815.2 1461.3L818.4 1462.4L821.7 1463.5L825.0 1464.6L828.3 1465.7L831.6 1466.8L834.9 1467.8L838.2 1468.8L841.5 1469.8L844.8 1470.8L848.2 1471.7L851.5 1472.6L854.9 1473.6L858.2 1474.5L861.6 1475.3L865.0 1476.2L868.3 1477.0L871.7 1477.8L875.1 1478.6L878.5 1479.4L882.0 1480.1L885.4 1480.9L888.8 1481.6L892.2 1482.3L895.7 1482.9L899.2 1483.6L902.6 1484.2L906.1 1484.8L909.6 1485.4L913.1 1485.9L916.6 1486.5L920.1 1487.0L923.6 1487.5L927.1 1487.9L930.7 1488.4L934.2 1488.8L937.8 1489.2L941.3 1489.6L944.9 1489.9L948.5 1490.3L952.1 1490.6L955.7 1490.8L959.3 1491.1L962.9 1491.3L966.5 1491.5L970.1 1491.7L973.8 1491.9L977.4 1492.0L981.1 1492.1L984.8 1492.2L988.5 1492.2L992.2 1492.3L995.9 1492.3L999.6 1492.2" fill="none" stroke="#0072BD" stroke-width="1.7"/>
<path d="M119.3 903.6L119.7 903.7L120.0 903.9L120.4 904.2L120.8 904.4L121.2 904.6L121.6 904.8L122.0 905.1L122.4 905.3L122.8 905.6L123.3 905.9L123.8 906.2L124.2 906.4L124.7 906.7L125.2 907.0L125.7 907.4L126.2 907.7L126.7 908.0L127.2 908.3L127.8 908.7L128.3 909.0L128.9 909.4L129.4 909.7L130.0 910.1L130.6 910.4L131.1 910.8L131.7 911.2L132.3 911.6L132.9 911.9L133.5 912.3L134.1 912.7L134.7 913.1L135.3 913.6L136.0 914.0L136.6 914.5L137.2 915.0L137.9 915.4L138.6 915.9L139.3 916.5L140.0 917.0L140.8 917.5L141.5 918.1L142.3 918.6L143.1 919.2L143.9 919.7L144.7 920.3L145.5 920.9L146.3 921.5L147.2 922.1L148.0 922.7L148.9 923.3L149.8 923.9L150.7 924.5L151.6 925.1L152.5 925.7L153.4 926.3L154.3 926.9L155.2 927.4L156.2 928.0L157.1 928.6L158.1 929.2L159.1 929.8L160.1 930.4L161.1 930.9L162.1 931.5L163.2 932.1L164.2 932.6L165.3 933.2L166.4 933.8L167.5 934.4L168.6 934.9L169.7 935.5L170.9 936.1L172.0 936.7L173.2 937.3L174.3 938.0L175.5 938.6L176.7 939.2L177.8 939.9L179.0 940.6L180.2 941.3L181.4 942.0L182.6 942.7L183.8 943.4L185.0 944.2L186.2 945.0L187.4 945.8L188.6 946.6L189.9 947.4L191.1 948.3L192.4 949.2L193.8 950.2L195.1 951.2L196.5 952.3L198.0 953.4L199.4 954.5L201.0 955.7L202.6 956.9L204.3 958.2L206.1 959.4L207.9 960.7L209.9 962.0L211.9 963.3L214.0 964.6L216.1 966.0L218.3 967.3L220.5 968.8L222.7 970.2L225.0 971.8L227.3 973.3L229.6 974.9L231.9 976.6L234.2 978.2L236.4 979.9L238.8 981.6L241.1 983.4L243.5 985.1L245.9 986.8L248.3 988.6L250.8 990.4L253.2 992.1L255.7 993.9L258.2 995.6L260.8 997.3L263.3 999.0L265.8 1000.7L268.4 1002.4L270.9 1004.0L273.4 1005.6L275.9 1007.1L278.5 1008.6L281.0 1010.1L283.5 1011.6L286.1 1013.0L288.6 1014.5L291.2 1016.0L293.8 1017.4L296.3 1018.9L298.9 1020.3L301.5 1021.8L304.1 1023.2L306.7 1024.6L309.4 1026.0L312.0 1027.3L314.6 1028.7L317.3 1030.0L320.0 1031.4L322.7 1032.6L325.5 1033.9L328.3 1035.2L331.0 1036.4L333.8 1037.6L336.6 1038.8L339.4 1039.9L342.2 1041.1L344.9 1042.2L347.7 1043.3L350.4 1044.4L353.0 1045.5L355.7 1046.6L358.3 1047.6L360.8 1048.7L363.4 1049.8L365.9 1050.9L368.4 1051.9L370.8 1053.0L373.3 1054.0L375.7 1055.0L378.1 1056.0L380.5 1057.0L382.9 1058.0L385.3 1059.0L387.7 1059.9L390.1 1060.8L392.4 1061.7L394.8 1062.6L397.2 1063.4L399.5 1064.3L401.9 1065.1L404.2 1065.8L406.6 1066.6L408.9 1067.3L411.3 1068.0L413.6 1068.7L415.9 1069.3L418.2 1069.9L420.4 1070.4L422.7 1071.0L424.9 1071.5L427.1 1072.0L429.3 1072.5L431.5 1073.1L433.8 1073.6L436.0 1074.1L438.1 1074.6L440.3 1075.1L442.3 1075.5L444.3 1076.0L446.2 1076.5L448.0 1076.9L449.8 1077.4L451.5 1077.8L453.1 1078.2L454.8 1078.6L456.4 1079.0L458.0 1079.4L459.5 1079.8L461.1 1080.1L462.6 1080.5L464.0 1080.8L465.5 1081.1L466.9 1081.4L468.3 1081.7L469.7 1082.0L471.0 1082.2L472.4 1082.4L473.7 1082.6L475.0 1082.8L476.3 1083.0L477.6 1083.1L478.9 1083.3L480.2 1083.4L481.5 1083.5L482.8 1083.6L484.0 1083.7L485.3 1083.9L486.5 1084.0L487.7 1084.1L488.9 1084.2L490.0 1084.3L491.1 1084.4L492.2 1084.5L493.3 1084.6L494.3 1084.6L495.3 1084.7L496.2 1084.8L497.1 1084.9L497.9 1085.0L498.7 1085.1L499.5 1085.2L500.3 1085.2L501.1 1085.3L501.8 1085.4L502.5 1085.4L503.2 1085.5L503.9 1085.6L504.5 1085.6L505.2 1085.7L505.8 1085.8L506.4 1085.8L507.0 1085.9L507.6 1085.9L508.1 1086.0L508.7 1086.0L509.2 1086.1L509.8 1086.1L510.3 1086.2L510.8 1086.2L511.3 1086.3L511.8 1086.3L512.3 1086.3L512.7 1086.4L513.2 1086.4L513.7 1086.4L514.1 1086.5L514.6 1086.5L515.0 1086.5L515.5 1086.5L515.9 1086.5L516.3 1086.6L516.7 1086.6L517.1 1086.6L517.5 1086.6L517.9 1086.6L518.3 1086.7L518.7 1086.7L519.1 1086.7L519.4 1086.7L519.8 1086.7L520.1 1086.7L520.5 1086.8L520.8 1086.8L521.2 1086.8L521.5 1086.8L521.8 1086.8L522.1 1086.8L522.4 1086.8L522.7 1086.9L523.0 1086.9L523.3 1086.9L523.6 1086.9L523.9 1086.9L524.2 1086.9L524.5 1086.9L524.8 1087.0L525.1 1087.0L525.4 1087.0L525.6 1087.0L525.9 1087.0L526.2 1087.0L526.4 1087.0L526.7 1087.0L526.9 1087.1L527.1 1087.1L527.4 1087.1L527.6 1087.1L527.8 1087.1L528.0 1087.1L528.2 1087.1L528.3 1087.1L528.5 1087.1L528.7 1087.2L528.8 1087.2L529.0 1087.2L529.1 1087.2L529.2 1087.2L529.4 1087.2L529.5 1087.2L529.6 1087.2L529.7 1087.2L529.9 1087.2L530.0 1087.2L530.1 1087.3L530.2 1087.3L530.3 1087.3L530.4 1087.3L530.5 1087.3L530.6 1087.3L530.7 1087.3L530.8 1087.3L530.9 1087.3L531.0 1087.3L531.1 1087.3L531.2 1087.3L531.3 1087.3L531.4 1087.4L531.5 1087.4L531.6 1087.4L531.7 1087.4L531.7 1087.4L531.8 1087.4L531.9 1087.4L532.0 1087.4L532.1 1087.4L532.1 1087.4L532.2 1087.4L532.3 1087.4L532.3 1087.4L532.4 1087.4L532.5 1087.4L532.6 1087.5L532.6 1087.5L532.7 1087.5L532.7 1087.5L532.8 1087.5L532.9 1087.5L532.9 1087.5L533.0 1087.5L533.0 1087.5L533.1 1087.5L533.1 1087.5L533.2 1087.5L533.2 1087.5L533.3 1087.5L533.3 1087.5L533.4 1087.5L533.4 1087.6L533.5 1087.6L533.5 1087.6L533.6 1087.6L533.6 1087.6L533.7 1087.6L533.7 1087.6L533.7 1087.6L533.8 1087.6L533.8 1087.6L533.9 1087.6L533.9 1087.6L533.9 1087.6L534.0 1087.6L534.0 1087.6L534.0 1087.7L534.1 1087.7L534.1 1087.7L534.2 1087.7L534.2 1087.7L534.2 1087.7L534.3 1087.7L534.3 1087.7L534.3 1087.7L534.4 1087.7L534.4 1087.7L534.4 1087.7L534.5 1087.7L534.5 1087.7L534.5 1087.8L534.6 1087.8L534.6 1087.8L534.6 1087.8L534.7 1087.8L534.7 1087.8L534.7 1087.8L534.8 1087.8L534.8 1087.8L534.8 1087.8L534.9 1087.8L534.9 1087.8L534.9 1087.9L535.0 1087.9L535.0 1087.9L535.0 1087.9L535.1 1087.9L535.1 1087.9L535.2 1087.9L535.2 1087.9L535.2 1087.9L535.3 1088.0L535.3 1088.0L535.4 1088.0L535.4 1088.0L535.5 1088.0L535.5 1088.0L535.6 1088.0L535.6 1088.0L535.7 1088.0L535.7 1088.0L535.8 1088.1L535.9 1088.1L535.9 1088.1L536.0 1088.1L536.1 1088.1L536.1 1088.1L536.2 1088.1L536.3 1088.1L536.3 1088.1L536.4 1088.1L536.5 1088.2L536.5 1088.2L536.6 1088.2L536.7 1088.2L536.7 1088.2L536.8 1088.2L536.9 1088.2L536.9 1088.2L537.0 1088.2L537.1 1088.2L537.1 1088.3L537.2 1088.3L537.2 1088.3L537.3 1088.3L537.3 1088.3L537.4 1088.3L537.4 1088.3L537.5 1088.3L537.5 1088.3L537.5 1088.3L537.6 1088.3L537.6 1088.4L537.6 1088.4L537.7 1088.4L537.7 1088.4L537.7 1088.4L537.7 1088.4L537.7 1088.4L537.7 1088.4L537.7 1088.4L537.7 1088.4L537.7 1088.4L537.7 1088.4L537.7 1088.5L537.7 1088.5L537.7 1088.5L537.7 1088.5L537.7 1088.5L537.7 1088.5L537.6 1088.5L537.6 1088.5L537.6 1088.5L537.6 1088.5L537.6 1088.5L537.6 1088.6L537.6 1088.6L537.5 1088.6L537.5 1088.6L537.5 1088.6L537.5 1088.6L537.5 1088.6L537.4 1088.6L537.4 1088.6L537.4 1088.6L537.4 1088.6L537.3 1088.7L537.3 1088.7L537.3 1088.7L537.2 1088.7L537.2 1088.7L537.2 1088.7L537.2 1088.7L537.1 1088.7L537.1 1088.7L537.1 1088.7L537.0 1088.8L537.0 1088.8L537.0 1088.8L536.9 1088.8L536.9 1088.8L536.8 1088.8L536.8 1088.8L536.8 1088.8L536.7 1088.8L536.7 1088.8L536.6 1088.9L536.6 1088.9L536.6 1088.9L536.5 1088.9L536.5 1088.9L536.4 1088.9L536.4 1088.9L536.3 1088.9L536.3 1088.9L536.3 1089.0L536.2 1089.0L536.2 1089.0L536.1 1089.0L536.1 1089.0L536.0 1089.0L536.0 1089.0L535.9 1089.0L535.9 1089.1L535.8 1089.1L535.8 1089.1L535.7 1089.1L535.7 1089.1L535.6 1089.1L535.6 1089.1L535.5 1089.2L535.5 1089.2L535.4 1089.2L535.4 1089.2L535.3 1089.2L535.3 1089.2L535.2 1089.2L535.1 1089.3L535.1 1089.3L535.0 1089.3L535.0 1089.3L534.9 1089.3L534.8 1089.3L534.7 1089.3L534.7 1089.4L534.6 1089.4L534.5 1089.4L534.4 1089.4L534.3 1089.4L534.2 1089.4L534.1 1089.5L534.0 1089.5L533.9 1089.5L533.8 1089.5L533.7 1089.5L533.6 1089.6L533.5 1089.6L533.4 1089.6L533.3 1089.6L533.2 1089.6L533.0 1089.6L532.9 1089.7L532.8 1089.7L532.7 1089.7L532.5 1089.7L532.4 1089.7L532.2 1089.8L532.1 1089.8L532.0 1089.8L531.8 1089.8L531.7 1089.9L531.5 1089.9L531.4 1089.9L531.2 1089.9L531.1 1089.9L530.9 1090.0L530.7 1090.0L530.6 1090.0L530.4 1090.0L530.2 1090.1L530.0 1090.1L529.9 1090.1L529.7 1090.1L529.4 1090.2L529.2 1090.2L529.0 1090.2L528.8 1090.2L528.5 1090.3L528.2 1090.3L528.0 1090.3L527.7 1090.3L527.4 1090.4L527.1 1090.4L526.8 1090.4L526.5 1090.5L526.1 1090.5L525.8 1090.5L525.5 1090.6L525.1 1090.7L524.7 1090.7L524.4 1090.8L524.0 1090.9L523.6 1091.0L523.2 1091.1L522.8 1091.2L522.3 1091.3L521.9 1091.4L521.5 1091.5L521.0 1091.6L520.6 1091.8L520.1 1091.9L519.6 1092.0L519.1 1092.1L518.6 1092.3L518.1 1092.4L517.6 1092.6L517.1 1092.7L516.6 1092.8L516.0 1093.0L515.4 1093.1L514.7 1093.3L514.0 1093.4L513.3 1093.5L512.6 1093.7L511.8 1093.8L511.0 1093.9L510.2 1094.1L509.3 1094.2L508.4 1094.3L507.5 1094.5L506.6 1094.6L505.6 1094.7L504.6 1094.8L503.6 1094.9L502.5 1095.0L501.5 1095.1L500.4 1095.2L499.3 1095.3L498.1 1095.4L497.0 1095.4L495.8 1095.5L494.6 1095.6L493.4 1095.6L492.1 1095.6L490.7 1095.7L489.2 1095.7L487.7 1095.7L486.2 1095.7L484.5 1095.7L482.8 1095.7L481.1 1095.6L479.3 1095.5L477.5 1095.4L475.7 1095.3L473.7 1095.2L471.8 1095.0L469.8 1094.8L467.9 1094.7L465.8 1094.4L463.8 1094.2L461.7 1094.0L459.7 1093.7L457.6 1093.4L455.5 1093.1L453.4 1092.8L451.3 1092.5L449.2 1092.2L447.1 1091.8L445.0 1091.5L443.0 1091.1L440.9 1090.7L438.9 1090.3L436.8 1089.9L434.8 1089.5L432.7 1089.1L430.6 1088.7L428.5 1088.2L426.4 1087.8L424.2 1087.3L422.1 1086.9L419.9 1086.4L417.7 1086.0L415.5 1085.5L413.3 1085.0L411.1 1084.5L408.9 1084.1L406.6 1083.6L404.3 1083.1L402.1 1082.5L399.8 1081.9L397.5 1081.2L395.2 1080.5L392.9 1079.7L390.6 1078.9L388.3 1078.1L385.9 1077.2L383.6 1076.3L381.3 1075.4L378.9 1074.5L376.6 1073.5L374.2 1072.6L371.9 1071.7L369.5 1070.7L367.1 1069.7L364.6 1068.7L362.2 1067.7L359.7 1066.7L357.1 1065.6L354.6 1064.5L352.0 1063.4L349.5 1062.3L346.9 1061.2L344.3 1060.0L341.7 1058.8L339.1 1057.7L336.4 1056.5L333.8 1055.2L331.2 1054.0L328.6 1052.8L326.1 1051.5L323.5 1050.3L320.9 1049.0L318.4 1047.7L315.9 1046.5L313.4 1045.2L310.9 1043.9L308.5 1042.6L306.1 1041.3L303.7 1040.0L301.4 1038.7L299.1 1037.4L296.9 1036.1L294.7 1034.8L292.5 1033.4L290.3 1032.1L288.2 1030.7L286.0 1029.2L283.9 1027.8L281.7 1026.3L279.6 1024.9L277.5 1023.4L275.4 1021.9L273.4 1020.4L271.3 1018.9L269.3 1017.4L267.3 1015.9L265.3 1014.4L263.3 1012.9L261.3 1011.4L259.4 1009.9L257.4 1008.4L255.5 1006.9L253.6 1005.5L251.7 1004.0L249.9 1002.6L248.0 1001.2L246.2 999.8L244.4 998.5L242.6 997.2L240.9 995.9L239.1 994.6L237.4 993.3L235.7 992.1L234.0 990.8L232.3 989.6L230.7 988.3L229.0 987.1L227.4 985.9L225.7 984.6L224.1 983.4L222.5 982.2L220.9 981.0L219.3 979.8L217.7 978.7L216.2 977.5L214.7 976.3L213.1 975.2L211.6 974.1L210.1 973.0L208.7 971.9L207.2 970.8L205.8 969.7L204.3 968.6L202.9 967.6L201.6 966.6L200.2 965.6L198.8 964.6L197.5 963.6L196.2 962.7L194.9 961.7L193.7 960.8L192.4 959.9L191.2 959.0L190.0 958.1L188.8 957.2L187.6 956.4L186.4 955.5L185.3 954.7L184.1 953.8L183.0 953.0L181.9 952.2L180.8 951.4L179.7 950.6L178.6 949.8L177.5 949.0L176.5 948.2L175.4 947.4L174.4 946.7L173.3 946.0L172.3 945.2L171.3 944.5L170.3 943.8L169.3 943.1L168.4 942.4L167.4 941.7L166.4 941.0L165.5 940.4L164.6 939.7L163.6 939.1L162.7 938.4L161.8 937.8L160.9 937.1L160.0 936.5L159.2 935.9L158.3 935.3L157.4 934.7L156.6 934.1L155.8 933.5L154.9 932.9L154.1 932.3L153.3 931.8L152.5 931.2L151.7 930.6L150.9 930.1L150.1 929.5L149.3 929.0L148.5 928.5L147.8 927.9L147.0 927.4L146.3 926.9L145.5 926.4L144.8 926.0L144.1 925.5L143.4 925.0L142.6 924.5L141.9 924.1L141.3 923.7L140.6 923.2L139.9 922.8L139.2 922.4L138.6 922.0L137.9 921.6L137.3 921.2L136.7 920.8L136.1 920.4L135.4 920.0L134.8 919.6L134.2 919.2L133.5 918.8L132.9 918.4L132.3 918.1L131.7 917.7L131.1 917.4L130.5 917.0L129.9 916.7L129.3 916.3L128.7 916.0L128.1 915.7L127.5 915.4L127.0 915.1L126.5 914.8L125.9 914.5L125.4 914.2L124.9 913.9L124.5 913.6L124.0 913.4L123.6 913.1L123.1 912.8L122.7 912.6L122.4 912.4L122.0 912.1L121.7 911.9L121.4 911.7L121.1 911.5L120.8 911.3L120.4 911.1L120.1 911.0L119.8 910.8L119.5 910.6L119.3 910.4L119.0 910.3L118.7 910.1L118.4 909.9L118.1 909.7L117.9 909.6L117.6 909.4L117.4 909.2L117.1 909.0L116.9 908.9L116.7 908.7L116.4 908.5L116.2 908.3L116.0 908.1L115.9 907.9L115.7 907.6L115.5 907.4L115.4 907.2L115.2 906.9L115.1 906.7L115.0 906.4L114.9 906.1L114.8 905.8L114.7 905.5L114.7 905.2" fill="none" stroke="#D95319" stroke-width="1.70" stroke-linejoin="round"/>
<path d="M105.8 889.9L106.1 890.0L106.4 890.1L106.7 890.2L107.0 890.3L107.4 890.4L107.7 890.5L108.0 890.6L108.3 890.8L108.7 890.9L109.0 891.0L109.4 891.1L109.8 891.2L110.1 891.4L110.5 891.5L110.8 891.6L111.2 891.7L111.6 891.9L111.9 892.0L112.3 892.1L112.7 892.3L113.0 892.4L113.4 892.5L113.8 892.7L114.1 892.8L114.5 893.0L114.9 893.1L115.3 893.3L115.7 893.4L116.1 893.6L116.5 893.7L116.8 893.9L117.2 894.0L117.6 894.2L118.0 894.3L118.4 894.5L118.8 894.6L119.2 894.8L119.7 894.9L120.1 895.1L120.5 895.3L120.9 895.4L121.3 895.6L121.8 895.8L122.2 895.9L122.6 896.1L123.0 896.3L123.5 896.4L123.9 896.6L124.4 896.8L124.8 896.9L125.3 897.1L125.7 897.3L126.2 897.5L126.6 897.7L127.1 897.9L127.6 898.1L128.1 898.2L128.5 898.4L129.0 898.6L129.5 898.8L130.0 899.0L130.5 899.3L131.0 899.5L131.5 899.7L132.0 899.9L132.6 900.1L133.1 900.3L133.6 900.6L134.2 900.8L134.7 901.0L135.3 901.3L135.8 901.5L136.4 901.8L136.9 902.0L137.5 902.3L138.1 902.5L138.7 902.8L139.3 903.1L139.9 903.4L140.5 903.7L141.1 904.0L141.7 904.3L142.3 904.6L142.9 905.0L143.6 905.3L144.2 905.7L144.9 906.1L145.5 906.4L146.2 906.8L146.9 907.2L147.5 907.6L148.2 908.0L148.9 908.4L149.6 908.8L150.3 909.2L151.1 909.6L151.8 910.1L152.6 910.5L153.3 910.9L154.1 911.3L154.8 911.8L155.6 912.2L156.4 912.6L157.2 913.1L158.0 913.5L158.8 914.0L159.6 914.4L160.4 914.8L161.3 915.3L162.1 915.7L163.0 916.1L163.8 916.6L164.7 917.0L165.5 917.4L166.4 917.8L167.3 918.2L168.1 918.7L169.0 919.1L169.9 919.5L170.8 920.0L171.7 920.4L172.6 920.9L173.6 921.3L174.5 921.8L175.5 922.3L176.4 922.7L177.4 923.2L178.4 923.7L179.4 924.2L180.5 924.7L181.5 925.2L182.5 925.6L183.6 926.1L184.6 926.6L185.7 927.1L186.8 927.6L187.8 928.0L188.9 928.5L190.0 929.0L191.1 929.4L192.2 929.9L193.2 930.4L194.3 930.8L195.4 931.3L196.5 931.7L197.6 932.1L198.6 932.5L199.7 932.9L200.8 933.3L201.8 933.7L202.9 934.1L203.9 934.5L205.0 934.8L206.0 935.2L207.1 935.5L208.1 935.8L209.2 936.1L210.3 936.4L211.3 936.7L212.4 937.0L213.5 937.4L214.5 937.7L215.6 938.0L216.7 938.3L217.8 938.6L218.8 938.9L219.9 939.2L221.0 939.4L222.0 939.7L223.1 939.9L224.2 940.1L225.2 940.3L226.3 940.4L227.3 940.5L228.3 940.6L229.4 940.7L230.4 940.7L231.4 940.8L232.5 940.8L233.5 940.8L234.5 940.9L235.5 940.9L236.4 941.0L237.4 941.0L238.4 941.0L239.4 941.1L240.3 941.1L241.3 941.1L242.3 941.1L243.3 941.2L244.3 941.2L245.2 941.2L246.2 941.3L247.2 941.3L248.1 941.3L249.0 941.3L250.0 941.3L250.9 941.4L251.8 941.4L252.7 941.4L253.5 941.4L254.3 941.4L255.1 941.4L255.9 941.4L256.7 941.5L257.4 941.5L258.1 941.5L258.8 941.5L259.5 941.5L260.1 941.5L260.8 941.5L261.4 941.5L262.1 941.5L262.7 941.5L263.3 941.5L263.9 941.5L264.5 941.5L265.1 941.5L265.6 941.5L266.2 941.5L266.8 941.5L267.3 941.5L267.9 941.5L268.4 941.5L268.9 941.5L269.4 941.5L270.0 941.5L270.5 941.5L271.0 941.5L271.5 941.5L272.0 941.5L272.5 941.5L273.0 941.5L273.5 941.5L274.0 941.5L274.4 941.5L274.9 941.4L275.4 941.4L275.9 941.4L276.4 941.4L276.9 941.4L277.4 941.4L277.9 941.4L278.4 941.4L278.9 941.4L279.4 941.4L279.8 941.4L280.3 941.4L280.8 941.4L281.2 941.4L281.7 941.4L282.1 941.4L282.5 941.4L282.9 941.4L283.3 941.4L283.7 941.3L284.1 941.3L284.4 941.3L284.8 941.3L285.1 941.3L285.4 941.3L285.7 941.3L286.0 941.3L286.2 941.3L286.5 941.3L286.7 941.3L287.0 941.3L287.2 941.3L287.4 941.3L287.7 941.3L287.9 941.2L288.1 941.2L288.3 941.2L288.5 941.2L288.7 941.2L288.9 941.2L289.1 941.2L289.3 941.2L289.5 941.2L289.7 941.2L289.9 941.2L290.1 941.2L290.3 941.2L290.4 941.1L290.6 941.1L290.8 941.1L290.9 941.1L291.1 941.1L291.2 941.1L291.4 941.1L291.5 941.1L291.6 941.1L291.8 941.1L291.9 941.1L292.0 941.1L292.1 941.1L292.2 941.1L292.3 941.0L292.4 941.0L292.5 941.0L292.6 941.0L292.7 941.0L292.8 941.0L292.9 941.0L292.9 941.0L293.0 941.0L293.1 941.0L293.2 941.0L293.2 941.0L293.3 941.0L293.4 941.0L293.5 941.0L293.5 941.0L293.6 940.9L293.7 940.9L293.7 940.9L293.8 940.9L293.9 940.9L293.9 940.9L294.0 940.9L294.0 940.9L294.1 940.9L294.2 940.9L294.2 940.9L294.2 940.9L294.3 940.9L294.3 940.9L294.4 940.9L294.4 940.9L294.4 940.9L294.5 940.9L294.5 940.9L294.5 940.9L294.5 940.9L294.5 940.9L294.6 940.8L294.6 940.8L294.6 940.8L294.6 940.8L294.6 940.8L294.6 940.8L294.5 940.8L294.5 940.8L294.5 940.8L294.5 940.8L294.5 940.8L294.5 940.8L294.5 940.8L294.4 940.8L294.4 940.8L294.4 940.8L294.4 940.8L294.4 940.8L294.3 940.8L294.3 940.8L294.3 940.8L294.3 940.8L294.2 940.8L294.2 940.8L294.2 940.8L294.2 940.8L294.1 940.8L294.1 940.8L294.1 940.8L294.0 940.8L294.0 940.8L294.0 940.7L294.0 940.7L293.9 940.7L293.9 940.7L293.9 940.7L293.9 940.7L293.8 940.7L293.8 940.7L293.8 940.7L293.8 940.7L293.7 940.7L293.7 940.7L293.7 940.7L293.7 940.7L293.7 940.7L293.7 940.7L293.7 940.7L293.6 940.7L293.6 940.7L293.6 940.7L293.6 940.7L293.6 940.7L293.6 940.7L293.6 940.7L293.6 940.7L293.6 940.7L293.6 940.7L293.6 940.7L293.6 940.7L293.7 940.7L293.7 940.7L293.7 940.7L293.7 940.7L293.7 940.7L293.7 940.7L293.7 940.7L293.7 940.7L293.7 940.6L293.7 940.6L293.7 940.6L293.8 940.6L293.8 940.6L293.8 940.6L293.8 940.6L293.8 940.6L293.8 940.6L293.8 940.6L293.8 940.6L293.9 940.6L293.9 940.6L293.9 940.6L293.9 940.6L293.9 940.6L293.9 940.6L293.9 940.6L294.0 940.6L294.0 940.6L294.0 940.6L294.0 940.6L294.0 940.6L294.0 940.6L294.1 940.6L294.1 940.6L294.1 940.6L294.1 940.6L294.1 940.6L294.1 940.6L294.2 940.6L294.2 940.6L294.2 940.6L294.2 940.6L294.2 940.6L294.2 940.6L294.3 940.6L294.3 940.6L294.3 940.6L294.3 940.6L294.3 940.5L294.3 940.5L294.4 940.5L294.4 940.5L294.4 940.5L294.4 940.5L294.4 940.5L294.4 940.5L294.4 940.5L294.4 940.5L294.5 940.5L294.5 940.5L294.5 940.5L294.5 940.5L294.5 940.5L294.5 940.5L294.5 940.5L294.5 940.5L294.5 940.5L294.5 940.5L294.5 940.5L294.5 940.5L294.6 940.5L294.6 940.5L294.6 940.5L294.6 940.5L294.6 940.5L294.6 940.5L294.6 940.5L294.6 940.5L294.6 940.5L294.6 940.5L294.6 940.5L294.6 940.5L294.6 940.5L294.6 940.5L294.6 940.4L294.6 940.4L294.5 940.4L294.5 940.4L294.5 940.4L294.5 940.4L294.5 940.4L294.5 940.4L294.5 940.4L294.5 940.4L294.5 940.4L294.5 940.4L294.5 940.4L294.5 940.4L294.5 940.4L294.5 940.4L294.5 940.4L294.4 940.4L294.4 940.4L294.4 940.4L294.4 940.4L294.4 940.4L294.4 940.4L294.4 940.4L294.4 940.4L294.3 940.4L294.3 940.4L294.3 940.4L294.3 940.4L294.3 940.3L294.3 940.3L294.3 940.3L294.2 940.3L294.2 940.3L294.2 940.3L294.2 940.3L294.2 940.3L294.2 940.3L294.1 940.3L294.1 940.3L294.1 940.3L294.1 940.3L294.1 940.3L294.0 940.3L294.0 940.3L294.0 940.3L294.0 940.3L293.9 940.3L293.9 940.3L293.9 940.3L293.9 940.3L293.8 940.3L293.8 940.2L293.8 940.2L293.8 940.2L293.7 940.2L293.7 940.2L293.7 940.2L293.7 940.2L293.6 940.2L293.6 940.2L293.6 940.2L293.5 940.2L293.5 940.2L293.5 940.2L293.4 940.1L293.4 940.1L293.4 940.1L293.3 940.1L293.3 940.1L293.3 940.1L293.2 940.1L293.2 940.1L293.2 940.1L293.1 940.1L293.1 940.1L293.0 940.0L293.0 940.0L293.0 940.0L292.9 940.0L292.9 940.0L292.8 940.0L292.8 940.0L292.8 940.0L292.7 940.0L292.7 940.0L292.6 940.0L292.6 939.9L292.5 939.9L292.5 939.9L292.4 939.9L292.4 939.9L292.4 939.9L292.3 939.9L292.3 939.9L292.2 939.9L292.2 939.9L292.1 939.9L292.1 939.8L292.0 939.8L292.0 939.8L291.9 939.8L291.8 939.8L291.8 939.8L291.7 939.8L291.7 939.8L291.6 939.8L291.6 939.8L291.5 939.8L291.5 939.8L291.4 939.7L291.3 939.7L291.3 939.7L291.2 939.7L291.1 939.7L291.0 939.7L290.8 939.7L290.6 939.7L290.4 939.7L290.2 939.7L290.0 939.7L289.7 939.7L289.4 939.7L289.1 939.7L288.7 939.7L288.4 939.7L288.0 939.7L287.6 939.7L287.2 939.7L286.8 939.7L286.3 939.7L285.9 939.7L285.4 939.7L284.9 939.7L284.4 939.7L283.9 939.7L283.4 939.8L282.8 939.9L282.3 940.0L281.8 940.1L281.2 940.2L280.6 940.4L280.1 940.6L279.5 940.8L278.9 941.0L278.3 941.2L277.7 941.4L277.1 941.7L276.5 941.9L275.9 942.2L275.3 942.4L274.8 942.7L274.2 943.0L273.6 943.3L273.0 943.6L272.4 943.9L271.8 944.2L271.2 944.5L270.7 944.8L270.1 945.1L269.5 945.4L268.9 945.8L268.3 946.1L267.6 946.4L267.0 946.7L266.3 947.0L265.6 947.3L264.9 947.5L264.2 947.8L263.5 948.1L262.7 948.3L262.0 948.6L261.2 948.8L260.5 949.1L259.7 949.3L258.9 949.5L258.1 949.7L257.3 949.8L256.6 950.0L255.8 950.2L255.0 950.4L254.2 950.6L253.4 950.8L252.6 951.0L251.8 951.2L251.0 951.4L250.2 951.6L249.4 951.8L248.7 952.0L247.9 952.2L247.1 952.4L246.3 952.6L245.5 952.8L244.7 952.9L243.9 953.1L243.1 953.2L242.3 953.4L241.5 953.5L240.7 953.6L239.8 953.8L239.0 953.9L238.2 953.9L237.4 954.0L236.5 954.1L235.7 954.1L234.9 954.1L234.0 954.1L233.2 954.1L232.3 954.0L231.5 953.8L230.6 953.6L229.8 953.4L228.9 953.1L228.1 952.7L227.2 952.4L226.4 952.1L225.5 951.7L224.7 951.4L223.8 951.0L223.0 950.7L222.1 950.5L221.2 950.2L220.4 949.9L219.5 949.6L218.6 949.4L217.7 949.1L216.8 948.8L216.0 948.5L215.1 948.3L214.2 948.0L213.3 947.7L212.4 947.3L211.5 947.0L210.6 946.7L209.7 946.3L208.8 946.0L207.9 945.6L207.0 945.2L206.1 944.7L205.2 944.3L204.2 943.9L203.3 943.4L202.4 942.9L201.5 942.5L200.7 942.0L199.8 941.5L198.9 941.0L198.0 940.4L197.1 939.9L196.2 939.4L195.3 938.9L194.4 938.3L193.6 937.8L192.7 937.3L191.8 936.7L191.0 936.2L190.1 935.6L189.3 935.1L188.4 934.6L187.6 934.1L186.8 933.5L185.9 933.0L185.1 932.5L184.2 932.0L183.4 931.5L182.6 931.0L181.7 930.5L180.9 930.0L180.1 929.5L179.3 929.0L178.4 928.5L177.6 928.0L176.8 927.5L176.0 927.0L175.2 926.5L174.4 926.0L173.5 925.5L172.7 925.0L171.9 924.5L171.1 924.0L170.3 923.5L169.5 923.0L168.7 922.5L167.9 922.0L167.1 921.5L166.4 921.0L165.6 920.5L164.8 920.0L164.0 919.5L163.2 919.0L162.4 918.6L161.7 918.1L160.9 917.6L160.1 917.1L159.3 916.7L158.5 916.2L157.7 915.7L156.9 915.2L156.1 914.7L155.3 914.3L154.5 913.8L153.7 913.3L152.8 912.8L152.0 912.3L151.2 911.8L150.4 911.4L149.6 910.9L148.8 910.4L148.1 909.9L147.3 909.5L146.5 909.0L145.7 908.6L145.0 908.1L144.3 907.7L143.5 907.3L142.8 906.9L142.1 906.5L141.4 906.1L140.8 905.7L140.1 905.3L139.5 904.9L138.9 904.6L138.3 904.2L137.7 903.9L137.1 903.6L136.6 903.2L136.1 902.9L135.5 902.6L135.0 902.3L134.5 902.0L134.0 901.7L133.6 901.4L133.1 901.1L132.6 900.8L132.2 900.5L131.7 900.2L131.3 899.9L130.8 899.7L130.4 899.4L130.0 899.1L129.6 898.9L129.2 898.6L128.8 898.4L128.4 898.1L128.0 897.9L127.6 897.7L127.2 897.4L126.8 897.2L126.4 897.0L126.1 896.8L125.7 896.6L125.3 896.4L125.0 896.2L124.6 896.0L124.3 895.9L123.9 895.7L123.6 895.5L123.2 895.4L122.9 895.2L122.6 895.0L122.2 894.9L121.9 894.7L121.6 894.6L121.2 894.4L120.9 894.3L120.6 894.2L120.3 894.0L120.0 893.9L119.6 893.7L119.3 893.6L119.0 893.5L118.7 893.3L118.4 893.2L118.1 893.1L117.8 893.0L117.5 892.8L117.3 892.7L117.0 892.6L116.7 892.4L116.4 892.3L116.1 892.2L115.9 892.0L115.6 891.9L115.3 891.8L115.1 891.6L114.8 891.5L114.5 891.3L114.3 891.2L114.0 891.1L113.8 890.9L113.5 890.8L113.3 890.7L113.0 890.6L112.8 890.4L112.5 890.3L112.3 890.2L112.1 890.0L111.8 889.9L111.6 889.8L111.3 889.7L111.1 889.5L110.8 889.4L110.6 889.3L110.4 889.2L110.1 889.1L109.9 889.0L109.6 888.8L109.4 888.7L109.2 888.6L108.9 888.5L108.7 888.4L108.5 888.3L108.3 888.2L108.1 888.1L107.9 888.1" fill="none" stroke="#EDB120" stroke-width="1.70" stroke-linejoin="round"/>
<path d="M96.9 884.0L96.9 884.0L96.9 884.0L97.0 884.1L97.0 884.1L97.1 884.2L97.2 884.2L97.2 884.3L97.3 884.3L97.3 884.3L97.4 884.4L97.5 884.4L97.6 884.5L97.6 884.5L97.7 884.6L97.8 884.6L97.9 884.7L98.0 884.7L98.0 884.8L98.1 884.8L98.2 884.9L98.3 885.0L98.4 885.0L98.5 885.1L98.6 885.1L98.7 885.2L98.8 885.2L98.9 885.3L99.0 885.4L99.1 885.4L99.2 885.5L99.3 885.5L99.5 885.6L99.6 885.7L99.7 885.7L99.8 885.8L99.9 885.9L100.0 885.9L100.1 886.0L100.3 886.1L100.4 886.1L100.5 886.2L100.6 886.3L100.7 886.3L100.9 886.4L101.0 886.5L101.1 886.5L101.2 886.6L101.4 886.7L101.5 886.8L101.7 886.8L101.8 886.9L102.0 887.0L102.1 887.1L102.3 887.1L102.5 887.2L102.6 887.3L102.8 887.4L103.0 887.4L103.2 887.5L103.3 887.6L103.5 887.7L103.7 887.7L103.9 887.8L104.1 887.9L104.3 888.0L104.5 888.1L104.7 888.1L104.9 888.2L105.1 888.3L105.3 888.4L105.5 888.5L105.8 888.5L106.0 888.6L106.2 888.7L106.5 888.8L106.7 888.9L107.0 889.0L107.3 889.0L107.5 889.1L107.8 889.2L108.1 889.3L108.4 889.4L108.7 889.5L109.0 889.6L109.4 889.7L109.7 889.8L110.0 889.9L110.3 890.0L110.7 890.1L111.0 890.2L111.3 890.3L111.7 890.4L112.0 890.5L112.4 890.6L112.7 890.8L113.1 890.9L113.4 891.0L113.8 891.1L114.1 891.2L114.4 891.3L114.8 891.5L115.1 891.6L115.5 891.7L115.8 891.8L116.2 891.9L116.5 892.1L116.8 892.2L117.2 892.3L117.5 892.4L117.9 892.5L118.3 892.7L118.6 892.8L119.0 892.9L119.3 893.0L119.7 893.2L120.1 893.3L120.4 893.4L120.8 893.5L121.2 893.6L121.5 893.8L121.9 893.9L122.3 894.0L122.7 894.1L123.1 894.2L123.5 894.4L123.9 894.5L124.3 894.6L124.7 894.7L125.1 894.8L125.5 894.9L125.9 895.1L126.4 895.2L126.8 895.3L127.2 895.4L127.7 895.5L128.2 895.6L128.6 895.7L129.1 895.8L129.6 895.9L130.1 896.1L130.6 896.2L131.1 896.3L131.6 896.4L132.1 896.6L132.6 896.7L133.1 896.8L133.6 897.0L134.1 897.1L134.6 897.2L135.2 897.4L135.7 897.5L136.2 897.6L136.7 897.8L137.3 897.9L137.8 898.0L138.3 898.2L138.8 898.3L139.3 898.4L139.8 898.5L140.4 898.7L140.9 898.8L141.4 898.9L141.9 899.0L142.4 899.1L142.9 899.2L143.4 899.2L144.0 899.3L144.5 899.4L145.0 899.5L145.6 899.5L146.1 899.6L146.7 899.6L147.2 899.6L147.7 899.7L148.3 899.7L148.8 899.7L149.3 899.7L149.9 899.7L150.4 899.7L150.9 899.7L151.4 899.7L151.9 899.6L152.4 899.6L152.9 899.6L153.4 899.6L153.9 899.6L154.3 899.6L154.7 899.5L155.2 899.5L155.6 899.5L156.0 899.5L156.4 899.5L156.7 899.4L157.1 899.4L157.4 899.4L157.8 899.3L158.1 899.3L158.5 899.3L158.8 899.2L159.1 899.2L159.4 899.2L159.7 899.1L160.0 899.1L160.3 899.1L160.6 899.0L160.9 899.0L161.2 898.9L161.5 898.9L161.8 898.9L162.0 898.8L162.3 898.8L162.6 898.7L162.9 898.7L163.1 898.7L163.4 898.6L163.7 898.6L163.9 898.5L164.2 898.4L164.4 898.4L164.7 898.3L165.0 898.2L165.2 898.1L165.5 898.0L165.7 897.9L166.0 897.8L166.3 897.7L166.5 897.6L166.8 897.5L167.1 897.4L167.3 897.3L167.6 897.2L167.8 897.1L168.1 896.9L168.4 896.8L168.6 896.7L168.8 896.6L169.1 896.5L169.3 896.3L169.5 896.2L169.7 896.1L169.9 896.0L170.1 895.9L170.3 895.8L170.4 895.7L170.6 895.6L170.7 895.4L170.8 895.3L171.0 895.3L171.1 895.2L171.3 895.1L171.4 895.0L171.6 894.9L171.7 894.8L171.8 894.8L172.0 894.7L172.1 894.7L172.2 894.6L172.4 894.5L172.5 894.5L172.6 894.4L172.8 894.4L172.9 894.3L173.0 894.2L173.1 894.2L173.3 894.1L173.4 894.1L173.5 894.0L173.6 893.9L173.8 893.9L173.9 893.8L174.0 893.8L174.1 893.7L174.2 893.7L174.4 893.6L174.5 893.5L174.6 893.5L174.7 893.4L174.8 893.4L174.9 893.3L175.0 893.3L175.1 893.2L175.2 893.2L175.3 893.1L175.4 893.1L175.5 893.0L175.6 893.0L175.7 892.9L175.8 892.9L175.9 892.8L175.9 892.8L176.0 892.7L176.1 892.7L176.2 892.6L176.3 892.6L176.3 892.6L176.4 892.5L176.5 892.5L176.6 892.4L176.6 892.4L176.7 892.4L176.7 892.3L176.8 892.3L176.9 892.2L176.9 892.2L177.0 892.2L177.0 892.1L177.1 892.1L177.1 892.1L177.2 892.1L177.2 892.0L177.2 892.0L177.3 892.0L177.3 891.9L177.3 891.9L177.4 891.9L177.4 891.9L177.4 891.9L177.4 891.8L177.4 891.8L177.4 891.8L177.5 891.8L177.5 891.8L177.5 891.8L177.5 891.7L177.5 891.7L177.5 891.7L177.5 891.7L177.5 891.7L177.5 891.7L177.5 891.7L177.5 891.7L177.6 891.7L177.6 891.7L177.6 891.7L177.6 891.6L177.6 891.6L177.6 891.6L177.6 891.6L177.6 891.6L177.6 891.6L177.6 891.6L177.6 891.6L177.6 891.6L177.6 891.6L177.6 891.6L177.6 891.6L177.6 891.6L177.7 891.5L177.7 891.5L177.7 891.5L177.7 891.5L177.7 891.5L177.7 891.5L177.7 891.5L177.7 891.5L177.7 891.5L177.7 891.5L177.7 891.5L177.7 891.5L177.7 891.5L177.7 891.5L177.7 891.4L177.7 891.4L177.7 891.4L177.7 891.4L177.7 891.4L177.7 891.4L177.7 891.4L177.7 891.4L177.7 891.4L177.8 891.4L177.8 891.4L177.8 891.4L177.8 891.4L177.8 891.4L177.8 891.4L177.8 891.3L177.8 891.3L177.8 891.3L177.8 891.3L177.8 891.3L177.8 891.3L177.8 891.3L177.8 891.3L177.8 891.3L177.8 891.3L177.8 891.3L177.8 891.3L177.8 891.3L177.8 891.3L177.8 891.3L177.8 891.3L177.8 891.3L177.8 891.3L177.8 891.2L177.9 891.2L177.9 891.2L177.9 891.2L177.9 891.2L177.9 891.2L177.9 891.2L177.9 891.2L177.9 891.2L177.9 891.2L177.9 891.2L177.9 891.2L177.9 891.2L177.9 891.2L177.9 891.2L177.9 891.2L177.9 891.2L178.0 891.2L178.0 891.2L178.0 891.2L178.0 891.1L178.0 891.1L178.0 891.1L178.0 891.1L178.0 891.1L178.0 891.1L178.0 891.1L178.0 891.1L178.0 891.1L178.1 891.1L178.1 891.1L178.1 891.1L178.1 891.1L178.1 891.1L178.1 891.1L178.1 891.1L178.1 891.1L178.1 891.1L178.1 891.1L178.1 891.1L178.2 891.1L178.2 891.1L178.2 891.1L178.2 891.1L178.2 891.1L178.2 891.1L178.2 891.0L178.2 891.0L178.2 891.0L178.2 891.0L178.2 891.0L178.3 891.0L178.3 891.0L178.3 891.0L178.3 891.0L178.3 891.0L178.3 891.0L178.3 891.0L178.3 891.0L178.3 891.0L178.3 891.0L178.3 891.0L178.3 891.0L178.3 891.0L178.3 891.0L178.3 891.0L178.4 891.0L178.4 891.0L178.4 891.0L178.4 891.0L178.4 891.0L178.4 891.0L178.4 891.0L178.4 891.0L178.4 891.0L178.4 891.0L178.4 891.0L178.4 891.0L178.4 891.0L178.4 891.0L178.4 891.0L178.4 891.0L178.4 891.0L178.4 891.0L178.4 890.9L178.4 890.9L178.4 890.9L178.4 890.9L178.4 890.9L178.4 890.9L178.4 890.9L178.4 890.9L178.4 890.9L178.4 890.9L178.4 890.9L178.4 890.9L178.4 890.9L178.4 890.9L178.4 890.9L178.4 890.9L178.3 890.9L178.3 890.9L178.3 890.9L178.3 890.9L178.3 890.9L178.3 890.9L178.3 890.9L178.3 890.9L178.3 890.9L178.3 890.9L178.3 890.9L178.3 890.9L178.3 890.9L178.3 890.9L178.3 890.9L178.3 890.9L178.3 890.9L178.3 890.9L178.3 890.9L178.3 890.9L178.3 890.9L178.3 890.9L178.3 890.9L178.3 890.9L178.3 890.9L178.2 890.9L178.2 890.9L178.2 890.9L178.2 890.9L178.2 890.9L178.2 890.9L178.2 890.9L178.2 890.9L178.2 890.9L178.2 890.9L178.2 890.9L178.2 890.9L178.2 890.9L178.2 890.9L178.2 890.9L178.1 890.9L178.1 891.0L178.1 891.0L178.1 891.0L178.1 891.0L178.1 891.0L178.1 891.0L178.1 891.0L178.1 891.1L178.1 891.1L178.1 891.1L178.1 891.1L178.0 891.1L178.0 891.1L178.0 891.2L178.0 891.2L178.0 891.2L178.0 891.2L178.0 891.3L178.0 891.3L178.0 891.3L178.0 891.3L177.9 891.4L177.9 891.4L177.9 891.4L177.9 891.5L177.9 891.5L177.9 891.5L177.9 891.5L177.9 891.6L177.8 891.6L177.8 891.6L177.8 891.7L177.8 891.7L177.8 891.7L177.8 891.8L177.8 891.8L177.8 891.9L177.7 891.9L177.7 891.9L177.7 892.0L177.7 892.0L177.7 892.1L177.7 892.1L177.7 892.1L177.6 892.2L177.6 892.2L177.6 892.3L177.6 892.3L177.6 892.4L177.6 892.4L177.5 892.4L177.5 892.5L177.5 892.5L177.5 892.6L177.5 892.6L177.5 892.7L177.4 892.7L177.4 892.8L177.4 892.8L177.3 892.9L177.3 892.9L177.2 893.0L177.1 893.0L177.0 893.1L176.9 893.1L176.8 893.2L176.7 893.2L176.5 893.3L176.4 893.3L176.2 893.4L176.1 893.4L175.9 893.5L175.7 893.5L175.5 893.6L175.3 893.6L175.1 893.7L174.9 893.7L174.7 893.8L174.5 893.8L174.3 893.9L174.1 894.0L173.8 894.1L173.6 894.1L173.4 894.2L173.1 894.3L172.9 894.4L172.6 894.5L172.4 894.6L172.1 894.8L171.8 894.9L171.6 895.0L171.3 895.1L171.1 895.3L170.8 895.4L170.6 895.5L170.3 895.7L170.0 895.8L169.8 895.9L169.5 896.1L169.3 896.2L169.0 896.4L168.8 896.5L168.5 896.7L168.3 896.8L168.0 897.0L167.8 897.1L167.5 897.3L167.3 897.4L167.0 897.6L166.7 897.7L166.4 897.9L166.1 898.0L165.8 898.2L165.5 898.3L165.2 898.5L164.9 898.6L164.6 898.8L164.3 898.9L164.0 899.0L163.7 899.2L163.4 899.3L163.0 899.4L162.7 899.5L162.4 899.6L162.0 899.8L161.7 899.9L161.4 900.0L161.0 900.1L160.7 900.2L160.3 900.3L160.0 900.3L159.6 900.4L159.3 900.5L158.9 900.5L158.6 900.6L158.2 900.7L157.9 900.7L157.5 900.7L157.1 900.8L156.8 900.8L156.4 900.9L156.1 900.9L155.7 900.9L155.3 901.0L155.0 901.0L154.6 901.1L154.3 901.1L153.9 901.1L153.5 901.2L153.2 901.2L152.8 901.2L152.5 901.3L152.1 901.3L151.7 901.3L151.3 901.4L150.9 901.4L150.5 901.4L150.1 901.4L149.8 901.5L149.4 901.5L149.0 901.5L148.5 901.5L148.1 901.6L147.7 901.6L147.3 901.6L146.9 901.6L146.5 901.6L146.1 901.7L145.7 901.7L145.2 901.7L144.8 901.7L144.4 901.7L144.0 901.7L143.6 901.7L143.1 901.7L142.7 901.7L142.3 901.7L141.9 901.7L141.5 901.7L141.0 901.6L140.6 901.6L140.2 901.5L139.8 901.4L139.4 901.3L139.0 901.2L138.5 901.1L138.1 901.0L137.7 900.9L137.3 900.7L136.9 900.6L136.5 900.4L136.1 900.3L135.7 900.1L135.3 899.9L134.9 899.7L134.5 899.5L134.2 899.3L133.8 899.2L133.4 899.0L133.0 898.8L132.7 898.5L132.3 898.3L132.0 898.1L131.6 897.9L131.2 897.7L130.9 897.5L130.5 897.3L130.1 897.1L129.8 896.9L129.4 896.7L129.1 896.5L128.7 896.3L128.4 896.2L128.0 896.0L127.6 895.8L127.3 895.6L126.9 895.5L126.6 895.3L126.3 895.1L125.9 894.9L125.6 894.8L125.2 894.6L124.9 894.4L124.6 894.2L124.3 894.0L124.0 893.8L123.6 893.6L123.3 893.4L123.0 893.2L122.7 893.0L122.5 892.8L122.2 892.6L121.9 892.4L121.6 892.2L121.4 892.0L121.1 891.8L120.9 891.6L120.6 891.4L120.4 891.2L120.2 891.0L119.9 890.9L119.7 890.7L119.5 890.5L119.3 890.3L119.1 890.2L118.9 890.0L118.7 889.9L118.5 889.7L118.3 889.6L118.1 889.5L117.9 889.3L117.7 889.2L117.5 889.1L117.3 889.0L117.2 888.9L117.0 888.9L116.8 888.8L116.6 888.7L116.4 888.6L116.2 888.6L116.0 888.5L115.8 888.5L115.6 888.4L115.4 888.4L115.2 888.3L115.0 888.3L114.8 888.2L114.6 888.2L114.4 888.1L114.1 888.1L113.9 888.0L113.7 888.0L113.4 888.0L113.2 887.9L112.9 887.9L112.7 887.9L112.4 887.8L112.2 887.8L111.9 887.7L111.7 887.7L111.4 887.7L111.1 887.6L110.8 887.6L110.6 887.6L110.3 887.5L110.0 887.5L109.8 887.4L109.5 887.4L109.2 887.3L109.0 887.3L108.7 887.2L108.4 887.2L108.2 887.1L107.9 887.1L107.7 887.0L107.4 887.0L107.2 886.9L107.0 886.8L106.8 886.8L106.5 886.7L106.3 886.6L106.1 886.6L105.9 886.5L105.7 886.4L105.5 886.3L105.4 886.2L105.2 886.1L105.0 886.1L104.8 886.0L104.6 885.9L104.5 885.8L104.3 885.7L104.1 885.6L103.9 885.5L103.8 885.4L103.6 885.4L103.4 885.3L103.3 885.2L103.1 885.1L103.0 885.0L102.8 884.9L102.7 884.8L102.5 884.8L102.4 884.7L102.2 884.6L102.1 884.5L102.0 884.4L101.8 884.4L101.7 884.3L101.6 884.2L101.4 884.2L101.3 884.1L101.2 884.1L101.1 884.0L100.9 884.0L100.8 883.9L100.7 883.9L100.6 883.8L100.5 883.8L100.4 883.8L100.3 883.7L100.2 883.7L100.1 883.6L100.0 883.6L99.9 883.6L99.8 883.5L99.7 883.5L99.6 883.4L99.5 883.4L99.4 883.4L99.4 883.4L99.3 883.3L99.2 883.3L99.1 883.3L99.0 883.2L98.9 883.2L98.9 883.2L98.8 883.2L98.7 883.2" fill="none" stroke="#7E2F8E" stroke-width="1.70" stroke-linejoin="round"/>
<path d="M91.7 884.0L91.7 884.0L91.7 884.0L91.7 884.0L91.7 884.0L91.7 884.0L91.7 884.0L91.7 884.0L91.8 884.0L91.8 884.0L91.8 884.0L91.8 884.0L91.8 884.0L91.8 884.0L91.9 884.0L91.9 884.0L91.9 884.0L91.9 884.0L91.9 884.0L92.0 884.0L92.0 884.0L92.0 884.0L92.1 884.0L92.1 884.0L92.1 884.0L92.1 884.0L92.2 884.0L92.2 884.0L92.2 884.1L92.3 884.1L92.3 884.1L92.4 884.1L92.4 884.1L92.4 884.1L92.5 884.1L92.5 884.1L92.6 884.1L92.6 884.1L92.7 884.1L92.7 884.1L92.7 884.1L92.8 884.1L92.8 884.1L92.9 884.1L92.9 884.1L93.0 884.1L93.0 884.1L93.1 884.1L93.1 884.1L93.2 884.2L93.2 884.2L93.3 884.2L93.4 884.2L93.4 884.2L93.5 884.2L93.5 884.2L93.6 884.2L93.6 884.2L93.7 884.2L93.7 884.2L93.8 884.2L93.9 884.2L93.9 884.2L94.0 884.2L94.0 884.2L94.1 884.2L94.2 884.3L94.2 884.3L94.3 884.3L94.3 884.3L94.4 884.3L94.5 884.3L94.5 884.3L94.6 884.3L94.6 884.3L94.7 884.3L94.8 884.3L94.9 884.3L94.9 884.3L95.0 884.3L95.1 884.3L95.2 884.3L95.3 884.4L95.4 884.4L95.5 884.4L95.6 884.4L95.6 884.4L95.8 884.4L95.9 884.4L96.0 884.4L96.1 884.4L96.2 884.4L96.3 884.4L96.4 884.4L96.5 884.4L96.6 884.5L96.8 884.5L96.9 884.5L97.0 884.5L97.1 884.5L97.3 884.5L97.4 884.5L97.5 884.5L97.7 884.6L97.8 884.6L97.9 884.6L98.1 884.6L98.2 884.6L98.3 884.6L98.5 884.6L98.6 884.7L98.8 884.7L98.9 884.7L99.1 884.7L99.2 884.7L99.4 884.7L99.5 884.7L99.7 884.7L99.8 884.8L100.0 884.8L100.1 884.8L100.3 884.8L100.4 884.8L100.6 884.8L100.7 884.8L100.9 884.9L101.1 884.9L101.2 884.9L101.4 884.9L101.5 884.9L101.7 884.9L101.9 884.9L102.0 884.9L102.2 884.9L102.3 884.9L102.5 884.9L102.7 885.0L102.9 885.0L103.0 885.0L103.2 885.0L103.4 885.0L103.6 885.0L103.8 885.0L104.0 885.0L104.2 885.0L104.4 885.0L104.6 885.0L104.8 885.0L105.0 885.0L105.2 885.0L105.5 885.0L105.7 885.0L105.9 884.9L106.1 884.9L106.4 884.9L106.6 884.9L106.8 884.9L107.0 884.8L107.3 884.8L107.5 884.8L107.7 884.8L108.0 884.7L108.2 884.7L108.4 884.7L108.7 884.6L108.9 884.6L109.2 884.6L109.4 884.5L109.6 884.5L109.9 884.4L110.1 884.4L110.4 884.4L110.6 884.3L110.8 884.3L111.1 884.2L111.3 884.2L111.5 884.1L111.8 884.1L112.0 884.0L112.2 884.0L112.5 883.9L112.7 883.9L112.9 883.8L113.2 883.8L113.4 883.7L113.6 883.7L113.8 883.6L114.1 883.6L114.3 883.5L114.5 883.5L114.7 883.4L114.9 883.4L115.1 883.3L115.3 883.3L115.6 883.2L115.8 883.2L116.0 883.1L116.2 883.1L116.4 883.1L116.7 883.0L116.9 883.0L117.1 882.9L117.4 882.9L117.6 882.9L117.8 882.8L118.1 882.8L118.3 882.7L118.6 882.7L118.8 882.7L119.1 882.6L119.3 882.6L119.5 882.6L119.8 882.5L120.0 882.5L120.2 882.5L120.5 882.4L120.7 882.4L120.9 882.4L121.2 882.3L121.4 882.3L121.6 882.3L121.8 882.2L122.1 882.2L122.3 882.1L122.5 882.1L122.7 882.1L122.9 882.0L123.1 882.0L123.3 882.0L123.5 881.9L123.6 881.9L123.8 881.9L124.0 881.8L124.2 881.8L124.3 881.7L124.5 881.7L124.6 881.7L124.7 881.6L124.9 881.6L125.0 881.6L125.1 881.5L125.2 881.5L125.3 881.5L125.4 881.4L125.4 881.4L125.5 881.4L125.6 881.3L125.6 881.3L125.7 881.3L125.8 881.2L125.8 881.2L125.9 881.2L126.0 881.1L126.0 881.1L126.1 881.1L126.2 881.0L126.2 881.0L126.3 881.0L126.3 880.9L126.4 880.9L126.5 880.9L126.5 880.9L126.6 880.8L126.6 880.8L126.7 880.8L126.7 880.7L126.8 880.7L126.9 880.7L126.9 880.7L127.0 880.6L127.0 880.6L127.1 880.6L127.1 880.6L127.2 880.5L127.2 880.5L127.3 880.5L127.3 880.5L127.3 880.5L127.4 880.4L127.4 880.4L127.5 880.4L127.5 880.4L127.6 880.4L127.6 880.3L127.7 880.3L127.7 880.3L127.7 880.3L127.8 880.3L127.8 880.3L127.8 880.3L127.9 880.2L127.9 880.2L128.0 880.2L128.0 880.2L128.0 880.2L128.1 880.2L128.1 880.2L128.1 880.1L128.1 880.1L128.2 880.1L128.2 880.1L128.2 880.1L128.3 880.1L128.3 880.1L128.3 880.0L128.3 880.0L128.4 880.0L128.4 880.0L128.4 880.0L128.4 880.0L128.5 880.0L128.5 880.0L128.5 879.9L128.5 879.9L128.5 879.9L128.6 879.9L128.6 879.9L128.6 879.9L128.6 879.9L128.6 879.9L128.6 879.8L128.7 879.8L128.7 879.8L128.7 879.8L128.7 879.8L128.7 879.8L128.7 879.8L128.7 879.8L128.7 879.7L128.7 879.7L128.8 879.7L128.8 879.7L128.8 879.7L128.8 879.7L128.8 879.7L128.8 879.7L128.8 879.6L128.8 879.6L128.8 879.6L128.8 879.6L128.8 879.6L128.8 879.6L128.9 879.6L128.9 879.6L128.9 879.6L128.9 879.5L128.9 879.5L128.9 879.5L128.9 879.5L128.9 879.5L128.9 879.5L128.9 879.5L128.9 879.5L128.9 879.5L128.9 879.5L128.9 879.4L128.9 879.4L128.9 879.4L128.9 879.4L129.0 879.4L129.0 879.4L129.0 879.4L129.0 879.4L129.0 879.4L129.0 879.4L129.0 879.4L129.0 879.3L129.0 879.3L129.0 879.3L129.0 879.3L129.0 879.3L129.0 879.3L129.0 879.3L129.0 879.3L129.0 879.3L129.0 879.3L129.0 879.3L129.0 879.3L129.0 879.3L129.0 879.2L129.1 879.2L129.1 879.2L129.1 879.2L129.1 879.2L129.1 879.2L129.1 879.2L129.1 879.2L129.1 879.2L129.1 879.2L129.1 879.2L129.1 879.2L129.1 879.2L129.1 879.2L129.1 879.2L129.1 879.2L129.1 879.2L129.1 879.1L129.1 879.1L129.1 879.1L129.1 879.1L129.1 879.1L129.2 879.1L129.2 879.1L129.2 879.1L129.2 879.1L129.2 879.1L129.2 879.1L129.2 879.1L129.2 879.1L129.2 879.1L129.2 879.1L129.2 879.1L129.2 879.1L129.2 879.1L129.2 879.1L129.3 879.1L129.3 879.1L129.3 879.1L129.3 879.1L129.3 879.1L129.3 879.1L129.3 879.1L129.3 879.1L129.3 879.1L129.3 879.1L129.3 879.1L129.4 879.1L129.4 879.1L129.4 879.1L129.4 879.1L129.4 879.1L129.4 879.1L129.4 879.1L129.4 879.1L129.4 879.1L129.4 879.1L129.4 879.1L129.5 879.1L129.5 879.1L129.5 879.1L129.5 879.1L129.5 879.1L129.5 879.1L129.5 879.1L129.5 879.1L129.5 879.1L129.5 879.1L129.5 879.1L129.5 879.1L129.6 879.1L129.6 879.1L129.6 879.1L129.6 879.1L129.6 879.1L129.6 879.1L129.6 879.1L129.6 879.1L129.6 879.1L129.6 879.1L129.6 879.1L129.6 879.1L129.6 879.1L129.6 879.1L129.6 879.1L129.6 879.1L129.6 879.1L129.6 879.1L129.6 879.1L129.7 879.1L129.7 879.1L129.7 879.1L129.7 879.1L129.7 879.1L129.7 879.1L129.7 879.1L129.7 879.1L129.7 879.1L129.7 879.1L129.6 879.1L129.6 879.1L129.6 879.1L129.6 879.1L129.6 879.1L129.6 879.2L129.6 879.2L129.6 879.2L129.6 879.2L129.6 879.2L129.6 879.2L129.6 879.2L129.6 879.2L129.6 879.2L129.6 879.2L129.6 879.2L129.6 879.2L129.6 879.2L129.6 879.2L129.6 879.2L129.6 879.2L129.6 879.2L129.6 879.2L129.6 879.2L129.6 879.2L129.5 879.2L129.5 879.2L129.5 879.2L129.5 879.2L129.5 879.2L129.5 879.2L129.5 879.2L129.5 879.2L129.5 879.2L129.5 879.2L129.5 879.2L129.5 879.2L129.5 879.3L129.4 879.3L129.4 879.3L129.4 879.3L129.4 879.3L129.4 879.3L129.4 879.3L129.4 879.3L129.4 879.3L129.4 879.3L129.4 879.3L129.3 879.3L129.3 879.3L129.3 879.3L129.3 879.3L129.3 879.3L129.3 879.3L129.3 879.3L129.3 879.3L129.3 879.3L129.2 879.3L129.2 879.3L129.2 879.3L129.2 879.3L129.2 879.4L129.2 879.4L129.2 879.4L129.1 879.4L129.1 879.4L129.1 879.4L129.1 879.4L129.1 879.4L129.1 879.4L129.1 879.4L129.0 879.4L129.0 879.4L129.0 879.4L129.0 879.4L129.0 879.4L129.0 879.4L129.0 879.4L128.9 879.4L128.9 879.4L128.9 879.4L128.9 879.4L128.9 879.5L128.9 879.5L128.8 879.5L128.8 879.5L128.8 879.5L128.8 879.5L128.8 879.5L128.7 879.5L128.7 879.5L128.7 879.5L128.7 879.5L128.7 879.5L128.7 879.5L128.6 879.5L128.6 879.5L128.6 879.5L128.6 879.6L128.6 879.6L128.5 879.6L128.5 879.6L128.5 879.6L128.5 879.6L128.5 879.6L128.4 879.6L128.4 879.6L128.4 879.6L128.4 879.6L128.4 879.7L128.3 879.7L128.3 879.7L128.3 879.7L128.3 879.7L128.2 879.7L128.2 879.7L128.2 879.7L128.2 879.8L128.1 879.8L128.1 879.8L128.1 879.8L128.0 879.8L128.0 879.8L128.0 879.8L127.9 879.9L127.9 879.9L127.8 879.9L127.8 879.9L127.7 879.9L127.7 879.9L127.6 880.0L127.5 880.0L127.5 880.0L127.4 880.0L127.4 880.0L127.3 880.0L127.2 880.1L127.2 880.1L127.1 880.1L127.0 880.1L126.9 880.1L126.9 880.2L126.8 880.2L126.7 880.2L126.6 880.2L126.5 880.2L126.4 880.3L126.4 880.3L126.3 880.3L126.2 880.3L126.1 880.3L126.0 880.4L125.9 880.4L125.8 880.4L125.7 880.5L125.6 880.5L125.5 880.5L125.4 880.6L125.3 880.6L125.2 880.7L125.1 880.7L125.0 880.7L124.9 880.8L124.8 880.8L124.7 880.9L124.5 880.9L124.4 881.0L124.3 881.0L124.2 881.1L124.1 881.2L124.0 881.2L123.8 881.3L123.7 881.3L123.6 881.4L123.5 881.4L123.4 881.5L123.2 881.6L123.1 881.6L123.0 881.7L122.9 881.7L122.8 881.8L122.6 881.9L122.5 881.9L122.4 882.0L122.2 882.1L122.1 882.1L122.0 882.2L121.9 882.2L121.7 882.3L121.6 882.4L121.5 882.4L121.3 882.5L121.2 882.5L121.1 882.6L120.9 882.7L120.8 882.7L120.7 882.8L120.5 882.8L120.4 882.9L120.3 882.9L120.1 883.0L120.0 883.0L119.9 883.1L119.7 883.1L119.6 883.2L119.5 883.2L119.3 883.3L119.2 883.3L119.1 883.4L118.9 883.4L118.8 883.4L118.6 883.5L118.4 883.5L118.3 883.6L118.1 883.6L117.9 883.7L117.7 883.7L117.5 883.7L117.3 883.8L117.1 883.8L116.9 883.9L116.7 883.9L116.5 884.0L116.3 884.0L116.1 884.1L115.9 884.1L115.7 884.2L115.4 884.2L115.2 884.3L115.0 884.3L114.8 884.3L114.5 884.4L114.3 884.4L114.1 884.5L113.9 884.5L113.6 884.6L113.4 884.6L113.2 884.6L113.0 884.7L112.8 884.7L112.5 884.8L112.3 884.8L112.1 884.8L111.9 884.9L111.7 884.9L111.5 885.0L111.3 885.0L111.1 885.0L110.9 885.1L110.7 885.1L110.5 885.1L110.3 885.1L110.1 885.2L109.9 885.2L109.8 885.2L109.6 885.2L109.4 885.3L109.3 885.3L109.1 885.3L109.0 885.3L108.8 885.3L108.7 885.4L108.6 885.4L108.4 885.4L108.3 885.4L108.2 885.4L108.0 885.4L107.9 885.4L107.8 885.4L107.6 885.4L107.5 885.4L107.4 885.4L107.2 885.4L107.1 885.4L107.0 885.4L106.9 885.4L106.8 885.4L106.6 885.4L106.5 885.3L106.4 885.3L106.3 885.3L106.2 885.3L106.0 885.3L105.9 885.3L105.8 885.3L105.7 885.2L105.6 885.2L105.5 885.2L105.4 885.2L105.3 885.2L105.2 885.2L105.0 885.1L104.9 885.1L104.8 885.1L104.7 885.1L104.6 885.1L104.5 885.0L104.4 885.0L104.3 885.0L104.2 885.0L104.1 885.0L104.0 884.9L103.9 884.9L103.8 884.9L103.7 884.9L103.6 884.9L103.5 884.8L103.4 884.8L103.3 884.8L103.2 884.8L103.1 884.7L103.0 884.7L102.9 884.7L102.8 884.7L102.7 884.6L102.6 884.6L102.5 884.6L102.5 884.6L102.4 884.5L102.3 884.5L102.2 884.5L102.1 884.4L102.0 884.4L101.9 884.4L101.8 884.3L101.7 884.3L101.6 884.3L101.5 884.2L101.4 884.2L101.3 884.2L101.3 884.1L101.2 884.1L101.1 884.1L101.0 884.0L100.9 884.0L100.8 883.9L100.7 883.9L100.6 883.9L100.5 883.8L100.5 883.8L100.4 883.8L100.3 883.7L100.2 883.7L100.1 883.6L100.0 883.6L99.9 883.6L99.8 883.5L99.8 883.5L99.7 883.4L99.6 883.4L99.5 883.4L99.4 883.3L99.3 883.3L99.3 883.3L99.2 883.2L99.1 883.2L99.0 883.1L98.9 883.1L98.9 883.1L98.8 883.0L98.7 883.0L98.6 883.0L98.5 882.9L98.5 882.9L98.4 882.9L98.3 882.8L98.2 882.8L98.2 882.8L98.1 882.7L98.0 882.7L97.9 882.7L97.9 882.7L97.8 882.6L97.7 882.6L97.6 882.6L97.6 882.5L97.5 882.5L97.4 882.5L97.3 882.5L97.3 882.4L97.2 882.4L97.1 882.4L97.0 882.4L97.0 882.3L96.9 882.3L96.8 882.3L96.8 882.2L96.7 882.2L96.6 882.2L96.6 882.2L96.5 882.1L96.4 882.1L96.4 882.1L96.3 882.1L96.2 882.0L96.2 882.0L96.1 882.0L96.0 882.0L96.0 881.9L95.9 881.9L95.8 881.9L95.8 881.9L95.7 881.8L95.6 881.8L95.6 881.8L95.5 881.8L95.4 881.7L95.4 881.7L95.3 881.7L95.3 881.7L95.2 881.7L95.1 881.6L95.1 881.6L95.0 881.6L95.0 881.6L94.9 881.5L94.8 881.5" fill="none" stroke="#77AC30" stroke-width="1.70" stroke-linejoin="round"/>
<path d="M132.0 931.6L134.6 933.9L137.2 936.3L139.9 938.6L142.5 941.0L145.1 943.3L147.7 945.7L150.3 948.0L152.9 950.3L155.5 952.6L158.1 954.9L160.7 957.3L163.3 959.6L165.9 961.8L168.5 964.1L171.1 966.4L173.7 968.7L176.3 970.9L179.0 973.2L181.6 975.5L184.2 977.7L186.8 980.0L189.4 982.2L192.0 984.5L194.6 986.7L197.2 988.9L199.8 991.1L202.4 993.4L205.0 995.6L207.6 997.8L210.2 1000.0L212.8 1002.2L215.4 1004.4L218.0 1006.6L220.5 1008.8L223.1 1011.0L225.7 1013.2L228.3 1015.3L230.9 1017.5L233.5 1019.7L236.1 1021.9L238.7 1024.0L241.3 1026.2L243.9 1028.4L246.5 1030.5L249.1 1032.7L251.7 1034.9L254.3 1037.0L256.9 1039.2L259.5 1041.3L262.1 1043.5L264.7 1045.6L267.3 1047.8L269.9 1049.9L272.5 1052.1L275.1 1054.2L277.7 1056.3L280.3 1058.5L283.0 1060.6L285.6 1062.8L288.2 1064.9L290.8 1067.1L293.4 1069.2L296.0 1071.3L298.6 1073.5L301.2 1075.6L303.8 1077.8L306.4 1079.9L309.0 1082.0L311.6 1084.2L314.2 1086.3L316.9 1088.5L319.5 1090.6L322.1 1092.7L324.7 1094.9L327.3 1097.0L329.9 1099.2L332.5 1101.3L335.2 1103.5L337.8 1105.6L340.4 1107.8L343.0 1110.0L345.6 1112.1L348.3 1114.3L350.9 1116.4L353.5 1118.6L356.1 1120.8L358.8 1122.9L361.4 1125.1L364.0 1127.3L366.7 1129.4L369.3 1131.6L371.9 1133.8L374.6 1136.0L377.2 1138.1L379.8 1140.3L382.5 1142.5L385.1 1144.6L387.8 1146.8L390.4 1149.0L393.0 1151.2L395.7 1153.3L398.3 1155.5L401.0 1157.7L403.6 1159.9L406.3 1162.0L408.9 1164.2L411.6 1166.4L414.2 1168.5L416.9 1170.7L419.6 1172.9L422.2 1175.1L424.9 1177.2L427.6 1179.4L430.2 1181.6L432.9 1183.7L435.6 1185.9L438.2 1188.0L440.9 1190.2L443.6 1192.3L446.3 1194.5L448.9 1196.7L451.6 1198.8L454.3 1201.0L457.0 1203.1L459.7 1205.2L462.4 1207.4L465.0 1209.5L467.7 1211.7L470.4 1213.8L473.1 1215.9L475.8 1218.0L478.5 1220.2L481.2 1222.3L483.9 1224.4L486.7 1226.5L489.4 1228.6L492.1 1230.7L494.8 1232.8L497.5 1234.9L500.2 1237.0L503.0 1239.1L505.7 1241.2L508.4 1243.3L511.1 1245.4L513.9 1247.5L516.6 1249.5L519.3 1251.6L522.1 1253.7L524.8 1255.7L527.6 1257.8L530.3 1259.8L533.1 1261.9L535.8 1263.9L538.6 1265.9L541.3 1267.9L544.1 1270.0L546.8 1272.0L549.6 1274.0L552.4 1276.0L555.1 1278.0L557.9 1280.0L560.7 1282.0L563.5 1284.0L566.3 1286.0L569.0 1287.9L571.8 1289.9L574.6 1291.9L577.4 1293.8L580.2 1295.8L583.0 1297.7L585.8 1299.7L588.6 1301.6L591.4 1303.5L594.2 1305.4L597.1 1307.4L599.9 1309.3L602.7 1311.2L605.5 1313.1L608.4 1315.0L611.2 1316.8L614.0 1318.7L616.9 1320.6L619.7 1322.5L622.5 1324.3L625.4 1326.2L628.2 1328.0L631.1 1329.9L634.0 1331.7L636.8 1333.6L639.7 1335.4L642.5 1337.2L645.4 1339.0L648.3 1340.8L651.2 1342.6L654.1 1344.4L656.9 1346.2L659.8 1348.0L662.7 1349.7L665.6 1351.5L668.5 1353.3L671.4 1355.0L674.3 1356.8L677.2 1358.5L680.2 1360.2L683.1 1361.9L686.0 1363.7L688.9 1365.4L691.9 1367.1L694.8 1368.8L697.7 1370.5L700.7 1372.1L703.6 1373.8L706.6 1375.5L709.5 1377.1L712.5 1378.8L715.5 1380.4L718.4 1382.1L721.4 1383.7L724.4 1385.3L727.3 1386.9L730.3 1388.5L733.3 1390.1L736.3 1391.7L739.3 1393.3L742.3 1394.9L745.3 1396.5L748.3 1398.0L751.3 1399.6L754.4 1401.1L757.4 1402.7L760.4 1404.2L763.4 1405.7L766.5 1407.2L769.5 1408.7L772.5 1410.2L775.6 1411.7L778.6 1413.2L781.7 1414.7L784.8 1416.1L787.8 1417.6L790.9 1419.0L794.0 1420.5L797.1 1421.9L800.1 1423.3L803.2 1424.7L806.3 1426.1L809.4 1427.5L812.5 1428.9L815.6 1430.3L818.8 1431.7L821.9 1433.0L825.0 1434.4L828.1 1435.7L831.3 1437.1L834.4 1438.4L837.5 1439.7L840.7 1441.0L843.8 1442.3L847.0 1443.6L850.2 1444.8L853.3 1446.1L856.5 1447.4L859.7 1448.6L862.9 1449.8L866.1 1451.1L869.3 1452.3L872.5 1453.5L875.7 1454.7L878.9 1455.9L882.1 1457.0L885.3 1458.2L888.5 1459.3L891.8 1460.5L895.0 1461.6L898.2 1462.7L901.5 1463.8L904.7 1464.9L908.0 1466.0L911.3 1467.1L914.5 1468.2L917.8 1469.2L921.1 1470.2L924.4 1471.3L927.7 1472.3L931.0 1473.3L934.3 1474.3L937.6 1475.3L940.9 1476.2L944.2 1477.2L947.5 1478.1L950.9 1479.1L954.2 1480.0L957.5 1480.9L960.9 1481.8L964.2 1482.7L967.6 1483.6L971.0 1484.4L974.3 1485.3L977.7 1486.1" fill="none" stroke="#0072BD" stroke-width="1.5" stroke-dasharray="9 6"/>
<path d="M132.4 932.7L135.0 935.0L137.6 937.2L140.2 939.5L142.8 941.8L145.4 944.1L148.0 946.4L150.6 948.7L153.2 951.0L155.8 953.2L158.3 955.5L160.9 957.8L163.5 960.1L166.1 962.5L168.7 964.8L171.2 967.1L173.8 969.4L176.4 971.7L178.9 974.0L181.5 976.3L184.1 978.7L186.6 981.0L189.2 983.3L191.8 985.6L194.3 988.0L196.9 990.3L199.4 992.6L202.0 995.0L204.5 997.3L207.1 999.7L209.6 1002.0L212.2 1004.3L214.7 1006.7L217.3 1009.0L219.8 1011.4L222.4 1013.7L224.9 1016.1L227.4 1018.4L230.0 1020.8L232.5 1023.1L235.1 1025.5L237.6 1027.9L240.1 1030.2L242.7 1032.6L245.2 1034.9L247.7 1037.3L250.3 1039.7L252.8 1042.0L255.3 1044.4L257.9 1046.8L260.4 1049.1L262.9 1051.5L265.5 1053.9L268.0 1056.2L270.5 1058.6L273.1 1061.0L275.6 1063.4L278.1 1065.7L280.7 1068.1L283.2 1070.5L285.7 1072.8L288.2 1075.2L290.8 1077.6L293.3 1080.0L295.8 1082.3L298.4 1084.7L300.9 1087.1L303.4 1089.5L306.0 1091.8L308.5 1094.2L311.0 1096.6L313.5 1099.0L316.1 1101.3L318.6 1103.7L321.1 1106.1L323.7 1108.4L326.2 1110.8L328.7 1113.2L331.3 1115.6L333.8 1117.9L336.3 1120.3L338.9 1122.7L341.4 1125.0L344.0 1127.4L346.5 1129.8L349.0 1132.1L351.6 1134.5L354.1 1136.9L356.7 1139.2L359.2 1141.6L361.8 1144.0L364.3 1146.3L366.8 1148.7L369.4 1151.0L371.9 1153.4L374.5 1155.7L377.0 1158.1L379.6 1160.5L382.2 1162.8L384.7 1165.2L387.3 1167.5L389.8 1169.8L392.4 1172.2L395.0 1174.5L397.5 1176.9L400.1 1179.2L402.7 1181.5L405.2 1183.9L407.8 1186.2L410.4 1188.5L412.9 1190.9L415.5 1193.2L418.1 1195.5L420.7 1197.9L423.3 1200.2L425.8 1202.5L428.4 1204.8L431.0 1207.1L433.6 1209.4L436.2 1211.7L438.8 1214.0L441.4 1216.4L444.0 1218.7L446.6 1221.0L449.2 1223.2L451.8 1225.5L454.4 1227.8L457.0 1230.1L459.7 1232.4L462.3 1234.7L464.9 1237.0L467.5 1239.2L470.2 1241.5L472.8 1243.8L475.4 1246.0L478.1 1248.3L480.7 1250.6L483.3 1252.8L486.0 1255.1L488.6 1257.3L491.3 1259.6L493.9 1261.8L496.6 1264.1L499.2 1266.3L501.9 1268.5L504.6 1270.7L507.2 1273.0L509.9 1275.2L512.6 1277.4L515.3 1279.6L518.0 1281.8L520.6 1284.0L523.3 1286.2L526.0 1288.4L528.7 1290.6L531.4 1292.8L534.1 1295.0L536.8 1297.2L539.6 1299.3L542.3 1301.5L545.0 1303.7L547.7 1305.8L550.4 1308.0L553.2 1310.2L555.9 1312.3L558.7 1314.4L561.4 1316.6L564.1 1318.7L566.9 1320.8L569.7 1323.0L572.4 1325.1L575.2 1327.2L578.0 1329.3L580.7 1331.4L583.5 1333.5L586.3 1335.6L589.1 1337.7L591.9 1339.8L594.7 1341.8L597.5 1343.9L600.3 1346.0L603.1 1348.0L605.9 1350.1L608.7 1352.1L611.5 1354.1L614.4 1356.2L617.2 1358.2L620.1 1360.2L622.9 1362.2L625.7 1364.2L628.6 1366.2L631.5 1368.2L634.3 1370.1L637.2 1372.1L640.1 1374.0L643.0 1376.0L645.8 1377.9L648.7 1379.8L651.6 1381.7L654.5 1383.7L657.4 1385.5L660.4 1387.4L663.3 1389.3L666.2 1391.2L669.1 1393.0L672.1 1394.9L675.0 1396.7L678.0 1398.5L680.9 1400.3L683.9 1402.1L686.8 1403.9L689.8 1405.7L692.8 1407.5L695.8 1409.2L698.8 1411.0L701.8 1412.7L704.8 1414.4L707.8 1416.1L710.8 1417.8L713.8 1419.5L716.8 1421.1L719.9 1422.8L722.9 1424.4L725.9 1426.1L729.0 1427.7L732.0 1429.3L735.1 1430.9L738.2 1432.4L741.3 1434.0L744.3 1435.5L747.4 1437.0L750.5 1438.6L753.6 1440.1L756.7 1441.5L759.9 1443.0L763.0 1444.5L766.1 1445.9L769.3 1447.3L772.4 1448.7L775.6 1450.1L778.7 1451.5L781.9 1452.8L785.1 1454.2L788.2 1455.5L791.4 1456.8L794.6 1458.1L797.8 1459.4L801.0 1460.6L804.3 1461.9L807.5 1463.1L810.7 1464.3L814.0 1465.4L817.2 1466.6L820.5 1467.7L823.7 1468.8L827.0 1469.9L830.3 1471.0L833.6 1472.0L836.8 1473.0L840.1 1474.0L843.5 1475.0L846.8 1475.9L850.1 1476.8L853.4 1477.7L856.8 1478.5L860.1 1479.4L863.5 1480.2L866.8 1480.9L870.2 1481.7L873.6 1482.4L877.0 1483.0L880.4 1483.7L883.8 1484.3L887.2 1484.9L890.6 1485.4L894.1 1485.9L897.5 1486.4L901.0 1486.8L904.4 1487.2L907.9 1487.6L911.4 1487.9L914.8 1488.2L918.3 1488.4L921.8 1488.6L925.3 1488.8L928.9 1488.9L932.4 1489.0L935.9 1489.1L939.5 1489.1L943.0 1489.1L946.6 1489.0L950.2 1488.9L953.7 1488.7L957.3 1488.5L960.9 1488.2L964.5 1487.9L968.2 1487.6L971.8 1487.2L975.4 1486.8L979.1 1486.3" fill="none" stroke="#0072BD" stroke-width="1.5" stroke-dasharray="9 6"/>
<path d="M119.3 903.6L119.7 903.7L120.0 903.9L120.4 904.2L120.8 904.4L121.2 904.6L121.6 904.8L122.0 905.1L122.4 905.3L122.8 905.6L123.3 905.9L123.8 906.2L124.2 906.4L124.7 906.7L125.2 907.0L125.7 907.4L126.2 907.7L126.7 908.0L127.2 908.3L127.8 908.7L128.3 909.0L128.9 909.4L129.4 909.7L130.0 910.1L130.6 910.4L131.1 910.8L131.7 911.2L132.3 911.6L132.9 911.9L133.5 912.3L134.1 912.7L134.7 913.1L135.3 913.6L136.0 914.0L136.6 914.5L137.2 915.0L137.9 915.4L138.6 915.9L139.3 916.5L140.0 917.0L140.8 917.5L141.5 918.1L142.3 918.6L143.1 919.2L143.9 919.7L144.7 920.3L145.5 920.9L146.3 921.5L147.2 922.1L148.0 922.7L148.9 923.3L149.8 923.9L150.7 924.5L151.6 925.1L152.5 925.7L153.4 926.3L154.3 926.9L155.2 927.4L156.2 928.0L157.1 928.6L158.1 929.2L159.1 929.8L160.1 930.4L161.1 930.9L162.1 931.5L163.2 932.1L164.2 932.6L165.3 933.2L166.4 933.8L167.5 934.4L168.6 934.9L169.7 935.5L170.9 936.1L172.0 936.7L173.2 937.3L174.3 938.0L175.5 938.6L176.7 939.2L177.8 939.9L179.0 940.6L180.2 941.3L181.4 942.0L182.6 942.7L183.8 943.4L185.0 944.2L186.2 945.0L187.4 945.8L188.6 946.6L189.9 947.4L191.1 948.3L192.4 949.2L193.8 950.2L195.1 951.2L196.5 952.3L198.0 953.4L199.4 954.5L201.0 955.7L202.6 956.9L204.3 958.2L206.1 959.4L207.9 960.7L209.9 962.0L211.9 963.3L214.0 964.6L216.1 966.0L218.3 967.3L220.5 968.8L222.7 970.2L225.0 971.8L227.3 973.3L229.6 974.9L231.9 976.6L234.2 978.2L236.4 979.9L238.8 981.6L241.1 983.4L243.5 985.1L245.9 986.8L248.3 988.6L250.8 990.4L253.2 992.1L255.7 993.9L258.2 995.6L260.8 997.3L263.3 999.0L265.8 1000.7L268.4 1002.4L270.9 1004.0L273.4 1005.6L275.9 1007.1L278.5 1008.6L281.0 1010.1L283.5 1011.6L286.1 1013.0L288.6 1014.5L291.2 1016.0L293.8 1017.4L296.3 1018.9L298.9 1020.3L301.5 1021.8L304.1 1023.2L306.7 1024.6L309.4 1026.0L312.0 1027.3L314.6 1028.7L317.3 1030.0L320.0 1031.4L322.7 1032.6L325.5 1033.9L328.3 1035.2L331.0 1036.4L333.8 1037.6L336.6 1038.8L339.4 1039.9L342.2 1041.1L344.9 1042.2L347.7 1043.3L350.4 1044.4L353.0 1045.5L355.7 1046.6L358.3 1047.6L360.8 1048.7L363.4 1049.8L365.9 1050.9L368.4 1051.9L370.8 1053.0L373.3 1054.0L375.7 1055.0L378.1 1056.0L380.5 1057.0L382.9 1058.0L385.3 1059.0L387.7 1059.9L390.1 1060.8L392.4 1061.7L394.8 1062.6L397.2 1063.4L399.5 1064.3L401.9 1065.1L404.2 1065.8L406.6 1066.6L408.9 1067.3L411.3 1068.0L413.6 1068.7L415.9 1069.3L418.2 1069.9L420.4 1070.4L422.7 1071.0L424.9 1071.5L427.1 1072.0L429.3 1072.5L431.5 1073.1L433.8 1073.6L436.0 1074.1L438.1 1074.6L440.3 1075.1L442.3 1075.5L444.3 1076.0L446.2 1076.5L448.0 1076.9L449.8 1077.4L451.5 1077.8L453.1 1078.2L454.8 1078.6L456.4 1079.0L458.0 1079.4L459.5 1079.8L461.1 1080.1L462.6 1080.5L464.0 1080.8L465.5 1081.1L466.9 1081.4L468.3 1081.7L469.7 1082.0L471.0 1082.2L472.4 1082.4L473.7 1082.6L475.0 1082.8L476.3 1083.0L477.7 1083.1L479.0 1083.3L480.5 1083.4L481.9 1083.5L483.3 1083.6L484.8 1083.7L486.2 1083.9L487.6 1084.0L489.0 1084.1L490.3 1084.2L491.5 1084.3L492.7 1084.4L493.8 1084.5L494.7 1084.6L495.6 1084.6L496.3 1084.7L496.9 1084.8L497.3 1084.9L497.6 1085.0L497.8 1085.1L498.0 1085.2L498.2 1085.2L498.4 1085.3L498.5 1085.4L498.7 1085.4L498.8 1085.5L498.9 1085.6L499.0 1085.6L499.1 1085.7L499.2 1085.8L499.3 1085.8L499.5 1085.9L499.6 1085.9L499.7 1086.0L499.9 1086.0L500.0 1086.1L500.2 1086.1L500.4 1086.2L500.7 1086.2L501.0 1086.3L501.3 1086.3L501.6 1086.3L501.9 1086.4L502.3 1086.4L502.7 1086.4L503.1 1086.5L503.6 1086.5L504.0 1086.5L504.4 1086.5L504.9 1086.5L505.4 1086.6L505.9 1086.6L506.3 1086.6L506.8 1086.6L507.3 1086.6L507.8 1086.7L508.2 1086.7L508.7 1086.7L509.1 1086.7L509.6 1086.7L510.0 1086.7L510.4 1086.8L510.8 1086.8L511.1 1086.8L511.5 1086.8L511.8 1086.8L512.1 1086.8L512.4 1086.8L512.7 1086.9L513.0 1086.9L513.3 1086.9L513.6 1086.9L513.9 1086.9L514.2 1086.9L514.5 1086.9L514.7 1087.0L515.0 1087.0L515.3 1087.0L515.6 1087.0L515.8 1087.0L516.1 1087.0L516.3 1087.0L516.6 1087.0L516.8 1087.1L517.0 1087.1L517.2 1087.1L517.5 1087.1L517.7 1087.1L517.8 1087.1L518.0 1087.1L518.2 1087.1L518.4 1087.1L518.5 1087.2L518.7 1087.2L518.8 1087.2L518.9 1087.2L519.1 1087.2L519.2 1087.2L519.3 1087.2L519.4 1087.2L519.6 1087.2L519.7 1087.2L519.8 1087.2L519.9 1087.3L520.0 1087.3L520.1 1087.3L520.2 1087.3L520.3 1087.3L520.4 1087.3L520.5 1087.3L520.6 1087.3L520.7 1087.3L520.8 1087.3L520.9 1087.3L521.0 1087.3L521.1 1087.3L521.2 1087.4L521.3 1087.4L521.4 1087.4L521.4 1087.4L521.5 1087.4L521.6 1087.4L521.7 1087.4L521.8 1087.4L521.8 1087.4L521.9 1087.4L522.0 1087.4L522.0 1087.4L522.1 1087.4L522.2 1087.4L522.2 1087.4L522.3 1087.5L522.4 1087.5L522.4 1087.5L522.5 1087.5L522.6 1087.5L522.6 1087.5L522.7 1087.5L522.7 1087.5L522.8 1087.5L522.8 1087.5L522.9 1087.5L522.9 1087.5L523.0 1087.5L523.0 1087.5L523.1 1087.5L523.1 1087.5L523.2 1087.6L523.2 1087.6L523.3 1087.6L523.3 1087.6L523.4 1087.6L523.4 1087.6L523.4 1087.6L523.5 1087.6L523.5 1087.6L523.6 1087.6L523.6 1087.6L523.6 1087.6L523.7 1087.6L523.7 1087.6L523.7 1087.6L523.8 1087.7L523.8 1087.7L523.8 1087.7L523.9 1087.7L523.9 1087.7L523.9 1087.7L524.0 1087.7L524.0 1087.7L524.0 1087.7L524.1 1087.7L524.1 1087.7L524.1 1087.7L524.2 1087.7L524.2 1087.7L524.2 1087.8L524.3 1087.8L524.3 1087.8L524.3 1087.8L524.4 1087.8L524.4 1087.8L524.4 1087.8L524.5 1087.8L524.5 1087.8L524.5 1087.8L524.6 1087.8L524.6 1087.8L524.6 1087.9L524.7 1087.9L524.7 1087.9L524.7 1087.9L524.8 1087.9L524.8 1087.9L524.9 1087.9L524.9 1087.9L524.9 1087.9L525.0 1088.0L525.0 1088.0L525.1 1088.0L525.1 1088.0L525.2 1088.0L525.2 1088.0L525.3 1088.0L525.3 1088.0L525.4 1088.0L525.4 1088.0L525.5 1088.1L525.5 1088.1L525.6 1088.1L525.7 1088.1L525.7 1088.1L525.8 1088.1L525.9 1088.1L525.9 1088.1L526.0 1088.1L526.1 1088.1L526.1 1088.2L526.2 1088.2L526.3 1088.2L526.3 1088.2L526.4 1088.2L526.5 1088.2L526.5 1088.2L526.6 1088.2L526.6 1088.2L526.7 1088.2L526.8 1088.3L526.8 1088.3L526.9 1088.3L526.9 1088.3L527.0 1088.3L527.0 1088.3L527.1 1088.3L527.1 1088.3L527.2 1088.3L527.2 1088.3L527.2 1088.3L527.3 1088.4L527.3 1088.4L527.3 1088.4L527.3 1088.4L527.3 1088.4L527.3 1088.4L527.4 1088.4L527.4 1088.4L527.4 1088.4L527.4 1088.4L527.4 1088.4L527.3 1088.4L527.3 1088.5L527.3 1088.5L527.3 1088.5L527.3 1088.5L527.3 1088.5L527.3 1088.5L527.3 1088.5L527.3 1088.5L527.3 1088.5L527.2 1088.5L527.2 1088.5L527.2 1088.6L527.2 1088.6L527.2 1088.6L527.2 1088.6L527.1 1088.6L527.1 1088.6L527.1 1088.6L527.1 1088.6L527.1 1088.6L527.0 1088.6L527.0 1088.6L527.0 1088.7L527.0 1088.7L526.9 1088.7L526.9 1088.7L526.9 1088.7L526.8 1088.7L526.8 1088.7L526.8 1088.7L526.7 1088.7L526.7 1088.7L526.7 1088.8L526.6 1088.8L526.6 1088.8L526.6 1088.8L526.5 1088.8L526.5 1088.8L526.5 1088.8L526.4 1088.8L526.4 1088.8L526.3 1088.8L526.3 1088.9L526.3 1088.9L526.2 1088.9L526.2 1088.9L526.1 1088.9L526.1 1088.9L526.1 1088.9L526.0 1088.9L526.0 1088.9L525.9 1089.0L525.9 1089.0L525.8 1089.0L525.8 1089.0L525.7 1089.0L525.7 1089.0L525.7 1089.0L525.6 1089.0L525.6 1089.1L525.5 1089.1L525.5 1089.1L525.4 1089.1L525.4 1089.1L525.3 1089.1L525.3 1089.1L525.2 1089.2L525.2 1089.2L525.1 1089.2L525.1 1089.2L525.0 1089.2L525.0 1089.2L524.9 1089.2L524.8 1089.3L524.7 1089.3L524.7 1089.3L524.6 1089.3L524.5 1089.3L524.4 1089.3L524.3 1089.3L524.2 1089.4L524.1 1089.4L524.0 1089.4L523.9 1089.4L523.8 1089.4L523.7 1089.4L523.5 1089.5L523.4 1089.5L523.3 1089.5L523.2 1089.5L523.0 1089.5L522.9 1089.6L522.8 1089.6L522.7 1089.6L522.5 1089.6L522.4 1089.6L522.3 1089.6L522.1 1089.7L522.0 1089.7L521.9 1089.7L521.7 1089.7L521.6 1089.7L521.5 1089.8L521.4 1089.8L521.2 1089.8L521.1 1089.8L521.0 1089.9L520.9 1089.9L520.8 1089.9L520.6 1089.9L520.5 1089.9L520.4 1090.0L520.3 1090.0L520.2 1090.0L520.1 1090.0L520.0 1090.1L519.9 1090.1L519.9 1090.1L519.8 1090.1L519.7 1090.2L519.6 1090.2L519.6 1090.2L519.5 1090.2L519.4 1090.3L519.4 1090.3L519.3 1090.3L519.3 1090.3L519.2 1090.4L519.2 1090.4L519.1 1090.4L519.1 1090.5L519.0 1090.5L518.9 1090.5L518.9 1090.6L518.8 1090.7L518.8 1090.7L518.7 1090.8L518.6 1090.9L518.6 1091.0L518.5 1091.1L518.4 1091.2L518.4 1091.3L518.3 1091.4L518.2 1091.5L518.1 1091.6L518.0 1091.8L517.9 1091.9L517.8 1092.0L517.7 1092.1L517.5 1092.3L517.4 1092.4L517.3 1092.6L517.1 1092.7L516.9 1092.8L516.6 1093.0L516.2 1093.1L515.8 1093.3L515.2 1093.4L514.6 1093.5L513.9 1093.7L513.2 1093.8L512.4 1093.9L511.5 1094.1L510.6 1094.2L509.6 1094.3L508.6 1094.5L507.6 1094.6L506.5 1094.7L505.4 1094.8L504.2 1094.9L503.1 1095.0L501.9 1095.1L500.7 1095.2L499.5 1095.3L498.2 1095.4L497.0 1095.4L495.8 1095.5L494.6 1095.6L493.4 1095.6L492.1 1095.6L490.7 1095.7L489.2 1095.7L487.7 1095.7L486.2 1095.7L484.5 1095.7L482.8 1095.7L481.1 1095.6L479.3 1095.5L477.5 1095.4L475.7 1095.3L473.7 1095.2L471.8 1095.0L469.8 1094.8L467.9 1094.7L465.8 1094.4L463.8 1094.2L461.7 1094.0L459.7 1093.7L457.6 1093.4L455.5 1093.1L453.4 1092.8L451.3 1092.5L449.2 1092.2L447.1 1091.8L445.0 1091.5L443.0 1091.1L440.9 1090.7L438.9 1090.3L436.8 1089.9L434.8 1089.5L432.7 1089.1L430.6 1088.7L428.5 1088.2L426.4 1087.8L424.2 1087.3L422.1 1086.9L419.9 1086.4L417.7 1086.0L415.5 1085.5L413.3 1085.0L411.1 1084.5L408.9 1084.1L406.6 1083.6L404.3 1083.1L402.1 1082.5L399.8 1081.9L397.5 1081.2L395.2 1080.5L392.9 1079.7L390.6 1078.9L388.3 1078.1L385.9 1077.2L383.6 1076.3L381.3 1075.4L378.9 1074.5L376.6 1073.5L374.2 1072.6L371.9 1071.7L369.5 1070.7L367.1 1069.7L364.6 1068.7L362.2 1067.7L359.7 1066.7L357.1 1065.6L354.6 1064.5L352.0 1063.4L349.5 1062.3L346.9 1061.2L344.3 1060.0L341.7 1058.8L339.1 1057.7L336.4 1056.5L333.8 1055.2L331.2 1054.0L328.6 1052.8L326.1 1051.5L323.5 1050.3L320.9 1049.0L318.4 1047.7L315.9 1046.5L313.4 1045.2L310.9 1043.9L308.5 1042.6L306.1 1041.3L303.7 1040.0L301.4 1038.7L299.1 1037.4L296.9 1036.1L294.7 1034.8L292.5 1033.4L290.3 1032.1L288.2 1030.7L286.0 1029.2L283.9 1027.8L281.7 1026.3L279.6 1024.9L277.5 1023.4L275.4 1021.9L273.4 1020.4L271.3 1018.9L269.3 1017.4L267.3 1015.9L265.3 1014.4L263.3 1012.9L261.3 1011.4L259.4 1009.9L257.4 1008.4L255.5 1006.9L253.6 1005.5L251.7 1004.0L249.9 1002.6L248.0 1001.2L246.2 999.8L244.4 998.5L242.6 997.2L240.9 995.9L239.1 994.6L237.4 993.3L235.7 992.1L234.0 990.8L232.3 989.6L230.7 988.3L229.0 987.1L227.4 985.9L225.7 984.6L224.1 983.4L222.5 982.2L220.9 981.0L219.3 979.8L217.7 978.7L216.2 977.5L214.7 976.3L213.1 975.2L211.6 974.1L210.1 973.0L208.7 971.9L207.2 970.8L205.8 969.7L204.3 968.6L202.9 967.6L201.6 966.6L200.2 965.6L198.8 964.6L197.5 963.6L196.2 962.7L194.9 961.7L193.7 960.8L192.4 959.9L191.2 959.0L190.0 958.1L188.8 957.2L187.6 956.4L186.4 955.5L185.3 954.7L184.1 953.8L183.0 953.0L181.9 952.2L180.8 951.4L179.7 950.6L178.6 949.8L177.5 949.0L176.5 948.2L175.4 947.4L174.4 946.7L173.3 946.0L172.3 945.2L171.3 944.5L170.3 943.8L169.3 943.1L168.4 942.4L167.4 941.7L166.4 941.0L165.5 940.4L164.6 939.7L163.6 939.1L162.7 938.4L161.8 937.8L160.9 937.1L160.0 936.5L159.2 935.9L158.3 935.3L157.4 934.7L156.6 934.1L155.8 933.5L154.9 932.9L154.1 932.3L153.3 931.8L152.5 931.2L151.7 930.6L150.9 930.1L150.1 929.5L149.3 929.0L148.5 928.5L147.8 927.9L147.0 927.4L146.3 926.9L145.5 926.4L144.8 926.0L144.1 925.5L143.4 925.0L142.6 924.5L141.9 924.1L141.3 923.7L140.6 923.2L139.9 922.8L139.2 922.4L138.6 922.0L137.9 921.6L137.3 921.2L136.7 920.8L136.1 920.4L135.4 920.0L134.8 919.6L134.2 919.2L133.5 918.8L132.9 918.4L132.3 918.1L131.7 917.7L131.1 917.4L130.5 917.0L129.9 916.7L129.3 916.3L128.7 916.0L128.1 915.7L127.5 915.4L127.0 915.1L126.5 914.8L125.9 914.5L125.4 914.2L124.9 913.9L124.5 913.6L124.0 913.4L123.6 913.1L123.1 912.8L122.7 912.6L122.4 912.4L122.0 912.1L121.7 911.9L121.4 911.7L121.1 911.5L120.8 911.3L120.4 911.1L120.1 911.0L119.8 910.8L119.5 910.6L119.3 910.4L119.0 910.3L118.7 910.1L118.4 909.9L118.1 909.7L117.9 909.6L117.6 909.4L117.4 909.2L117.1 909.0L116.9 908.9L116.7 908.7L116.4 908.5L116.2 908.3L116.0 908.1L115.9 907.9L115.7 907.6L115.5 907.4L115.4 907.2L115.2 906.9L115.1 906.7L115.0 906.4L114.9 906.1L114.8 905.8L114.7 905.5L114.7 905.2" fill="none" stroke="#D95319" stroke-width="1.50" stroke-dasharray="9 6" stroke-linejoin="round"/>
<path d="M105.8 889.9L106.1 890.0L106.4 890.1L106.7 890.2L107.0 890.3L107.4 890.4L107.7 890.5L108.0 890.6L108.3 890.8L108.7 890.9L109.0 891.0L109.4 891.1L109.8 891.2L110.1 891.4L110.5 891.5L110.8 891.6L111.2 891.7L111.6 891.9L111.9 892.0L112.3 892.1L112.7 892.3L113.0 892.4L113.4 892.5L113.8 892.7L114.1 892.8L114.5 893.0L114.9 893.1L115.3 893.3L115.7 893.4L116.1 893.6L116.5 893.7L116.8 893.9L117.2 894.0L117.6 894.2L118.0 894.3L118.4 894.5L118.8 894.6L119.2 894.8L119.7 894.9L120.1 895.1L120.5 895.3L120.9 895.4L121.3 895.6L121.8 895.8L122.2 895.9L122.6 896.1L123.0 896.3L123.5 896.4L123.9 896.6L124.4 896.8L124.8 896.9L125.3 897.1L125.7 897.3L126.2 897.5L126.6 897.7L127.1 897.9L127.6 898.1L128.1 898.2L128.5 898.4L129.0 898.6L129.5 898.8L130.0 899.0L130.5 899.3L131.0 899.5L131.5 899.7L132.0 899.9L132.6 900.1L133.1 900.3L133.6 900.6L134.2 900.8L134.7 901.0L135.3 901.3L135.8 901.5L136.4 901.8L136.9 902.0L137.5 902.3L138.1 902.5L138.7 902.8L139.3 903.1L139.9 903.4L140.5 903.7L141.1 904.0L141.7 904.3L142.3 904.6L142.9 905.0L143.6 905.3L144.2 905.7L144.9 906.1L145.5 906.4L146.2 906.8L146.9 907.2L147.5 907.6L148.2 908.0L148.9 908.4L149.6 908.8L150.3 909.2L151.1 909.6L151.8 910.1L152.6 910.5L153.3 910.9L154.1 911.3L154.8 911.8L155.6 912.2L156.4 912.6L157.2 913.1L158.0 913.5L158.8 914.0L159.6 914.4L160.4 914.8L161.3 915.3L162.1 915.7L163.0 916.1L163.8 916.6L164.7 917.0L165.5 917.4L166.4 917.8L167.3 918.2L168.1 918.7L169.0 919.1L169.9 919.5L170.8 920.0L171.7 920.4L172.6 920.9L173.6 921.3L174.5 921.8L175.5 922.3L176.4 922.7L177.4 923.2L178.4 923.7L179.4 924.2L180.5 924.7L181.5 925.2L182.5 925.6L183.6 926.1L184.6 926.6L185.7 927.1L186.8 927.6L187.8 928.0L188.9 928.5L190.0 929.0L191.1 929.4L192.2 929.9L193.2 930.4L194.3 930.8L195.4 931.3L196.5 931.7L197.6 932.1L198.6 932.5L199.7 932.9L200.8 933.3L201.8 933.7L202.9 934.1L203.9 934.5L205.0 934.8L206.0 935.2L207.1 935.5L208.1 935.8L209.2 936.1L210.3 936.4L211.3 936.7L212.4 937.0L213.5 937.4L214.5 937.7L215.6 938.0L216.7 938.3L217.8 938.6L218.8 938.9L219.9 939.2L221.0 939.4L222.0 939.7L223.1 939.9L224.2 940.1L225.2 940.3L226.3 940.4L227.3 940.5L228.3 940.6L229.4 940.7L230.4 940.7L231.4 940.8L232.5 940.8L233.5 940.8L234.5 940.9L235.5 940.9L236.4 941.0L237.4 941.0L238.4 941.0L239.4 941.1L240.3 941.1L241.3 941.1L242.3 941.1L243.3 941.2L244.3 941.2L245.2 941.2L246.2 941.3L247.2 941.3L248.1 941.3L249.0 941.3L250.0 941.3L250.9 941.4L251.8 941.4L252.7 941.4L253.5 941.4L254.3 941.4L255.1 941.4L255.9 941.4L256.7 941.5L257.4 941.5L258.1 941.5L258.8 941.5L259.5 941.5L260.2 941.5L260.9 941.5L261.6 941.5L262.3 941.5L263.0 941.5L263.6 941.5L264.3 941.5L264.9 941.5L265.6 941.5L266.2 941.5L266.8 941.5L267.4 941.5L268.0 941.5L268.5 941.5L269.1 941.5L269.6 941.5L270.2 941.5L270.7 941.5L271.2 941.5L271.6 941.5L272.1 941.5L272.5 941.5L272.9 941.5L273.3 941.5L273.6 941.5L274.0 941.5L274.3 941.5L274.6 941.4L274.9 941.4L275.1 941.4L275.4 941.4L275.7 941.4L275.9 941.4L276.2 941.4L276.4 941.4L276.6 941.4L276.9 941.4L277.1 941.4L277.3 941.4L277.5 941.4L277.7 941.4L277.9 941.4L278.1 941.4L278.3 941.4L278.5 941.4L278.7 941.4L278.9 941.3L279.0 941.3L279.2 941.3L279.4 941.3L279.6 941.3L279.8 941.3L280.0 941.3L280.2 941.3L280.3 941.3L280.5 941.3L280.7 941.3L280.9 941.3L281.1 941.3L281.3 941.3L281.5 941.3L281.7 941.2L281.9 941.2L282.1 941.2L282.3 941.2L282.5 941.2L282.7 941.2L282.9 941.2L283.1 941.2L283.3 941.2L283.5 941.2L283.7 941.2L283.8 941.2L284.0 941.2L284.2 941.1L284.4 941.1L284.6 941.1L284.7 941.1L284.9 941.1L285.1 941.1L285.2 941.1L285.4 941.1L285.5 941.1L285.6 941.1L285.8 941.1L285.9 941.1L286.0 941.1L286.2 941.1L286.3 941.0L286.4 941.0L286.5 941.0L286.5 941.0L286.6 941.0L286.7 941.0L286.8 941.0L286.9 941.0L286.9 941.0L287.0 941.0L287.1 941.0L287.2 941.0L287.2 941.0L287.3 941.0L287.4 941.0L287.4 941.0L287.5 940.9L287.6 940.9L287.6 940.9L287.7 940.9L287.8 940.9L287.8 940.9L287.9 940.9L287.9 940.9L288.0 940.9L288.0 940.9L288.1 940.9L288.1 940.9L288.2 940.9L288.2 940.9L288.3 940.9L288.3 940.9L288.3 940.9L288.4 940.9L288.4 940.9L288.4 940.9L288.4 940.9L288.4 940.9L288.4 940.8L288.4 940.8L288.4 940.8L288.4 940.8L288.4 940.8L288.4 940.8L288.4 940.8L288.4 940.8L288.4 940.8L288.4 940.8L288.4 940.8L288.4 940.8L288.4 940.8L288.3 940.8L288.3 940.8L288.3 940.8L288.3 940.8L288.3 940.8L288.2 940.8L288.2 940.8L288.2 940.8L288.2 940.8L288.1 940.8L288.1 940.8L288.1 940.8L288.0 940.8L288.0 940.8L288.0 940.8L288.0 940.8L287.9 940.8L287.9 940.8L287.9 940.7L287.9 940.7L287.8 940.7L287.8 940.7L287.8 940.7L287.8 940.7L287.7 940.7L287.7 940.7L287.7 940.7L287.7 940.7L287.7 940.7L287.6 940.7L287.6 940.7L287.6 940.7L287.6 940.7L287.6 940.7L287.6 940.7L287.6 940.7L287.5 940.7L287.5 940.7L287.5 940.7L287.5 940.7L287.5 940.7L287.5 940.7L287.5 940.7L287.5 940.7L287.5 940.7L287.6 940.7L287.6 940.7L287.6 940.7L287.6 940.7L287.6 940.7L287.6 940.7L287.6 940.7L287.6 940.7L287.6 940.7L287.6 940.7L287.6 940.6L287.6 940.6L287.6 940.6L287.7 940.6L287.7 940.6L287.7 940.6L287.7 940.6L287.7 940.6L287.7 940.6L287.7 940.6L287.7 940.6L287.8 940.6L287.8 940.6L287.8 940.6L287.8 940.6L287.8 940.6L287.8 940.6L287.8 940.6L287.9 940.6L287.9 940.6L287.9 940.6L287.9 940.6L287.9 940.6L287.9 940.6L288.0 940.6L288.0 940.6L288.0 940.6L288.0 940.6L288.0 940.6L288.0 940.6L288.1 940.6L288.1 940.6L288.1 940.6L288.1 940.6L288.1 940.6L288.1 940.6L288.2 940.6L288.2 940.6L288.2 940.6L288.2 940.6L288.2 940.5L288.2 940.5L288.2 940.5L288.3 940.5L288.3 940.5L288.3 940.5L288.3 940.5L288.3 940.5L288.3 940.5L288.3 940.5L288.3 940.5L288.4 940.5L288.4 940.5L288.4 940.5L288.4 940.5L288.4 940.5L288.4 940.5L288.4 940.5L288.4 940.5L288.4 940.5L288.4 940.5L288.4 940.5L288.4 940.5L288.4 940.5L288.4 940.5L288.4 940.5L288.4 940.5L288.4 940.5L288.4 940.5L288.4 940.5L288.4 940.5L288.4 940.5L288.4 940.5L288.4 940.5L288.4 940.5L288.4 940.5L288.4 940.4L288.4 940.4L288.4 940.4L288.4 940.4L288.4 940.4L288.4 940.4L288.4 940.4L288.4 940.4L288.4 940.4L288.4 940.4L288.4 940.4L288.4 940.4L288.4 940.4L288.4 940.4L288.4 940.4L288.3 940.4L288.3 940.4L288.3 940.4L288.3 940.4L288.3 940.4L288.3 940.4L288.3 940.4L288.3 940.4L288.3 940.4L288.2 940.4L288.2 940.4L288.2 940.4L288.2 940.4L288.2 940.4L288.2 940.3L288.2 940.3L288.1 940.3L288.1 940.3L288.1 940.3L288.1 940.3L288.1 940.3L288.0 940.3L288.0 940.3L288.0 940.3L288.0 940.3L288.0 940.3L288.0 940.3L287.9 940.3L287.9 940.3L287.9 940.3L287.9 940.3L287.8 940.3L287.8 940.3L287.8 940.3L287.8 940.3L287.7 940.3L287.7 940.3L287.7 940.2L287.7 940.2L287.6 940.2L287.6 940.2L287.6 940.2L287.6 940.2L287.5 940.2L287.5 940.2L287.5 940.2L287.4 940.2L287.4 940.2L287.4 940.2L287.4 940.2L287.3 940.1L287.3 940.1L287.3 940.1L287.2 940.1L287.2 940.1L287.2 940.1L287.1 940.1L287.1 940.1L287.1 940.1L287.0 940.1L287.0 940.1L286.9 940.0L286.9 940.0L286.9 940.0L286.8 940.0L286.8 940.0L286.7 940.0L286.7 940.0L286.7 940.0L286.6 940.0L286.6 940.0L286.5 940.0L286.5 939.9L286.5 939.9L286.4 939.9L286.4 939.9L286.3 939.9L286.3 939.9L286.2 939.9L286.2 939.9L286.1 939.9L286.1 939.9L286.0 939.9L286.0 939.8L285.9 939.8L285.9 939.8L285.8 939.8L285.8 939.8L285.7 939.8L285.7 939.8L285.6 939.8L285.6 939.8L285.5 939.8L285.5 939.8L285.4 939.8L285.4 939.7L285.3 939.7L285.3 939.7L285.2 939.7L285.1 939.7L285.0 939.7L284.9 939.7L284.8 939.7L284.6 939.7L284.5 939.7L284.3 939.7L284.1 939.7L283.9 939.7L283.7 939.7L283.5 939.7L283.3 939.7L283.0 939.7L282.7 939.7L282.5 939.7L282.2 939.7L281.9 939.7L281.6 939.7L281.3 939.7L280.9 939.7L280.6 939.7L280.3 939.7L279.9 939.8L279.6 939.9L279.2 940.0L278.8 940.1L278.4 940.2L278.0 940.4L277.6 940.6L277.2 940.8L276.8 941.0L276.4 941.2L276.0 941.4L275.6 941.7L275.1 941.9L274.7 942.2L274.3 942.4L273.8 942.7L273.4 943.0L272.9 943.3L272.5 943.6L272.0 943.9L271.6 944.2L271.1 944.5L270.7 944.8L270.2 945.1L269.7 945.4L269.2 945.8L268.6 946.1L268.0 946.4L267.4 946.7L266.7 947.0L266.1 947.3L265.4 947.5L264.7 947.8L263.9 948.1L263.2 948.3L262.4 948.6L261.7 948.8L260.9 949.1L260.1 949.3L259.3 949.5L258.5 949.7L257.6 949.8L256.8 950.0L256.0 950.2L255.1 950.4L254.3 950.6L253.5 950.8L252.7 951.0L251.8 951.2L251.0 951.4L250.2 951.6L249.4 951.8L248.7 952.0L247.9 952.2L247.1 952.4L246.3 952.6L245.5 952.8L244.7 952.9L243.9 953.1L243.1 953.2L242.3 953.4L241.5 953.5L240.7 953.6L239.8 953.8L239.0 953.9L238.2 953.9L237.4 954.0L236.5 954.1L235.7 954.1L234.9 954.1L234.0 954.1L233.2 954.1L232.3 954.0L231.5 953.8L230.6 953.6L229.8 953.4L228.9 953.1L228.1 952.7L227.2 952.4L226.4 952.1L225.5 951.7L224.7 951.4L223.8 951.0L223.0 950.7L222.1 950.5L221.2 950.2L220.4 949.9L219.5 949.6L218.6 949.4L217.7 949.1L216.8 948.8L216.0 948.5L215.1 948.3L214.2 948.0L213.3 947.7L212.4 947.3L211.5 947.0L210.6 946.7L209.7 946.3L208.8 946.0L207.9 945.6L207.0 945.2L206.1 944.7L205.2 944.3L204.2 943.9L203.3 943.4L202.4 942.9L201.5 942.5L200.7 942.0L199.8 941.5L198.9 941.0L198.0 940.4L197.1 939.9L196.2 939.4L195.3 938.9L194.4 938.3L193.6 937.8L192.7 937.3L191.8 936.7L191.0 936.2L190.1 935.6L189.3 935.1L188.4 934.6L187.6 934.1L186.8 933.5L185.9 933.0L185.1 932.5L184.2 932.0L183.4 931.5L182.6 931.0L181.7 930.5L180.9 930.0L180.1 929.5L179.3 929.0L178.4 928.5L177.6 928.0L176.8 927.5L176.0 927.0L175.2 926.5L174.4 926.0L173.5 925.5L172.7 925.0L171.9 924.5L171.1 924.0L170.3 923.5L169.5 923.0L168.7 922.5L167.9 922.0L167.1 921.5L166.4 921.0L165.6 920.5L164.8 920.0L164.0 919.5L163.2 919.0L162.4 918.6L161.7 918.1L160.9 917.6L160.1 917.1L159.3 916.7L158.5 916.2L157.7 915.7L156.9 915.2L156.1 914.7L155.3 914.3L154.5 913.8L153.7 913.3L152.8 912.8L152.0 912.3L151.2 911.8L150.4 911.4L149.6 910.9L148.8 910.4L148.1 909.9L147.3 909.5L146.5 909.0L145.7 908.6L145.0 908.1L144.3 907.7L143.5 907.3L142.8 906.9L142.1 906.5L141.4 906.1L140.8 905.7L140.1 905.3L139.5 904.9L138.9 904.6L138.3 904.2L137.7 903.9L137.1 903.6L136.6 903.2L136.1 902.9L135.5 902.6L135.0 902.3L134.5 902.0L134.0 901.7L133.6 901.4L133.1 901.1L132.6 900.8L132.2 900.5L131.7 900.2L131.3 899.9L130.8 899.7L130.4 899.4L130.0 899.1L129.6 898.9L129.2 898.6L128.8 898.4L128.4 898.1L128.0 897.9L127.6 897.7L127.2 897.4L126.8 897.2L126.4 897.0L126.1 896.8L125.7 896.6L125.3 896.4L125.0 896.2L124.6 896.0L124.3 895.9L123.9 895.7L123.6 895.5L123.2 895.4L122.9 895.2L122.6 895.0L122.2 894.9L121.9 894.7L121.6 894.6L121.2 894.4L120.9 894.3L120.6 894.2L120.3 894.0L120.0 893.9L119.6 893.7L119.3 893.6L119.0 893.5L118.7 893.3L118.4 893.2L118.1 893.1L117.8 893.0L117.5 892.8L117.3 892.7L117.0 892.6L116.7 892.4L116.4 892.3L116.1 892.2L115.9 892.0L115.6 891.9L115.3 891.8L115.1 891.6L114.8 891.5L114.5 891.3L114.3 891.2L114.0 891.1L113.8 890.9L113.5 890.8L113.3 890.7L113.0 890.6L112.8 890.4L112.5 890.3L112.3 890.2L112.1 890.0L111.8 889.9L111.6 889.8L111.3 889.7L111.1 889.5L110.8 889.4L110.6 889.3L110.4 889.2L110.1 889.1L109.9 889.0L109.6 888.8L109.4 888.7L109.2 888.6L108.9 888.5L108.7 888.4L108.5 888.3L108.3 888.2L108.1 888.2L107.9 888.1L107.7 887.9L107.5 887.8L107.3 887.7L107.1 887.6L106.9 887.5L106.7 887.4L106.6 887.2L106.4 887.1L106.3 887.0L106.1 886.9L106.0 886.7L105.9 886.6L105.8 886.5L105.7 886.3L105.6 886.2L105.5 886.1L105.4 885.9L105.3 885.8L105.2 885.6L105.1 885.5L105.0 885.3L104.9 885.1L104.8 885.0L104.8 884.8L104.7 884.6L104.6 884.5L104.6 884.3L104.5 884.1L104.5 883.9L104.4 883.7L104.4 883.6L104.4 883.4" fill="none" stroke="#EDB120" stroke-width="1.50" stroke-dasharray="9 6" stroke-linejoin="round"/>
<path d="M96.9 884.0L96.9 884.0L96.9 884.0L97.0 884.1L97.0 884.1L97.1 884.2L97.2 884.2L97.2 884.3L97.3 884.3L97.3 884.3L97.4 884.4L97.5 884.4L97.6 884.5L97.6 884.5L97.7 884.6L97.8 884.6L97.9 884.7L98.0 884.7L98.0 884.8L98.1 884.8L98.2 884.9L98.3 885.0L98.4 885.0L98.5 885.1L98.6 885.1L98.7 885.2L98.8 885.2L98.9 885.3L99.0 885.4L99.1 885.4L99.2 885.5L99.3 885.5L99.5 885.6L99.6 885.7L99.7 885.7L99.8 885.8L99.9 885.9L100.0 885.9L100.1 886.0L100.3 886.1L100.4 886.1L100.5 886.2L100.6 886.3L100.7 886.3L100.9 886.4L101.0 886.5L101.1 886.5L101.2 886.6L101.4 886.7L101.5 886.8L101.7 886.8L101.8 886.9L102.0 887.0L102.1 887.1L102.3 887.1L102.5 887.2L102.6 887.3L102.8 887.4L103.0 887.4L103.2 887.5L103.3 887.6L103.5 887.7L103.7 887.7L103.9 887.8L104.1 887.9L104.3 888.0L104.5 888.1L104.7 888.1L104.9 888.2L105.1 888.3L105.3 888.4L105.5 888.5L105.8 888.5L106.0 888.6L106.2 888.7L106.5 888.8L106.7 888.9L107.0 889.0L107.3 889.0L107.5 889.1L107.8 889.2L108.1 889.3L108.4 889.4L108.7 889.5L109.0 889.6L109.4 889.7L109.7 889.8L110.0 889.9L110.3 890.0L110.7 890.1L111.0 890.2L111.3 890.3L111.7 890.4L112.0 890.5L112.4 890.6L112.7 890.8L113.1 890.9L113.4 891.0L113.8 891.1L114.1 891.2L114.4 891.3L114.8 891.5L115.1 891.6L115.5 891.7L115.8 891.8L116.2 891.9L116.5 892.1L116.8 892.2L117.2 892.3L117.5 892.4L117.9 892.5L118.3 892.7L118.6 892.8L119.0 892.9L119.3 893.0L119.7 893.2L120.1 893.3L120.4 893.4L120.8 893.5L121.2 893.6L121.5 893.8L121.9 893.9L122.3 894.0L122.7 894.1L123.1 894.2L123.5 894.4L123.9 894.5L124.3 894.6L124.7 894.7L125.1 894.8L125.5 894.9L125.9 895.1L126.4 895.2L126.8 895.3L127.2 895.4L127.7 895.5L128.2 895.6L128.6 895.7L129.1 895.8L129.6 895.9L130.1 896.1L130.6 896.2L131.1 896.3L131.6 896.4L132.1 896.6L132.6 896.7L133.1 896.8L133.6 897.0L134.1 897.1L134.6 897.2L135.2 897.4L135.7 897.5L136.2 897.6L136.7 897.8L137.3 897.9L137.8 898.0L138.3 898.2L138.8 898.3L139.3 898.4L139.8 898.5L140.4 898.7L140.9 898.8L141.4 898.9L141.9 899.0L142.4 899.1L142.9 899.2L143.4 899.2L144.0 899.3L144.5 899.4L145.0 899.5L145.6 899.5L146.1 899.6L146.7 899.6L147.2 899.6L147.7 899.7L148.3 899.7L148.8 899.7L149.3 899.7L149.9 899.7L150.4 899.7L150.9 899.7L151.4 899.7L151.9 899.6L152.4 899.6L152.9 899.6L153.4 899.6L153.9 899.6L154.3 899.6L154.7 899.5L155.2 899.5L155.6 899.5L156.0 899.5L156.4 899.5L156.7 899.4L157.1 899.4L157.4 899.4L157.8 899.3L158.1 899.3L158.5 899.3L158.8 899.2L159.1 899.2L159.4 899.2L159.7 899.1L160.0 899.1L160.3 899.1L160.6 899.0L160.9 899.0L161.2 898.9L161.5 898.9L161.8 898.9L162.0 898.8L162.3 898.8L162.6 898.7L162.9 898.7L163.1 898.7L163.4 898.6L163.7 898.6L163.9 898.5L164.2 898.4L164.4 898.4L164.7 898.3L165.0 898.2L165.2 898.1L165.5 898.0L165.7 897.9L166.0 897.8L166.3 897.7L166.5 897.6L166.8 897.5L167.1 897.4L167.4 897.3L167.6 897.2L167.9 897.1L168.2 896.9L168.4 896.8L168.7 896.7L168.9 896.6L169.2 896.5L169.4 896.3L169.6 896.2L169.8 896.1L170.0 896.0L170.2 895.9L170.3 895.8L170.4 895.7L170.5 895.6L170.6 895.4L170.7 895.3L170.8 895.3L171.0 895.2L171.1 895.1L171.2 895.0L171.3 894.9L171.4 894.8L171.5 894.8L171.6 894.7L171.7 894.7L171.7 894.6L171.8 894.5L171.9 894.5L172.0 894.4L172.1 894.4L172.2 894.3L172.3 894.2L172.4 894.2L172.5 894.1L172.5 894.1L172.6 894.0L172.7 893.9L172.8 893.9L172.9 893.8L172.9 893.8L173.0 893.7L173.1 893.7L173.2 893.6L173.2 893.5L173.3 893.5L173.4 893.4L173.5 893.4L173.5 893.3L173.6 893.3L173.7 893.2L173.7 893.2L173.8 893.1L173.8 893.1L173.9 893.0L174.0 893.0L174.0 892.9L174.1 892.9L174.1 892.8L174.2 892.8L174.2 892.7L174.3 892.7L174.3 892.6L174.4 892.6L174.4 892.6L174.5 892.5L174.5 892.5L174.5 892.4L174.6 892.4L174.6 892.4L174.7 892.3L174.7 892.3L174.7 892.2L174.8 892.2L174.8 892.2L174.8 892.1L174.9 892.1L174.9 892.1L174.9 892.1L174.9 892.0L175.0 892.0L175.0 892.0L175.0 891.9L175.0 891.9L175.0 891.9L175.1 891.9L175.1 891.9L175.1 891.8L175.1 891.8L175.1 891.8L175.1 891.8L175.1 891.8L175.1 891.8L175.1 891.7L175.2 891.7L175.2 891.7L175.2 891.7L175.2 891.7L175.2 891.7L175.2 891.7L175.2 891.7L175.2 891.7L175.2 891.7L175.2 891.7L175.2 891.6L175.2 891.6L175.2 891.6L175.3 891.6L175.3 891.6L175.3 891.6L175.3 891.6L175.3 891.6L175.3 891.6L175.3 891.6L175.3 891.6L175.3 891.6L175.3 891.6L175.3 891.5L175.3 891.5L175.3 891.5L175.3 891.5L175.3 891.5L175.3 891.5L175.3 891.5L175.3 891.5L175.4 891.5L175.4 891.5L175.4 891.5L175.4 891.5L175.4 891.5L175.4 891.5L175.4 891.4L175.4 891.4L175.4 891.4L175.4 891.4L175.4 891.4L175.4 891.4L175.4 891.4L175.4 891.4L175.4 891.4L175.4 891.4L175.4 891.4L175.4 891.4L175.4 891.4L175.4 891.4L175.4 891.4L175.4 891.3L175.4 891.3L175.4 891.3L175.4 891.3L175.4 891.3L175.5 891.3L175.5 891.3L175.5 891.3L175.5 891.3L175.5 891.3L175.5 891.3L175.5 891.3L175.5 891.3L175.5 891.3L175.5 891.3L175.5 891.3L175.5 891.3L175.5 891.3L175.5 891.2L175.5 891.2L175.5 891.2L175.5 891.2L175.5 891.2L175.5 891.2L175.5 891.2L175.5 891.2L175.5 891.2L175.6 891.2L175.6 891.2L175.6 891.2L175.6 891.2L175.6 891.2L175.6 891.2L175.6 891.2L175.6 891.2L175.6 891.2L175.6 891.2L175.6 891.2L175.6 891.1L175.6 891.1L175.6 891.1L175.7 891.1L175.7 891.1L175.7 891.1L175.7 891.1L175.7 891.1L175.7 891.1L175.7 891.1L175.7 891.1L175.7 891.1L175.7 891.1L175.7 891.1L175.8 891.1L175.8 891.1L175.8 891.1L175.8 891.1L175.8 891.1L175.8 891.1L175.8 891.1L175.8 891.1L175.8 891.1L175.8 891.1L175.8 891.1L175.9 891.1L175.9 891.0L175.9 891.0L175.9 891.0L175.9 891.0L175.9 891.0L175.9 891.0L175.9 891.0L175.9 891.0L175.9 891.0L175.9 891.0L175.9 891.0L175.9 891.0L176.0 891.0L176.0 891.0L176.0 891.0L176.0 891.0L176.0 891.0L176.0 891.0L176.0 891.0L176.0 891.0L176.0 891.0L176.0 891.0L176.0 891.0L176.0 891.0L176.0 891.0L176.0 891.0L176.0 891.0L176.0 891.0L176.0 891.0L176.0 891.0L176.0 891.0L176.0 891.0L176.0 891.0L176.0 891.0L176.0 891.0L176.0 891.0L176.0 891.0L176.0 891.0L176.0 890.9L176.0 890.9L176.0 890.9L176.0 890.9L176.0 890.9L176.0 890.9L176.0 890.9L176.0 890.9L176.0 890.9L176.0 890.9L176.0 890.9L176.0 890.9L176.0 890.9L176.0 890.9L176.0 890.9L176.0 890.9L176.0 890.9L176.0 890.9L176.0 890.9L176.0 890.9L176.0 890.9L176.0 890.9L176.0 890.9L176.0 890.9L176.0 890.9L176.0 890.9L176.0 890.9L176.0 890.9L176.0 890.9L176.0 890.9L175.9 890.9L175.9 890.9L175.9 890.9L175.9 890.9L175.9 890.9L175.9 890.9L175.9 890.9L175.9 890.9L175.9 890.9L175.9 890.9L175.9 890.9L175.9 890.9L175.9 890.9L175.9 890.9L175.9 890.9L175.9 890.9L175.9 890.9L175.9 890.9L175.9 890.9L175.8 890.9L175.8 890.9L175.8 890.9L175.8 890.9L175.8 890.9L175.8 890.9L175.8 890.9L175.8 890.9L175.8 891.0L175.8 891.0L175.8 891.0L175.8 891.0L175.8 891.0L175.7 891.0L175.7 891.0L175.7 891.1L175.7 891.1L175.7 891.1L175.7 891.1L175.7 891.1L175.7 891.1L175.7 891.2L175.7 891.2L175.7 891.2L175.6 891.2L175.6 891.3L175.6 891.3L175.6 891.3L175.6 891.3L175.6 891.4L175.6 891.4L175.6 891.4L175.6 891.5L175.5 891.5L175.5 891.5L175.5 891.5L175.5 891.6L175.5 891.6L175.5 891.6L175.5 891.7L175.5 891.7L175.4 891.7L175.4 891.8L175.4 891.8L175.4 891.9L175.4 891.9L175.4 891.9L175.4 892.0L175.4 892.0L175.3 892.1L175.3 892.1L175.3 892.1L175.3 892.2L175.3 892.2L175.3 892.3L175.3 892.3L175.2 892.4L175.2 892.4L175.2 892.4L175.2 892.5L175.2 892.5L175.2 892.6L175.1 892.6L175.1 892.7L175.1 892.7L175.1 892.8L175.1 892.8L175.0 892.9L175.0 892.9L174.9 893.0L174.9 893.0L174.8 893.1L174.7 893.1L174.6 893.2L174.6 893.2L174.5 893.3L174.4 893.3L174.2 893.4L174.1 893.4L174.0 893.5L173.9 893.5L173.8 893.6L173.6 893.6L173.5 893.7L173.3 893.7L173.2 893.8L173.0 893.8L172.9 893.9L172.7 894.0L172.5 894.1L172.4 894.1L172.2 894.2L172.0 894.3L171.8 894.4L171.7 894.5L171.5 894.6L171.3 894.8L171.1 894.9L170.9 895.0L170.7 895.1L170.5 895.3L170.3 895.4L170.1 895.5L169.9 895.7L169.7 895.8L169.5 895.9L169.3 896.1L169.1 896.2L168.9 896.4L168.7 896.5L168.5 896.7L168.3 896.8L168.1 897.0L167.9 897.1L167.7 897.3L167.4 897.4L167.2 897.6L166.9 897.7L166.7 897.9L166.4 898.0L166.1 898.2L165.8 898.3L165.5 898.5L165.2 898.6L164.9 898.8L164.6 898.9L164.3 899.0L164.0 899.2L163.7 899.3L163.3 899.4L163.0 899.5L162.7 899.6L162.3 899.8L162.0 899.9L161.6 900.0L161.3 900.1L160.9 900.2L160.5 900.3L160.2 900.3L159.8 900.4L159.4 900.5L159.1 900.5L158.7 900.6L158.3 900.7L158.0 900.7L157.6 900.7L157.2 900.8L156.9 900.8L156.5 900.9L156.1 900.9L155.7 900.9L155.4 901.0L155.0 901.0L154.6 901.1L154.3 901.1L153.9 901.1L153.5 901.2L153.2 901.2L152.8 901.2L152.5 901.3L152.1 901.3L151.7 901.3L151.3 901.4L150.9 901.4L150.5 901.4L150.1 901.4L149.8 901.5L149.4 901.5L149.0 901.5L148.5 901.5L148.1 901.6L147.7 901.6L147.3 901.6L146.9 901.6L146.5 901.6L146.1 901.7L145.7 901.7L145.2 901.7L144.8 901.7L144.4 901.7L144.0 901.7L143.6 901.7L143.1 901.7L142.7 901.7L142.3 901.7L141.9 901.7L141.5 901.7L141.0 901.6L140.6 901.6L140.2 901.5L139.8 901.4L139.4 901.3L139.0 901.2L138.5 901.1L138.1 901.0L137.7 900.9L137.3 900.7L136.9 900.6L136.5 900.4L136.1 900.3L135.7 900.1L135.3 899.9L134.9 899.7L134.5 899.5L134.2 899.3L133.8 899.2L133.4 899.0L133.0 898.8L132.7 898.5L132.3 898.3L132.0 898.1L131.6 897.9L131.2 897.7L130.9 897.5L130.5 897.3L130.1 897.1L129.8 896.9L129.4 896.7L129.1 896.5L128.7 896.3L128.4 896.2L128.0 896.0L127.6 895.8L127.3 895.6L126.9 895.5L126.6 895.3L126.3 895.1L125.9 894.9L125.6 894.8L125.2 894.6L124.9 894.4L124.6 894.2L124.3 894.0L124.0 893.8L123.6 893.6L123.3 893.4L123.0 893.2L122.7 893.0L122.5 892.8L122.2 892.6L121.9 892.4L121.6 892.2L121.4 892.0L121.1 891.8L120.9 891.6L120.6 891.4L120.4 891.2L120.2 891.0L119.9 890.9L119.7 890.7L119.5 890.5L119.3 890.3L119.1 890.2L118.9 890.0L118.7 889.9L118.5 889.7L118.3 889.6L118.1 889.5L117.9 889.3L117.7 889.2L117.5 889.1L117.3 889.0L117.2 888.9L117.0 888.9L116.8 888.8L116.6 888.7L116.4 888.6L116.2 888.6L116.0 888.5L115.8 888.5L115.6 888.4L115.4 888.4L115.2 888.3L115.0 888.3L114.8 888.2L114.6 888.2L114.4 888.1L114.1 888.1L113.9 888.0L113.7 888.0L113.4 888.0L113.2 887.9L112.9 887.9L112.7 887.9L112.4 887.8L112.2 887.8L111.9 887.7L111.7 887.7L111.4 887.7L111.1 887.6L110.8 887.6L110.6 887.6L110.3 887.5L110.0 887.5L109.8 887.4L109.5 887.4L109.2 887.3L109.0 887.3L108.7 887.2L108.4 887.2L108.2 887.1L107.9 887.1L107.7 887.0L107.4 887.0L107.2 886.9L107.0 886.8L106.8 886.8L106.5 886.7L106.3 886.6L106.1 886.6L105.9 886.5L105.7 886.4L105.5 886.3L105.4 886.2L105.2 886.1L105.0 886.1L104.8 886.0L104.6 885.9L104.5 885.8L104.3 885.7L104.1 885.6L103.9 885.5L103.8 885.4L103.6 885.4L103.4 885.3L103.3 885.2L103.1 885.1L103.0 885.0L102.8 884.9L102.7 884.8L102.5 884.8L102.4 884.7L102.2 884.6L102.1 884.5L102.0 884.4L101.8 884.4L101.7 884.3L101.6 884.2L101.4 884.2L101.3 884.1L101.2 884.1L101.1 884.0L100.9 884.0L100.8 883.9L100.7 883.9L100.6 883.8L100.5 883.8L100.4 883.8L100.3 883.7L100.2 883.7L100.1 883.7L100.0 883.6L99.9 883.6L99.8 883.5L99.7 883.5L99.6 883.5L99.5 883.5L99.4 883.4L99.4 883.4L99.3 883.4L99.2 883.3L99.1 883.3L99.0 883.3L98.9 883.2L98.9 883.2L98.8 883.2L98.7 883.2L98.6 883.1L98.5 883.1L98.5 883.1L98.4 883.0L98.3 883.0L98.3 883.0L98.2 883.0L98.1 882.9L98.1 882.9L98.0 882.9L97.9 882.8L97.9 882.8L97.8 882.8L97.7 882.8L97.7 882.7L97.6 882.7L97.6 882.7L97.5 882.7L97.5 882.6L97.4 882.6L97.4 882.6L97.3 882.6L97.3 882.5L97.2 882.5L97.2 882.5L97.1 882.5L97.1 882.4L97.0 882.4L97.0 882.4L96.9 882.4L96.9 882.4L96.9 882.3" fill="none" stroke="#7E2F8E" stroke-width="1.50" stroke-dasharray="9 6" stroke-linejoin="round"/>
<path d="M91.7 884.0L91.7 884.0L91.7 884.0L91.7 884.0L91.7 884.0L91.7 884.0L91.7 884.0L91.7 884.0L91.8 884.0L91.8 884.0L91.8 884.0L91.8 884.0L91.8 884.0L91.8 884.0L91.9 884.0L91.9 884.0L91.9 884.0L91.9 884.0L91.9 884.0L92.0 884.0L92.0 884.0L92.0 884.0L92.1 884.0L92.1 884.0L92.1 884.0L92.1 884.0L92.2 884.0L92.2 884.0L92.2 884.1L92.3 884.1L92.3 884.1L92.4 884.1L92.4 884.1L92.4 884.1L92.5 884.1L92.5 884.1L92.6 884.1L92.6 884.1L92.7 884.1L92.7 884.1L92.7 884.1L92.8 884.1L92.8 884.1L92.9 884.1L92.9 884.1L93.0 884.1L93.0 884.1L93.1 884.1L93.1 884.1L93.2 884.2L93.2 884.2L93.3 884.2L93.4 884.2L93.4 884.2L93.5 884.2L93.5 884.2L93.6 884.2L93.6 884.2L93.7 884.2L93.7 884.2L93.8 884.2L93.9 884.2L93.9 884.2L94.0 884.2L94.0 884.2L94.1 884.2L94.2 884.3L94.2 884.3L94.3 884.3L94.3 884.3L94.4 884.3L94.5 884.3L94.5 884.3L94.6 884.3L94.6 884.3L94.7 884.3L94.8 884.3L94.9 884.3L94.9 884.3L95.0 884.3L95.1 884.3L95.2 884.3L95.3 884.4L95.4 884.4L95.5 884.4L95.6 884.4L95.6 884.4L95.8 884.4L95.9 884.4L96.0 884.4L96.1 884.4L96.2 884.4L96.3 884.4L96.4 884.4L96.5 884.4L96.6 884.5L96.8 884.5L96.9 884.5L97.0 884.5L97.1 884.5L97.3 884.5L97.4 884.5L97.5 884.5L97.7 884.6L97.8 884.6L97.9 884.6L98.1 884.6L98.2 884.6L98.3 884.6L98.5 884.6L98.6 884.7L98.8 884.7L98.9 884.7L99.1 884.7L99.2 884.7L99.4 884.7L99.5 884.7L99.7 884.7L99.8 884.8L100.0 884.8L100.1 884.8L100.3 884.8L100.4 884.8L100.6 884.8L100.7 884.8L100.9 884.9L101.1 884.9L101.2 884.9L101.4 884.9L101.5 884.9L101.7 884.9L101.9 884.9L102.0 884.9L102.2 884.9L102.3 884.9L102.5 884.9L102.7 885.0L102.9 885.0L103.0 885.0L103.2 885.0L103.4 885.0L103.6 885.0L103.8 885.0L104.0 885.0L104.2 885.0L104.4 885.0L104.6 885.0L104.8 885.0L105.0 885.0L105.2 885.0L105.5 885.0L105.7 885.0L105.9 884.9L106.1 884.9L106.4 884.9L106.6 884.9L106.8 884.9L107.0 884.8L107.3 884.8L107.5 884.8L107.7 884.8L108.0 884.7L108.2 884.7L108.4 884.7L108.7 884.6L108.9 884.6L109.2 884.6L109.4 884.5L109.6 884.5L109.9 884.4L110.1 884.4L110.4 884.4L110.6 884.3L110.8 884.3L111.1 884.2L111.3 884.2L111.5 884.1L111.8 884.1L112.0 884.0L112.2 884.0L112.5 883.9L112.7 883.9L112.9 883.8L113.2 883.8L113.4 883.7L113.6 883.7L113.8 883.6L114.1 883.6L114.3 883.5L114.5 883.5L114.7 883.4L114.9 883.4L115.1 883.3L115.3 883.3L115.6 883.2L115.8 883.2L116.0 883.1L116.2 883.1L116.5 883.1L116.7 883.0L116.9 883.0L117.2 882.9L117.4 882.9L117.6 882.9L117.9 882.8L118.1 882.8L118.4 882.7L118.6 882.7L118.9 882.7L119.1 882.6L119.4 882.6L119.6 882.6L119.9 882.5L120.1 882.5L120.3 882.5L120.6 882.4L120.8 882.4L121.1 882.4L121.3 882.3L121.5 882.3L121.7 882.3L122.0 882.2L122.2 882.2L122.4 882.1L122.6 882.1L122.8 882.1L123.0 882.0L123.2 882.0L123.4 882.0L123.6 881.9L123.8 881.9L123.9 881.9L124.1 881.8L124.3 881.8L124.4 881.7L124.6 881.7L124.7 881.7L124.8 881.6L124.9 881.6L125.0 881.6L125.1 881.5L125.2 881.5L125.3 881.5L125.4 881.4L125.4 881.4L125.5 881.4L125.5 881.3L125.6 881.3L125.6 881.3L125.7 881.2L125.7 881.2L125.8 881.2L125.8 881.1L125.9 881.1L125.9 881.1L126.0 881.0L126.0 881.0L126.1 881.0L126.1 880.9L126.2 880.9L126.2 880.9L126.2 880.9L126.3 880.8L126.3 880.8L126.4 880.8L126.4 880.7L126.4 880.7L126.5 880.7L126.5 880.7L126.6 880.6L126.6 880.6L126.6 880.6L126.7 880.6L126.7 880.5L126.7 880.5L126.8 880.5L126.8 880.5L126.8 880.5L126.9 880.4L126.9 880.4L126.9 880.4L126.9 880.4L127.0 880.4L127.0 880.3L127.0 880.3L127.1 880.3L127.1 880.3L127.1 880.3L127.1 880.3L127.2 880.3L127.2 880.2L127.2 880.2L127.2 880.2L127.3 880.2L127.3 880.2L127.3 880.2L127.3 880.2L127.4 880.1L127.4 880.1L127.4 880.1L127.4 880.1L127.4 880.1L127.5 880.1L127.5 880.1L127.5 880.0L127.5 880.0L127.5 880.0L127.5 880.0L127.6 880.0L127.6 880.0L127.6 880.0L127.6 880.0L127.6 879.9L127.6 879.9L127.7 879.9L127.7 879.9L127.7 879.9L127.7 879.9L127.7 879.9L127.7 879.9L127.7 879.8L127.7 879.8L127.8 879.8L127.8 879.8L127.8 879.8L127.8 879.8L127.8 879.8L127.8 879.8L127.8 879.7L127.8 879.7L127.8 879.7L127.8 879.7L127.8 879.7L127.9 879.7L127.9 879.7L127.9 879.7L127.9 879.6L127.9 879.6L127.9 879.6L127.9 879.6L127.9 879.6L127.9 879.6L127.9 879.6L127.9 879.6L127.9 879.6L127.9 879.5L127.9 879.5L128.0 879.5L128.0 879.5L128.0 879.5L128.0 879.5L128.0 879.5L128.0 879.5L128.0 879.5L128.0 879.5L128.0 879.4L128.0 879.4L128.0 879.4L128.0 879.4L128.0 879.4L128.0 879.4L128.0 879.4L128.0 879.4L128.0 879.4L128.0 879.4L128.0 879.4L128.1 879.3L128.1 879.3L128.1 879.3L128.1 879.3L128.1 879.3L128.1 879.3L128.1 879.3L128.1 879.3L128.1 879.3L128.1 879.3L128.1 879.3L128.1 879.3L128.1 879.3L128.1 879.2L128.1 879.2L128.1 879.2L128.1 879.2L128.1 879.2L128.1 879.2L128.1 879.2L128.1 879.2L128.1 879.2L128.2 879.2L128.2 879.2L128.2 879.2L128.2 879.2L128.2 879.2L128.2 879.2L128.2 879.2L128.2 879.2L128.2 879.1L128.2 879.1L128.2 879.1L128.2 879.1L128.2 879.1L128.2 879.1L128.2 879.1L128.2 879.1L128.2 879.1L128.2 879.1L128.2 879.1L128.3 879.1L128.3 879.1L128.3 879.1L128.3 879.1L128.3 879.1L128.3 879.1L128.3 879.1L128.3 879.1L128.3 879.1L128.3 879.1L128.3 879.1L128.3 879.1L128.3 879.1L128.4 879.1L128.4 879.1L128.4 879.1L128.4 879.1L128.4 879.1L128.4 879.1L128.4 879.1L128.4 879.1L128.4 879.1L128.4 879.1L128.4 879.1L128.5 879.1L128.5 879.1L128.5 879.1L128.5 879.1L128.5 879.1L128.5 879.1L128.5 879.1L128.5 879.1L128.5 879.1L128.5 879.1L128.5 879.1L128.6 879.1L128.6 879.1L128.6 879.1L128.6 879.1L128.6 879.1L128.6 879.1L128.6 879.1L128.6 879.1L128.6 879.1L128.6 879.1L128.6 879.1L128.6 879.1L128.6 879.1L128.7 879.1L128.7 879.1L128.7 879.1L128.7 879.1L128.7 879.1L128.7 879.1L128.7 879.1L128.7 879.1L128.7 879.1L128.7 879.1L128.7 879.1L128.7 879.1L128.7 879.1L128.7 879.1L128.7 879.1L128.7 879.1L128.7 879.1L128.7 879.1L128.7 879.1L128.7 879.1L128.7 879.1L128.7 879.1L128.7 879.1L128.7 879.1L128.7 879.1L128.7 879.1L128.7 879.1L128.7 879.1L128.7 879.2L128.7 879.2L128.7 879.2L128.7 879.2L128.7 879.2L128.7 879.2L128.7 879.2L128.7 879.2L128.7 879.2L128.7 879.2L128.7 879.2L128.7 879.2L128.6 879.2L128.6 879.2L128.6 879.2L128.6 879.2L128.6 879.2L128.6 879.2L128.6 879.2L128.6 879.2L128.6 879.2L128.6 879.2L128.6 879.2L128.6 879.2L128.6 879.2L128.6 879.2L128.6 879.2L128.6 879.2L128.5 879.2L128.5 879.2L128.5 879.2L128.5 879.2L128.5 879.3L128.5 879.3L128.5 879.3L128.5 879.3L128.5 879.3L128.5 879.3L128.5 879.3L128.4 879.3L128.4 879.3L128.4 879.3L128.4 879.3L128.4 879.3L128.4 879.3L128.4 879.3L128.4 879.3L128.4 879.3L128.3 879.3L128.3 879.3L128.3 879.3L128.3 879.3L128.3 879.3L128.3 879.3L128.3 879.3L128.3 879.3L128.2 879.4L128.2 879.4L128.2 879.4L128.2 879.4L128.2 879.4L128.2 879.4L128.2 879.4L128.1 879.4L128.1 879.4L128.1 879.4L128.1 879.4L128.1 879.4L128.1 879.4L128.1 879.4L128.0 879.4L128.0 879.4L128.0 879.4L128.0 879.4L128.0 879.4L128.0 879.4L128.0 879.4L127.9 879.5L127.9 879.5L127.9 879.5L127.9 879.5L127.9 879.5L127.9 879.5L127.8 879.5L127.8 879.5L127.8 879.5L127.8 879.5L127.8 879.5L127.7 879.5L127.7 879.5L127.7 879.5L127.7 879.5L127.7 879.5L127.7 879.6L127.6 879.6L127.6 879.6L127.6 879.6L127.6 879.6L127.6 879.6L127.5 879.6L127.5 879.6L127.5 879.6L127.5 879.6L127.5 879.6L127.4 879.7L127.4 879.7L127.4 879.7L127.4 879.7L127.4 879.7L127.3 879.7L127.3 879.7L127.3 879.7L127.3 879.8L127.2 879.8L127.2 879.8L127.2 879.8L127.1 879.8L127.1 879.8L127.1 879.8L127.0 879.9L127.0 879.9L126.9 879.9L126.9 879.9L126.9 879.9L126.8 879.9L126.8 880.0L126.7 880.0L126.6 880.0L126.6 880.0L126.5 880.0L126.5 880.0L126.4 880.1L126.4 880.1L126.3 880.1L126.2 880.1L126.2 880.1L126.1 880.2L126.0 880.2L125.9 880.2L125.9 880.2L125.8 880.2L125.7 880.3L125.7 880.3L125.6 880.3L125.5 880.3L125.4 880.3L125.3 880.4L125.2 880.4L125.2 880.4L125.1 880.5L125.0 880.5L124.9 880.5L124.8 880.6L124.7 880.6L124.6 880.7L124.5 880.7L124.4 880.7L124.3 880.8L124.2 880.8L124.1 880.9L124.1 880.9L124.0 881.0L123.9 881.0L123.7 881.1L123.6 881.2L123.5 881.2L123.4 881.3L123.3 881.3L123.2 881.4L123.1 881.4L123.0 881.5L122.9 881.6L122.8 881.6L122.7 881.7L122.6 881.7L122.5 881.8L122.3 881.9L122.2 881.9L122.1 882.0L122.0 882.1L121.9 882.1L121.8 882.2L121.7 882.2L121.5 882.3L121.4 882.4L121.3 882.4L121.2 882.5L121.1 882.5L120.9 882.6L120.8 882.7L120.7 882.7L120.6 882.8L120.5 882.8L120.3 882.9L120.2 882.9L120.1 883.0L120.0 883.0L119.8 883.1L119.7 883.1L119.6 883.2L119.5 883.2L119.3 883.3L119.2 883.3L119.1 883.4L118.9 883.4L118.8 883.4L118.6 883.5L118.5 883.5L118.3 883.6L118.1 883.6L118.0 883.7L117.8 883.7L117.6 883.7L117.4 883.8L117.2 883.8L117.0 883.9L116.8 883.9L116.6 884.0L116.4 884.0L116.2 884.1L115.9 884.1L115.7 884.2L115.5 884.2L115.3 884.3L115.1 884.3L114.8 884.3L114.6 884.4L114.4 884.4L114.2 884.5L113.9 884.5L113.7 884.6L113.5 884.6L113.2 884.6L113.0 884.7L112.8 884.7L112.6 884.8L112.4 884.8L112.1 884.8L111.9 884.9L111.7 884.9L111.5 885.0L111.3 885.0L111.1 885.0L110.9 885.1L110.7 885.1L110.5 885.1L110.3 885.1L110.1 885.2L109.9 885.2L109.8 885.2L109.6 885.2L109.4 885.3L109.3 885.3L109.1 885.3L109.0 885.3L108.8 885.3L108.7 885.4L108.6 885.4L108.4 885.4L108.3 885.4L108.2 885.4L108.0 885.4L107.9 885.4L107.8 885.4L107.6 885.4L107.5 885.4L107.4 885.4L107.2 885.4L107.1 885.4L107.0 885.4L106.9 885.4L106.8 885.4L106.6 885.4L106.5 885.3L106.4 885.3L106.3 885.3L106.2 885.3L106.0 885.3L105.9 885.3L105.8 885.3L105.7 885.2L105.6 885.2L105.5 885.2L105.4 885.2L105.3 885.2L105.2 885.2L105.0 885.1L104.9 885.1L104.8 885.1L104.7 885.1L104.6 885.1L104.5 885.0L104.4 885.0L104.3 885.0L104.2 885.0L104.1 885.0L104.0 884.9L103.9 884.9L103.8 884.9L103.7 884.9L103.6 884.9L103.5 884.8L103.4 884.8L103.3 884.8L103.2 884.8L103.1 884.7L103.0 884.7L102.9 884.7L102.8 884.7L102.7 884.6L102.6 884.6L102.5 884.6L102.5 884.6L102.4 884.5L102.3 884.5L102.2 884.5L102.1 884.4L102.0 884.4L101.9 884.4L101.8 884.3L101.7 884.3L101.6 884.3L101.5 884.2L101.4 884.2L101.3 884.2L101.3 884.1L101.2 884.1L101.1 884.1L101.0 884.0L100.9 884.0L100.8 883.9L100.7 883.9L100.6 883.9L100.5 883.8L100.5 883.8L100.4 883.8L100.3 883.7L100.2 883.7L100.1 883.6L100.0 883.6L99.9 883.6L99.8 883.5L99.8 883.5L99.7 883.4L99.6 883.4L99.5 883.4L99.4 883.3L99.3 883.3L99.3 883.3L99.2 883.2L99.1 883.2L99.0 883.1L98.9 883.1L98.9 883.1L98.8 883.0L98.7 883.0L98.6 883.0L98.5 882.9L98.5 882.9L98.4 882.9L98.3 882.8L98.2 882.8L98.2 882.8L98.1 882.7L98.0 882.7L97.9 882.7L97.9 882.7L97.8 882.6L97.7 882.6L97.6 882.6L97.6 882.5L97.5 882.5L97.4 882.5L97.3 882.5L97.3 882.4L97.2 882.4L97.1 882.4L97.0 882.3L97.0 882.3L96.9 882.3L96.8 882.3L96.8 882.2L96.7 882.2L96.6 882.2L96.6 882.1L96.5 882.1L96.4 882.1L96.4 882.1L96.3 882.0L96.2 882.0L96.2 882.0L96.1 882.0L96.0 881.9L96.0 881.9L95.9 881.9L95.8 881.9L95.8 881.8L95.7 881.8L95.6 881.8L95.6 881.8L95.5 881.7L95.4 881.7L95.4 881.7L95.3 881.7L95.3 881.7L95.2 881.6L95.1 881.6L95.1 881.6L95.0 881.6L95.0 881.6L94.9 881.5L94.8 881.5L94.8 881.5L94.7 881.5L94.7 881.5L94.6 881.5L94.5 881.4L94.5 881.4L94.4 881.4L94.4 881.4L94.3 881.4L94.3 881.4L94.2 881.4L94.1 881.3L94.1 881.3L94.0 881.3L94.0 881.3L93.9 881.3L93.9 881.3L93.8 881.3L93.8 881.2L93.7 881.2L93.7 881.2L93.6 881.2L93.6 881.2L93.5 881.2L93.5 881.2L93.4 881.2L93.4 881.2L93.3 881.1L93.3 881.1L93.2 881.1L93.2 881.1L93.1 881.1" fill="none" stroke="#77AC30" stroke-width="1.50" stroke-dasharray="9 6" stroke-linejoin="round"/>
<g fill="none" stroke="#3a86c4" stroke-width="1.35"><circle cx="173.7" cy="974.5" r="6.4"/><circle cx="196.6" cy="994.9" r="6.4"/><circle cx="256.1" cy="1043.7" r="6.4"/><circle cx="313.8" cy="1092.5" r="6.4"/><circle cx="309.1" cy="1088.4" r="6.4"/><circle cx="443.1" cy="1196.5" r="6.4"/><circle cx="542.9" cy="1273.8" r="6.4"/><circle cx="659.1" cy="1351.9" r="6.4"/><circle cx="749.0" cy="1402.5" r="6.4"/><circle cx="842.2" cy="1448.8" r="6.4"/><circle cx="896.6" cy="1473.1" r="6.4"/><circle cx="922.8" cy="1482.9" r="6.4"/><circle cx="951.9" cy="1495.8" r="6.4"/><circle cx="957.5" cy="1498.0" r="6.4"/><circle cx="959.4" cy="1500.1" r="6.4"/><circle cx="960.3" cy="1500.5" r="6.4"/><circle cx="961.2" cy="1500.7" r="6.4"/><circle cx="961.2" cy="1501.1" r="6.4"/><circle cx="961.7" cy="1501.1" r="6.4"/><circle cx="964.1" cy="1500.9" r="6.4"/><circle cx="964.1" cy="1500.9" r="6.4"/><circle cx="964.1" cy="1501.1" r="6.4"/><circle cx="962.6" cy="1501.1" r="6.4"/><circle cx="961.2" cy="1500.9" r="6.4"/><circle cx="961.2" cy="1500.9" r="6.4"/><circle cx="961.2" cy="1500.1" r="6.4"/><circle cx="960.8" cy="1499.2" r="6.4"/><circle cx="958.4" cy="1497.6" r="6.4"/><circle cx="954.7" cy="1496.8" r="6.4"/><circle cx="953.3" cy="1496.4" r="6.4"/><circle cx="934.1" cy="1493.5" r="6.4"/><circle cx="888.6" cy="1482.3" r="6.4"/><circle cx="772.0" cy="1439.7" r="6.4"/><circle cx="756.0" cy="1431.9" r="6.4"/><circle cx="514.3" cy="1271.6" r="6.4"/><circle cx="572.9" cy="1318.7" r="6.4"/><circle cx="500.2" cy="1257.9" r="6.4"/><circle cx="370.9" cy="1148.4" r="6.4"/><circle cx="323.1" cy="1107.8" r="6.4"/><circle cx="278.2" cy="1066.6" r="6.4"/><circle cx="233.7" cy="1025.5" r="6.4"/><circle cx="255.2" cy="1044.3" r="6.4"/><circle cx="167.1" cy="964.8" r="6.4"/><circle cx="155.9" cy="955.0" r="6.4"/><circle cx="127.3" cy="929.9" r="6.4"/><circle cx="123.6" cy="925.6" r="6.4"/></g>
<g fill="none" stroke="#dc6a3e" stroke-width="1.35"><circle cx="117.0" cy="900.7" r="6.4"/><circle cx="130.6" cy="908.9" r="6.4"/><circle cx="149.3" cy="920.1" r="6.4"/><circle cx="158.2" cy="928.9" r="6.4"/><circle cx="191.0" cy="948.4" r="6.4"/><circle cx="247.2" cy="986.4" r="6.4"/><circle cx="281.0" cy="1007.0" r="6.4"/><circle cx="339.5" cy="1039.4" r="6.4"/><circle cx="364.4" cy="1050.8" r="6.4"/><circle cx="423.9" cy="1071.9" r="6.4"/><circle cx="471.7" cy="1081.6" r="6.4"/><circle cx="490.4" cy="1085.9" r="6.4"/><circle cx="503.0" cy="1087.0" r="6.4"/><circle cx="514.8" cy="1088.4" r="6.4"/><circle cx="524.1" cy="1090.0" r="6.4"/><circle cx="533.5" cy="1091.0" r="6.4"/><circle cx="535.4" cy="1091.6" r="6.4"/><circle cx="536.8" cy="1092.1" r="6.4"/><circle cx="538.2" cy="1092.5" r="6.4"/><circle cx="539.1" cy="1092.5" r="6.4"/><circle cx="539.6" cy="1092.7" r="6.4"/><circle cx="539.6" cy="1092.7" r="6.4"/><circle cx="539.1" cy="1092.9" r="6.4"/><circle cx="537.7" cy="1092.9" r="6.4"/><circle cx="536.8" cy="1092.9" r="6.4"/><circle cx="535.4" cy="1092.9" r="6.4"/><circle cx="535.4" cy="1092.9" r="6.4"/><circle cx="530.7" cy="1092.9" r="6.4"/><circle cx="526.0" cy="1093.1" r="6.4"/><circle cx="523.7" cy="1093.1" r="6.4"/><circle cx="520.9" cy="1093.3" r="6.4"/><circle cx="490.9" cy="1094.7" r="6.4"/><circle cx="455.7" cy="1091.4" r="6.4"/><circle cx="421.1" cy="1084.9" r="6.4"/><circle cx="384.5" cy="1073.7" r="6.4"/><circle cx="326.0" cy="1047.6" r="6.4"/><circle cx="290.3" cy="1025.5" r="6.4"/><circle cx="254.3" cy="1002.1" r="6.4"/><circle cx="233.7" cy="988.4" r="6.4"/><circle cx="182.1" cy="951.3" r="6.4"/><circle cx="157.3" cy="931.7" r="6.4"/><circle cx="139.5" cy="919.1" r="6.4"/><circle cx="126.4" cy="910.3" r="6.4"/><circle cx="121.2" cy="906.4" r="6.4"/><circle cx="110.9" cy="901.7" r="6.4"/><circle cx="107.2" cy="898.7" r="6.4"/></g>
<g fill="none" stroke="#efbf4a" stroke-width="1.35"><circle cx="105.8" cy="887.0" r="6.4"/><circle cx="109.5" cy="890.9" r="6.4"/><circle cx="117.0" cy="897.6" r="6.4"/><circle cx="124.5" cy="898.7" r="6.4"/><circle cx="138.6" cy="905.4" r="6.4"/><circle cx="163.9" cy="918.2" r="6.4"/><circle cx="177.9" cy="925.0" r="6.4"/><circle cx="210.2" cy="936.6" r="6.4"/><circle cx="235.5" cy="940.7" r="6.4"/><circle cx="249.6" cy="941.5" r="6.4"/><circle cx="269.3" cy="941.5" r="6.4"/><circle cx="284.7" cy="940.7" r="6.4"/><circle cx="291.8" cy="940.1" r="6.4"/><circle cx="294.1" cy="940.1" r="6.4"/><circle cx="297.4" cy="939.9" r="6.4"/><circle cx="298.3" cy="939.9" r="6.4"/><circle cx="300.2" cy="939.9" r="6.4"/><circle cx="302.1" cy="939.9" r="6.4"/><circle cx="303.5" cy="939.9" r="6.4"/><circle cx="304.4" cy="939.9" r="6.4"/><circle cx="304.4" cy="939.9" r="6.4"/><circle cx="304.4" cy="940.1" r="6.4"/><circle cx="303.5" cy="940.1" r="6.4"/><circle cx="302.5" cy="940.3" r="6.4"/><circle cx="302.1" cy="940.5" r="6.4"/><circle cx="301.6" cy="940.7" r="6.4"/><circle cx="300.7" cy="941.1" r="6.4"/><circle cx="299.7" cy="941.5" r="6.4"/><circle cx="299.3" cy="942.5" r="6.4"/><circle cx="281.9" cy="945.6" r="6.4"/><circle cx="274.4" cy="947.4" r="6.4"/><circle cx="260.4" cy="949.5" r="6.4"/><circle cx="246.8" cy="948.4" r="6.4"/><circle cx="235.5" cy="947.4" r="6.4"/><circle cx="215.9" cy="943.5" r="6.4"/><circle cx="177.9" cy="929.9" r="6.4"/><circle cx="155.9" cy="918.2" r="6.4"/><circle cx="138.6" cy="908.5" r="6.4"/><circle cx="138.6" cy="906.4" r="6.4"/><circle cx="130.1" cy="902.5" r="6.4"/><circle cx="121.7" cy="899.7" r="6.4"/><circle cx="110.9" cy="897.6" r="6.4"/><circle cx="109.0" cy="894.2" r="6.4"/><circle cx="106.7" cy="890.5" r="6.4"/><circle cx="104.4" cy="886.4" r="6.4"/><circle cx="103.4" cy="883.0" r="6.4"/></g>
<g fill="none" stroke="#8f4f9c" stroke-width="1.35"><circle cx="98.3" cy="885.0" r="6.4"/><circle cx="102.0" cy="885.8" r="6.4"/><circle cx="104.4" cy="889.9" r="6.4"/><circle cx="107.6" cy="890.7" r="6.4"/><circle cx="114.2" cy="893.8" r="6.4"/><circle cx="124.5" cy="898.7" r="6.4"/><circle cx="132.0" cy="899.5" r="6.4"/><circle cx="145.1" cy="901.7" r="6.4"/><circle cx="154.5" cy="900.7" r="6.4"/><circle cx="157.3" cy="900.3" r="6.4"/><circle cx="167.6" cy="897.6" r="6.4"/><circle cx="169.9" cy="896.2" r="6.4"/><circle cx="177.0" cy="893.8" r="6.4"/><circle cx="179.3" cy="893.4" r="6.4"/><circle cx="179.8" cy="892.9" r="6.4"/><circle cx="180.7" cy="891.7" r="6.4"/><circle cx="181.7" cy="891.5" r="6.4"/><circle cx="181.7" cy="891.5" r="6.4"/><circle cx="181.7" cy="891.3" r="6.4"/><circle cx="181.7" cy="891.3" r="6.4"/><circle cx="181.7" cy="891.3" r="6.4"/><circle cx="181.7" cy="891.3" r="6.4"/><circle cx="181.7" cy="891.3" r="6.4"/><circle cx="182.1" cy="891.5" r="6.4"/><circle cx="181.7" cy="891.5" r="6.4"/><circle cx="181.7" cy="891.5" r="6.4"/><circle cx="181.2" cy="891.7" r="6.4"/><circle cx="180.3" cy="891.9" r="6.4"/><circle cx="180.3" cy="892.1" r="6.4"/><circle cx="178.4" cy="892.5" r="6.4"/><circle cx="172.3" cy="892.7" r="6.4"/><circle cx="157.3" cy="899.7" r="6.4"/><circle cx="158.2" cy="900.7" r="6.4"/><circle cx="153.5" cy="901.7" r="6.4"/><circle cx="139.5" cy="900.7" r="6.4"/><circle cx="131.1" cy="897.6" r="6.4"/><circle cx="127.3" cy="897.0" r="6.4"/><circle cx="113.7" cy="891.7" r="6.4"/><circle cx="108.6" cy="890.5" r="6.4"/><circle cx="104.8" cy="888.9" r="6.4"/><circle cx="101.1" cy="887.4" r="6.4"/><circle cx="99.7" cy="886.4" r="6.4"/><circle cx="98.3" cy="884.8" r="6.4"/><circle cx="97.3" cy="884.0" r="6.4"/><circle cx="96.4" cy="882.7" r="6.4"/><circle cx="95.9" cy="881.9" r="6.4"/></g>
<g fill="none" stroke="#8ab856" stroke-width="1.35"><circle cx="91.2" cy="880.9" r="6.4"/><circle cx="93.1" cy="880.5" r="6.4"/><circle cx="95.0" cy="880.9" r="6.4"/><circle cx="96.4" cy="881.5" r="6.4"/><circle cx="98.7" cy="881.9" r="6.4"/><circle cx="102.0" cy="883.0" r="6.4"/><circle cx="107.6" cy="883.6" r="6.4"/><circle cx="112.3" cy="884.0" r="6.4"/><circle cx="114.2" cy="883.4" r="6.4"/><circle cx="117.0" cy="882.3" r="6.4"/><circle cx="122.6" cy="880.9" r="6.4"/><circle cx="125.4" cy="880.5" r="6.4"/><circle cx="126.4" cy="879.9" r="6.4"/><circle cx="126.8" cy="879.3" r="6.4"/><circle cx="127.8" cy="878.7" r="6.4"/><circle cx="129.2" cy="877.9" r="6.4"/><circle cx="130.1" cy="877.4" r="6.4"/><circle cx="130.1" cy="877.2" r="6.4"/><circle cx="130.6" cy="877.0" r="6.4"/><circle cx="130.6" cy="877.0" r="6.4"/><circle cx="130.6" cy="877.0" r="6.4"/><circle cx="130.6" cy="877.0" r="6.4"/><circle cx="130.6" cy="877.2" r="6.4"/><circle cx="130.1" cy="877.2" r="6.4"/><circle cx="130.1" cy="877.4" r="6.4"/><circle cx="130.1" cy="877.6" r="6.4"/><circle cx="129.7" cy="877.9" r="6.4"/><circle cx="129.2" cy="878.3" r="6.4"/><circle cx="128.7" cy="878.7" r="6.4"/><circle cx="128.7" cy="879.3" r="6.4"/><circle cx="127.8" cy="879.1" r="6.4"/><circle cx="125.9" cy="880.9" r="6.4"/><circle cx="124.5" cy="881.5" r="6.4"/><circle cx="122.6" cy="882.3" r="6.4"/><circle cx="120.3" cy="882.7" r="6.4"/><circle cx="118.4" cy="883.0" r="6.4"/><circle cx="111.9" cy="883.6" r="6.4"/><circle cx="111.9" cy="885.0" r="6.4"/><circle cx="110.4" cy="883.6" r="6.4"/><circle cx="109.0" cy="884.4" r="6.4"/><circle cx="107.2" cy="884.0" r="6.4"/><circle cx="104.4" cy="883.2" r="6.4"/><circle cx="100.6" cy="881.9" r="6.4"/><circle cx="97.3" cy="881.5" r="6.4"/><circle cx="95.0" cy="881.3" r="6.4"/><circle cx="92.6" cy="880.9" r="6.4"/></g>
<rect x="89.8" y="818.8" width="141.9" height="151.6" fill="none" stroke="#000" stroke-width="3.4"/>
<path d="M114.3 816L929 737.1M94.3 973.6L898 1424" stroke="#9a9a9a" stroke-width="2.2" stroke-dasharray="8 6" fill="none"/>
<rect x="929.2" y="736.0" width="747.6" height="668.6" fill="#fff"/>
<clipPath id="ci"><rect x="929.2" y="736.0" width="747.6" height="668.6"/></clipPath>
<g clip-path="url(#ci)">
<path d="M1139.0 1190.0L1250.0 1296.0L1350.0 1404.6" fill="none" stroke="#0072BD" stroke-width="1.5" stroke-dasharray="8 5"/>
<path d="M1139.0 1190.0L1255.0 1298.0L1366.0 1404.6" fill="none" stroke="#0072BD" stroke-width="1.5" stroke-dasharray="8 5"/>
<path d="M1073.3 1055.6L1077.4 1058.6L1081.6 1061.6L1085.8 1064.5L1090.0 1067.5L1094.2 1070.4L1098.4 1073.4L1102.6 1076.3L1106.8 1079.3L1111.1 1082.2L1115.3 1085.1L1119.5 1088.1L1123.7 1091.0L1127.9 1093.9L1132.1 1096.8L1136.3 1099.8L1140.6 1102.7L1144.8 1105.6L1149.0 1108.5L1153.2 1111.4L1157.5 1114.3L1161.7 1117.2L1165.9 1120.2L1170.2 1123.1L1174.4 1126.0L1178.6 1128.9L1182.9 1131.8L1187.1 1134.7L1191.3 1137.6L1195.6 1140.5L1199.8 1143.3L1204.1 1146.2L1208.3 1149.1L1212.5 1152.0L1216.8 1154.9L1221.0 1157.8L1225.3 1160.7L1229.5 1163.6L1233.8 1166.5L1238.0 1169.3L1242.3 1172.2L1246.5 1175.1L1250.7 1178.0L1255.0 1180.9L1259.2 1183.8L1263.5 1186.7L1267.7 1189.5L1272.0 1192.4L1276.2 1195.3L1280.5 1198.2L1284.7 1201.1L1289.0 1203.9L1293.2 1206.8L1297.5 1209.7L1301.7 1212.6L1306.0 1215.5L1310.2 1218.4L1314.5 1221.2L1318.7 1224.1L1323.0 1227.0L1327.2 1229.9L1331.4 1232.8L1335.7 1235.7L1339.9 1238.6L1344.2 1241.5L1348.4 1244.4L1352.7 1247.2L1356.9 1250.1L1361.1 1253.0L1365.4 1255.9L1369.6 1258.8L1373.8 1261.7L1378.1 1264.6L1382.3 1267.5L1386.5 1270.4L1390.8 1273.3L1395.0 1276.3L1399.2 1279.2L1403.5 1282.1L1407.7 1285.0L1411.9 1287.9L1416.1 1290.8L1420.3 1293.8L1424.6 1296.7L1428.8 1299.6L1433.0 1302.5L1437.2 1305.5L1441.4 1308.4L1445.6 1311.3L1449.8 1314.3L1454.0 1317.2L1458.2 1320.2L1462.4 1323.1L1466.6 1326.1L1470.8 1329.0L1475.0 1332.0L1479.2 1334.9L1483.4 1337.9L1487.6 1340.9L1491.8 1343.9L1496.0 1346.8L1500.1 1349.8L1504.3 1352.8L1508.5 1355.8L1512.7 1358.8L1516.8 1361.8L1521.0 1364.8L1525.2 1367.8L1529.3 1370.8L1533.5 1373.8L1537.6 1376.8L1541.8 1379.8L1545.9 1382.8L1550.1 1385.9L1554.2 1388.9L1558.3 1391.9L1562.5 1395.0L1566.6 1398.0L1570.7 1401.1L1574.8 1404.2" fill="none" stroke="#D95319" stroke-width="1.5" stroke-dasharray="8 5"/>
<path d="M1065.6 1052.2L1069.4 1055.2L1073.3 1058.2L1077.2 1061.1L1081.0 1064.1L1084.9 1067.0L1088.8 1070.0L1092.7 1072.9L1096.5 1075.8L1100.4 1078.8L1104.3 1081.7L1108.2 1084.6L1112.0 1087.5L1115.9 1090.4L1119.8 1093.3L1123.7 1096.1L1127.6 1099.0L1131.4 1101.9L1135.3 1104.7L1139.2 1107.6L1143.1 1110.5L1147.0 1113.3L1150.9 1116.1L1154.7 1119.0L1158.6 1121.8L1162.5 1124.7L1166.4 1127.5L1170.3 1130.3L1174.1 1133.2L1178.0 1136.0L1181.9 1138.8L1185.8 1141.6L1189.7 1144.5L1193.5 1147.3L1197.4 1150.1L1201.3 1152.9L1205.2 1155.7L1209.1 1158.6L1212.9 1161.4L1216.8 1164.2L1220.7 1167.0L1224.5 1169.9L1228.4 1172.7L1232.3 1175.5L1236.2 1178.4L1240.0 1181.2L1243.9 1184.0L1247.8 1186.9L1251.6 1189.7L1255.5 1192.6L1259.3 1195.4L1263.2 1198.3L1267.1 1201.1L1270.9 1204.0L1274.8 1206.9L1278.6 1209.8L1282.5 1212.6L1286.3 1215.5L1290.2 1218.4L1294.0 1221.3L1297.9 1224.3L1301.7 1227.2L1305.5 1230.1L1309.4 1233.0L1313.2 1236.0L1317.0 1238.9L1320.9 1241.9L1324.7 1244.9L1328.5 1247.8L1332.3 1250.8L1336.1 1253.8L1340.0 1256.8L1343.8 1259.8L1347.6 1262.8L1351.4 1265.9L1355.2 1268.9L1359.0 1271.9L1362.8 1275.0L1366.6 1278.0L1370.4 1281.0L1374.1 1284.1L1377.9 1287.1L1381.7 1290.2L1385.5 1293.2L1389.2 1296.3L1393.0 1299.3L1396.8 1302.4L1400.5 1305.4L1404.3 1308.5L1408.0 1311.5L1411.8 1314.6L1415.5 1317.6L1419.3 1320.7L1423.0 1323.7L1426.7 1326.8L1430.5 1329.8L1434.2 1332.8L1437.9 1335.9L1441.6 1338.9L1445.3 1341.9L1449.0 1345.0L1452.7 1348.0L1456.4 1351.0L1460.1 1354.1L1463.8 1357.1L1467.5 1360.2L1471.2 1363.3L1474.9 1366.3L1478.5 1369.4L1482.2 1372.5L1485.8 1375.6L1489.5 1378.7L1493.1 1381.8L1496.8 1385.0L1500.4 1388.1L1504.0 1391.3L1507.7 1394.4L1511.3 1397.6L1514.9 1400.8L1518.5 1404.0" fill="none" stroke="#D95319" stroke-width="1.5" stroke-dasharray="8 5"/>
<path d="M995.2 975.1L1000.8 978.1L1006.4 981.1L1011.9 984.0L1017.5 986.9L1023.1 989.8L1028.6 992.7L1034.2 995.5L1039.7 998.4L1045.2 1001.2L1050.7 1004.0L1056.3 1006.9L1061.8 1009.8L1067.3 1012.7L1072.8 1015.6L1078.3 1018.5L1083.8 1021.5L1089.3 1024.5L1094.8 1027.6L1100.3 1030.7L1105.8 1033.8L1111.2 1037.0L1116.7 1040.3L1122.2 1043.5L1127.7 1046.9L1133.1 1050.2L1138.6 1053.6L1144.1 1056.9L1149.6 1060.3L1155.0 1063.7L1160.5 1067.1L1166.0 1070.5L1171.4 1073.9L1176.9 1077.3L1182.4 1080.6L1187.9 1083.9L1193.3 1087.2L1198.8 1090.5L1204.3 1093.7L1209.8 1096.9L1215.2 1100.1L1220.7 1103.2L1226.2 1106.3L1231.7 1109.3L1237.2 1112.3L1242.7 1115.3L1248.2 1118.3L1253.7 1121.2L1259.2 1124.1L1264.7 1127.0L1270.2 1129.9L1275.8 1132.7L1281.3 1135.5L1286.8 1138.3L1292.3 1141.1L1297.9 1143.9L1303.4 1146.6L1309.0 1149.4L1314.6 1152.1L1320.1 1154.8L1325.7 1157.6L1331.3 1160.3L1336.9 1163.0L1342.5 1165.7L1348.1 1168.4L1353.7 1171.1L1359.3 1173.8L1365.0 1176.5L1370.6 1179.2L1376.2 1182.0L1381.9 1184.7L1387.6 1187.4L1393.3 1190.2L1399.0 1193.0L1404.7 1195.8L1410.4 1198.6L1416.1 1201.4L1421.8 1204.2L1427.6 1207.1L1433.3 1209.9L1439.1 1212.8L1444.9 1215.6L1450.7 1218.5L1456.5 1221.3L1462.3 1224.0L1468.1 1226.7L1474.0 1229.3L1479.9 1231.9L1485.7 1234.3L1491.6 1236.7L1497.5 1238.9L1503.5 1241.1L1509.4 1243.1L1515.3 1245.1L1521.3 1247.0L1527.3 1248.7L1533.3 1250.4L1539.3 1252.0L1545.3 1253.5L1551.4 1254.9L1557.4 1256.2L1563.5 1257.4L1569.6 1258.5L1575.7 1259.5L1581.9 1260.4L1588.0 1261.3L1594.2 1262.0L1600.4 1262.7L1606.6 1263.4L1612.8 1263.9L1619.1 1264.4L1625.4 1264.8L1631.6 1265.2L1638.0 1265.5L1644.3 1265.8L1650.6 1266.0L1657.0 1266.2L1663.4 1266.3L1669.8 1266.4L1676.3 1266.5" fill="none" stroke="#EDB120" stroke-width="1.5" stroke-dasharray="8 5"/>
<path d="M994.5 977.2L1000.2 980.2L1006.0 983.2L1011.8 986.2L1017.5 989.3L1023.3 992.3L1029.0 995.4L1034.7 998.5L1040.3 1001.6L1046.0 1004.7L1051.7 1007.9L1057.3 1011.0L1062.9 1014.2L1068.5 1017.4L1074.1 1020.6L1079.7 1023.8L1085.3 1027.1L1090.9 1030.3L1096.4 1033.6L1101.9 1036.8L1107.5 1040.1L1113.0 1043.4L1118.5 1046.7L1124.0 1050.0L1129.5 1053.3L1135.0 1056.7L1140.5 1060.0L1146.0 1063.4L1151.4 1066.7L1156.9 1070.1L1162.3 1073.4L1167.8 1076.8L1173.2 1080.2L1178.7 1083.6L1184.1 1087.0L1189.5 1090.4L1195.0 1093.8L1200.4 1097.2L1205.8 1100.6L1211.2 1104.0L1216.7 1107.4L1222.1 1110.8L1227.5 1114.2L1232.9 1117.6L1238.3 1121.1L1243.7 1124.5L1249.2 1127.9L1254.6 1131.3L1260.0 1134.7L1265.4 1138.1L1270.9 1141.5L1276.3 1144.9L1281.7 1148.3L1287.2 1151.7L1292.6 1155.1L1298.1 1158.5L1303.5 1161.9L1309.0 1165.2L1314.4 1168.6L1319.9 1172.0L1325.4 1175.3L1330.9 1178.7L1336.4 1182.0L1341.9 1185.3L1347.4 1188.7L1352.9 1192.0L1358.4 1195.3L1364.0 1198.5L1369.5 1201.8L1375.1 1205.1L1380.7 1208.3L1386.3 1211.6L1391.8 1214.8L1397.5 1218.0L1403.1 1221.2L1408.7 1224.4L1414.4 1227.6L1420.0 1230.7L1425.7 1233.9L1431.4 1236.9L1437.1 1240.0L1442.8 1243.1L1448.6 1246.0L1454.3 1249.0L1460.1 1251.9L1465.9 1254.8L1471.7 1257.6L1477.6 1260.4L1483.4 1263.1L1489.3 1265.7L1495.2 1268.3L1501.1 1270.8L1507.0 1273.2L1513.0 1275.6L1518.9 1277.8L1524.9 1280.0L1530.9 1282.1L1537.0 1284.2L1543.0 1286.1L1549.1 1287.9L1555.2 1289.6L1561.4 1291.3L1567.5 1292.8L1573.7 1294.2L1579.9 1295.5L1586.2 1296.7L1592.4 1297.8L1598.7 1298.8L1605.1 1299.7L1611.4 1300.5L1617.8 1301.2L1624.2 1301.8L1630.6 1302.3L1637.1 1302.7L1643.6 1303.1L1650.1 1303.3L1656.7 1303.5L1663.2 1303.6L1669.9 1303.6L1676.5 1303.5" fill="none" stroke="#EDB120" stroke-width="1.5" stroke-dasharray="8 5"/>
<path d="M960.4 950.0L963.9 951.0L967.4 952.0L970.9 953.1L974.3 954.2L977.8 955.4L981.3 956.6L984.7 957.8L988.1 959.0L991.6 960.3L995.0 961.6L998.4 962.9L1001.8 964.3L1005.3 965.6L1008.7 967.1L1012.1 968.5L1015.5 969.9L1018.9 971.4L1022.3 972.9L1025.7 974.5L1029.0 976.0L1032.4 977.6L1035.8 979.2L1039.2 980.8L1042.6 982.4L1045.9 984.1L1049.3 985.7L1052.7 987.4L1056.1 989.1L1059.5 990.8L1062.8 992.6L1066.2 994.3L1069.6 996.1L1073.0 997.8L1076.3 999.6L1079.7 1001.4L1083.1 1003.2L1086.5 1005.0L1089.9 1006.8L1093.3 1008.6L1096.7 1010.4L1100.1 1012.1L1103.5 1013.9L1106.9 1015.6L1110.3 1017.3L1113.7 1018.9L1117.2 1020.5L1120.6 1022.0L1124.0 1023.5L1127.5 1024.9L1130.9 1026.2L1134.4 1027.4L1137.9 1028.6L1141.3 1029.7L1144.8 1030.7L1148.3 1031.6L1151.8 1032.4L1155.3 1033.2L1158.8 1033.9L1162.4 1034.5L1165.9 1035.0L1169.4 1035.5L1173.0 1035.9L1176.6 1036.2L1180.1 1036.5L1183.7 1036.7L1187.3 1036.8L1190.9 1036.8L1194.6 1036.8L1198.2 1036.7L1201.8 1036.6L1205.5 1036.4L1209.2 1036.1L1212.8 1035.8L1216.5 1035.4L1220.2 1035.0L1223.8 1034.5L1227.5 1033.9L1231.2 1033.3L1234.9 1032.6L1238.5 1031.9L1242.2 1031.1L1245.9 1030.2L1249.5 1029.3L1253.2 1028.3L1256.8 1027.3L1260.5 1026.2L1264.1 1025.1L1267.8 1023.9L1271.4 1022.7L1275.0 1021.4L1278.6 1020.0L1282.2 1018.6L1285.7 1017.2L1289.3 1015.7L1292.8 1014.2L1296.3 1012.7L1299.8 1011.2L1303.3 1009.6L1306.8 1008.0L1310.2 1006.4L1313.6 1004.9L1317.0 1003.3L1320.4 1001.7L1323.8 1000.2L1327.2 998.6L1330.5 997.1L1333.8 995.6L1337.2 994.1L1340.5 992.7L1343.9 991.2L1347.2 989.8L1350.6 988.5L1354.0 987.1L1357.3 985.9L1360.7 984.6L1364.2 983.4L1367.6 982.3L1371.1 981.2L1374.6 980.1" fill="none" stroke="#7E2F8E" stroke-width="1.5" stroke-dasharray="8 5"/>
<path d="M960.5 951.2L964.1 951.9L967.6 952.6L971.2 953.3L974.7 954.2L978.3 955.1L981.8 956.1L985.3 957.2L988.8 958.3L992.3 959.6L995.8 960.8L999.3 962.1L1002.8 963.5L1006.2 965.0L1009.7 966.4L1013.2 968.0L1016.6 969.6L1020.1 971.2L1023.5 972.9L1027.0 974.6L1030.4 976.3L1033.8 978.1L1037.3 979.9L1040.7 981.7L1044.1 983.6L1047.6 985.5L1051.0 987.4L1054.4 989.3L1057.9 991.3L1061.3 993.2L1064.7 995.2L1068.1 997.2L1071.5 999.2L1075.0 1001.1L1078.4 1003.1L1081.8 1005.1L1085.2 1007.1L1088.6 1009.1L1092.1 1011.1L1095.5 1013.0L1098.9 1015.0L1102.4 1016.9L1105.8 1018.8L1109.2 1020.7L1112.7 1022.5L1116.1 1024.3L1119.6 1026.1L1123.0 1027.9L1126.5 1029.6L1129.9 1031.2L1133.4 1032.8L1136.9 1034.4L1140.3 1035.9L1143.8 1037.4L1147.3 1038.8L1150.8 1040.1L1154.3 1041.4L1157.8 1042.6L1161.3 1043.7L1164.9 1044.7L1168.4 1045.7L1171.9 1046.6L1175.5 1047.4L1179.0 1048.2L1182.6 1048.8L1186.2 1049.4L1189.8 1049.8L1193.4 1050.2L1197.0 1050.4L1200.6 1050.6L1204.2 1050.6L1207.8 1050.5L1211.5 1050.3L1215.1 1050.1L1218.8 1049.7L1222.5 1049.2L1226.1 1048.6L1229.8 1048.0L1233.5 1047.2L1237.2 1046.4L1240.8 1045.5L1244.5 1044.5L1248.2 1043.4L1251.8 1042.2L1255.5 1041.0L1259.1 1039.8L1262.7 1038.4L1266.4 1037.0L1270.0 1035.6L1273.5 1034.1L1277.1 1032.5L1280.7 1030.9L1284.2 1029.3L1287.7 1027.6L1291.2 1025.8L1294.7 1024.1L1298.1 1022.3L1301.6 1020.5L1305.0 1018.6L1308.3 1016.8L1311.7 1014.9L1315.0 1013.0L1318.3 1011.1L1321.6 1009.2L1324.9 1007.3L1328.1 1005.4L1331.4 1003.5L1334.7 1001.5L1337.9 999.6L1341.2 997.8L1344.4 995.9L1347.7 994.0L1351.0 992.2L1354.3 990.4L1357.6 988.6L1360.9 986.8L1364.3 985.1L1367.7 983.4L1371.1 981.7L1374.5 980.1" fill="none" stroke="#7E2F8E" stroke-width="1.5" stroke-dasharray="8 5"/>
<path d="M960.0 944.7L961.4 945.1L962.8 945.6L964.2 946.1L965.6 946.6L967.0 947.1L968.5 947.6L969.9 948.1L971.3 948.6L972.7 949.2L974.2 949.7L975.6 950.2L977.0 950.8L978.5 951.3L979.9 951.9L981.3 952.5L982.8 953.0L984.2 953.6L985.7 954.1L987.1 954.7L988.6 955.2L990.0 955.8L991.5 956.3L992.9 956.9L994.4 957.4L995.8 957.9L997.3 958.5L998.8 959.0L1000.2 959.5L1001.7 960.0L1003.1 960.5L1004.6 961.0L1006.1 961.4L1007.5 961.9L1009.0 962.3L1010.4 962.8L1011.9 963.2L1013.4 963.6L1014.8 964.0L1016.3 964.3L1017.8 964.7L1019.2 965.0L1020.7 965.3L1022.1 965.6L1023.6 965.9L1025.1 966.1L1026.5 966.3L1028.0 966.5L1029.4 966.7L1030.9 966.9L1032.3 967.0L1033.8 967.1L1035.2 967.2L1036.7 967.2L1038.1 967.3L1039.6 967.2L1041.0 967.2L1042.5 967.1L1043.9 967.0L1045.4 966.9L1046.8 966.8L1048.2 966.6L1049.7 966.4L1051.1 966.1L1052.5 965.9L1054.0 965.6L1055.4 965.3L1056.8 964.9L1058.2 964.6L1059.6 964.2L1061.1 963.8L1062.5 963.3L1063.9 962.9L1065.3 962.4L1066.7 961.9L1068.1 961.3L1069.5 960.8L1070.9 960.2L1072.3 959.6L1073.6 959.0L1075.0 958.3L1076.4 957.7L1077.8 957.0L1079.1 956.3L1080.5 955.6L1081.9 954.8L1083.2 954.1L1084.6 953.3L1085.9 952.5L1087.3 951.7L1088.6 950.9L1089.9 950.1L1091.2 949.3L1092.6 948.5L1093.9 947.6L1095.2 946.8L1096.5 945.9L1097.8 945.1L1099.1 944.2L1100.4 943.3L1101.7 942.4L1103.0 941.6L1104.2 940.7L1105.5 939.8L1106.8 938.9L1108.0 938.0L1109.3 937.1L1110.5 936.3L1111.8 935.4L1113.0 934.5L1114.2 933.6L1115.4 932.8L1116.6 931.9L1117.8 931.1L1119.0 930.2L1120.2 929.4L1121.4 928.6L1122.6 927.7L1123.8 926.9L1124.9 926.1" fill="none" stroke="#77AC30" stroke-width="1.5" stroke-dasharray="8 5"/>
<path d="M1183.6 1223.0L1230.0 1267.0L1250.0 1284.0L1320.0 1344.0L1386.0 1404.6" fill="none" stroke="#0072BD" stroke-width="1.6"/>
<path d="M1183.6 1223.0L1230.0 1268.5L1250.0 1289.0L1310.0 1350.0L1360.0 1404.6" fill="none" stroke="#0072BD" stroke-width="1.6"/>
<path d="M1061.9 1044.3L1066.4 1047.3L1070.9 1050.4L1075.4 1053.5L1079.9 1056.5L1084.5 1059.5L1089.0 1062.6L1093.5 1065.6L1098.0 1068.6L1102.6 1071.7L1107.1 1074.7L1111.6 1077.7L1116.2 1080.7L1120.7 1083.7L1125.2 1086.7L1129.8 1089.7L1134.3 1092.7L1138.9 1095.7L1143.4 1098.7L1148.0 1101.7L1152.5 1104.7L1157.1 1107.7L1161.7 1110.7L1166.2 1113.6L1170.8 1116.6L1175.4 1119.6L1179.9 1122.5L1184.5 1125.5L1189.1 1128.5L1193.6 1131.4L1198.2 1134.4L1202.8 1137.4L1207.4 1140.3L1211.9 1143.3L1216.5 1146.2L1221.1 1149.2L1225.7 1152.1L1230.2 1155.1L1234.8 1158.0L1239.4 1161.0L1244.0 1163.9L1248.6 1166.9L1253.1 1169.8L1257.7 1172.8L1262.3 1175.7L1266.9 1178.7L1271.5 1181.6L1276.1 1184.6L1280.6 1187.5L1285.2 1190.4L1289.8 1193.4L1294.4 1196.3L1299.0 1199.3L1303.6 1202.2L1308.1 1205.2L1312.7 1208.1L1317.3 1211.1L1321.9 1214.0L1326.5 1217.0L1331.0 1219.9L1335.6 1222.9L1340.2 1225.9L1344.8 1228.8L1349.3 1231.8L1353.9 1234.7L1358.5 1237.7L1363.0 1240.7L1367.6 1243.7L1372.2 1246.6L1376.7 1249.6L1381.3 1252.6L1385.8 1255.6L1390.4 1258.5L1395.0 1261.5L1399.5 1264.5L1404.1 1267.5L1408.6 1270.5L1413.2 1273.5L1417.7 1276.5L1422.2 1279.5L1426.8 1282.5L1431.3 1285.5L1435.8 1288.6L1440.4 1291.6L1444.9 1294.6L1449.4 1297.6L1453.9 1300.7L1458.5 1303.7L1463.0 1306.8L1467.5 1309.8L1472.0 1312.9L1476.5 1315.9L1481.0 1319.0L1485.5 1322.1L1490.0 1325.1L1494.5 1328.2L1499.0 1331.3L1503.5 1334.4L1507.9 1337.5L1512.4 1340.6L1516.9 1343.7L1521.3 1346.8L1525.8 1349.9L1530.3 1353.1L1534.7 1356.2L1539.2 1359.3L1543.6 1362.5L1548.0 1365.6L1552.5 1368.8L1556.9 1372.0L1561.3 1375.1L1565.7 1378.3L1570.2 1381.5L1574.6 1384.7L1579.0 1387.9L1583.4 1391.1L1587.8 1394.4L1592.1 1397.6L1596.5 1400.8L1600.9 1404.1" fill="none" stroke="#D95319" stroke-width="1.6"/>
<path d="M1061.2 1044.7L1065.2 1047.8L1069.3 1050.8L1073.3 1053.8L1077.3 1056.9L1081.4 1059.9L1085.4 1062.9L1089.4 1065.9L1093.5 1068.9L1097.5 1071.8L1101.5 1074.8L1105.5 1077.8L1109.6 1080.7L1113.6 1083.7L1117.6 1086.7L1121.6 1089.6L1125.6 1092.6L1129.7 1095.5L1133.7 1098.4L1137.7 1101.4L1141.7 1104.3L1145.7 1107.2L1149.7 1110.1L1153.7 1113.1L1157.7 1116.0L1161.7 1118.9L1165.7 1121.8L1169.7 1124.7L1173.7 1127.6L1177.7 1130.5L1181.7 1133.4L1185.7 1136.4L1189.7 1139.3L1193.7 1142.2L1197.7 1145.1L1201.7 1148.0L1205.6 1150.9L1209.6 1153.8L1213.6 1156.7L1217.6 1159.6L1221.6 1162.6L1225.5 1165.5L1229.5 1168.4L1233.5 1171.3L1237.5 1174.2L1241.4 1177.2L1245.4 1180.1L1249.4 1183.0L1253.3 1186.0L1257.3 1188.9L1261.3 1191.9L1265.2 1194.8L1269.2 1197.8L1273.1 1200.8L1277.1 1203.7L1281.0 1206.7L1285.0 1209.7L1288.9 1212.7L1292.9 1215.7L1296.8 1218.7L1300.8 1221.7L1304.7 1224.7L1308.7 1227.8L1312.6 1230.8L1316.5 1233.9L1320.5 1236.9L1324.4 1240.0L1328.4 1243.1L1332.3 1246.1L1336.2 1249.2L1340.1 1252.3L1344.1 1255.4L1348.0 1258.5L1351.9 1261.6L1355.8 1264.8L1359.8 1267.9L1363.7 1271.0L1367.6 1274.1L1371.5 1277.3L1375.4 1280.4L1379.3 1283.5L1383.2 1286.7L1387.2 1289.8L1391.1 1292.9L1395.0 1296.1L1398.9 1299.2L1402.8 1302.3L1406.7 1305.4L1410.6 1308.6L1414.5 1311.7L1418.4 1314.8L1422.2 1317.9L1426.1 1321.0L1430.0 1324.1L1433.9 1327.2L1437.8 1330.3L1441.7 1333.4L1445.6 1336.5L1449.4 1339.6L1453.3 1342.6L1457.2 1345.7L1461.1 1348.8L1465.0 1351.9L1468.8 1354.9L1472.7 1358.0L1476.6 1361.1L1480.4 1364.1L1484.3 1367.2L1488.2 1370.3L1492.0 1373.3L1495.9 1376.4L1499.7 1379.5L1503.6 1382.6L1507.4 1385.6L1511.3 1388.7L1515.1 1391.8L1519.0 1394.9L1522.8 1398.0L1526.7 1401.1L1530.5 1404.2" fill="none" stroke="#D95319" stroke-width="1.6"/>
<path d="M984.7 968.2L990.5 970.9L996.3 973.6L1002.1 976.3L1007.8 979.1L1013.6 981.8L1019.3 984.6L1025.0 987.4L1030.7 990.2L1036.5 993.0L1042.2 995.8L1047.8 998.7L1053.5 1001.5L1059.2 1004.4L1064.9 1007.3L1070.5 1010.2L1076.2 1013.1L1081.8 1016.0L1087.5 1018.9L1093.1 1021.8L1098.7 1024.7L1104.4 1027.7L1110.0 1030.6L1115.6 1033.6L1121.2 1036.5L1126.8 1039.5L1132.4 1042.5L1138.0 1045.5L1143.6 1048.4L1149.2 1051.4L1154.8 1054.4L1160.4 1057.4L1165.9 1060.4L1171.5 1063.4L1177.1 1066.4L1182.7 1069.4L1188.2 1072.4L1193.8 1075.4L1199.4 1078.4L1205.0 1081.5L1210.6 1084.5L1216.1 1087.5L1221.7 1090.5L1227.3 1093.5L1232.9 1096.5L1238.4 1099.5L1244.0 1102.5L1249.6 1105.5L1255.2 1108.4L1260.8 1111.4L1266.4 1114.4L1272.0 1117.4L1277.6 1120.3L1283.2 1123.3L1288.8 1126.3L1294.4 1129.2L1300.0 1132.1L1305.7 1135.1L1311.3 1138.0L1316.9 1140.9L1322.6 1143.8L1328.2 1146.7L1333.9 1149.6L1339.5 1152.5L1345.2 1155.3L1350.9 1158.2L1356.5 1161.0L1362.2 1163.9L1367.9 1166.7L1373.6 1169.5L1379.4 1172.3L1385.1 1175.0L1390.8 1177.8L1396.6 1180.5L1402.3 1183.3L1408.1 1186.0L1413.9 1188.7L1419.7 1191.4L1425.5 1194.0L1431.3 1196.6L1437.1 1199.2L1442.9 1201.8L1448.8 1204.3L1454.6 1206.8L1460.5 1209.3L1466.4 1211.7L1472.3 1214.0L1478.2 1216.3L1484.2 1218.5L1490.1 1220.7L1496.1 1222.8L1502.0 1224.8L1508.0 1226.8L1514.0 1228.7L1520.1 1230.5L1526.1 1232.2L1532.1 1233.9L1538.2 1235.5L1544.3 1237.0L1550.4 1238.4L1556.5 1239.8L1562.7 1241.1L1568.8 1242.3L1575.0 1243.5L1581.2 1244.6L1587.4 1245.6L1593.7 1246.6L1599.9 1247.4L1606.2 1248.3L1612.5 1249.0L1618.8 1249.7L1625.2 1250.3L1631.5 1250.9L1637.9 1251.4L1644.3 1251.9L1650.7 1252.3L1657.2 1252.6L1663.7 1252.9L1670.2 1253.1L1676.7 1253.3" fill="none" stroke="#EDB120" stroke-width="1.6"/>
<path d="M984.7 969.3L990.6 972.1L996.4 974.9L1002.3 977.7L1008.1 980.6L1014.0 983.5L1019.8 986.4L1025.6 989.4L1031.3 992.4L1037.1 995.4L1042.9 998.4L1048.6 1001.5L1054.3 1004.6L1060.0 1007.7L1065.7 1010.8L1071.4 1014.0L1077.1 1017.1L1082.8 1020.3L1088.4 1023.5L1094.1 1026.7L1099.7 1030.0L1105.3 1033.2L1110.9 1036.5L1116.5 1039.8L1122.1 1043.1L1127.7 1046.4L1133.3 1049.7L1138.9 1053.0L1144.5 1056.3L1150.0 1059.7L1155.6 1063.0L1161.1 1066.4L1166.7 1069.7L1172.2 1073.1L1177.8 1076.4L1183.3 1079.8L1188.9 1083.2L1194.4 1086.5L1199.9 1089.9L1205.4 1093.2L1211.0 1096.6L1216.5 1100.0L1222.0 1103.3L1227.5 1106.7L1233.1 1110.0L1238.6 1113.3L1244.1 1116.7L1249.6 1120.0L1255.2 1123.4L1260.7 1126.7L1266.2 1130.0L1271.8 1133.3L1277.3 1136.7L1282.8 1140.0L1288.4 1143.3L1293.9 1146.6L1299.5 1149.9L1305.0 1153.2L1310.6 1156.5L1316.2 1159.7L1321.7 1163.0L1327.3 1166.3L1332.9 1169.5L1338.5 1172.8L1344.1 1176.0L1349.7 1179.3L1355.4 1182.5L1361.0 1185.7L1366.6 1189.0L1372.3 1192.2L1377.9 1195.4L1383.6 1198.6L1389.3 1201.7L1395.0 1204.9L1400.7 1208.1L1406.4 1211.2L1412.2 1214.4L1417.9 1217.5L1423.7 1220.6L1429.4 1223.7L1435.2 1226.8L1441.0 1229.8L1446.8 1232.8L1452.7 1235.8L1458.5 1238.7L1464.4 1241.5L1470.3 1244.3L1476.2 1247.1L1482.1 1249.8L1488.0 1252.4L1494.0 1255.0L1499.9 1257.5L1505.9 1259.9L1511.9 1262.3L1518.0 1264.6L1524.0 1266.8L1530.1 1269.0L1536.2 1271.0L1542.3 1273.0L1548.4 1274.9L1554.6 1276.7L1560.8 1278.4L1567.0 1280.1L1573.2 1281.6L1579.5 1283.1L1585.7 1284.4L1592.0 1285.7L1598.4 1286.8L1604.7 1287.9L1611.1 1288.9L1617.5 1289.7L1623.9 1290.5L1630.4 1291.1L1636.9 1291.7L1643.4 1292.1L1649.9 1292.4L1656.5 1292.6L1663.1 1292.7L1669.7 1292.6L1676.4 1292.5" fill="none" stroke="#EDB120" stroke-width="1.6"/>
<path d="M943.9 943.4L947.5 944.0L951.1 944.6L954.6 945.3L958.2 946.1L961.8 946.9L965.4 947.8L968.9 948.8L972.5 949.8L976.1 950.9L979.7 952.0L983.2 953.2L986.8 954.5L990.4 955.8L994.0 957.1L997.6 958.5L1001.1 960.0L1004.7 961.4L1008.3 962.9L1011.9 964.5L1015.5 966.0L1019.1 967.6L1022.7 969.2L1026.3 970.9L1029.9 972.5L1033.5 974.2L1037.1 975.9L1040.7 977.6L1044.3 979.2L1047.9 981.0L1051.5 982.7L1055.2 984.4L1058.8 986.1L1062.4 987.8L1066.0 989.4L1069.7 991.1L1073.3 992.8L1077.0 994.4L1080.6 996.0L1084.2 997.6L1087.9 999.2L1091.6 1000.8L1095.2 1002.3L1098.9 1003.8L1102.6 1005.2L1106.2 1006.6L1109.9 1008.0L1113.6 1009.3L1117.3 1010.6L1121.0 1011.8L1124.7 1013.0L1128.4 1014.1L1132.1 1015.2L1135.8 1016.2L1139.5 1017.2L1143.2 1018.1L1146.9 1019.0L1150.7 1019.8L1154.4 1020.6L1158.1 1021.3L1161.9 1021.9L1165.6 1022.6L1169.3 1023.1L1173.1 1023.6L1176.8 1024.1L1180.6 1024.5L1184.3 1024.8L1188.1 1025.1L1191.8 1025.4L1195.6 1025.5L1199.3 1025.7L1203.1 1025.8L1206.9 1025.8L1210.6 1025.7L1214.4 1025.7L1218.1 1025.5L1221.9 1025.3L1225.7 1025.1L1229.4 1024.7L1233.2 1024.4L1236.9 1024.0L1240.7 1023.5L1244.5 1022.9L1248.2 1022.3L1252.0 1021.7L1255.7 1021.0L1259.5 1020.2L1263.2 1019.4L1267.0 1018.5L1270.7 1017.6L1274.5 1016.6L1278.2 1015.6L1282.0 1014.5L1285.7 1013.4L1289.5 1012.2L1293.2 1011.0L1296.9 1009.8L1300.7 1008.5L1304.4 1007.2L1308.1 1005.9L1311.8 1004.5L1315.5 1003.1L1319.2 1001.7L1322.9 1000.3L1326.6 998.8L1330.3 997.3L1334.0 995.8L1337.7 994.3L1341.4 992.8L1345.1 991.3L1348.8 989.8L1352.4 988.2L1356.1 986.7L1359.7 985.1L1363.4 983.6L1367.0 982.0L1370.7 980.5L1374.3 979.0L1377.9 977.4L1381.5 975.9" fill="none" stroke="#7E2F8E" stroke-width="1.6"/>
<path d="M943.4 944.4L947.2 945.1L950.9 945.9L954.6 946.8L958.3 947.7L962.0 948.7L965.7 949.7L969.4 950.8L973.1 952.0L976.8 953.1L980.5 954.3L984.1 955.6L987.8 956.9L991.5 958.3L995.1 959.6L998.8 961.1L1002.4 962.5L1006.1 964.0L1009.7 965.5L1013.4 967.0L1017.0 968.6L1020.7 970.2L1024.3 971.8L1027.9 973.5L1031.6 975.1L1035.2 976.8L1038.8 978.5L1042.5 980.2L1046.1 981.9L1049.7 983.7L1053.4 985.4L1057.0 987.1L1060.6 988.9L1064.3 990.7L1067.9 992.4L1071.5 994.2L1075.1 995.9L1078.8 997.7L1082.4 999.5L1086.1 1001.2L1089.7 1003.0L1093.3 1004.7L1097.0 1006.5L1100.6 1008.2L1104.3 1009.9L1107.9 1011.7L1111.6 1013.4L1115.3 1015.2L1118.9 1016.9L1122.6 1018.7L1126.3 1020.4L1130.0 1022.1L1133.6 1023.8L1137.3 1025.4L1141.0 1027.0L1144.7 1028.6L1148.4 1030.1L1152.1 1031.6L1155.9 1033.0L1159.6 1034.3L1163.3 1035.6L1167.1 1036.8L1170.8 1037.9L1174.5 1039.0L1178.3 1039.9L1182.0 1040.8L1185.8 1041.6L1189.6 1042.3L1193.3 1042.8L1197.1 1043.3L1200.9 1043.6L1204.6 1043.9L1208.4 1044.0L1212.2 1044.0L1216.0 1043.8L1219.7 1043.5L1223.5 1043.2L1227.3 1042.6L1231.1 1042.0L1234.8 1041.3L1238.6 1040.5L1242.4 1039.6L1246.2 1038.5L1249.9 1037.5L1253.7 1036.3L1257.4 1035.0L1261.2 1033.7L1265.0 1032.3L1268.7 1030.8L1272.5 1029.3L1276.2 1027.8L1279.9 1026.2L1283.7 1024.5L1287.4 1022.8L1291.1 1021.1L1294.8 1019.3L1298.5 1017.6L1302.2 1015.8L1305.9 1014.0L1309.6 1012.1L1313.2 1010.3L1316.9 1008.5L1320.6 1006.6L1324.2 1004.8L1327.8 1003.0L1331.5 1001.1L1335.1 999.3L1338.7 997.5L1342.3 995.7L1345.9 993.9L1349.4 992.2L1353.0 990.5L1356.5 988.7L1360.1 987.1L1363.6 985.4L1367.1 983.8L1370.6 982.2L1374.1 980.7L1377.5 979.2L1381.0 977.8" fill="none" stroke="#7E2F8E" stroke-width="1.6"/>
<path d="M935.8 929.5L937.4 930.2L939.1 930.8L940.7 931.5L942.3 932.2L944.0 932.9L945.6 933.6L947.2 934.3L948.9 935.0L950.5 935.7L952.1 936.4L953.8 937.1L955.4 937.8L957.1 938.5L958.7 939.2L960.4 940.0L962.0 940.7L963.7 941.4L965.4 942.1L967.0 942.8L968.7 943.5L970.3 944.2L972.0 944.9L973.7 945.5L975.3 946.2L977.0 946.9L978.7 947.5L980.4 948.2L982.0 948.8L983.7 949.4L985.4 950.1L987.0 950.7L988.7 951.3L990.4 951.8L992.1 952.4L993.7 952.9L995.4 953.5L997.1 954.0L998.7 954.5L1000.4 955.0L1002.1 955.4L1003.8 955.9L1005.4 956.3L1007.1 956.7L1008.8 957.1L1010.5 957.5L1012.1 957.8L1013.8 958.1L1015.5 958.4L1017.1 958.7L1018.8 958.9L1020.5 959.2L1022.1 959.4L1023.8 959.5L1025.4 959.7L1027.1 959.8L1028.8 959.9L1030.4 959.9L1032.1 959.9L1033.7 959.9L1035.4 959.9L1037.0 959.8L1038.7 959.7L1040.3 959.5L1042.0 959.4L1043.6 959.1L1045.2 958.9L1046.9 958.6L1048.5 958.3L1050.1 957.9L1051.8 957.5L1053.4 957.1L1055.0 956.6L1056.6 956.0L1058.2 955.5L1059.8 954.9L1061.5 954.2L1063.1 953.6L1064.7 952.8L1066.3 952.1L1067.9 951.3L1069.4 950.5L1071.0 949.7L1072.6 948.8L1074.2 947.9L1075.8 947.0L1077.3 946.1L1078.9 945.2L1080.5 944.2L1082.0 943.2L1083.6 942.2L1085.1 941.2L1086.7 940.2L1088.2 939.2L1089.8 938.2L1091.3 937.2L1092.8 936.1L1094.3 935.1L1095.8 934.0L1097.4 933.0L1098.9 932.0L1100.4 930.9L1101.9 929.9L1103.3 928.9L1104.8 927.9L1106.3 926.9L1107.8 925.9L1109.2 925.0L1110.7 924.0L1112.2 923.1L1113.6 922.2L1115.0 921.3L1116.5 920.4L1117.9 919.6L1119.3 918.8L1120.7 918.0L1122.2 917.2L1123.6 916.5L1124.9 915.8L1126.3 915.2" fill="none" stroke="#77AC30" stroke-width="1.6"/>
<path d="M936.0 930.4L937.6 931.1L939.1 931.8L940.7 932.5L942.3 933.2L943.9 933.9L945.5 934.7L947.1 935.4L948.7 936.1L950.3 936.8L951.9 937.6L953.5 938.3L955.1 939.1L956.7 939.8L958.4 940.6L960.0 941.3L961.6 942.0L963.3 942.8L964.9 943.5L966.5 944.3L968.2 945.0L969.8 945.7L971.5 946.5L973.1 947.2L974.8 947.9L976.4 948.6L978.1 949.3L979.7 950.0L981.4 950.7L983.1 951.3L984.7 952.0L986.4 952.6L988.1 953.3L989.7 953.9L991.4 954.5L993.1 955.1L994.7 955.7L996.4 956.2L998.1 956.8L999.8 957.3L1001.4 957.8L1003.1 958.3L1004.8 958.8L1006.4 959.3L1008.1 959.7L1009.8 960.1L1011.5 960.5L1013.1 960.9L1014.8 961.2L1016.5 961.6L1018.1 961.8L1019.8 962.1L1021.5 962.4L1023.1 962.6L1024.8 962.8L1026.5 962.9L1028.1 963.1L1029.8 963.2L1031.5 963.2L1033.1 963.3L1034.8 963.3L1036.4 963.3L1038.1 963.2L1039.7 963.1L1041.4 963.0L1043.0 962.8L1044.7 962.6L1046.3 962.4L1047.9 962.1L1049.6 961.8L1051.2 961.5L1052.8 961.1L1054.4 960.7L1056.1 960.2L1057.7 959.7L1059.3 959.1L1060.9 958.5L1062.5 957.9L1064.1 957.2L1065.7 956.5L1067.3 955.8L1068.9 955.0L1070.4 954.3L1072.0 953.4L1073.6 952.6L1075.1 951.7L1076.7 950.8L1078.3 949.9L1079.8 948.9L1081.4 948.0L1082.9 947.0L1084.4 946.0L1086.0 945.0L1087.5 944.0L1089.0 942.9L1090.5 941.9L1092.0 940.8L1093.5 939.7L1095.0 938.7L1096.5 937.6L1097.9 936.5L1099.4 935.4L1100.9 934.4L1102.3 933.3L1103.8 932.2L1105.2 931.1L1106.6 930.1L1108.1 929.0L1109.5 927.9L1110.9 926.9L1112.3 925.9L1113.7 924.9L1115.1 923.9L1116.5 922.9L1117.8 921.9L1119.2 921.0L1120.5 920.0L1121.9 919.1L1123.2 918.2L1124.5 917.4" fill="none" stroke="#77AC30" stroke-width="1.6"/>
<g fill="none" stroke="#3a86c4" stroke-width="1.3"><circle cx="1089.0" cy="1157.0" r="5.8"/><circle cx="1111.0" cy="1179.0" r="5.8"/><circle cx="1254.0" cy="1307.4" r="5.8"/><circle cx="1306.6" cy="1358.0" r="5.8"/></g>
<g fill="none" stroke="#dc6a3e" stroke-width="1.3"><circle cx="1026.3" cy="1019.4" r="5.8"/><circle cx="1036.6" cy="1028.0" r="5.8"/><circle cx="1061.7" cy="1044.6" r="5.8"/><circle cx="1084.3" cy="1064.8" r="5.8"/><circle cx="1107.7" cy="1082.6" r="5.8"/><circle cx="1126.5" cy="1087.2" r="5.8"/><circle cx="1168.9" cy="1129.7" r="5.8"/><circle cx="1222.9" cy="1150.3" r="5.8"/><circle cx="1266.6" cy="1178.6" r="5.8"/><circle cx="1257.1" cy="1195.7" r="5.8"/><circle cx="1378.9" cy="1286.6" r="5.8"/><circle cx="1422.6" cy="1283.2" r="5.8"/></g>
<g fill="none" stroke="#efbf4a" stroke-width="1.3"><circle cx="969.4" cy="958.0" r="5.8"/><circle cx="982.0" cy="964.1" r="5.8"/><circle cx="997.3" cy="976.8" r="5.8"/><circle cx="1018.6" cy="988.2" r="5.8"/><circle cx="1035.5" cy="997.2" r="5.8"/><circle cx="1048.2" cy="1002.3" r="5.8"/><circle cx="1068.5" cy="1015.0" r="5.8"/><circle cx="1086.3" cy="1025.2" r="5.8"/><circle cx="1096.5" cy="1025.2" r="5.8"/><circle cx="1124.5" cy="1048.0" r="5.8"/><circle cx="1166.3" cy="1062.9" r="5.8"/><circle cx="1166.3" cy="1072.3" r="5.8"/><circle cx="1252.9" cy="1124.6" r="5.8"/><circle cx="1290.6" cy="1128.0" r="5.8"/><circle cx="1365.2" cy="1166.6" r="5.8"/><circle cx="1354.0" cy="1181.1" r="5.8"/><circle cx="1516.9" cy="1221.9" r="5.8"/><circle cx="1639.8" cy="1244.5" r="5.8"/><circle cx="1546.4" cy="1262.4" r="5.8"/><circle cx="1639.8" cy="1278.2" r="5.8"/></g>
<g fill="none" stroke="#8f4f9c" stroke-width="1.3"><circle cx="945.0" cy="940.0" r="5.8"/><circle cx="950.0" cy="942.0" r="5.8"/><circle cx="956.0" cy="945.0" r="5.8"/><circle cx="969.2" cy="954.4" r="5.8"/><circle cx="979.3" cy="957.1" r="5.8"/><circle cx="993.0" cy="963.5" r="5.8"/><circle cx="1014.9" cy="974.5" r="5.8"/><circle cx="1046.0" cy="977.2" r="5.8"/><circle cx="1047.8" cy="988.2" r="5.8"/><circle cx="1095.9" cy="1011.4" r="5.8"/><circle cx="1112.8" cy="1007.8" r="5.8"/><circle cx="1133.1" cy="1018.5" r="5.8"/><circle cx="1134.9" cy="1021.1" r="5.8"/><circle cx="1176.5" cy="1030.9" r="5.8"/><circle cx="1197.8" cy="1026.4" r="5.8"/><circle cx="1245.6" cy="1021.1" r="5.8"/><circle cx="1242.1" cy="1029.1" r="5.8"/><circle cx="1260.7" cy="1020.2" r="5.8"/><circle cx="1260.7" cy="1025.5" r="5.8"/><circle cx="1310.3" cy="1005.2" r="5.8"/><circle cx="1323.6" cy="1002.5" r="5.8"/><circle cx="1333.3" cy="993.7" r="5.8"/><circle cx="1348.4" cy="991.9" r="5.8"/><circle cx="1364.3" cy="986.6" r="5.8"/><circle cx="1367.0" cy="983.0" r="5.8"/><circle cx="1372.0" cy="980.0" r="5.8"/><circle cx="1375.0" cy="979.0" r="5.8"/><circle cx="1377.6" cy="977.7" r="5.8"/><circle cx="1379.0" cy="979.0" r="5.8"/><circle cx="1381.1" cy="976.8" r="5.8"/></g>
<g fill="none" stroke="#8ab856" stroke-width="1.3"><circle cx="940.0" cy="928.5" r="5.8"/><circle cx="942.0" cy="929.5" r="5.8"/><circle cx="944.0" cy="930.0" r="5.8"/><circle cx="946.0" cy="930.6" r="5.8"/><circle cx="948.0" cy="931.5" r="5.8"/><circle cx="950.0" cy="932.0" r="5.8"/><circle cx="953.0" cy="933.0" r="5.8"/><circle cx="951.9" cy="932.4" r="5.8"/><circle cx="956.0" cy="934.0" r="5.8"/><circle cx="961.0" cy="935.2" r="5.8"/><circle cx="970.1" cy="937.9" r="5.8"/><circle cx="978.4" cy="940.6" r="5.8"/><circle cx="987.5" cy="943.4" r="5.8"/><circle cx="996.6" cy="948.0" r="5.8"/><circle cx="1005.8" cy="951.6" r="5.8"/><circle cx="1016.8" cy="953.4" r="5.8"/><circle cx="1028.6" cy="954.4" r="5.8"/><circle cx="1036.9" cy="953.4" r="5.8"/><circle cx="1046.9" cy="951.6" r="5.8"/><circle cx="1057.0" cy="948.0" r="5.8"/><circle cx="1066.1" cy="945.2" r="5.8"/><circle cx="1077.1" cy="940.6" r="5.8"/><circle cx="1084.4" cy="933.3" r="5.8"/><circle cx="1093.0" cy="928.0" r="5.8"/><circle cx="1101.0" cy="924.0" r="5.8"/><circle cx="1108.0" cy="921.0" r="5.8"/><circle cx="1115.0" cy="918.0" r="5.8"/><circle cx="1120.0" cy="916.0" r="5.8"/><circle cx="1124.0" cy="914.0" r="5.8"/><circle cx="1126.0" cy="913.0" r="5.8"/><circle cx="1127.0" cy="913.5" r="5.8"/><circle cx="1125.0" cy="914.5" r="5.8"/><circle cx="1020.4" cy="961.7" r="5.8"/><circle cx="1029.5" cy="963.5" r="5.8"/><circle cx="1043.3" cy="962.6" r="5.8"/><circle cx="1055.1" cy="959.8" r="5.8"/><circle cx="1066.1" cy="956.2" r="5.8"/><circle cx="1079.8" cy="948.9" r="5.8"/></g>
</g>
<path d="M929.2 736.0L929.2 1404.6L1676.8 1404.6" fill="none" stroke="#262626" stroke-width="1.8"/>
<path d="M1043.6 1404.6L1043.6 1397.1M1158.0 1404.6L1158.0 1397.1M1272.4 1404.6L1272.4 1397.1M1386.8 1404.6L1386.8 1397.1M1501.2 1404.6L1501.2 1397.1M1615.6 1404.6L1615.6 1397.1M929.2 825.4L936.7 825.4M1670.6 825.4L1677.5 825.4M929.2 929.0L936.7 929.0M1670.6 929.0L1677.5 929.0M929.2 1032.6L936.7 1032.6M1670.6 1032.6L1677.5 1032.6M929.2 1136.2L936.7 1136.2M1670.6 1136.2L1677.5 1136.2M929.2 1239.8L936.7 1239.8M1670.6 1239.8L1677.5 1239.8M929.2 1343.4L936.7 1343.4M1670.6 1343.4L1677.5 1343.4" stroke="#262626" stroke-width="1.8" fill="none"/>
<path d="M1043.6 735L1043.6 738M1158.0 735L1158.0 738M1272.4 735L1272.4 738M1386.8 735L1386.8 738M1501.2 735L1501.2 738M1615.6 735L1615.6 738" stroke="#bbb" stroke-width="1.5" fill="none"/>
<text x="926.7" y="1433.6" font-size="19.0" text-anchor="middle" fill="#262626">0</text>
<text x="1041.1" y="1433.6" font-size="19.0" text-anchor="middle" fill="#262626">0.05</text>
<text x="1155.5" y="1433.6" font-size="19.0" text-anchor="middle" fill="#262626">0.1</text>
<text x="1269.9" y="1433.6" font-size="19.0" text-anchor="middle" fill="#262626">0.15</text>
<text x="1384.3" y="1433.6" font-size="19.0" text-anchor="middle" fill="#262626">0.2</text>
<text x="1498.7" y="1433.6" font-size="19.0" text-anchor="middle" fill="#262626">0.25</text>
<text x="1613.1" y="1433.6" font-size="19.0" text-anchor="middle" fill="#262626">0.3</text>
<text x="917.2" y="832.2" font-size="19.0" text-anchor="end" fill="#262626">0.1</text>
<text x="917.2" y="935.8" font-size="19.0" text-anchor="end" fill="#262626">0</text>
<text x="917.2" y="1039.4" font-size="19.0" text-anchor="end" fill="#262626">-0.1</text>
<text x="917.2" y="1143.0" font-size="19.0" text-anchor="end" fill="#262626">-0.2</text>
<text x="917.2" y="1246.6" font-size="19.0" text-anchor="end" fill="#262626">-0.3</text>
<text x="917.2" y="1350.2" font-size="19.0" text-anchor="end" fill="#262626">-0.4</text>
</svg></body></html>
